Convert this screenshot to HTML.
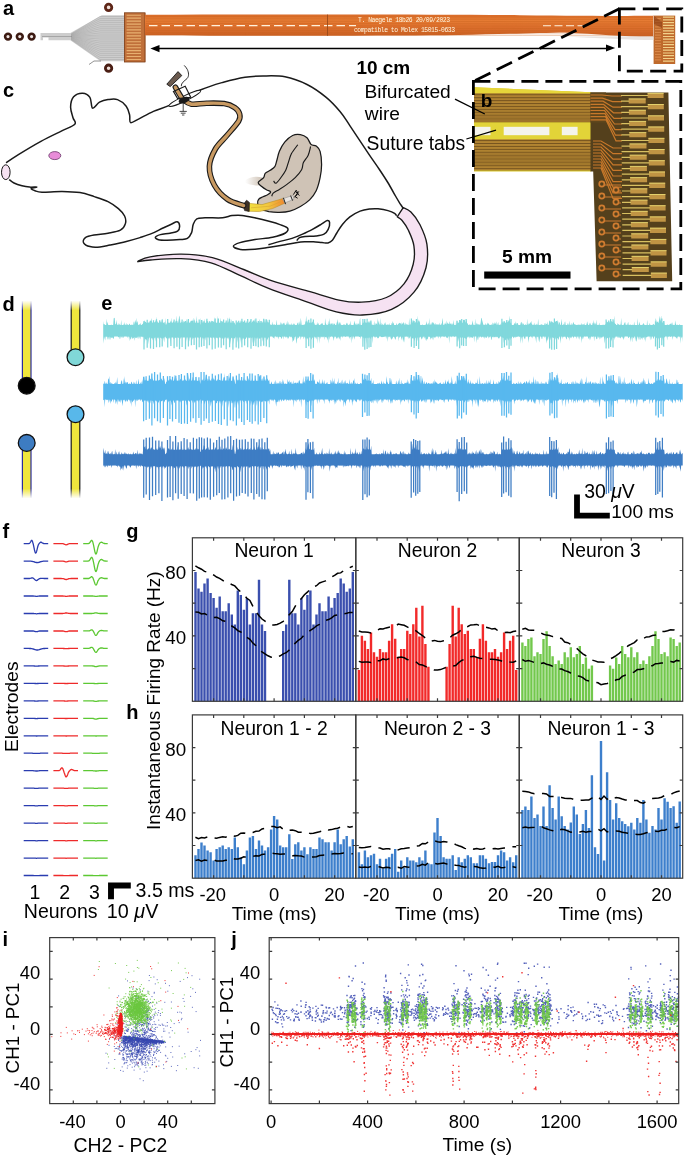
<!DOCTYPE html>
<html><head><meta charset="utf-8"><title>Figure</title>
<style>html,body{margin:0;padding:0;background:#fff;width:685px;height:1157px;overflow:hidden}svg{display:block}</style>
</head><body>
<svg width="685" height="1157" viewBox="0 0 685 1157" font-family='"Liberation Sans", Arial, Helvetica, sans-serif'>
<path d="M194.3 572h2.4V701.3h-2.4ZM197.3 588.5h2.4V701.3h-2.4ZM200.3 591.8h2.4V701.3h-2.4ZM203.3 583.4h2.4V701.3h-2.4ZM206.4 578.5h2.4V701.3h-2.4ZM209.4 592.9h2.4V701.3h-2.4ZM212.4 598h2.4V701.3h-2.4ZM215.4 607.8h2.4V701.3h-2.4ZM218.5 596.5h2.4V701.3h-2.4ZM221.5 611.2h2.4V701.3h-2.4ZM224.5 611.2h2.4V701.3h-2.4ZM227.5 603.2h2.4V701.3h-2.4ZM230.6 614.6h2.4V701.3h-2.4ZM233.6 624.6h2.4V701.3h-2.4ZM236.6 590.4h2.4V701.3h-2.4ZM239.6 594.9h2.4V701.3h-2.4ZM242.7 609.7h2.4V701.3h-2.4ZM245.7 598.3h2.4V701.3h-2.4ZM248.7 624.6h2.4V701.3h-2.4ZM251.7 613.2h2.4V701.3h-2.4ZM254.8 613.2h2.4V701.3h-2.4ZM257.8 579.8h2.4V701.3h-2.4ZM260.8 624.6h2.4V701.3h-2.4ZM263.8 631h2.4V701.3h-2.4ZM282 631h2.4V701.3h-2.4ZM285 624.6h2.4V701.3h-2.4ZM288.1 579.8h2.4V701.3h-2.4ZM291.1 613.2h2.4V701.3h-2.4ZM294.1 613.2h2.4V701.3h-2.4ZM297.1 624.6h2.4V701.3h-2.4ZM300.2 598.3h2.4V701.3h-2.4ZM303.2 609.7h2.4V701.3h-2.4ZM306.2 594.9h2.4V701.3h-2.4ZM309.2 590.4h2.4V701.3h-2.4ZM312.3 624.6h2.4V701.3h-2.4ZM315.3 614.6h2.4V701.3h-2.4ZM318.3 603.2h2.4V701.3h-2.4ZM321.3 611.2h2.4V701.3h-2.4ZM324.4 611.2h2.4V701.3h-2.4ZM327.4 596.5h2.4V701.3h-2.4ZM330.4 607.8h2.4V701.3h-2.4ZM333.4 598h2.4V701.3h-2.4ZM336.5 592.9h2.4V701.3h-2.4ZM339.5 578.5h2.4V701.3h-2.4ZM342.5 583.4h2.4V701.3h-2.4ZM345.5 591.8h2.4V701.3h-2.4ZM348.6 588.5h2.4V701.3h-2.4ZM351.6 572h2.4V701.3h-2.4Z" fill="#3a4fae"/>
<path d="M195.4 565.8 198.5 567.8 201.5 569.2 204.5 571.4 207.5 571.9 210.6 573.5 213.6 575 216.6 577 219.6 578.4 222.7 580.3 225.7 582.4 228.7 582.9 231.7 584.5 234.8 585.9 237.8 589.2 240.8 591.9 243.8 594.5 246.9 598.3 249.9 600.4 252.9 606.3 255.9 611.4 259 615.7 262 619 265 621.2 268 623.4 271.1 624.8 274.1 625 277.1 624.5 280.2 623.2 283.2 621.4 286.2 619.3 289.2 614.7 292.3 611.5 295.3 606.1 298.3 601.3 301.3 598.7 304.4 594.7 307.4 592.2 310.4 588.7 313.4 586.8 316.5 585.7 319.5 583 322.5 581.9 325.5 580.9 328.6 578.7 331.6 577 334.6 575.4 337.6 573.3 340.7 572.9 343.7 570.6 346.7 568.7 349.7 567.6 352.8 566.2" fill="none" stroke="#000" stroke-width="1.5" stroke-dasharray="12.5 7.5"/>
<path d="M195.4 612 198.5 612.3 201.5 614 204.5 613.5 207.5 615.2 210.6 615.7 213.6 617.5 216.6 617.2 219.6 618.6 222.7 620.8 225.7 621.3 228.7 624.4 231.7 626 234.8 627.9 237.8 630.6 240.8 632 243.8 633.3 246.9 637.4 249.9 639.4 252.9 643.1 255.9 645.7 259 649.8 262 651.9 265 653.8 268 655.8 271.1 657.3 274.1 656.5 277.1 657.3 280.2 655.8 283.2 653.9 286.2 652.7 289.2 650 292.3 646 295.3 643.1 298.3 640.3 301.3 638.3 304.4 634.7 307.4 632.5 310.4 630.3 313.4 628.5 316.5 625.9 319.5 624.4 322.5 622.2 325.5 620.4 328.6 619.6 331.6 617.9 334.6 615.5 337.6 615 340.7 615 343.7 613.9 346.7 613.2 349.7 612.4 352.8 612.5" fill="none" stroke="#000" stroke-width="1.5" stroke-dasharray="12.5 7.5"/>
<rect x="192.4" y="537.8" width="163.4" height="163.5" fill="none" stroke="#3a3a3a" stroke-width="1.2"/><path d="M192.4 668.6h3M355.8 668.6h-3M192.4 635.9h3M355.8 635.9h-3M192.4 603.2h3M355.8 603.2h-3M192.4 570.5h3M355.8 570.5h-3M213.6 537.8v3M213.6 701.3v-3M243.8 537.8v3M243.8 701.3v-3M274.1 537.8v3M274.1 701.3v-3M304.4 537.8v3M304.4 701.3v-3M334.6 537.8v3M334.6 701.3v-3" stroke="#3a3a3a" stroke-width="1.2" fill="none"/>
<text x="274.1" y="557.4" font-size="19.3" text-anchor="middle" fill="#000" >Neuron 1</text>
<path d="M357.7 669.9h2.4V701.3h-2.4ZM360.7 635.7h2.4V701.3h-2.4ZM363.7 640.8h2.4V701.3h-2.4ZM366.7 649.1h2.4V701.3h-2.4ZM369.8 632.6h2.4V701.3h-2.4ZM372.8 652.2h2.4V701.3h-2.4ZM375.8 656.8h2.4V701.3h-2.4ZM378.8 649.1h2.4V701.3h-2.4ZM381.9 652.2h2.4V701.3h-2.4ZM384.9 652.2h2.4V701.3h-2.4ZM387.9 640.8h2.4V701.3h-2.4ZM390.9 624.3h2.4V701.3h-2.4ZM394 638.8h2.4V701.3h-2.4ZM397 656.8h2.4V701.3h-2.4ZM400 649.1h2.4V701.3h-2.4ZM403 649.1h2.4V701.3h-2.4ZM406.1 630.8h2.4V701.3h-2.4ZM409.1 633.9h2.4V701.3h-2.4ZM412.1 624.3h2.4V701.3h-2.4ZM415.1 607.8h2.4V701.3h-2.4ZM418.2 636.4h2.4V701.3h-2.4ZM421.2 605.8h2.4V701.3h-2.4ZM424.2 643.9h2.4V701.3h-2.4ZM427.2 666.8h2.4V701.3h-2.4ZM445.4 666.8h2.4V701.3h-2.4ZM448.4 643.9h2.4V701.3h-2.4ZM451.5 605.8h2.4V701.3h-2.4ZM454.5 636.4h2.4V701.3h-2.4ZM457.5 607.8h2.4V701.3h-2.4ZM460.5 624.3h2.4V701.3h-2.4ZM463.6 633.9h2.4V701.3h-2.4ZM466.6 630.8h2.4V701.3h-2.4ZM469.6 649.1h2.4V701.3h-2.4ZM472.6 649.1h2.4V701.3h-2.4ZM475.7 656.8h2.4V701.3h-2.4ZM478.7 638.8h2.4V701.3h-2.4ZM481.7 624.3h2.4V701.3h-2.4ZM484.7 640.8h2.4V701.3h-2.4ZM487.8 652.2h2.4V701.3h-2.4ZM490.8 652.2h2.4V701.3h-2.4ZM493.8 649.1h2.4V701.3h-2.4ZM496.8 656.8h2.4V701.3h-2.4ZM499.9 652.2h2.4V701.3h-2.4ZM502.9 632.6h2.4V701.3h-2.4ZM505.9 649.1h2.4V701.3h-2.4ZM508.9 640.8h2.4V701.3h-2.4ZM512 635.7h2.4V701.3h-2.4ZM515 669.9h2.4V701.3h-2.4Z" fill="#f22a2a"/>
<path d="M358.8 631.1 361.9 631.9 364.9 632 367.9 632.3 370.9 632.9 374 631.6 377 630.4 380 628.8 383 629 386.1 627.9 389.1 627.2 392.1 626.9 395.1 626.4 398.2 624.1 401.2 624.7 404.2 625.3 407.2 626.9 410.3 628.5 413.3 628.9 416.3 631.1 419.3 633.5 422.4 635.5 425.4 638.1 428.4 640.3 431.4 641.1 434.5 640.4 437.5 641.2 440.5 641.6 443.6 640.7 446.6 640.2 449.6 638 452.6 635.2 455.7 633.8 458.7 632.1 461.7 629.5 464.7 627.6 467.8 626.5 470.8 624.9 473.8 624.7 476.8 624.4 479.9 625.7 482.9 627.2 485.9 627.2 488.9 627.9 492 629.1 495 628.6 498 630.8 501 631.5 504.1 632.6 507.1 632.2 510.1 632.7 513.1 631.5 516.2 630.9" fill="none" stroke="#000" stroke-width="1.5" stroke-dasharray="12.5 7.5"/>
<path d="M358.8 661.4 361.9 662.3 364.9 661.9 367.9 662 370.9 662.5 374 660 377 660.7 380 660.7 383 658.9 386.1 659.7 389.1 658.7 392.1 658.1 395.1 658.3 398.2 657.6 401.2 657.1 404.2 657.8 407.2 659.5 410.3 660.2 413.3 660.6 416.3 662.1 419.3 664.5 422.4 665 425.4 666.4 428.4 667.9 431.4 668.6 434.5 670.1 437.5 669.9 440.5 669.6 443.6 668.4 446.6 667.3 449.6 667 452.6 666.1 455.7 665.5 458.7 662.6 461.7 660.4 464.7 659.4 467.8 659 470.8 656.8 473.8 656.2 476.8 657.4 479.9 658.2 482.9 658.7 485.9 658.8 488.9 659.2 492 659.3 495 659.6 498 660 501 660.8 504.1 662 507.1 661.7 510.1 662.1 513.1 662.2 516.2 661" fill="none" stroke="#000" stroke-width="1.5" stroke-dasharray="12.5 7.5"/>
<rect x="355.8" y="537.8" width="163.4" height="163.5" fill="none" stroke="#3a3a3a" stroke-width="1.2"/><path d="M355.8 668.6h3M519.2 668.6h-3M355.8 635.9h3M519.2 635.9h-3M355.8 603.2h3M519.2 603.2h-3M355.8 570.5h3M519.2 570.5h-3M377 537.8v3M377 701.3v-3M407.2 537.8v3M407.2 701.3v-3M437.5 537.8v3M437.5 701.3v-3M467.8 537.8v3M467.8 701.3v-3M498 537.8v3M498 701.3v-3" stroke="#3a3a3a" stroke-width="1.2" fill="none"/>
<text x="437.5" y="557.4" font-size="19.3" text-anchor="middle" fill="#000" >Neuron 2</text>
<path d="M521.2 642.4h2.4V701.3h-2.4ZM524.2 645.9h2.4V701.3h-2.4ZM527.2 639h2.4V701.3h-2.4ZM530.2 637.4h2.4V701.3h-2.4ZM533.3 656.2h2.4V701.3h-2.4ZM536.3 652.2h2.4V701.3h-2.4ZM539.3 653.9h2.4V701.3h-2.4ZM542.3 639h2.4V701.3h-2.4ZM545.4 631.2h2.4V701.3h-2.4ZM548.4 645.9h2.4V701.3h-2.4ZM551.4 656.2h2.4V701.3h-2.4ZM554.4 663.9h2.4V701.3h-2.4ZM557.5 660.6h2.4V701.3h-2.4ZM560.5 663.9h2.4V701.3h-2.4ZM563.5 652.2h2.4V701.3h-2.4ZM566.5 657.2h2.4V701.3h-2.4ZM569.6 647.3h2.4V701.3h-2.4ZM572.6 657.2h2.4V701.3h-2.4ZM575.6 653.9h2.4V701.3h-2.4ZM578.6 645.9h2.4V701.3h-2.4ZM581.7 663.9h2.4V701.3h-2.4ZM584.7 657.6h2.4V701.3h-2.4ZM587.7 668.8h2.4V701.3h-2.4ZM590.7 665.5h2.4V701.3h-2.4ZM608.9 665.5h2.4V701.3h-2.4ZM611.9 668.8h2.4V701.3h-2.4ZM615 657.6h2.4V701.3h-2.4ZM618 663.9h2.4V701.3h-2.4ZM621 645.9h2.4V701.3h-2.4ZM624 653.9h2.4V701.3h-2.4ZM627.1 657.2h2.4V701.3h-2.4ZM630.1 647.3h2.4V701.3h-2.4ZM633.1 657.2h2.4V701.3h-2.4ZM636.1 652.2h2.4V701.3h-2.4ZM639.2 663.9h2.4V701.3h-2.4ZM642.2 660.6h2.4V701.3h-2.4ZM645.2 663.9h2.4V701.3h-2.4ZM648.2 656.2h2.4V701.3h-2.4ZM651.3 645.9h2.4V701.3h-2.4ZM654.3 631.2h2.4V701.3h-2.4ZM657.3 639h2.4V701.3h-2.4ZM660.3 653.9h2.4V701.3h-2.4ZM663.4 652.2h2.4V701.3h-2.4ZM666.4 656.2h2.4V701.3h-2.4ZM669.4 637.4h2.4V701.3h-2.4ZM672.4 639h2.4V701.3h-2.4ZM675.5 645.9h2.4V701.3h-2.4ZM678.5 642.4h2.4V701.3h-2.4Z" fill="#72c84c"/>
<path d="M522.3 629.3 525.4 628.4 528.4 630 531.4 630.2 534.4 630.3 537.5 631.7 540.5 632.7 543.5 634.2 546.5 635.1 549.6 635.6 552.6 636.6 555.6 636.2 558.6 638.2 561.7 638.5 564.7 642 567.7 642.7 570.7 644.4 573.8 646.8 576.8 648.4 579.8 651.2 582.8 653.9 585.9 655.7 588.9 656.7 591.9 660 594.9 660.9 598 661.9 601 662 604 662.3 607.1 661.2 610.1 659 613.1 657.5 616.1 655.6 619.2 653.3 622.2 650.6 625.2 648.6 628.2 645.7 631.3 644.2 634.3 642.6 637.3 639.9 640.3 640.5 643.4 638.4 646.4 636.9 649.4 636.7 652.4 635.6 655.5 635.1 658.5 634.4 661.5 631.6 664.5 631.4 667.6 630.8 670.6 629.7 673.6 630 676.6 628.9 679.7 628.9" fill="none" stroke="#000" stroke-width="1.5" stroke-dasharray="12.5 7.5"/>
<path d="M522.3 659.5 525.4 661.3 528.4 660.6 531.4 661.4 534.4 662.5 537.5 661.9 540.5 663.5 543.5 662.9 546.5 664.3 549.6 665 552.6 666.2 555.6 666.6 558.6 669 561.7 669.1 564.7 670.6 567.7 671.5 570.7 673 573.8 673.9 576.8 676 579.8 676.3 582.8 677.6 585.9 680.1 588.9 681 591.9 681.8 594.9 682.4 598 682.8 601 684.7 604 684.1 607.1 683.5 610.1 682.5 613.1 681.8 616.1 679.8 619.2 679.3 622.2 676.4 625.2 675.2 628.2 674.7 631.3 673.4 634.3 671.9 637.3 669.6 640.3 669.6 643.4 668.8 646.4 667.1 649.4 666 652.4 665.7 655.5 663.7 658.5 663.6 661.5 662.9 664.5 662.9 667.6 661.9 670.6 661.5 673.6 662.1 676.6 660.4 679.7 661.1" fill="none" stroke="#000" stroke-width="1.5" stroke-dasharray="12.5 7.5"/>
<rect x="519.3" y="537.8" width="163.4" height="163.5" fill="none" stroke="#3a3a3a" stroke-width="1.2"/><path d="M519.3 668.6h3M682.7 668.6h-3M519.3 635.9h3M682.7 635.9h-3M519.3 603.2h3M682.7 603.2h-3M519.3 570.5h3M682.7 570.5h-3M540.5 537.8v3M540.5 701.3v-3M570.7 537.8v3M570.7 701.3v-3M601 537.8v3M601 701.3v-3M631.3 537.8v3M631.3 701.3v-3M661.5 537.8v3M661.5 701.3v-3" stroke="#3a3a3a" stroke-width="1.2" fill="none"/>
<text x="601" y="557.4" font-size="19.3" text-anchor="middle" fill="#000" >Neuron 3</text>
<path d="M194.3 855.3h2.4V878.2h-2.4ZM197.3 849h2.4V878.2h-2.4ZM200.3 842.4h2.4V878.2h-2.4ZM203.3 845.5h2.4V878.2h-2.4ZM206.4 850.4h2.4V878.2h-2.4ZM209.4 852.2h2.4V878.2h-2.4ZM212.4 860.4h2.4V878.2h-2.4ZM215.4 849h2.4V878.2h-2.4ZM218.5 847.3h2.4V878.2h-2.4ZM221.5 845.5h2.4V878.2h-2.4ZM224.5 849h2.4V878.2h-2.4ZM227.5 847.3h2.4V878.2h-2.4ZM230.6 849h2.4V878.2h-2.4ZM233.6 837.4h2.4V878.2h-2.4ZM236.6 847.3h2.4V878.2h-2.4ZM239.6 857.3h2.4V878.2h-2.4ZM242.7 864.2h2.4V878.2h-2.4ZM245.7 850.4h2.4V878.2h-2.4ZM248.7 837.4h2.4V878.2h-2.4ZM251.7 836.1h2.4V878.2h-2.4ZM254.8 849h2.4V878.2h-2.4ZM257.8 840.5h2.4V878.2h-2.4ZM260.8 845.5h2.4V878.2h-2.4ZM263.8 850.4h2.4V878.2h-2.4ZM266.9 847.3h2.4V878.2h-2.4ZM269.9 829.4h2.4V878.2h-2.4ZM272.9 816h2.4V878.2h-2.4ZM276 819.4h2.4V878.2h-2.4ZM279 845.5h2.4V878.2h-2.4ZM282 847.3h2.4V878.2h-2.4ZM285 847.3h2.4V878.2h-2.4ZM288.1 834.3h2.4V878.2h-2.4ZM291.1 859.1h2.4V878.2h-2.4ZM294.1 844.2h2.4V878.2h-2.4ZM297.1 842.3h2.4V878.2h-2.4ZM300.2 850.4h2.4V878.2h-2.4ZM303.2 847.3h2.4V878.2h-2.4ZM306.2 854.2h2.4V878.2h-2.4ZM309.2 847.3h2.4V878.2h-2.4ZM312.3 849.1h2.4V878.2h-2.4ZM315.3 849.1h2.4V878.2h-2.4ZM318.3 837.4h2.4V878.2h-2.4ZM321.3 839.3h2.4V878.2h-2.4ZM324.4 842.3h2.4V878.2h-2.4ZM327.4 842.3h2.4V878.2h-2.4ZM330.4 850.4h2.4V878.2h-2.4ZM333.4 842.3h2.4V878.2h-2.4ZM336.5 829.4h2.4V878.2h-2.4ZM339.5 844.2h2.4V878.2h-2.4ZM342.5 839.3h2.4V878.2h-2.4ZM345.5 836.1h2.4V878.2h-2.4ZM348.6 846.4h2.4V878.2h-2.4ZM351.6 839.3h2.4V878.2h-2.4Z" fill="#3d7fcc"/>
<path d="M195.4 837.2 198.5 838.6 201.5 837.6 204.5 837.9 207.5 837 210.6 836.8 213.6 837.9 216.6 838.3 219.6 837.4 222.7 836.8 225.7 837.2 228.7 835.6 231.7 835.1 234.8 836.3 237.8 835.4 240.8 833.2 243.8 832.9 246.9 833.6 249.9 832.8 252.9 832.4 255.9 831.2 259 831.1 262 828.9 265 828.5 268 827 271.1 826.6 274.1 826.6 277.1 827.7 280.2 826.8 283.2 829.2 286.2 828.8 289.2 830.4 292.3 830 295.3 830.7 298.3 832.2 301.3 832.2 304.4 832.6 307.4 832.5 310.4 833.6 313.4 833.2 316.5 832.5 319.5 831.8 322.5 831 325.5 829.1 328.6 830.1 331.6 829.6 334.6 828.8 337.6 828.2 340.7 827.1 343.7 827.4 346.7 826.4 349.7 827.2 352.8 826.5" fill="none" stroke="#000" stroke-width="1.5" stroke-dasharray="12.5 7.5"/>
<path d="M195.4 860.4 198.5 859.7 201.5 861.1 204.5 860.1 207.5 860.6 210.6 860.3 213.6 859.8 216.6 861 219.6 861 222.7 860.9 225.7 860.3 228.7 860.1 231.7 858.2 234.8 859 237.8 859 240.8 858.2 243.8 856.8 246.9 857.3 249.9 857.2 252.9 856.4 255.9 855.7 259 856 262 854.4 265 854 268 853.5 271.1 852.9 274.1 853.5 277.1 853.8 280.2 854.2 283.2 853.9 286.2 854.2 289.2 854.7 292.3 855.8 295.3 855.4 298.3 855.8 301.3 856 304.4 857.1 307.4 857.3 310.4 857.2 313.4 856.9 316.5 856.7 319.5 855.6 322.5 855.2 325.5 855 328.6 853.9 331.6 853.9 334.6 853.5 337.6 853.8 340.7 853.6 343.7 853 346.7 853.4 349.7 853.5 352.8 853.8" fill="none" stroke="#000" stroke-width="1.5" stroke-dasharray="12.5 7.5"/>
<rect x="192.4" y="714.9" width="163.4" height="163.3" fill="none" stroke="#3a3a3a" stroke-width="1.2"/><path d="M192.4 845.5h3M355.8 845.5h-3M192.4 812.9h3M355.8 812.9h-3M192.4 780.2h3M355.8 780.2h-3M192.4 747.6h3M355.8 747.6h-3M213.6 714.9v3M213.6 878.2v-3M243.8 714.9v3M243.8 878.2v-3M274.1 714.9v3M274.1 878.2v-3M304.4 714.9v3M304.4 878.2v-3M334.6 714.9v3M334.6 878.2v-3" stroke="#3a3a3a" stroke-width="1.2" fill="none"/>
<text x="274.1" y="734.5" font-size="19.3" text-anchor="middle" fill="#000" >Neuron 1 - 2</text>
<path d="M357.7 852.2h2.4V878.2h-2.4ZM360.7 864.2h2.4V878.2h-2.4ZM363.7 850.4h2.4V878.2h-2.4ZM366.7 857.3h2.4V878.2h-2.4ZM369.8 855.3h2.4V878.2h-2.4ZM372.8 853.7h2.4V878.2h-2.4ZM375.8 864.2h2.4V878.2h-2.4ZM378.8 858.8h2.4V878.2h-2.4ZM381.9 868.4h2.4V878.2h-2.4ZM384.9 858.8h2.4V878.2h-2.4ZM387.9 857.3h2.4V878.2h-2.4ZM390.9 853.7h2.4V878.2h-2.4ZM394 849h2.4V878.2h-2.4ZM397 871.8h2.4V878.2h-2.4ZM400 860.4h2.4V878.2h-2.4ZM403 867.7h2.4V878.2h-2.4ZM406.1 857.3h2.4V878.2h-2.4ZM409.1 860.4h2.4V878.2h-2.4ZM412.1 860.4h2.4V878.2h-2.4ZM415.1 862.2h2.4V878.2h-2.4ZM418.2 857.3h2.4V878.2h-2.4ZM421.2 860.4h2.4V878.2h-2.4ZM424.2 850.4h2.4V878.2h-2.4ZM427.2 863.5h2.4V878.2h-2.4ZM430.3 864.2h2.4V878.2h-2.4ZM433.3 832.6h2.4V878.2h-2.4ZM436.3 818.1h2.4V878.2h-2.4ZM439.4 836.1h2.4V878.2h-2.4ZM442.4 857.3h2.4V878.2h-2.4ZM445.4 858.8h2.4V878.2h-2.4ZM448.4 858.8h2.4V878.2h-2.4ZM451.5 855.3h2.4V878.2h-2.4ZM454.5 870h2.4V878.2h-2.4ZM457.5 857.3h2.4V878.2h-2.4ZM460.5 862.2h2.4V878.2h-2.4ZM463.6 858.8h2.4V878.2h-2.4ZM466.6 855.3h2.4V878.2h-2.4ZM469.6 857.3h2.4V878.2h-2.4ZM472.6 863.3h2.4V878.2h-2.4ZM475.7 863.3h2.4V878.2h-2.4ZM478.7 855.3h2.4V878.2h-2.4ZM481.7 855.3h2.4V878.2h-2.4ZM484.7 858.8h2.4V878.2h-2.4ZM487.8 863.3h2.4V878.2h-2.4ZM490.8 861.9h2.4V878.2h-2.4ZM493.8 861.9h2.4V878.2h-2.4ZM496.8 855.3h2.4V878.2h-2.4ZM499.9 850.4h2.4V878.2h-2.4ZM502.9 852.2h2.4V878.2h-2.4ZM505.9 860.4h2.4V878.2h-2.4ZM508.9 857.3h2.4V878.2h-2.4ZM512 862.2h2.4V878.2h-2.4ZM515 855.3h2.4V878.2h-2.4Z" fill="#3d7fcc"/>
<path d="M358.8 847.4 361.9 847.8 364.9 847.6 367.9 846.9 370.9 846.6 374 848 377 847.7 380 848.1 383 849.3 386.1 848.8 389.1 848.8 392.1 849.7 395.1 851 398.2 849.9 401.2 848.8 404.2 848.4 407.2 847.9 410.3 847.6 413.3 846.1 416.3 846 419.3 845.7 422.4 843.5 425.4 843.8 428.4 841.9 431.4 840.5 434.5 840.9 437.5 841.7 440.5 842.2 443.6 841.6 446.6 842 449.6 842.3 452.6 842.6 455.7 844.6 458.7 845.8 461.7 846.8 464.7 848.4 467.8 848.9 470.8 847.7 473.8 849.1 476.8 848.6 479.9 849.2 482.9 848.9 485.9 847.9 488.9 848.2 492 848.9 495 848.6 498 848.9 501 848.4 504.1 848 507.1 847.7 510.1 847 513.1 846.8 516.2 846.8" fill="none" stroke="#000" stroke-width="1.5" stroke-dasharray="12.5 7.5"/>
<path d="M358.8 867 361.9 867.6 364.9 867 367.9 867.4 370.9 866.5 374 866.7 377 866.6 380 867.1 383 867.9 386.1 867.2 389.1 867.6 392.1 869.1 395.1 868.2 398.2 867.4 401.2 868.3 404.2 866.5 407.2 867.1 410.3 867.3 413.3 866 416.3 866.1 419.3 865.7 422.4 864.2 425.4 865.1 428.4 862.6 431.4 862.4 434.5 863.4 437.5 863.9 440.5 863.4 443.6 863.1 446.6 863.9 449.6 863.1 452.6 864.7 455.7 865.3 458.7 865.4 461.7 866.6 464.7 867.2 467.8 866.5 470.8 867 473.8 866.4 476.8 866.7 479.9 867.7 482.9 868.3 485.9 868 488.9 866.8 492 866.9 495 867.3 498 866.4 501 867.8 504.1 867.5 507.1 866.9 510.1 865.9 513.1 866.7 516.2 867.4" fill="none" stroke="#000" stroke-width="1.5" stroke-dasharray="12.5 7.5"/>
<rect x="355.8" y="714.9" width="163.4" height="163.3" fill="none" stroke="#3a3a3a" stroke-width="1.2"/><path d="M355.8 845.5h3M519.2 845.5h-3M355.8 812.9h3M519.2 812.9h-3M355.8 780.2h3M519.2 780.2h-3M355.8 747.6h3M519.2 747.6h-3M377 714.9v3M377 878.2v-3M407.2 714.9v3M407.2 878.2v-3M437.5 714.9v3M437.5 878.2v-3M467.8 714.9v3M467.8 878.2v-3M498 714.9v3M498 878.2v-3" stroke="#3a3a3a" stroke-width="1.2" fill="none"/>
<text x="437.5" y="734.5" font-size="19.3" text-anchor="middle" fill="#000" >Neuron 2 - 3</text>
<path d="M521.2 809.9h2.4V878.2h-2.4ZM524.2 806.5h2.4V878.2h-2.4ZM527.2 809.9h2.4V878.2h-2.4ZM530.2 796.5h2.4V878.2h-2.4ZM533.3 818.1h2.4V878.2h-2.4ZM536.3 814.5h2.4V878.2h-2.4ZM539.3 826.1h2.4V878.2h-2.4ZM542.3 806.5h2.4V878.2h-2.4ZM545.4 826.1h2.4V878.2h-2.4ZM548.4 785.3h2.4V878.2h-2.4ZM551.4 808h2.4V878.2h-2.4ZM554.4 819.4h2.4V878.2h-2.4ZM557.5 796.5h2.4V878.2h-2.4ZM560.5 816.3h2.4V878.2h-2.4ZM563.5 826.1h2.4V878.2h-2.4ZM566.5 829.4h2.4V878.2h-2.4ZM569.6 822.5h2.4V878.2h-2.4ZM572.6 806.5h2.4V878.2h-2.4ZM575.6 814.5h2.4V878.2h-2.4ZM578.6 834.1h2.4V878.2h-2.4ZM581.7 824.1h2.4V878.2h-2.4ZM584.7 809.9h2.4V878.2h-2.4ZM587.7 827.9h2.4V878.2h-2.4ZM590.7 775.3h2.4V878.2h-2.4ZM593.8 847.3h2.4V878.2h-2.4ZM596.8 853.9h2.4V878.2h-2.4ZM599.8 741h2.4V878.2h-2.4ZM602.9 860.4h2.4V878.2h-2.4ZM605.9 772.2h2.4V878.2h-2.4ZM608.9 800.1h2.4V878.2h-2.4ZM611.9 819.4h2.4V878.2h-2.4ZM615 803.2h2.4V878.2h-2.4ZM618 818.1h2.4V878.2h-2.4ZM621 821.2h2.4V878.2h-2.4ZM624 824.1h2.4V878.2h-2.4ZM627.1 826.3h2.4V878.2h-2.4ZM630.1 822.7h2.4V878.2h-2.4ZM633.1 829.4h2.4V878.2h-2.4ZM636.1 818.1h2.4V878.2h-2.4ZM639.2 822.7h2.4V878.2h-2.4ZM642.2 800.1h2.4V878.2h-2.4ZM645.2 819.4h2.4V878.2h-2.4ZM648.2 832.8h2.4V878.2h-2.4ZM651.3 825.9h2.4V878.2h-2.4ZM654.3 829.4h2.4V878.2h-2.4ZM657.3 808h2.4V878.2h-2.4ZM660.3 819.4h2.4V878.2h-2.4ZM663.4 798.3h2.4V878.2h-2.4ZM666.4 801.8h2.4V878.2h-2.4ZM669.4 808h2.4V878.2h-2.4ZM672.4 806.2h2.4V878.2h-2.4ZM675.5 822.7h2.4V878.2h-2.4ZM678.5 801.4h2.4V878.2h-2.4Z" fill="#3d7fcc"/>
<path d="M522.3 791.2 525.4 791.5 528.4 791.9 531.4 793 534.4 793.7 537.5 793.6 540.5 793.7 543.5 793.4 546.5 794 549.6 796.4 552.6 796.6 555.6 796.6 558.6 797.3 561.7 797.6 564.7 798.2 567.7 798.6 570.7 798.4 573.8 799.4 576.8 800.2 579.8 800.4 582.8 800.2 585.9 800 588.9 800 591.9 798.1 594.9 796.1 598 797.2 601 799.4 604 796.1 607.1 799.3 610.1 797.3 613.1 798.7 616.1 797.6 619.2 798 622.2 799 625.2 799.9 628.2 799.9 631.3 801.1 634.3 800.6 637.3 800.6 640.3 802.6 643.4 803.2 646.4 801.2 649.4 799.5 652.4 798.6 655.5 798.2 658.5 797.9 661.5 797.2 664.5 795.6 667.6 794.6 670.6 794.4 673.6 792.9 676.6 791.8 679.7 791" fill="none" stroke="#000" stroke-width="1.5" stroke-dasharray="12.5 7.5"/>
<path d="M522.3 827.7 525.4 827 528.4 827.8 531.4 827.5 534.4 827.3 537.5 826.6 540.5 826 543.5 827.7 546.5 828.7 549.6 829.9 552.6 830.8 555.6 829 558.6 830.3 561.7 829.3 564.7 829.8 567.7 830.9 570.7 832.3 573.8 831.5 576.8 832.1 579.8 831.9 582.8 831.3 585.9 832.3 588.9 831.6 591.9 831.4 594.9 829.5 598 829.1 601 830.8 604 828.7 607.1 831.9 610.1 831 613.1 831.3 616.1 831 619.2 831.2 622.2 832.3 625.2 832.7 628.2 833.2 631.3 833.5 634.3 834.2 637.3 834.4 640.3 834.5 643.4 833.8 646.4 832.8 649.4 831.9 652.4 831.8 655.5 831.2 658.5 831.5 661.5 830.2 664.5 830.3 667.6 829.1 670.6 828.7 673.6 827.6 676.6 827.7 679.7 826.6" fill="none" stroke="#000" stroke-width="1.5" stroke-dasharray="12.5 7.5"/>
<rect x="519.3" y="714.9" width="163.4" height="163.3" fill="none" stroke="#3a3a3a" stroke-width="1.2"/><path d="M519.3 845.5h3M682.7 845.5h-3M519.3 812.9h3M682.7 812.9h-3M519.3 780.2h3M682.7 780.2h-3M519.3 747.6h3M682.7 747.6h-3M540.5 714.9v3M540.5 878.2v-3M570.7 714.9v3M570.7 878.2v-3M601 714.9v3M601 878.2v-3M631.3 714.9v3M631.3 878.2v-3M661.5 714.9v3M661.5 878.2v-3" stroke="#3a3a3a" stroke-width="1.2" fill="none"/>
<text x="601" y="734.5" font-size="19.3" text-anchor="middle" fill="#000" >Neuron 1 - 3</text>
<text x="186.2" y="643.9" font-size="18.8" text-anchor="end" fill="#000" >40</text>
<text x="186.2" y="578.5" font-size="18.8" text-anchor="end" fill="#000" >80</text>
<text x="186.2" y="820.9" font-size="18.8" text-anchor="end" fill="#000" >40</text>
<text x="186.2" y="755.6" font-size="18.8" text-anchor="end" fill="#000" >80</text>
<text x="212.8" y="900.8" font-size="18.4" text-anchor="middle" fill="#000" >-20</text>
<text x="274.1" y="900.8" font-size="18.4" text-anchor="middle" fill="#000" >0</text>
<text x="334.6" y="900.8" font-size="18.4" text-anchor="middle" fill="#000" >20</text>
<text x="274.1" y="919.9" font-size="19.0" text-anchor="middle" fill="#000" >Time (ms)</text>
<text x="376.2" y="900.8" font-size="18.4" text-anchor="middle" fill="#000" >-20</text>
<text x="437.5" y="900.8" font-size="18.4" text-anchor="middle" fill="#000" >0</text>
<text x="498" y="900.8" font-size="18.4" text-anchor="middle" fill="#000" >20</text>
<text x="437.5" y="919.9" font-size="19.0" text-anchor="middle" fill="#000" >Time (ms)</text>
<text x="539.7" y="900.8" font-size="18.4" text-anchor="middle" fill="#000" >-20</text>
<text x="601" y="900.8" font-size="18.4" text-anchor="middle" fill="#000" >0</text>
<text x="661.5" y="900.8" font-size="18.4" text-anchor="middle" fill="#000" >20</text>
<text x="601" y="919.9" font-size="19.0" text-anchor="middle" fill="#000" >Time (ms)</text>
<text x="159.6" y="700.7" font-size="19" text-anchor="middle" transform="rotate(-90 159.6 700.7)" >Instantaneous Firing Rate (Hz)</text>
<path d="M156.2 1049.2h1M133.3 1041.4h1M138.5 1035h1M142.5 1064.5h1M129.8 1036.5h1M138.2 1041.1h1M138.2 1049.9h1M119.6 1032.3h1M149 1044.9h1M144.6 1033.5h1M131.6 1053h1M136.4 1055.9h1M143.6 1034.2h1M135.4 1024.4h1M135.6 1040.3h1M122.8 1037.6h1M144.1 1051.8h1M139.5 1060.6h1M141.1 1049.2h1M122 1031.3h1M155.7 1066.2h1M139.8 1052h1M134.1 1066.7h1M159.7 1045.8h1M137.7 1037.8h1M122.8 1059.8h1M133.9 1051.1h1M113.9 1033.1h1M149.3 1047.8h1M133.8 1059.7h1M130.3 1060.5h1M149.6 1067.8h1M120.7 1038.9h1M143.9 1054.6h1M116.3 1036h1M131.2 1037.9h1M125.4 1053.7h1M153.7 1052.4h1M157 1038.8h1M134.7 1045.3h1M147.1 1044.1h1M136.3 1064h1M144.2 1037.6h1M130.2 1056h1M120.1 1070.4h1M119.1 1053.3h1M142.3 1042.5h1M162.1 1025.1h1M141.1 1050.8h1M132.6 1060.7h1M158.5 1024.9h1M140.7 1045.2h1M139.3 1049.6h1M140.9 1058h1M136.8 1057.3h1M134.9 1031.5h1M123 1049.7h1M143.5 1052.5h1M137.2 1052.2h1M150.9 1030.6h1M134.3 1053h1M118 1040.4h1M137.1 1044.1h1M156.2 1044.4h1M134.1 1056h1M128.7 1040.1h1M125.5 1030.2h1M127 1047.4h1M135 1056.4h1M125.7 1060.3h1M154.1 1044.9h1M135.2 1049.7h1M139.4 1048h1M153.5 1046.8h1M154.2 1062.2h1M135.9 1038.8h1M141.7 1044.5h1M146 1047.7h1M136.2 1044.5h1M119.3 1037.3h1M145.2 1046.3h1M147.7 1055.7h1M142.6 1034.8h1M128.4 1051.4h1M136.1 1054.4h1M131.9 1063.1h1M135 1046.8h1M152 1057.8h1M154.4 1052.3h1M145.3 1042.2h1M144 1046.5h1M145.4 1036.3h1M138.1 1043.7h1M137.4 1051.1h1M131 1050.3h1M137.6 1052.1h1M162.2 1040.2h1M147.4 1046.7h1M134.6 1051.1h1M133.2 1038.1h1M129 1045.9h1M142.2 1051.7h1M142.4 1062.6h1M122.9 1042.3h1M143.4 1044.4h1M132.2 1046.4h1M153.4 1051.4h1M139.9 1055.5h1M156.4 1049.2h1M133.3 1044.5h1M135.1 1048.2h1M141.4 1048.4h1M149.4 1051.7h1M144.2 1043.4h1M125.1 1044.5h1M140.1 1054.7h1M138.4 1039h1M133.6 1038.7h1M131.3 1038.4h1M156.8 1048.2h1M134.1 1048.9h1M129.2 1058.9h1M145 1039.1h1M139.6 1069h1M137.4 1050.9h1M146.5 1050.4h1M143.4 1038h1M142 1046.9h1M148.4 1056.9h1M141.2 1061.7h1M131.6 1054.4h1M134.4 1045.8h1M132.7 1046.3h1M140.4 1048.9h1M126.8 1054h1M118.7 1049.1h1M139.1 1036.5h1M124 1058.3h1M117.5 1046.5h1M142.2 1030.1h1M130.6 1041.1h1M143.5 1051.6h1M132.6 1040h1M126.3 1054.7h1M125 1046.8h1M132.7 1030.8h1M135.3 1027.2h1M129.5 1064.6h1M135.2 1039.6h1M121.9 1026.7h1M138.4 1052.5h1M119.2 1044.2h1M136.1 1031.2h1M145.6 1052h1M149.8 1042.2h1M156.4 1047.5h1M121.7 1066.9h1M146.3 1043.3h1M151 1048.8h1M148.6 1037.3h1M128.3 1025.2h1M142.6 1039.8h1M158 1050.7h1M122.3 1042.2h1M143.3 1044.8h1M150 1036.3h1M130.8 1061.8h1M144.4 1059h1M126.8 1068.1h1M129.6 1040.6h1M129.5 1047.1h1M140.2 1053.5h1M137.2 1054.4h1M148.3 1052.8h1M128.2 1056.5h1M136.8 1050.2h1M148.4 1052h1M144.2 1032.5h1M124.1 1043.5h1M145.3 1055.4h1M133.1 1052.9h1M142.3 1034.4h1M141.4 1042.2h1M151.1 1043.8h1M139.4 1039.4h1M118.5 1030.4h1M123.7 1059.5h1M146 1054.6h1M135.5 1064.9h1M150.3 1041.7h1M141.1 1050.8h1M130.2 1053.9h1M149.7 1054.8h1M129.6 1039.7h1M116.4 1048.4h1M160.1 1052.4h1M117.9 1033.9h1M145 1057.7h1M148.2 1060h1M139.8 1020h1M120.3 1050.7h1M149 1052.5h1M122.9 1054.4h1M123.9 1048.3h1M134.4 1038.8h1M146.6 1039.1h1M141.4 1041.2h1M146.8 1049.8h1M133.5 1062.3h1M136.4 1043.9h1M126.1 1031.1h1M134.8 1035.8h1M144.5 1048.6h1M135 1038.6h1M143.2 1050.9h1M132.1 1047.5h1M131.9 1059.7h1M138.6 1050.2h1M136.1 1045.4h1M144.5 1048.6h1M140.1 1038.9h1M156.7 1027.3h1M135.9 1033.2h1M135.8 1050h1M127.2 1054.5h1M138.4 1053.7h1M145.5 1057h1M130.3 1046.5h1M137.7 1042.5h1M145.8 1045h1M136.9 1044.9h1M132.7 1045.2h1M148.5 1048.3h1M139.2 1054.6h1M142.4 1029h1M150.6 1036h1M150.4 1056.3h1M134.5 1056.3h1M132.6 1053h1M141.2 1046.5h1M136.8 1033.8h1M118 1036.4h1M151.7 1035.8h1M138.4 1035.6h1M146 1035.4h1M125.7 1039.2h1M151.9 1042.2h1M132 1048.1h1M137.1 1065h1M123.3 1048.2h1M136.4 1028.2h1M135.8 1052.5h1M136.2 1053.4h1M142.9 1036.3h1M138.8 1046h1M148.6 1051.9h1M133.2 1030.7h1M127.6 1040.4h1M138 1039h1M144.9 1052.7h1M151.4 1041.7h1M146.8 1043h1M119.5 1038.8h1M142.2 1035h1M153.7 1035.2h1M138.9 1045.1h1M132.7 1039.7h1M141.5 1058.8h1M132.9 1040.2h1M145 1039.8h1M138.1 1050.9h1M153 1054.9h1M143.5 1047.5h1M130.5 1059.5h1M144.6 1043.3h1M148.1 1043.8h1M132.2 1056.7h1M133.7 1046.4h1M113.7 1035.8h1M147.8 1035.9h1M132 1036.4h1M115.7 1048.4h1M119.4 1050.4h1M135.8 1050.9h1M146.3 1040.7h1M137.3 1022.5h1M143.2 1032.3h1M126.5 1030.4h1M124 1032.9h1M147.6 1063.6h1M143.4 1049h1M137.9 1051.4h1M151.8 1033.9h1M128.1 1029.4h1M133.7 1053.8h1M149.1 1046.5h1M157.7 1041.1h1M138.3 1052h1M156 1053.4h1M131.8 1053.9h1M141.7 1037.7h1M136.4 1056.3h1M121.3 1035.1h1M140.9 1046h1M148.1 1039.1h1M136.6 1030.9h1M137.5 1053.8h1M153 1055.4h1M124.9 1042.5h1M122.3 1057.6h1M131.3 1054.5h1M125.5 1048.1h1M152.5 1045.3h1M141.5 1059.8h1M129 1050.8h1M131.7 1040.8h1M168.6 1032.9h1M131.7 1067.2h1M130.1 1033.4h1M141.4 1037.8h1M145 1058.1h1M140.6 1062.1h1M128.6 1042.6h1M125.9 1051.2h1M144.5 1045.5h1M137.6 1038h1M120.8 1050.7h1M150.6 1045.2h1M146.4 1042h1M135.6 1037.7h1M135.4 1028.7h1M140.7 1029.3h1M130.9 1044.4h1M123.9 1049.3h1M141.6 1022.4h1M122.9 1040.3h1M142.3 1042.5h1M122.9 1058.3h1M137.1 1038.8h1M136.8 1054.9h1M157.1 1051.6h1M126.9 1060.7h1M123.2 1052.2h1M131.3 1046.2h1M126.3 1062.4h1M131.9 1056.1h1M142.7 1047.7h1M146.4 1059.9h1M155.8 1059.8h1M130.4 1055.5h1M166.2 1061.4h1M159.3 1040.5h1M136 1057.1h1M113.9 1038.9h1M137.3 1037.3h1M139 1059.3h1M113.8 1046.5h1M139 1051.8h1M136.1 1058.6h1M129.9 1050.3h1M144.9 1049.4h1M148.9 1039.5h1M133 1036.3h1M140.6 1058.3h1M131.2 1051.1h1M129.8 1041.4h1M139 1034.7h1M143.8 1072.1h1M132.2 1033.7h1M114.7 1048.6h1M144.4 1031h1M121.2 1051.3h1M139.5 1055.5h1M157.1 1046.4h1M138 1034.8h1M125.6 1046.6h1M122.7 1071.3h1M150.6 1039.8h1M138 1063.5h1M143.9 1057h1M148 1058.9h1M137.7 1065.9h1M134.9 1059.9h1M128.1 1057.1h1M105.5 1053.2h1M122.1 1047.4h1M137.5 1050.3h1M136.3 1062.2h1M142.5 1048.8h1M136.9 1036.8h1M139.9 1037h1M146.6 1045.5h1M128.8 1040.5h1M135.2 1037.6h1M121.1 1032.8h1M148.5 1029.3h1M138.6 1050.2h1M143.4 1049.7h1M154.6 1031.6h1M149.7 1030.7h1M137.6 1030.9h1M146.6 1071.2h1M123 1049.2h1M142.8 1080.7h1M139.7 1039.3h1M121 1046.3h1M152.4 1046.3h1M130.7 1048.3h1M145.5 1033.4h1M133.7 1049.9h1M148.8 1036.2h1M152.1 1041.1h1M129.4 1043.2h1M121.9 1042.1h1M136.8 1045.7h1M147.2 1058.2h1M134.3 1039.5h1M131.7 1039.5h1M143.4 1048.4h1M108.9 1039.3h1M131.1 1037.6h1M123.5 1060.2h1M141.3 1048.4h1M130.4 1051.5h1M126.4 1056.3h1M134.4 1043.5h1M122.6 1055.6h1M138.1 1051.4h1M131 1044.3h1M134.2 1043.3h1M130.6 1043.5h1M147.9 1023.7h1M137 1052.1h1M143.8 1044.3h1M143.3 1059.4h1M129.6 1041.9h1M144.3 1034.9h1M141.9 1034.3h1M141.5 1053.5h1M134 1049.8h1M133.7 1033.8h1M146.5 1047.9h1M161.4 1036.9h1M129.4 1057h1M143.9 1032.5h1M134.3 1036.2h1M146.5 1042.1h1M142.9 1055.2h1M149.5 1048.5h1M108.5 1045.3h1M131.8 1044.2h1M127.7 1048h1M137.1 1049.1h1M130.5 1044.9h1M131.4 1032.4h1M145.4 1067.7h1M158.4 1061.1h1M108.2 1062.9h1M134.9 1054h1M141.5 1064.9h1M138.3 1041.1h1M134.5 1045.9h1M123.8 1049.5h1M128.2 1054h1M145.9 1045.3h1M149.6 1045h1M139.2 1043.5h1M129.3 1054.4h1M139.2 1040.1h1M135.7 1062.1h1M144 1033.9h1M139.5 1078.8h1M131.6 1053h1M140.2 1059.4h1M125.7 1038.7h1M146.9 1062.3h1M150.8 1028h1M125.7 1062.9h1M142.7 1025.8h1M127.7 1042.2h1M149.6 1046.6h1M147.8 1042.4h1M135.8 1024.1h1M148.8 1037.6h1M133.6 1070.1h1M131.4 1034.5h1M132.2 1044.5h1M136.7 1063.7h1M134.8 1039h1M139.8 1059.4h1M131.7 1045h1M146.3 1044.5h1M149 1053.6h1M132.9 1040.2h1M123 1057.5h1M145.9 1044.9h1M150.3 1052.6h1M136.5 1048.8h1M124.5 1026.9h1M141 1045.7h1M154.4 1058.2h1M118.3 1048.1h1M143.3 1054.9h1M134.9 1046.6h1M129.1 1045.2h1M143.5 1046h1M124.4 1046h1M141.4 1052.5h1M152.1 1042.2h1M140.1 1035.9h1M128.9 1053.3h1M119.3 1047.5h1M124.6 1046.3h1M118.6 1033.9h1M155.2 1035.7h1M135.6 1054.5h1M127.1 1046.1h1M124.4 1062.4h1M126.9 1056.9h1M134.6 1046.7h1M124.6 1040.3h1M156 1037h1M130.3 1050.1h1M129.9 1060.9h1M141.5 1042.8h1M153.6 1048.7h1M152.3 1042.5h1M133 1045.2h1M140.9 1039.5h1M139.8 1040.1h1M143.8 1038.1h1M140.9 1051.6h1M128.2 1036.6h1M124.8 1052.1h1M140.1 1046h1M125.6 1027.6h1M152.7 1043.2h1M138.6 1059h1M127.3 1031.4h1M134.8 1036.5h1M132.8 1035.1h1M136.8 1044.8h1M148.2 1043.3h1M122.9 1049.3h1M118.4 1054.1h1M141.8 1031h1M136.3 1050.7h1M139.9 1051.9h1M142.9 1051.5h1M136.3 1027.6h1M146.7 1037.8h1M128.7 1050.7h1M138.9 1047.4h1M129.4 1041.6h1M126.2 1037.8h1M144.7 1063.6h1M144.2 1037.5h1M117.6 1049.1h1M126.3 1054h1M141.3 1050.9h1M149.6 1038.7h1M131.1 1028.6h1M136.2 1045.3h1M123.2 1041.1h1M164.9 1055.3h1M143.2 1041.8h1M147.7 1038.3h1M145.2 1062.3h1M148.1 1052.2h1M144.7 1038.7h1M134.6 1065.1h1M146.1 1050.8h1M139 1040.7h1M152 1064.4h1M130.4 1051h1M132.5 1046.3h1M145.2 1037.6h1M151.8 1060.2h1M139.7 1035.4h1M130.6 1043.7h1M136.9 1034.5h1M132.9 1034.8h1M158.3 1043.3h1M147.7 1041.8h1M151.6 1064.9h1M141.4 1060.9h1M132.3 1057.3h1M150.7 1050.5h1M155.8 1037.2h1M144.4 1065.4h1M137.9 1050.2h1M149.7 1060.6h1M134.3 1063h1M146.3 1031.6h1M130.6 1045.9h1M127.9 1029.9h1M144.2 1034.6h1M141.8 1056.4h1M158.4 1066.1h1M135.2 1025.4h1M138.4 1051.1h1M126.1 1058.8h1M118.3 1039.7h1M119.3 1045.5h1M143.1 1053.8h1M125.7 1050.5h1M150.2 1045.2h1M153.3 1046.1h1M135.2 1039h1M155.8 1050.6h1M140.6 1050.4h1M150.1 1040.7h1M135.8 1043.6h1M148.4 1035.5h1M128.2 1049.5h1M144.8 1047.9h1M133.3 1058.9h1M136.8 1031.3h1M144.9 1061.3h1M140 1044.8h1M137.4 1056.1h1M145.9 1043.4h1M146.7 1039.2h1M123.5 1063.9h1M144.1 1049.1h1M145.3 1065.1h1M130.2 1032.3h1M142.3 1051.5h1M124.1 1063.2h1M153.5 1054.2h1M135.7 1033.3h1M137.4 1031.4h1M150.9 1033.7h1M136.7 1055h1M144.6 1048.5h1M127.1 1029.9h1M132.1 1054.5h1M123.4 1050.4h1M136 1056.8h1M149.1 1059h1M140.6 1034.4h1M147.6 1040.3h1M127.3 1042.2h1M128.8 1040.9h1M133.3 1036.3h1M144.3 1031.2h1M142 1047h1M138 1050.4h1M144.8 1057.5h1M136.6 1035.7h1M138 1052.2h1M152.1 1062.4h1M132 1049.7h1M140.1 1046.6h1M155.3 1038.2h1M139.3 1036.5h1M145.7 1054.5h1M131.8 1055.2h1M159 1050.3h1M114.3 1059.5h1M126.2 1048h1M127 1042.1h1M155.4 1046.4h1M141.9 1063.6h1M135.4 1059.3h1M124.6 1033.5h1M142.1 1057.4h1M139.4 1039.2h1M130.8 1040.3h1M122.4 1050.2h1M126.5 1057.2h1M140.5 1044.7h1M141.5 1056.1h1M139 1048.7h1M136.6 1045.8h1M119.4 1054.3h1M138.7 1049.2h1M127.2 1050.1h1M138.6 1059.7h1M143.1 1048.9h1M131 1053.5h1M127.3 1065.8h1M148.8 1050.4h1M141.9 1049.8h1M131.4 1053.2h1M106.3 1068.3h1M137.7 1038.8h1M144.9 1039.8h1M150.1 1040.1h1M131 1043.5h1M131.4 1059.9h1M133.5 1045.6h1M147.1 1056.5h1M125.7 1024.2h1M137 1052.3h1M128.4 1040h1M141.1 1063h1M121.7 1059.1h1M142.2 1052.4h1M132.9 1039.6h1M181 1012.9h1M195.6 1011.6h1M170.9 1066.4h1M154.7 1057.9h1M178.7 1046.2h1M156.7 979.7h1M170.2 1027.5h1M177.1 1012.3h1M148.9 975.5h1M177.2 1065.5h1M165.4 1056h1M171.9 1046.7h1M148.6 980.6h1M183.6 1001.4h1M137.9 1062.4h1M163.3 1068.6h1M167.2 1058.3h1M127 980.9h1M187.6 1032.2h1M168.9 985.7h1M132.5 988.1h1M191.5 975.7h1M180.9 1019.7h1M196.6 1047.6h1M178.7 1022.6h1M165 983.3h1M187 977.6h1M153.9 1034.7h1M159.8 1025.4h1M153.7 993.2h1M151.4 1034.7h1M198.8 1051.1h1M165.2 1046.9h1M165.3 1026.1h1M155.4 1051.2h1M151.5 996.6h1M144.1 1006.7h1M199.2 979.2h1M182.6 998.5h1M163.3 1028.9h1M172.2 1057h1M190.7 1051.5h1M154.8 983.9h1M148 1010h1M163 1064.8h1M161.7 1024.1h1M190.1 996.4h1M195 992.4h1M192.3 988.8h1M179.7 981.4h1M166.9 1025.9h1M139.8 1006.7h1M197.8 1068.3h1M191.9 1007.3h1M166.8 1022.5h1M184.2 1053.8h1M195.4 1049.7h1M149.8 1002.5h1M170.4 1052.5h1M200 1040.4h1M143.5 1036.8h1M137.9 997h1M199.2 1055.9h1M193.6 1067.7h1M129.8 1056.9h1M170.9 1002h1M175.9 1070.7h1M181.4 1018.4h1M173.7 1023.6h1M169.5 1037.1h1M149.1 1030.3h1M124.4 1021.4h1M142.5 1044.3h1M140 1008.2h1M133.9 1017.2h1M141.7 1020.7h1M125.8 1030.1h1M146.5 1011h1M155.3 1024.6h1M132.2 997.6h1M143.5 1016.3h1M157.6 1039.8h1M145.3 1012.2h1M139.2 1027.8h1M135.5 1027.7h1M145.8 1024.2h1M142.8 1022.9h1M150.1 1018.1h1M129.7 1011.8h1M154.3 1015.6h1M140.3 1030.3h1M150.2 1038.1h1M137.3 1031.3h1M131.8 1016.8h1M138.7 1010.5h1M135.1 998.9h1M140.6 1038.1h1M150.2 1020.3h1M154.3 1024.2h1M146 1026.3h1M139 1019.6h1M139.8 1024.4h1M149.7 1024.6h1M154.8 1029.4h1M141.1 1016.4h1M142.9 1008.2h1M137 1001h1M146.1 1027.9h1M153.1 1034.5h1M116.7 1024.6h1M146.5 1031.7h1M138.9 1008.5h1M122.1 1031.5h1M147.1 1020.4h1M143.3 1038.1h1M147.6 1025.7h1M131.2 1019h1M164.3 1002.3h1M145.1 1030h1M140.9 1016.7h1M158.5 1047.2h1M150.3 1036.4h1M152 1031.5h1M155.1 1027.6h1M124.5 1016h1M159.9 1013.5h1M140.8 1041.4h1M146.8 1014.8h1M152.8 1035.3h1M137.4 998.5h1M147.1 1017.5h1M151.3 1019.5h1M143.7 1023.6h1M148.8 1021.8h1M128.9 1021.4h1M132.8 1030h1M133.2 1012.1h1M147.6 1018h1M179.4 1012.1h1M146.6 1022.2h1M142.7 1012.9h1M143.5 1030.8h1M153.4 977h1M150.8 1030.2h1M133.3 1026.9h1M153.7 1009.4h1M143.9 1006h1M151.8 1031.3h1M125.2 1042.1h1M129.4 1038.8h1M149.7 1033.8h1M127.1 1031.2h1M147.8 1023.5h1M147.3 1008.6h1M145.5 1008h1M147.5 1029h1M146.6 1014.7h1M148.3 1010.4h1M140.3 1003.9h1M143.9 1023.4h1M171.8 1030.7h1M154.8 1012.1h1M149.9 1002.6h1M147.8 1028h1M137.2 997.2h1M146.2 1000h1M141.8 1024.7h1M153 1041h1M135.5 1028.9h1M121.8 1025.8h1M138.8 1014.8h1M150.7 1042.2h1M167.3 991.2h1M153.8 992.3h1M134.9 1030.4h1M142 1044.6h1M135.1 1023.6h1M142.3 1016.2h1M135.6 1004.7h1M128.6 1012.6h1M148.3 1024h1M145.9 1046h1M142.5 1015.1h1M147.4 1011h1M163.3 1025.3h1M145.2 1018.1h1M140.5 1018.9h1M152.3 1024.5h1M128.6 1035.9h1M151.2 1017.2h1M136.8 1039.1h1M136.4 1004h1M145.1 1032.7h1M159.9 1015.4h1M137.1 1030.6h1M153.1 1016.8h1M147.7 1024.1h1M131 1014.9h1M152.7 1031.4h1M136.3 1041.8h1M130.2 1025h1M136.6 1025.9h1M137.2 1040.2h1M149.7 1030.1h1M137.2 1042.4h1M158.2 1020.1h1M146.2 1026.2h1M137.3 1021.3h1M136.2 989.1h1M146.3 1019.6h1M124.9 1016.9h1M123.6 1013.7h1M135.7 1023.3h1M150 1028.9h1M145.8 1010.6h1M144.3 1008.7h1M142.1 1057.8h1M123.5 1023.6h1M141 1025.8h1M127.3 1028.6h1M152 1006.1h1M144 1028.2h1M143.3 1010.8h1M147.9 1028.3h1M147.1 1026.6h1M146.3 1012.5h1M147.4 1030.8h1M138.5 1023.6h1M131.5 1035.3h1M147.3 1032.6h1M157.8 1012.6h1M153.6 1014.3h1M142.1 1035.8h1M149.9 1036.3h1M139.9 989.9h1M147.7 1029.6h1M138.4 1032.4h1M145.4 1015.2h1M163 1031.2h1M151.4 1026.1h1M158.2 1010.5h1M136.8 1009.2h1M137.6 1024h1M143.7 1004.9h1M149.4 1023.4h1M142.1 1024.6h1M153.7 1021.7h1M138.9 1025.4h1M156.9 1015h1M153.2 1018.1h1M133.6 1031.2h1M149.6 1019.4h1M142 1028.3h1M153.7 1028.8h1M139 1023.3h1M147 1008.9h1M149.3 1018.2h1M118.1 1005.8h1M126.4 1002.2h1M145.3 1022h1M142.9 1029.1h1M153.7 1031.4h1M146.2 1018.1h1M132.1 1010.8h1M147.2 1001.9h1M137 1037.9h1M141.9 1010.1h1M139.3 1008.3h1M147.4 991.2h1M130.7 1019.2h1M133.5 1022h1M123.1 1040.5h1M164.3 1031.2h1M134.7 1035.3h1M135.9 1034.1h1M133.2 1032.7h1M138 1040.6h1M140 1022.7h1M149.9 1016.7h1M145.8 1012h1M147.2 1022.7h1M138.5 1008.3h1M143.4 1008.2h1M155.6 1040.4h1M143.9 1024.9h1M147 1037h1M124.9 1033.6h1M149 1019.2h1M146.5 1023h1M156.3 1003.2h1M118.1 995.9h1M144.3 1016.2h1M142.9 1023.8h1M144.8 1023.2h1M138.1 1021.5h1M146 1014.3h1M150.6 1030.5h1M144.4 1014.1h1M141.2 1024.4h1M141.9 1008.2h1M140.3 1004.4h1M144.3 999.7h1M137.2 1023.3h1M125.1 1038.1h1M156.7 1042.3h1M127.3 1025h1M142.8 1039h1M131.6 1041.8h1M141.2 1025.7h1M134.7 1033.6h1M143.4 1012.7h1M135.9 997.1h1M131.6 1024.1h1M146.7 1017.4h1M156.4 1040.9h1M147.1 1019h1M144.8 1030h1M133.8 1034.9h1M143 1044.4h1M148 1001.3h1M137.6 1041.3h1M152.2 1036.3h1M143.4 1021.1h1M147.1 1017.6h1M139 1017.5h1M139.1 1019.8h1M145.8 1032.3h1M147.3 1011.6h1M147 1018.7h1M134.1 1039.2h1M137.9 1039.1h1M149.3 1042.8h1M132.7 1037.7h1M144.7 1039.1h1M133.9 1039.5h1M127.4 1037.3h1M148.4 1044.6h1M129 1037h1M141.2 1044.9h1M129 1038h1M147 1040.8h1M124.6 1039.2h1M125.1 1037.9h1M146.5 1038.9h1M135 1045.7h1M146.4 1040h1M127.7 1038.9h1M150.4 1042.2h1M125.4 1036.6h1M160.8 1041.4h1M161.3 1042.1h1M152.2 1040h1M130.3 1038.6h1M144.8 1041h1M161.9 1042.9h1M147.8 1039.7h1M144.7 1041.4h1M125.2 1043.5h1M122.3 1038h1M142.6 1040.6h1M136 1039.7h1M139.6 1041.4h1M123.6 1039.2h1M132.3 1039.2h1M158.6 1040.8h1M135.9 1039.2h1M160.7 1041.6h1M125.3 1039.4h1M140.8 1038.9h1M145.5 1042.5h1M149.7 1041.6h1M153.2 1041.1h1M150 1041.8h1M151.4 1040.2h1M123.5 1041.2h1M124.5 1037.7h1M127.8 1037.7h1M127.9 1047.3h1M151.3 1039.8h1M143 1039.9h1M147.1 1040.8h1M141.4 1043.5h1M140.6 1039.9h1M126.9 1037h1M154.4 1043.3h1M152.8 1041h1M151.9 1040h1M161.6 1041.3h1M135.4 1037.9h1M135.1 1044.5h1M138.7 1042.7h1M131.5 1039.8h1M139.9 1038.9h1M143.3 1039.8h1M145 1040.1h1M122.4 1038.1h1M150.8 1040.4h1M125.7 1036.8h1M128 1038.1h1M135.5 1039.1h1M154.6 1040.7h1M131.8 1038.6h1M157.2 1040.8h1M142.7 1042.5h1M150.9 1041.6h1M130 1038.5h1M162.2 1041.9h1M146.6 1039.1h1M122.1 1054h1M153.8 1042.8h1M136.6 1039.3h1M156 1043.1h1M146.5 1042.2h1M158.1 1041.3h1M156 1041.2h1M146.6 1040.2h1M151.8 1043.4h1M124.5 1037.2h1M151.3 1041.7h1M151.2 1041.7h1M159.1 1041.9h1M150.3 1044h1M146 1040.6h1M151.5 1041.9h1M140.3 1041.4h1M139.7 1042.3h1M161.9 1041.2h1M138.2 1041.1h1M127.2 1037.9h1M122.5 1041.2h1M135 1038h1M137.6 1040.2h1M146.2 1040h1M120.9 1040.8h1M141.7 1045.8h1M161.4 1041.3h1M152.5 1042.9h1M147.5 1040.1h1M138.7 1047.2h1M159.5 1041.5h1M123.9 1036.2h1M152.3 1044.8h1M148.6 1039.9h1M134.9 1038.9h1M136.4 1040.7h1M125.4 1037.4h1M122.8 1038.8h1M132.8 1042.9h1M134.6 1039.4h1M140.9 1043.4h1M134 1041.5h1M157.2 1041.9h1M128.3 1038.3h1M153 1040.8h1M140.9 1039.5h1M125.9 1038.8h1M154.8 1040.7h1M142.9 1040.8h1M124.7 1043.5h1M152.9 1042.6h1M130.2 1037.2h1M141.8 1041.6h1M145.1 1040.6h1M150.8 1041.2h1M148.4 1041.4h1M154.4 1041.8h1M153.1 1040.3h1M126.3 1038h1M143.5 1039.9h1M138.4 1041.1h1M125.3 1037.9h1M138.7 1045.2h1M152.4 1040.4h1M136.1 1039h1M134.5 1048.2h1M138.5 1039.2h1M139.4 1040.2h1M152.3 1041.7h1M155.5 1041.4h1M128.5 1038.3h1M128.3 1041.4h1M133.3 1039.4h1M153.8 1042.6h1M161.7 1041.7h1M130.9 1040.8h1M154.9 1042.5h1M136.5 1039.3h1M160.7 1042.2h1M141.2 1039.4h1M158.9 1041.9h1M141.8 1038.6h1M132.5 1039.6h1M159.1 1041.1h1M134 1038.2h1M151 1040.3h1M141 1046.8h1M127 1044.8h1M137.1 1038.2h1M160.3 1041.7h1M130.1 1039.5h1M124.7 1036.4h1M155.9 1042h1M126.7 1042.5h1M129 1037.7h1M138.2 1038h1M153.5 1040.7h1M164.6 1042.3h1M128.7 1037.1h1M125.7 1036.7h1M163.4 1041.5h1M142.3 1038.6h1M153.8 1040.8h1M130.8 1039.6h1M130.1 1038.9h1M156 1043.2h1M127.8 1043.2h1M128.6 1036.9h1M134 1042h1M133 1040h1M126.1 1038.9h1M131.5 1043.6h1M125.8 1043.1h1M137.7 1039.5h1M147.7 1043.1h1M141.3 1038.3h1M128.8 1039.8h1M139.2 1040.7h1M147.7 1040.4h1M125.4 1040.5h1M138.9 1040.8h1M159.8 1041.4h1M154.3 1043.9h1M139 1038.3h1M128.4 1038.6h1M126.3 1041.2h1M126.3 1042.8h1M130.4 1040.6h1M135.7 1040.4h1M142.7 1040h1M125.6 1040.6h1M137.7 1042.8h1M135.9 1038.7h1M152.4 1040.9h1M157.6 1040.9h1M161.8 1042h1M137.1 1041h1M153.1 1040.8h1M143.3 1038.8h1M124.8 1040.5h1M120.6 1036.1h1M145.1 1039.3h1M145.9 1041.9h1M147 1040.7h1M140.8 1039.7h1M143.7 1041.6h1M147.2 1040.7h1M147.4 1042.6h1M124.8 1037.2h1M134.7 1039.6h1M132 1038.8h1M137.4 1041.6h1M130.5 1044.3h1M124.6 1037.3h1M155 1042.8h1M140.7 1041.8h1M158.5 1041.2h1M123 1038.6h1M122.9 1038.4h1M125.6 1040.5h1M155.7 1042h1M137.4 1040h1M152.2 1041.6h1M124.5 1041.6h1M149 1042.3h1M124.6 1045.5h1M158 1041.4h1M140.7 1039.3h1M163.6 1041.9h1M143.9 1041.7h1M141.4 1040h1M129.1 1036.7h1M149.1 1042.2h1M149.5 1044h1M142.3 1041.4h1M145.4 1041.3h1M157 1041.8h1M148.1 1044.4h1M144.9 1043h1M141.7 1039.6h1M135.8 1039h1M147.6 1040.6h1M152 1040.6h1M151.8 1039.7h1M126.7 1036.5h1M131.9 1042h1M142.6 1041h1M144.4 1039.1h1M159.2 1042.4h1M163.3 1042.3h1M158.6 1041.6h1M143.2 1041.5h1M148.7 1039.7h1M152.5 1040.5h1M125.1 1042.4h1M131.3 1038.3h1M121.1 1042.7h1M144.7 1046.5h1M161 1043h1M122 1040h1M123.8 1038.5h1M126.3 1040.3h1M152.2 1040.1h1M136.9 1040.5h1M128 1037.4h1M134 1044.4h1M127.5 1036.9h1M130 1039.6h1M143.1 1040.4h1M146 1040.4h1M129.4 1038.5h1M140.1 1039.9h1M124.5 1044.3h1M163.9 1041.2h1M125.6 1042.4h1M142.6 1040.3h1M162.9 1042.5h1M130.9 1039.1h1M129.4 1037h1M149.2 1041.9h1M137.9 1039.1h1M130 1040.9h1M144.1 1039.9h1M155.5 1041.1h1M149.2 1041h1M130.5 1038.4h1M146.1 1040.5h1M159.5 1041.1h1M124.8 1045.1h1M148.8 1041.9h1M138.1 1041.5h1M145.6 1039.4h1M129.1 1039.3h1M127 1038.4h1M131.9 1038.4h1M154.7 1040.5h1M133.4 1037.4h1M132.8 1039.9h1M150.5 1040.6h1M127 1043.2h1M131.8 1039h1M142.5 1042.5h1M132.4 1040.8h1M144.5 1039.3h1M145.6 1044h1M122.9 1039.1h1M125.4 1039.4h1M152.4 1042.7h1M132.4 1041.2h1M120.8 1037.4h1M124.8 1038.6h1M134.6 1038.6h1M156.3 1043.1h1M127.9 1038.7h1M162.7 1041.7h1M122.5 1037.8h1M143.4 1043.3h1M146.4 1040.8h1M139.6 1039.7h1M131.2 1041.7h1M131.4 1039.4h1M142.3 1042.1h1M157.6 1041.2h1M135.2 1040h1M131.2 1040.1h1M136.5 1038h1M161.5 1041.5h1M130.7 1037.2h1M124.2 1039.1h1M157.9 1041.4h1M126.2 1039.5h1M153.7 1041h1M141.8 1039.4h1M160.5 1042.4h1M132.1 1038.5h1M154.7 1040.7h1M123.3 1043.3h1M153.6 1043.4h1M132 1042.2h1M136.8 1038.9h1M154.2 1040.2h1M145 1040.7h1M136.2 1043.4h1M132.5 1037.9h1M150.1 1043.5h1M139.3 1039.5h1M128.1 1041.1h1M135.3 1039.1h1M154.8 1040.2h1M124.6 1042.3h1M132.9 1039h1M150.2 1040.4h1M145.6 1042.8h1M136.8 1047.6h1M127.2 1038.9h1M123.2 1041.4h1M138.5 1038.9h1M146 1040.3h1M131.5 1042.3h1M156.2 1042h1M145.3 1042.8h1M139.6 1038.3h1M148.8 1040.8h1M134.3 1044.6h1M155.8 1042.3h1M132.3 1040.2h1M123.5 1040.9h1M159.9 1041.2h1M140.7 1043.1h1M158.9 1043.4h1M120.3 1043.9h1M125.3 1040.2h1M137.2 1041.4h1M158.3 1040.9h1M122.8 1038.4h1M139.5 1038.9h1M151.9 1039.9h1M132.9 1042.2h1M137.4 1051h1M157.1 1041.4h1M142.5 1042.5h1M150.1 1040.3h1M144.8 1043.3h1M153.5 1040.8h1M129.8 1038h1M142.8 1039.8h1M127.2 1040h1M134.3 1039.3h1M151.6 1041.8h1M159.4 1042.4h1M132 1044.9h1M152.8 1040.7h1M140.3 1041.5h1M145.9 1040.5h1M134.2 1043h1M133.3 1037.4h1M128.8 1040.6h1M138.9 1040.8h1M122.7 1036.5h1M155.8 1040.7h1M124.9 1037.2h1M145.5 1039.3h1M141.5 1039h1M133.9 1037.4h1M158.4 1042.4h1M152.6 1044h1M152 1042.1h1M124.4 1037.2h1M137.2 1039.3h1M146.2 1041.6h1M123.7 1041.2h1M147.9 1042.3h1M156.3 1042.4h1M159.4 1041.5h1M142.5 1039h1M123.9 1043.8h1M128.6 1041.6h1M154.7 1041.2h1M127.8 1040.4h1M146.3 1038.9h1M146.9 1040h1M135.8 1039.3h1M155 1043.4h1M125.2 1037.9h1M142.9 1045.8h1M135.8 1037.9h1M156.8 1041.5h1M134.8 1038h1M127.5 1047.9h1M133.9 1037.8h1M143.5 1039.9h1M124.2 1047.5h1M153.8 1041.3h1M144.8 1042.7h1M132.6 1037.5h1M143.5 1042.7h1M160.9 1041.5h1M144.9 1040.8h1M136.5 1038.4h1M146.8 1040h1M151.2 1040.3h1M146.3 1042h1M127.1 1037h1M122.5 1036h1M129.4 1041.1h1M137 1044h1M154.2 1040.4h1M123.6 1037h1M155.2 1040.7h1M124.1 1041.3h1M130.4 1040.5h1M134.1 1040.9h1M158 1041.2h1M162.6 1041.3h1M120.5 1037.2h1M127.5 1047.1h1M138.4 1040.7h1M128.3 1037.3h1M158.8 1041.8h1M142.2 1039.7h1M129 1043h1M145.4 1042.7h1M146.3 1039.3h1M153.6 1041.1h1M155.9 1041.3h1M136 1040.2h1M150.1 1039.9h1M159.8 1041.7h1M141.2 1040.2h1M147.8 1041.3h1M137.7 1038.6h1M134.4 1039.3h1M126.4 1045.6h1M124.5 1038.7h1M130.8 1038.8h1M137.7 1039.3h1M141.2 1044.6h1M147.6 1040.3h1M146.8 1043.1h1M149.1 1040.3h1M141.8 1040.2h1M138.8 1040.7h1M143.1 1042.8h1M147.9 1039.8h1M156.4 1041.6h1M132.6 1038.7h1M159 1041.8h1M127.5 1040.8h1M126 1038.9h1M155.4 1043.2h1M127.4 1039.4h1M153.6 1042.2h1M132.9 1042.3h1M136.3 1042.3h1M155.7 1040.5h1M150.1 1041.7h1M125.9 1038.3h1M159.4 1042.3h1M127.4 1041.5h1M147.2 1042.8h1M159.8 1041.3h1M150.4 1042.4h1M136.1 1040.7h1M161.1 1042.8h1M144.5 1039.7h1M131.2 1038.1h1M160.6 1041.4h1M142.1 1039.7h1M132.2 1037.6h1M132.9 1047.1h1M126 1037.4h1M140.1 1038.8h1M142 1039.2h1M128.8 1038.5h1M134.8 1040.4h1M129.8 1037.6h1M153.8 1042.7h1M126.6 1046.6h1M143.1 1039.4h1M144.6 1040h1M144.3 1042.7h1M136.1 1039.5h1M128.9 1045h1M123.2 1044.4h1M124.8 1040.9h1M154.2 1041.1h1M130.1 1039.7h1M137.2 1041.3h1M131.4 1041.9h1M122.5 1039.7h1M137.3 1041.7h1M163 1041.5h1M134.9 1038.2h1M135.1 1043.5h1M141.6 1039.3h1M132.5 1043.6h1M128.7 1040.4h1M134.2 1040.6h1M156 1042.3h1M126.7 1046.8h1M126.1 1036.3h1M149.4 1045.8h1M124.3 1040.6h1M127.5 1048.4h1M131.2 1039.8h1M158.2 1041.5h1M161.3 1042h1M162.4 1041.6h1M132.1 1039.2h1M160.7 1041h1M123.5 1043.8h1M136.6 1038.1h1M141.2 1038.9h1M136.3 1041.8h1M162.5 1042.2h1M153.7 1042.2h1M138.8 1040.3h1M151.3 1040.4h1M154.6 1041.6h1M128.2 1038.2h1M132.1 1042.9h1M130.9 1044.8h1M163.6 1041.6h1M153.5 1041.4h1M127.9 1042.7h1M158.7 1042.4h1M126.1 1037.5h1M129.8 1039.4h1M127.3 1044.3h1M139.7 1044.8h1M160.3 1043.2h1M149.7 1040.2h1M123.4 1041.5h1M129.8 1039.5h1M154.2 1039.8h1M130 1041h1M154.1 1040.3h1M143.9 1041.2h1M149.8 1042.7h1M150.3 1039.7h1M141.7 1039.4h1M128.2 1037.5h1M150.7 1041.5h1M141.9 1039.3h1M147.5 1043.2h1M122.4 1043.3h1M128.9 1037.5h1M145.7 1040.3h1M153.2 1041.3h1M133.2 1040.2h1M149.8 1042.8h1M124.1 1036.7h1M123.2 1045.7h1M149.2 1040.6h1M165 1042.2h1M132.9 1038h1M131.8 1039.7h1M134 1038.8h1M141.3 1039.2h1M131.7 1042.5h1M135.6 1043.2h1M154.6 1043.9h1M125.1 1036.9h1M155.7 1040.9h1M144 1044.1h1M159.4 1042h1M155.9 1041h1M151.8 1040.3h1M133.4 1045.7h1M150.4 1042.7h1M144.2 1039.9h1M133.4 1037.6h1M153.7 1041h1M136.1 1038.1h1M161.9 1041.8h1M149.5 1041.3h1M156 1041.3h1M155.5 1042.1h1M141.9 1042h1M155.7 1043.6h1M143.9 1040.2h1M141.3 1040.4h1M163.2 1043.1h1M148.5 1040.7h1M147.2 1041.7h1M162.6 1042.2h1M141.3 1040.8h1M122.9 1036.6h1M148.4 1042.3h1M143.8 1040.3h1M150.5 1041.3h1M158.9 1042.6h1M149.8 1043.2h1M162.2 1041.5h1M153 1044.5h1M162.1 1041.9h1M140.3 1039.5h1M123.6 1042.7h1M138.7 1039.8h1M155.9 1040.9h1M155.9 1041.4h1M145.4 1042.9h1M133.9 1037.7h1M127.4 1037.6h1M120.6 1035.9h1M134.1 1044.1h1M141.9 1039.4h1M160.5 1042.1h1M146.8 1039.2h1M144.3 1041.5h1M137.1 1044.5h1M124.3 1036.1h1M132.4 1045.8h1M143.9 1041h1M145.5 1040.3h1M162.9 1042.5h1M136.5 1039.7h1M149 1040.1h1M153.8 1042h1M147.8 1040.7h1M126.6 1040.1h1M158.2 1041.1h1M152.8 1041.6h1M146.5 1039.9h1M126.8 1042.1h1M160.6 1041.4h1M146.6 1040.7h1M130.3 1042.3h1M144.5 1039.8h1M128.8 1039.7h1M124.3 1037.1h1M150.6 1041.9h1M148 1041.4h1M138.6 1039.6h1M127.9 1040.5h1M131.7 1039h1M124.2 1039.5h1M128.8 1040.9h1M121.1 1042.3h1M146.6 1040.1h1M152.6 1040.6h1M139.2 1044.6h1M144.1 1043.5h1M129.3 1037h1M158.9 1042.4h1M141.3 1043.9h1M124.4 1039.8h1M137.6 1040.2h1M134.2 1039.3h1M152.7 1042.9h1M148.8 1040h1M125.4 1042.5h1M146.9 1039.2h1M123.4 1042.8h1M140.7 1045.3h1M155.5 1040.4h1M125.3 1037.9h1M144 1043.8h1M135.7 1040.5h1M126.4 1043.2h1M159 1042.1h1M146.4 1041.2h1M126.5 1038.4h1M131.3 1043.8h1M132.8 1038.7h1M150.4 1040.1h1M158.6 1044.3h1M137.2 1041.4h1M125.3 1037.7h1M123.7 1038.3h1M131.8 1043.1h1M153 1040.6h1M125 1038.5h1M142.3 1039.8h1M124.9 1039.6h1M130.8 1041.8h1M146.5 1043.3h1M149.2 1039.7h1M120.8 1038.2h1M126.3 1038.5h1M129.1 1038.7h1M131.3 1039.9h1M133.2 1038.1h1M150.8 1040.5h1M125.9 1040.7h1M127.7 1036.8h1M139.2 1044.7h1M152.5 1040.1h1M151 1039.9h1M126.6 1037.1h1M142.7 1039.7h1M143.4 1040h1M137.4 1041.5h1M155.1 1041h1M124.5 1042.7h1M141.9 1042.2h1M150.9 1045.3h1M161.7 1042.2h1M122.3 1050.3h1M146.9 1040.3h1M132.4 1038h1M150.2 1040h1M138.6 1039.9h1M151.3 1040.2h1M127.5 1036.5h1M161 1043.3h1M134 1041.9h1M156.6 1040.3h1M132.7 1039.6h1M127.4 1038.8h1M133.9 1042h1M147.1 1041.9h1M157.7 1041.7h1M138.9 1040.5h1M132.6 1037.4h1M159.8 1041.9h1M152.8 1042.6h1M140.7 1039.7h1M146.9 1040.5h1M131.5 1038.5h1M137.9 1039.8h1M131.6 1039.4h1M129.2 1038.8h1M125.1 1037h1M131.3 1038.6h1M157.2 1040.8h1M151.5 1040.8h1M139 1037.8h1M158.9 1041.7h1M127 1045.1h1M151.3 1041.2h1M151.8 1041.7h1M126.9 1038.9h1M154.3 1041.6h1M147.6 1040.3h1M138 1042.3h1M140.7 1041.9h1M144.8 1044.9h1M137.4 1038.4h1M124.8 1039.3h1M135.2 1042.1h1M157.4 1042.9h1M139.4 1040.4h1M127.5 1042.1h1M160 1041h1M134 1040h1M124.8 1036.9h1M144.8 1045.6h1M127.3 1038.1h1M140.6 1041.6h1M149.2 1040.9h1M125.5 1037.2h1M131.1 1038.3h1M142.9 1039.7h1M132.1 1041.1h1M154 1041.7h1M151.3 1040.7h1M126.9 1037.1h1M144 1040.7h1M139.9 1041.6h1M134.1 1037.5h1M145.1 1044.6h1M134.6 1040.3h1M137.5 1038.4h1M136.8 1043.1h1M143.3 1042.1h1M122.4 1040.7h1M145 1040.2h1M123.6 1041.6h1M129.4 1042h1M154.6 1041.3h1M128.7 1040.3h1M144.1 1039.7h1M129.9 1042.6h1M161.9 1042.6h1M161.8 1041.4h1M133.8 1041.6h1M155.1 1041.9h1M160.7 1040.8h1M128.9 1038h1M134.6 1040.8h1M125.8 1037.2h1M128.1 1041.7h1M139.3 1042.2h1M140.6 1039.3h1M138.4 1038.5h1M129.9 1044.1h1M140.8 1046.7h1M156.7 1041.5h1M131.9 1044.1h1M147 1045h1" stroke="#3848b0" stroke-width="1" stroke-opacity="0.8" fill="none"/>
<path d="M157.7 982.7h1M171 1021.1h1M121 1040.1h1M136.8 960.4h1M170.9 1008.2h1M129.6 1051.7h1M155.6 1066.9h1M138.3 968.2h1M117.3 1018.6h1M138.3 1066.9h1M170.2 1019.9h1M133.4 971.1h1M161.9 1012.4h1M107.9 1056.9h1M116.7 1001.7h1M171 970.6h1M177.9 963h1M107 1054.1h1M163.9 1041.4h1M158.5 1001.4h1M127.3 1036.4h1M150.4 977.5h1M97.9 969.5h1M128.2 972.4h1M184.1 1006.3h1M157.4 1049.6h1M161.5 1009.1h1M152.1 1045h1M136.6 1024.1h1M190.2 987.4h1M138.8 988.4h1M135 1036h1M125.1 979.1h1M160.2 988.2h1M123.1 1020.9h1M140.3 1029.7h1M115.3 1022.6h1M135.9 995.2h1M98.8 961.5h1M185.9 1068.9h1M126.2 965.5h1M185.6 972.8h1M120.2 1006.4h1M147.9 1065h1M181.5 1058h1M129.6 982.6h1M143.5 1012h1M141.1 1022.5h1M183.8 994.9h1M133.5 1038.8h1M174.2 1033.1h1M172.6 993.5h1M183.2 979.4h1M157.8 963h1M114.9 963.5h1M108.6 988h1M184.6 968.4h1M184.7 1056.8h1M136.9 967.5h1M113.8 1068.4h1M133.3 1004h1M140.1 991.6h1M137.8 1002.5h1M136.9 1000.8h1M136.4 1012.3h1M130.4 1009.5h1M143.6 1004.4h1M142.7 999h1M138.9 1016.9h1M121.9 1020.3h1M147.3 1009.3h1M136.2 1009.3h1M139.9 1004.5h1M148.8 994.3h1M144.9 1013.1h1M136 992.9h1M143.4 1003.7h1M140.4 1008.2h1M132.8 1022.4h1M137.4 996.1h1M125.3 993.7h1M126.5 1004.4h1M137.8 1004.2h1M145.6 1012h1M130.3 1024.4h1M144.2 1015.1h1M137.5 1020.5h1M148.1 1019.9h1M134.3 1015.5h1M155.5 1013.4h1M139.5 1004.4h1M135.1 997.8h1M138.2 1010.4h1M124.9 1002.1h1M138.8 1011.6h1M134.6 1011.2h1M139.8 1005.9h1M134.5 1013.9h1M119.2 1006.7h1M119.9 1012.8h1M132.4 1015.9h1M128.5 1014.3h1M142.2 996.2h1M129.6 1006.8h1M139.4 1012.6h1M135.5 1007.4h1M146.4 1015.1h1M137.1 1012.7h1M137.8 1011.8h1M130 1022.7h1M138.9 1010.3h1M140.8 1005.3h1M135.7 1006.7h1M141 1010.1h1M129.8 1000.2h1M135.1 1015.7h1M139.1 999.8h1M134.5 1000.9h1M144.3 1007.2h1M140.6 996.5h1M132.5 1015.4h1M130.5 1006.9h1M136.4 1010.1h1M131.8 1015.2h1M133.9 1011.5h1M129.3 1005.6h1M141.4 1005.6h1M137.6 1003.8h1M138.4 1014.3h1M141.7 1009.7h1M121.8 1009.8h1M136.7 1014.3h1M134.9 1009h1M140.8 1026.2h1M139.7 1018.4h1M139.8 1013h1M144.8 1012h1M124.5 1003.7h1M129.7 1013.5h1M144.2 995.3h1M145.7 1020.9h1M131.3 994.1h1M143.6 1016.7h1M142.1 1018.2h1M127.7 1015h1M132.6 1014h1M138.6 1011.4h1M136 1012.7h1M148 1005.3h1M140.3 1002.7h1M142.2 1017.6h1M132.3 999h1M128.6 1007h1M132.6 1009h1M145.5 1002.2h1M148.3 1009.8h1M131.3 997.4h1M135.6 1018.8h1M120.6 999.2h1M144.7 1012.8h1M128.4 1003.1h1M142.2 1012.6h1M144.7 995.6h1M128 1005.9h1M130.9 1002.9h1M141.1 1017.5h1M145.2 1020.9h1M133.1 1007h1M129.8 996.7h1M138.7 1007.6h1M144.5 1020.8h1M129.4 995.2h1M131.4 1013.1h1M143.9 1002.8h1M137.7 1015.5h1M131.2 1014.7h1M136.5 1006.6h1M139.5 1030.2h1M143 1017h1M138.3 1012.4h1M136.3 1012.3h1M125.7 1022.2h1M139.9 1000.2h1M139.7 1010.9h1M137.7 1010.5h1M136.5 1024.4h1M137.2 1010h1M142.5 1004.1h1M134 1002.5h1M128.7 1004.5h1M142.2 1010h1M134 1011.3h1M134.6 1008h1M139.2 1004.1h1M134.8 1011.3h1M136 1011.2h1M129.3 1006.4h1M144.7 1011.5h1M127.8 1007.4h1M144.8 1008.4h1M128.3 1016.9h1M131.8 997.5h1M133.7 1004.2h1M142 1016.8h1M137.7 1017.2h1M133.4 1013.4h1M128.4 1014.3h1M142.8 1017.4h1M136.6 1007.9h1M139.1 1012.2h1M135.2 1017.2h1M133.2 997.5h1M140.6 1012.4h1M138.3 1007.1h1M143.7 1020.3h1M137.6 1018.5h1M127.4 1017.8h1M141.3 1002.3h1M136.7 1004h1M134.9 1011.6h1M116.6 1012.1h1M130.9 1007.2h1M137.5 1016.6h1M132.4 1011.7h1M138 1002.3h1M140.2 1016.9h1M136.3 1004.7h1M130.4 1010.6h1M139.1 1008.3h1M138.7 1011h1M134.8 1003.1h1M124.3 1002.9h1M128.5 1005.5h1M141.5 1022.7h1M134.7 1008.8h1M124.9 1000.5h1M135.2 1017.8h1M136.6 1022h1M140.4 1011.6h1M139.1 1003.4h1M138.8 1019.9h1M131.4 1007.2h1M125.6 1012.1h1M132.4 1010.1h1M145.1 1006.6h1M126.7 1011.2h1M142 1014.3h1M126.7 1008.5h1M128 997.6h1M136.9 1005.1h1M131.1 1004.3h1M134.7 1017.1h1M128.9 1013.9h1M137.1 1020.3h1M141.7 1002.4h1M126.9 1001.8h1M139.7 1006.3h1M138.6 1003.6h1M141.2 1013h1M121.7 1012.6h1M141.9 1000.1h1M128.8 1012.8h1M134.6 1001.6h1M133.4 996.5h1M129.7 1018.8h1M130.7 1016.6h1M131.5 996.2h1M137.3 1001.8h1M140.8 997.3h1M134.3 996.2h1M141.2 1011.9h1M137.1 993.5h1M143.5 998.5h1M127.7 1001.3h1M137.1 1006.9h1M135.9 1012.2h1M137 1015.5h1M138.4 1020.8h1M141.3 1016.1h1M137.1 1015.5h1M139.4 1007.9h1M134.3 1015h1M135.2 1023.4h1M132.1 1008.1h1M143 1025.7h1M141.1 1012.2h1M144.3 1004h1M133.2 1021.6h1M135 1019.1h1M151.8 1009.9h1M143 998.9h1M126.9 1010.5h1M140.8 1013h1M138.3 1007.4h1M134 1023.4h1M134.4 1021.5h1M130.7 1004h1M132.8 1003.1h1M131.2 1004.8h1M128.7 1008.4h1M133.7 1005.9h1M130.5 1023.5h1M140.7 1018.2h1M142.7 1012.6h1M135.1 1001.8h1M134 1007.9h1M140.2 1009.2h1M135.4 1018.4h1M148.9 1008.5h1M119.3 1006.4h1M121.3 1004.8h1M129.1 1010.4h1M139.2 993.1h1M141.1 1018.6h1M133.1 1002.2h1M136.3 1019.5h1M134.3 1019.5h1M139.3 1003.6h1M149 1012.5h1M121.7 1015.3h1M150.3 1008.9h1M142.9 988.8h1M134.2 1014h1M139.3 1011.8h1M136 999.3h1M139.3 1013.6h1M139.2 989.9h1M141.2 1019.3h1M129.8 1010.8h1M140.1 1001.2h1M132 1010.9h1M134.3 1013h1M141.3 1020.4h1M133.4 1010.1h1M138.2 1002.2h1M138.3 1011.2h1M136.9 1017h1M128.5 998.4h1M139.4 1002.3h1M137.4 1004.5h1M150.5 1010.9h1M129.7 1016h1M143 1000h1M133.6 1008.6h1M134.4 1012.1h1M147.2 1010.6h1M135.5 1006h1M141.4 1002.4h1M137.2 1009.3h1M130.6 1012.2h1M135 1018.2h1M133.6 1011.4h1M134.9 1010.9h1M148.3 1006.6h1M139.3 1009.4h1M125.3 1013.5h1M148.4 1010.1h1M138.8 1004.2h1M142.1 1010h1M146.4 1010.6h1M131.1 1011.2h1M138.5 1011.9h1M135.5 1006.5h1M134.2 1004.3h1M134.5 1011.5h1M137.1 1010.7h1M143.9 1006.1h1M141.4 1003.2h1M138.3 998.3h1M144.1 1019.8h1M121.7 1002.4h1M136.7 1013h1M138.7 1004.2h1M138.5 1001.9h1M145.5 994.5h1M137.6 1013.2h1M145.2 1001.1h1M135.4 1028.4h1M140.9 1008.7h1M137.2 1026.6h1M134.9 1014.8h1M139.8 1018.1h1M140.2 1020.7h1M130.8 1009.4h1M142.5 1017.9h1M134.8 1018.4h1M137.1 1015.5h1M119.4 1013.4h1M136.3 1005.2h1M124.3 1012.8h1M142 1016.6h1M131.5 1022.8h1M133.7 1004.7h1M135.4 1007h1M128 1004.4h1M136.7 1014.6h1M128.7 999.7h1M135.2 1004.9h1M142 991.3h1M144.7 1012.2h1M145.6 1002.6h1M135.1 996.4h1M130.4 1011.1h1M139.6 1009.4h1M146.5 1013.2h1M130.9 1011.4h1M145.1 1002.8h1M135.6 1007.6h1M119.7 1017.5h1M136.9 989.6h1M148.5 1014.8h1M141.1 1000h1M143.3 1008.7h1M139.1 1003.7h1M125.8 1004.5h1M121.5 1002.7h1M129.7 1002.7h1M134 995.4h1M130.1 1014.4h1M131.3 1019.4h1M141.5 1022.2h1M145.8 1025.2h1M125.7 1005.1h1M129.7 1022.9h1M135.8 1021.9h1M135.2 1007.2h1M121.4 1011.4h1M155.2 1008.4h1M141 1030.5h1M138.8 1019.4h1M124.2 1021.4h1M138.4 1009.5h1M129 1009.6h1M139.7 1006.1h1M138.4 999.6h1M136.7 981.8h1M139.2 1013.5h1M132.7 1003.7h1M137.6 1002.1h1M121.1 1010.1h1M141.1 1017.2h1M135.3 1002.4h1M152.7 1002.1h1M137.1 1004.8h1M121.4 1015h1M146.3 1026.9h1M131.8 1017.5h1M129.2 999.6h1M136.2 999.7h1M144.7 1017.3h1M148.9 1007.2h1M134 998.8h1M137.8 998.6h1M137.9 1016.6h1M132.3 1010.6h1M133.2 1009.7h1M135.5 1018h1M136.1 995.3h1M143.3 1023.2h1M124.1 1005.9h1M139.5 1001h1M138.8 1005.5h1M145.2 1003.2h1M134 1027h1M134 1008.7h1M137.1 1006.7h1M132.8 1006.8h1M132.6 1019.6h1M132.1 1010.9h1M132.2 1015.6h1M129.8 997.9h1M132.5 1014.3h1M131.4 1010.1h1M131.7 1010.4h1M127.8 1010.7h1M142.4 995.5h1M138.3 997.4h1M136 1006h1M129.4 1011.6h1M140.4 1012.5h1M134.8 1023.8h1M135.7 1008.4h1M136.9 1006.4h1M135.6 1010.3h1M142.6 1016.4h1M131.3 999.5h1M132.1 1002.8h1M137.3 1007.6h1M135 996.3h1M139.9 1006.9h1M142.2 994.3h1M145.2 1010.3h1M142.5 1007.6h1M134.6 1013.6h1M135.3 1001.6h1M134 1012.7h1M143.7 1005.6h1M134.9 1007.8h1M130.9 1014.8h1M129.7 991.2h1M141.2 1000.1h1M130.8 1010.7h1M119.5 1002h1M140.9 1006h1M138.5 1012.2h1M141.3 994.1h1M142.7 1002.1h1M139.7 1003.9h1M138.9 1004.6h1M136.8 1003.3h1M131.4 1002.6h1M123 1006.7h1M123.9 1007.1h1M138.8 1007.6h1M141.6 1020.6h1M136.7 1010h1M131.6 998.8h1M140.5 996.3h1M136.3 1007h1M136.5 1014.9h1M134.2 1000.5h1M129 1015h1M130 1016.8h1M138.9 1019.8h1M146.8 1024.9h1M147.7 993.6h1M135.3 1008.3h1M139.4 1031.4h1M135.9 1015.2h1M137.5 1022.3h1M139.1 1001.9h1M142.3 1014h1M129.2 1014.8h1M147.8 1003.8h1M135.7 996h1M130.3 1015h1M151.3 1009.3h1M130.8 1016.7h1M136.3 1001.6h1M131.9 1007h1M144 1008h1M119.4 1015.5h1M138.7 997.2h1M126.4 1011.4h1M146.4 999.6h1M149.9 999.2h1M142 1018.1h1M131.6 1010.6h1M143.9 1007h1M150.5 1017.6h1M138.1 1009.8h1M134.1 1006.5h1M145.9 1022.1h1M128 1011.4h1M134.7 1006.5h1M136.2 1012.7h1M137.3 1013.7h1M143.6 1020.2h1M135.6 1008.9h1M129.5 1007.4h1M127.6 1009.9h1M135.6 998.2h1M139.5 1009h1M142.7 1012.4h1M140.5 995.1h1M127.7 1003.4h1M140.1 1000.2h1M132.3 998.7h1M144.8 1013.1h1M134.6 1016.6h1M134.7 995.7h1M133 1024.1h1M142.8 1013.1h1M135.8 996.2h1M154.1 1014.2h1M144 1002.9h1M129.1 1015.3h1M136.3 989.9h1M143.2 1009.5h1M141.6 1002.4h1M140.4 1019.5h1M138.1 1003h1M126.7 1003.3h1M127 1012.5h1M141.7 1003.4h1M132.5 1010.5h1M136.7 1005.6h1M140.6 1012.9h1M124.5 1012.4h1M124.5 1018.6h1M140 1005.3h1M132.8 1010.5h1M134.3 1014.4h1M143.8 995.7h1M134.8 1008.6h1M136.2 1009.9h1M138.4 1014.6h1M125.5 1001.3h1M147.6 1007.5h1M139.1 1015.4h1M133 1010.8h1M143.8 1004.1h1M130.6 1007.9h1M132.1 999.5h1M128.6 1000.6h1M135 991.2h1M131.7 1014h1M138.2 1009.1h1M132.2 1010.7h1M138.1 1010.7h1M139.3 1008.2h1M139 1011.5h1M138.9 1001.6h1M137 1018.6h1M131.2 1008.3h1M123.8 1003.7h1M138.7 1000.7h1M127.5 1008.8h1M138.6 1006.2h1M136.1 1008.2h1M136.1 1004.7h1M136.5 1010.1h1M140.1 1003h1M130.2 997.9h1M138.5 992.1h1M143.3 1011.3h1M141.5 1001.9h1M143.5 1006.5h1M134.7 1005.3h1M135.9 1012.2h1M148.4 1007.7h1M139.6 1004.1h1M138.1 1008.4h1M142.8 1011.8h1M130.9 998.8h1M135.6 1007.6h1M139.2 1010.4h1M136.1 1008.4h1M146.1 1010.3h1M139.2 1014.5h1M142.1 1004.5h1M131.2 1010.4h1M136.4 1018.5h1M136.3 1000.6h1M139.8 1011.4h1M139.5 1020.1h1M136.5 1009.3h1M140.1 1014.3h1M149.8 1007.3h1M136.7 1018.2h1M132.3 1012.1h1M144.1 1021.8h1M145.9 1019.8h1M137.7 1008.1h1M142.6 1013.4h1M123.5 996.9h1M139.5 1014.7h1M135.3 1007.6h1M150.5 1019h1M138 997.1h1M148.2 1008.6h1M135.3 1021.1h1M134.8 1007.1h1M133.1 1012.8h1M129.1 991.9h1M132.9 1000.3h1M143.5 1015.1h1M126.8 1003.2h1M137.1 1005.1h1M143.6 1011.7h1M138.2 1011.5h1M139.8 1010.9h1M138.7 1016.6h1M139.8 1006.6h1M124.4 1012.8h1M146.1 1009.6h1M138.8 1011.7h1M133.1 1014.6h1M134.7 993.5h1M135.7 1006.5h1M140.9 1003.5h1M129.1 987.5h1M128.6 1009.1h1M128.3 1014.4h1M142.3 1022.4h1M130.8 1020.1h1M137.4 1003.8h1M129.4 1019.8h1M136.2 1025.1h1M133.5 1008.5h1M132 1009.5h1M143.8 995.5h1M137.3 1020.3h1M130.6 1000.7h1M151.8 1027.3h1M130.7 998.7h1M129.2 1006.6h1M126 1016.3h1M146.9 999.1h1M138 1007.5h1M138.8 1004.1h1M143.6 1008.5h1M137.5 999.8h1M141.3 1003.6h1M147.3 1016.4h1M138.3 1015.8h1M141.8 1015.5h1M138 1002.6h1M137.6 1003.9h1M145.8 1006.5h1M140.4 1010.6h1M138.5 1013.4h1M124.8 1006h1M131.1 1002.2h1M132.4 1002.6h1M136.6 995.9h1M139.1 995.1h1M137.8 1011.7h1M135.7 988.7h1M138.9 996.8h1M139 1006.3h1M142.4 1005.8h1M125.5 1004.4h1M143.2 1012.8h1M149.1 1014h1M144 1008.3h1M134 1011.6h1M131.1 1031.3h1M136.4 1003.7h1M145.3 1023.8h1M138.5 1006h1M124 1011.5h1M115.8 1013.7h1M138 1002.7h1M151.8 1015.2h1M126.6 1016.4h1M132.6 1006.4h1M136.8 1007h1M138.6 1014.3h1M142.1 1014.8h1M126.5 1014.6h1M137.2 1006.1h1M132.4 1005.3h1M141.8 1002.3h1M138.9 1009.6h1M143.6 1015.9h1M128.7 1003.1h1M129.4 987.9h1M131.9 996h1M133.4 1016.9h1M131.9 1002.7h1M128.4 1009.7h1M132.7 1009.6h1M126 1010.9h1M142.7 1015.3h1M133.2 1020.8h1M128.3 1005.3h1M137.4 1016.8h1M126.1 1013.1h1M138.6 1011.8h1M134.1 1008h1M147.3 1012.2h1M139.7 1009.9h1M131.3 1012.1h1M142 1006.7h1M137.1 1005.9h1M140.5 997.1h1M116.7 1004.3h1M133.4 1013.3h1M133.4 1004.2h1M144.5 1001.4h1M129.4 1013.2h1M138.5 1013.1h1M135.2 1026.6h1M127.5 996.8h1M132.7 1007.5h1M139.7 998h1M135 1020.8h1M135.1 1027.3h1M135.8 1006.2h1M136.8 1015.3h1M138.2 1007.3h1M135.7 1014.8h1M126.9 1002.1h1M134.9 1011.2h1M136.8 1009.9h1M146.6 1004.8h1M129.8 1012.2h1M146.1 1011.7h1M132.7 998.7h1M146.3 1009.3h1M123.1 1006.8h1M134.4 1004.6h1M121.2 1007.7h1M126.9 1004.5h1M133.3 993.4h1M139.2 999.9h1M131.2 1019.7h1M137.6 1026h1M130.9 1015.5h1M146.3 1027.3h1M132.4 1030h1M148.6 1016.9h1M147.5 1016.2h1M130.3 1007.2h1M139.4 1005h1M133.1 991.4h1M145.4 1014.3h1M138.2 1013.4h1M147.7 1006.9h1M134.9 999.9h1M134.2 1010.7h1M131.1 1015.8h1M136.9 1029.9h1M138.7 1002h1M136.5 1010.5h1M138 996.3h1M140.9 994.2h1M135.6 993.6h1M132 1005h1M129.7 1001.7h1M132.5 1019.3h1M134 1005.3h1M142.6 1011.5h1M142 1000.4h1M131.5 1013h1M139.9 1010.5h1M130.4 1015.3h1M141.4 994.2h1M125.9 1007.8h1M142.4 1016.6h1M135 1011.8h1M137.7 1018.9h1M135.5 999.2h1M129.5 999h1M137 1007.5h1M136.3 1006.4h1M141 1020.2h1M140.2 996.3h1M144.1 1009.1h1M139.8 992.4h1M129 1013.3h1M141.2 1005h1M128.6 1001.8h1M131.7 1002.4h1M136.7 1009.6h1M131 1000.1h1M133.8 1005.6h1M142.7 1008.6h1M132.4 1017h1M130.6 998.6h1M128.1 1008.5h1M154.3 1004.9h1M133.4 1009.3h1M136.5 1006h1M136.6 1011.7h1M143.4 988.3h1M132.7 994.3h1M130.6 1003.4h1M133.9 1006.5h1M131.3 1003.4h1M127.2 1015.5h1M124.4 1004h1M136.6 1009.5h1M133.6 1012.1h1M145.2 1014.2h1M133 1014.1h1M134 1005h1M144 1008.6h1M125.6 1015h1M141.3 1005.5h1M131 1007.7h1M129.1 1009.5h1M138.7 997.2h1M137.1 1010.8h1M129.1 1019.3h1M137.9 1007.6h1M146.2 1016.6h1M141.5 1002.2h1M137.1 1004.3h1M132.8 1011.2h1M135.8 1004.8h1M139.3 1012h1M134.9 1012.4h1M139.2 1022.8h1M142.5 1025.3h1M126.9 1012.1h1M137.4 994.9h1M139.5 1018.2h1M134.6 1009.4h1M132.2 1014h1M145.9 1004.8h1M135.8 1015.3h1M135.8 1009.7h1M132.9 1005.7h1M134.4 1012.8h1M134.4 1010h1M135.7 1010.5h1M126.8 1004.7h1M126.1 1003.9h1M132.3 1003h1M134.1 1005.5h1M132.6 1016.6h1M140.8 1012.1h1M136.1 1004.8h1M140.8 1008.5h1M137.7 1002.1h1M122.1 1018.8h1M139.3 1015.8h1M145.5 1015.4h1M137.2 1006.6h1M135.9 1013.8h1M129 1015.9h1M137.8 1006.2h1M129.7 1012.1h1M125.2 1017.3h1M137.7 1005.7h1M141.6 1009.7h1M134.5 1005.1h1M135.2 1004.5h1M132 1013.6h1M146.4 1011.2h1M138.7 1009.9h1M134.1 1003.7h1M134.4 1009.2h1M137.1 1000.9h1M143.2 1013.2h1M132.8 1009h1M130.7 998.9h1M138.2 1019.8h1M135.5 1018.7h1M126.9 1003.6h1M135.4 1003.1h1M134.3 1001.4h1M133.7 1002.4h1M137.2 1001h1M137.7 1012.8h1M146.8 1008.8h1M140.2 1004.6h1M141.5 1018.2h1M133.4 1018.7h1M136.2 1013.5h1M132 1001.3h1M131.8 1003.1h1M141.5 1018.9h1M150 1013.3h1M140.6 1013.2h1M138.8 1008.4h1M139.6 1007.5h1M141.3 1009h1M135.7 1016.1h1M135.9 1000.6h1M140.2 1001h1M146.4 1017h1M136.7 1010.3h1M125.8 1000.8h1M141.2 1006.3h1M137.5 1005.4h1M131.2 1012.4h1M131 998.1h1M116.2 1017.3h1M131.3 1001.9h1M134.8 995.4h1M139.4 1014.7h1M135.9 998.7h1M130 1002.6h1M133.6 1013.8h1M136.5 1007.7h1M139.9 998.1h1M138.1 1012.3h1M141.6 1012.3h1M124.1 1030.8h1M137.5 1021.6h1M138.1 1011.8h1M130.3 1009.9h1M137.5 1004.4h1M133 1002.2h1M128.6 993.9h1M128.1 1003.5h1M139.7 986.5h1M139.9 1003h1M143.2 998.5h1M141 1015h1M139.4 1005.3h1M129.6 1001.4h1M135.1 1001.5h1M134.6 1012.2h1M149 1009.1h1M130.9 1018.4h1M128.2 1006.2h1M130 1016.8h1M142.7 1001.3h1M132.3 1006.8h1M141 1003.3h1M133.1 1004.2h1M142.9 1005.3h1M126.6 1002.5h1M133.5 1008.2h1M140.1 1021.2h1M134.9 999h1M130.7 1014.4h1M145.4 1001.7h1M127.5 1004.6h1M131 1005.8h1M143.5 1007.5h1M147.2 1006.6h1M136.3 1007.2h1M128.4 1008.6h1M128.3 1009.7h1M130.9 1006.5h1M135.8 1004.1h1M144.8 1012.1h1M142.1 1006.9h1M142.5 1019h1M133.2 1015h1M141.1 1022h1M141.4 1010.8h1M141.7 1005.9h1M136.3 1003.5h1M133.8 1019.1h1M143.4 1002.6h1M146.3 1016.7h1M135 1011.9h1M138.7 1012.7h1M143.3 996.8h1M146.1 1007.5h1M147.5 992.8h1M136.7 1001.3h1M144.5 1010.7h1M128.9 1005.7h1M122.6 998.4h1M133.8 1015.4h1M138.7 1012.5h1M127 1009h1M135.5 1011.2h1M137.6 1010.7h1M136.3 995.8h1M138.2 1007.6h1M143.5 1011.2h1M134.8 1011.7h1M133.5 1019h1M139.9 1002.6h1M143.2 1013.5h1M133.7 981.6h1M145 1005.3h1M141.1 1013.2h1M134.1 1018h1M136.2 1012.3h1M131.5 1005.7h1M140.8 1013.2h1M137.1 1004h1M148.9 1003.5h1M120.2 1004.5h1M128.8 1004.9h1M133.2 1008.7h1M139.7 1013.8h1M134.2 1018.2h1M131.9 1021.1h1M139.1 1012.2h1M133.8 1003.7h1M138 1008.9h1M142.1 1016.7h1M142.6 1001.9h1M126.7 1016.2h1M131.8 1017.7h1M139.2 1016.3h1M135.3 1013.9h1M131.6 1009.5h1M140.3 1018.3h1M137 1021.1h1M139.3 1005.6h1M142.1 1006.9h1M134.1 1005.3h1M142.9 1003.2h1M137.6 1008.5h1M138.2 995.4h1M142.9 1010.5h1M126.4 1009.3h1M126.1 999h1M129.3 1005.9h1M141.9 1010.1h1M137.2 1009h1M133 1017.8h1M130 1003.8h1M125.9 1010.5h1M138.3 1005.5h1M136.3 998.8h1M138.9 1003h1M142.2 1006.9h1M138.3 1005.9h1M144.9 1007.9h1M133.9 996.1h1M145.9 1023.2h1M139.1 1012.3h1M133.1 1015h1M137.6 1005.7h1M150 1010.3h1M128.6 1008.1h1M132.7 994.3h1M133.8 1006.7h1M137.5 1002.3h1M136.8 1011.9h1M148.1 1014h1M135.2 1016.5h1M140.6 998h1M133.3 1017.2h1M129.5 1012.4h1M135.5 991.4h1M134.9 1005.9h1M140.6 1008.5h1M144.6 1010.5h1M133.6 1017.5h1M143.2 1005.9h1M130.1 1001h1M147.3 1015.5h1M127.3 1012.4h1M133.2 996.2h1M137.9 1011.6h1M134.1 1003.1h1M129.4 991.5h1M140.7 1015.3h1M130.2 1009.4h1M142.3 1015.6h1M127.3 1025.7h1M142.8 998.8h1M141.5 1004.2h1M139.6 1010.9h1M142.8 1005.3h1M135.1 1013.2h1M136 1019.7h1M143.5 1013.6h1M129.9 1014.5h1M134.6 1016.4h1M135 1000.7h1M134.9 1015.3h1M134.6 1017.1h1M121.1 1007.5h1M136.2 1005.3h1M138 996.2h1M143.9 1006.8h1M141.1 1019.3h1M132.5 1015.7h1M134.5 1001.6h1M130.4 1013.9h1M134 1005.3h1M132.4 994.7h1M143 1020h1M138.6 1020.3h1M139.9 1010.4h1M133.9 1009.1h1M135.2 1002.1h1M139.4 1021.2h1M131.3 1004.3h1M139.4 1010.8h1M141.6 1021.8h1M132.6 1010.8h1M136.2 1005.2h1M130.9 995.2h1M146.5 1013.7h1M139 1003.5h1M143 1019h1M134.9 1000.8h1M130.9 1008.2h1M135.7 996.9h1M144.9 1019.2h1M146.4 1017.6h1M141.2 1021.9h1M136.3 995.3h1M138.9 1012.5h1M143.1 1022.9h1M130 1014.6h1M141.9 1002.5h1M131.4 1004h1M138.1 1005.6h1M141 1019.1h1M138.2 1010.3h1M137.1 1024.1h1M144.5 1020.5h1M134 1004.4h1M134.3 1002.1h1M130.8 1010.7h1M137.7 1022.9h1M141.2 1016.3h1M135.8 1011.9h1M124.7 996.7h1M139.2 1013.9h1M140.4 1020.2h1M131.2 1018.1h1M135.1 1015.6h1M136.7 1013.2h1M131.8 1011h1M138.2 993.6h1M137 1013.5h1M129.4 1025.5h1M119.5 1001.1h1M130.8 1015h1M145.2 1014.9h1M143.9 1013.4h1M134.5 1006.6h1M129.9 1008h1M145.4 1005.4h1M140.8 1011.6h1M144.2 1008.6h1M147.9 1017.4h1M139.2 1017.3h1M137 1013.8h1M131.8 1012.6h1M137.4 1022.3h1M130.3 1018.4h1M143.1 999.5h1M135.1 1000.1h1M146.2 996.5h1M134.3 1000.2h1M139.2 1002.2h1M131.6 995.7h1M141.9 1004.1h1M131.4 1011.6h1M144.5 1011.3h1M139.9 1006.5h1M125.1 1005.7h1M127.9 1010.1h1M137.9 1011.6h1M136.1 1009.3h1M148.8 1015.1h1M131 991.6h1M135.2 1004.9h1M136.4 1024.4h1M137.9 1002.1h1M147.2 1015.3h1M135.9 1010.6h1M126.6 1008.8h1M146.2 1002h1M139.1 1009.2h1M127.2 1006.6h1M132.3 1009.9h1M134.6 990.8h1M137.3 1009.2h1M141.5 1015.7h1M135 1019h1M133.2 1008.7h1M130.4 1012.3h1M135.4 1007.4h1M136.9 1005.4h1M139.4 1017.8h1M123 1008.3h1M131 1014.4h1M139.4 1014.2h1M147 1016.2h1M142.1 1010.7h1M122.3 1014.4h1M124.4 1014.3h1M140 1011.6h1M136.7 1018.9h1M136.9 998.6h1M148.8 1003.9h1M129.9 1011.8h1M144 1006.5h1M137.1 1016.1h1M132.8 1008.1h1M123.5 1020.7h1M129.1 1009.3h1M145.9 1007.9h1M137 1011.7h1M141.5 1003.2h1M140.1 1015.1h1M135.5 1007.9h1M141.7 1004.6h1M138.4 1004.8h1M135.3 1009h1M134.5 996h1M131.9 1002.7h1M138.2 1003.8h1M135.3 1014.5h1M143.4 1008.3h1M134.5 1013h1M130.8 993h1M124.8 1005.9h1M141.2 1014.7h1M152 1002.2h1M136.2 1000.3h1M122.6 1013.3h1M142.3 1007.5h1M132.3 989.5h1M140.8 1008.5h1M138.7 1006.1h1M140.9 984.6h1M137.2 1008.9h1M134.8 1018h1M143.1 1016.2h1M134.6 1007.8h1M143.8 1002.8h1M132.7 1015.6h1M137.4 1024.6h1M131.8 1004.4h1M142.3 1010.5h1M132.2 1012.7h1M131.3 1015.8h1M142.4 1000.2h1M138.6 1010.2h1M135.9 1019.1h1M130.3 1016.6h1M136.1 1012.4h1M138.9 1020.2h1M140.6 1012.9h1M132 1000h1M139.5 1002.3h1M124.6 1001.1h1M136.8 1001.3h1M130.7 1007.7h1M140.9 1006h1M133.7 1022.4h1M150.7 1003h1M137.4 1004h1M138.4 1007h1M122.3 1007.1h1M127.8 1017.3h1M142.7 1012.6h1M132.1 1021.1h1M143.3 1012.6h1M131.9 1010.9h1M140.1 1013.9h1M131.3 999.9h1M139 1015.4h1M140.5 1006.3h1M141.9 1007.3h1M131.7 1010.3h1M128.2 1004.5h1M139.8 1005.8h1M137.7 1011.8h1M140.5 998.7h1M128.8 1010h1M141 1004h1M135.3 1016.9h1M129.6 1016h1M133.5 1007.5h1M142.1 990.9h1M137.4 1018.7h1M137.3 1018.1h1M136.9 1014.8h1M133.9 1012.3h1M144 1008.3h1M136.5 1000.8h1M127.4 1010.1h1M127.4 1004.2h1M132.9 1008.6h1M134 1013.3h1M141 1012.6h1M120.1 1005h1M141.2 1007.4h1M143.7 998.5h1M133.4 1007.2h1M144.2 1009.7h1M132.1 1017.6h1M135.4 1014.7h1M133.3 1005.9h1M146.4 1006.3h1M143.6 995.9h1M143.3 1013.5h1M129.3 1003.7h1M137 1009.3h1M129.3 1024.7h1M137.4 1017.6h1M140 1006.7h1M145.1 1011.4h1M135.5 1013.8h1M137.9 1000.1h1M135.6 1010.4h1M129.7 1006.4h1M146.9 1002.7h1M138.9 1012.2h1M145.6 1003.6h1M141.8 1016.3h1M128.4 1018.6h1M132.5 1000h1M140.8 998.6h1M141.9 1003h1M140.8 1014.5h1M136.5 1011.3h1M141.9 1015.9h1M130.2 1015.9h1M134.9 1007.6h1M129.2 1012.3h1M142.7 999.7h1M138.8 1020.8h1M140.9 1012.7h1M134.8 1018.1h1M120.4 1018.8h1M131.4 994.2h1M137.4 996.6h1M136.8 1005.5h1M142.3 1004.6h1M143.5 1004.1h1M132.9 1008.4h1M141.4 1033h1M125.5 1026.3h1M140.7 1004.4h1M123 1028.8h1M139.6 997.9h1M121.9 1002.5h1M139.6 1006.5h1M146.6 1006h1M135.4 1003.4h1M140.9 1013.6h1M143.5 994.6h1M119.3 1011h1M124.1 1016.1h1M136.5 994.5h1M129.4 1007.8h1M133.8 1006.3h1M153.9 999.6h1M148.4 991.8h1M140.6 1009.2h1M132.2 1008.1h1M140 1019.8h1M138.8 1008.7h1M135.5 995.8h1M147.2 1014.9h1M124.3 1016h1M146.7 1022.2h1M133.9 1019h1M145 1019.3h1M135.7 1008.8h1M132.9 1006.7h1M132.3 1024.8h1M138.3 1005.6h1M138.9 998.8h1M156.1 1002.3h1M146.9 1014.9h1M136.3 1002.5h1M128.7 1012.9h1M137.2 1017.7h1M140.3 1020h1M125.6 1020.6h1M136.7 1011.6h1M145 1004.2h1M133.6 1023.1h1M126.3 1024.8h1M141.6 999.7h1M147.1 1016.4h1M135.3 991.5h1M137.7 1005.9h1M144.3 1020.2h1M140.2 1001.6h1M132.2 1000.9h1M134.5 1022.4h1M136.2 1011h1M136.7 998.1h1M144.3 1021h1M130.1 1005.6h1M139.3 1006.3h1M135.7 993.6h1M123.3 998.6h1M141.5 1012.1h1M137.7 1020.2h1M128.3 1011.7h1M125.2 1008.2h1M142.9 1009.1h1M147.7 1012.4h1M137.3 1016.5h1M135.3 999h1M141.5 1012h1M132.4 1014.8h1M133.3 1007.3h1M142.9 1007.9h1M129.3 1009.1h1M144.2 999.5h1M138.7 1017h1M145.2 1006.9h1M124.6 1000.9h1M145.2 1012.5h1M136.1 1007.8h1M140.9 1003.8h1M131.4 1004.8h1M130 1008.8h1M144.2 1018.6h1M139.9 1016h1M140.3 1008.8h1M141.2 1011.2h1M140.7 1011.3h1M126.4 1013.1h1M134.7 1022.6h1M134.5 1004h1M149.9 1017.2h1M145.5 996.4h1M131 986.9h1M127 1002.6h1M141.5 1005.2h1M140.5 1013.8h1M145.8 1016.6h1M129.2 1012h1M147.7 1000.9h1M138.1 1008.6h1M145.2 1021.7h1M138.7 1002.5h1M134.1 1012.8h1M131.6 1002.3h1M145.8 1008.8h1M115.8 1015h1M144 1012.4h1M141.3 1003h1M132.3 1013.3h1M141.9 998.3h1M136 1015h1M128.3 997.5h1M134.9 1019.3h1M140.6 1017.4h1M137.1 1004.1h1M131.8 997h1M141.2 1011.2h1M141.6 1002.6h1M144.7 1016.1h1M138.2 1016.8h1M146.5 1008.7h1M132 992h1M133.8 1011h1M127.3 1021.5h1M136.2 1028.3h1M137 1009.6h1M136.4 1004.1h1M128.2 1011.8h1M143.2 1007.7h1M125.4 1015.1h1M130.4 999.1h1M117.1 1005.1h1M143.3 1020h1M141.7 1013.9h1M135.2 999.5h1M138.6 1009.4h1M128.3 1027.8h1M129.3 1012.3h1M130 1013.2h1M138.5 1030.7h1M133.9 1005.6h1M137.6 998.3h1M129.4 1013.6h1M127.6 1016.4h1M139.2 1011.1h1M138.3 1013.1h1M139.3 1010h1M132.3 1005.3h1M138.2 1022h1M126.2 1012.1h1M129.2 994.5h1M138.6 1010.6h1M130.2 1008.7h1M128.4 1006.8h1M130.3 1016.1h1M147.4 1020.6h1M133.6 991.5h1M138.5 1009.4h1M135.4 1017.6h1M152.5 1002.6h1M135.8 1012.8h1M143.5 1017h1M142.8 1013.7h1M139.4 1020.4h1M136.7 1017.7h1M126.6 1002.5h1M140.4 1008.7h1M151 1011.8h1" stroke="#6cc840" stroke-width="1" stroke-opacity="0.9" fill="none"/>
<path d="M100.4 1031.5h1M109.9 1034.1h1M107.5 1033.5h1M104.6 1030.5h1M101.2 1030.7h1M117.5 1035h1M104 1029.4h1M113.3 1032.8h1M98.6 1035.3h1M108.3 1032.6h1M110.9 1032.1h1M112.4 1028.7h1M118.9 1030.2h1M71.2 1039.1h1M116 1036h1M117.2 1029.8h1M107.5 1031.4h1M116.4 1035.2h1M87.9 1033.8h1M91.8 1027.3h1M105.4 1039.5h1M112.2 1028.4h1M117.2 1029h1M116.1 1034.1h1M117.8 1033.1h1M117.4 1031.1h1M101.9 1032h1M116.8 1031h1M117.4 1028.6h1M107.1 1034.2h1M110.5 1032.3h1M111.5 1030.8h1M110.8 1033.6h1M118.1 1032.3h1M107.1 1027.8h1M117.7 1038.5h1M108.6 1031.4h1M117.1 1033.9h1M91.7 1035.7h1M113 1032.9h1M97.2 1031.1h1M119 1029.7h1M83.9 1034.6h1M113.4 1030.3h1M93.8 1031.7h1M116.1 1030h1M117.8 1030.8h1M115.5 1030.2h1M113.4 1035.1h1M114.4 1028.5h1M77 1030.8h1M108.3 1026.6h1M101 1029.7h1M108.6 1034.9h1M108.6 1028.6h1M117.5 1028h1M107.9 1029h1M92.6 1033.1h1M112.5 1033.5h1M92.6 1028.1h1M110.9 1034.5h1M107.1 1029.5h1M118.9 1031.8h1M103.2 1034.2h1M98.6 1033.3h1M99.2 1033.8h1M91.5 1030.6h1M111.9 1034.2h1M79 1032.4h1M114.3 1032.9h1M97.8 1031h1M107.1 1029.1h1M51.3 1036.7h1M110.2 1030.9h1M108.9 1034.3h1M114.6 1032.8h1M112.7 1032.6h1M65.8 1027.4h1M101.6 1027.6h1M105.8 1032.9h1M66.8 1032.9h1M105.4 1027.8h1M117.4 1030.6h1M118.4 1026.5h1M119 1034.3h1M86.8 1028.7h1M91.2 1033.7h1M87.9 1041.1h1M117.8 1029.9h1M97.7 1035.1h1M113.3 1030h1M117.2 1033.1h1M113 1028.4h1M117.8 1036.3h1M115.2 1037h1M117.2 1027.6h1M111.8 1028.9h1M114.7 1031.9h1M110.7 1037.1h1M117.6 1029.6h1M96.6 1024.7h1M95.7 1033.3h1M118.1 1033.4h1M89.8 1034.8h1M118.3 1030.8h1M118.1 1032.5h1M112.3 1036.9h1M74.9 1034.5h1M114 1029.4h1M107.8 1035.7h1M113.9 1031.5h1M81.8 1029.2h1M113.8 1030h1M113.1 1037.7h1M105.8 1030.5h1M114.9 1035.7h1M115.1 1038.5h1M117.8 1031.4h1M109.9 1037.3h1M104.8 1033.1h1M112.4 1028.6h1M89.1 1030.7h1M115.5 1032.8h1M104.3 1029.5h1M106.5 1032.2h1M108.2 1029.9h1M116.1 1028.9h1M100.9 1035.4h1M104.6 1027.3h1M60.5 1032.8h1M103.3 1032.2h1M115.2 1031.8h1M117.4 1033.2h1M106.1 1033.7h1M71.6 1030.8h1M117.9 1034.2h1M114.8 1030.9h1M118.8 1030.1h1M117.2 1034.1h1M118.7 1033.4h1M114.4 1030.8h1M116.5 1032.5h1M119.1 1030.5h1M118.1 1032.6h1M104.8 1033.4h1M113.7 1033.1h1M117 1031.5h1M93.4 1028.8h1M112 1037.5h1M73.3 1033.9h1M102 1033.6h1M113.9 1034.8h1M111.1 1033.9h1M109 1028.9h1M107.8 1029.3h1M97.8 1034.2h1M118.1 1036.8h1M85.5 1031.1h1M118.3 1031h1M100.1 1036h1M96.1 1031.8h1M117.5 1031.1h1M87.5 1030.4h1M102.5 1033.9h1M110.1 1030.9h1M105.3 1032.9h1M115.6 1029.8h1M107.6 1031.6h1M109.5 1030.5h1M100.2 1032.4h1M110.6 1033.2h1M117 1031.7h1M105.3 1029.8h1M104.1 1033.5h1M114.1 1031.3h1M112.2 1025h1M117.1 1034.3h1M60.3 1036.4h1M119 1035.3h1M112.5 1033.3h1M104.9 1032.4h1M105.2 1039.1h1M109 1038.4h1M107.3 1030h1M103.8 1036.6h1M104.8 1030.3h1M111.9 1028.7h1M108.1 1041.7h1M78.6 1030.7h1M89 1032.3h1M118 1033.4h1M112.8 1031.2h1M111.6 1032.6h1M116.8 1030.8h1M96.8 1026.8h1M117.7 1031.5h1M117.4 1036.1h1M107.6 1028.2h1M114.2 1029h1M110.4 1023.6h1M117.8 1039.3h1M114.3 1027.5h1M106.7 1027.7h1M120 1029h1M116.2 1011.7h1M110.4 1020.6h1M118.1 1019.9h1M112.4 1023.8h1M116.8 997.6h1M117.2 1013.4h1M118.4 1032.7h1M118.2 1020.7h1M115.2 1033.1h1M109 1027.7h1M117.6 1026.9h1M115.5 1039.4h1M114.2 1043.9h1M116.4 1037.7h1M116.6 1020.8h1M119.3 1052.8h1M119.3 1020.3h1M118.9 1046.5h1M120.3 1033.7h1M113.9 1031.3h1M114 1019h1M117.6 1026.1h1M119.4 1036.6h1M117.2 1031.8h1M115.3 1023.7h1M116.8 1015.7h1M118.3 1023.5h1M118.4 1027.2h1M119.8 1028.7h1M116.9 1011h1M113.3 1034h1M113.8 1030.5h1M117.9 1022.7h1M119.7 1013.8h1M116.1 1042.7h1M117.6 1016.8h1M115 1015h1M116.8 1023.7h1M106.8 1044.4h1M120.4 1033.1h1M116 1027.5h1M120.2 1023.4h1M119.1 1038.1h1M99.7 1028.6h1M112.6 1019.3h1M115.4 1031.5h1M109.4 1029.1h1M114.9 1030.7h1M114 1039.9h1M116.6 1029.7h1M109.3 1028.3h1M111.3 1019h1M119.9 1033.9h1M114.2 1038.8h1M114.3 1030.9h1M118.6 1034.7h1M109 1020.8h1M119.4 1031.6h1M119.4 1041.3h1M119.4 1020.4h1M115.4 1026.9h1M106.5 1024.5h1M120.4 1022.4h1M117.6 1016h1M117.5 1035.1h1M112.6 1020.2h1M119.7 1025.5h1M113.3 1025.7h1M118.5 1027.2h1M119 1030.7h1M118.4 1024.2h1M109.6 1025.9h1M118.1 1019.6h1M114.4 1011.9h1M119.7 1035.7h1M116.5 1007.5h1M116.1 1015.7h1M114.9 1037.2h1M117.6 1027.5h1M101.3 1026.2h1M111.8 1014.9h1M109.9 1035.5h1M117.5 1009.7h1M117.6 1036.6h1M113.7 1029.7h1M118.8 1032.1h1M120 1038.2h1M115.6 1037.1h1M117.1 1031.9h1M114.7 1028.8h1M112.2 1032.1h1M119.6 1035.1h1M113.8 1051.1h1M119.7 1028.9h1M116.3 1008.1h1M120.5 1010.2h1M103.4 1015h1M113.6 1030h1M116.5 1021.2h1M112.2 1031.3h1M119 1030.7h1M106.6 1024.7h1M111.9 1016.4h1M108.3 1030.9h1M108.2 1032.5h1M107.5 1024.3h1M137.4 1062.9h1M164.5 980.6h1M160.3 1000.7h1M156 1066.6h1M165.4 1062h1M120.3 1030h1M93.7 975.4h1M151.2 968.8h1M98.6 966.7h1M187.2 1028.8h1M178 1020.4h1M132.9 986.7h1M150 1029.3h1M165.2 992.1h1M151.1 1049h1M177.5 1006.4h1M188 973h1M150.1 966.5h1M132.4 981.4h1M120 1030.8h1M120.7 1029.5h1M121.2 1029.6h1M119.2 1024.1h1M120.4 1014.1h1M120.1 1032.9h1M120.9 1027.7h1M120.8 1022.1h1M120.4 1032.1h1M119.2 1029.1h1M120 1016.9h1M120.1 1031.4h1M119.9 1023.8h1M119.7 1018.7h1M120.3 1026h1M120.4 1020h1M120.4 1018.4h1M119.6 1018.4h1M120.1 1015.4h1M118.9 1022.7h1M119.5 1020.6h1M120.6 1026.7h1M119.8 1024h1M120.1 1017h1M120.8 1017.4h1M119.6 1028.8h1M120.1 1020.5h1M119.1 1030.6h1M120.9 1023.9h1M119.8 1023.7h1M120.6 1015h1M120.6 1032.7h1M120.1 1018.3h1M120.5 1025.5h1M119 1030.3h1M119.5 1022.5h1M119.1 1017.1h1M120.8 1017.3h1M120.6 1032.3h1M120.9 1015.9h1M121.2 1027.9h1M121.4 1029.4h1M119.9 1021.6h1M118.7 1021.6h1M120 1016.6h1M121.9 1028.2h1M120.5 1032.7h1M120.8 1033.5h1M120.8 1026.3h1M120.6 1024.6h1M119.8 1021.8h1M119 1021.9h1M120.7 1033.3h1M119.7 1032.9h1M121.6 1024.3h1M120.6 1026.2h1M120.6 1031.8h1M120.2 1031.5h1M118.7 1019.9h1M119.3 1020.8h1M120.8 1018h1M119.1 1029.8h1M119 1028.2h1M121.2 1031.3h1M119 1017h1M120 1020.8h1M120.4 1021.5h1M121.9 1023.9h1M120.7 1035.4h1M120.5 1014.9h1M118.4 1023.1h1M120.2 1014.1h1M118.6 1028.8h1M120.4 1018h1M118.8 1027.2h1M121 1022.8h1M120.6 1026.6h1M119.8 1031h1M120.4 1029.3h1M120.4 1014.5h1M120.3 1017.6h1M120.3 1015h1M120.7 1029.7h1M120.2 1031.7h1M119.9 1018.4h1M120.4 1030h1M119.4 1027.1h1M121 1017.5h1M120.8 1021.8h1M119.2 1016.3h1M119.8 1027.2h1M119.9 1027.7h1M120.2 1016h1M120.5 1023.4h1M121.3 1026.6h1M121.5 1025.5h1M118.4 1021.1h1M120.8 1021.3h1M118.7 1030.3h1M120.7 1013.8h1M120.5 1018.4h1M119.3 1026.8h1M120.1 1034.8h1M119.9 1017.7h1M121.2 1025.3h1M119.5 1022.3h1M119.9 1031h1M120.4 1030.4h1M121.4 1029.9h1M119.7 1019.4h1M120.4 1017.8h1M119.3 1025.7h1M120.9 1019.5h1M119.2 1019.6h1M120.4 1020.4h1M120.4 1032.5h1M120 1017h1M121.1 1026.7h1M121.5 1018.6h1M120.1 1019.7h1M120.4 1016.1h1M120.3 1031h1M121.1 1028.2h1M120.6 1015.2h1M120.2 1031.2h1M120 1021.9h1M119.6 1031.4h1M120.1 1032.8h1M120 1026.8h1M121.6 1027.1h1M120.7 1017.1h1M118 1025.7h1M119.6 1027.9h1M121.2 1023.9h1M120.8 1034.4h1M119.3 1033.1h1M120.2 1016.4h1M121.3 1018.9h1M120 1014.9h1M120.1 1034h1M120.3 1016.5h1M119.4 1018.4h1M121 1024.3h1M120.4 1015.8h1M120.4 1015.4h1M119.9 1016.6h1M120.7 1035.2h1M119.7 1023.6h1M119.9 1015.7h1M120 1030h1M119.1 1019.2h1M119.5 1022.1h1M122.2 1023.1h1M119.4 1020.5h1M119.9 1033.9h1M120.3 1036h1M120.4 1030.9h1M120.4 1018.5h1M120.4 1034.4h1M119.5 1034.1h1M119.6 1026.8h1M118.2 1020.7h1M120.7 1029.5h1M120.4 1018.8h1M120.8 1019.9h1M118.6 1027.3h1M118.7 1018.3h1M120.1 1028.1h1M119 1025.9h1M119.7 1015.7h1M119.4 1020.2h1M118.9 1019.5h1M119.5 1015.4h1M120.3 1027h1M120.4 1033.3h1M120.7 1021.2h1M120.3 1026.5h1M120.2 1018.7h1M120.5 1015.7h1M119.7 1025.7h1M120.3 1014.7h1M119.8 1026h1M118.5 1018.4h1M120.4 1016.8h1M121.4 1019h1M121.5 1023.8h1M120.2 1014.1h1M120.3 1021.4h1M120.3 1031.4h1M121.4 1030.8h1M121.6 1026h1M119.2 1024.9h1M119.5 1019.5h1M119.9 1017.7h1M119.5 1028h1M121.5 1023.6h1M118.7 1030.7h1M119.6 1033h1M118.6 1023.4h1M119.4 1023.1h1M120.6 1022.7h1M119.9 1035.6h1M120.6 1015.6h1M121.4 1019.6h1M120.4 1014.9h1M120.7 1013.6h1M119.9 1030.7h1M120.4 1022.2h1M120.1 1033.5h1M121 1021.2h1M120.4 1014.2h1M120.6 1023.3h1M120.8 1031.7h1M121 1020.8h1M119.8 1015.6h1M120.4 1017.4h1M119.9 1016h1M120 1033.5h1M120.2 1017.9h1M120.6 1027h1M120.1 1030.7h1M119.8 1026.3h1M120.9 1033.4h1M120.5 1028.7h1M118.1 1021.5h1M120.5 1034.1h1M119.9 1031.9h1M120.6 1031.4h1M120.7 1020.5h1M121.2 1017.2h1M119.7 1024.4h1M120.7 1015.7h1M120.1 1032.4h1M119.7 1018.4h1M119.1 1017.9h1M120.4 1032.6h1M121.3 1028.4h1M119.9 1028.4h1M121 1028.5h1M120.3 1015.5h1M120.7 1030.7h1M119.9 1029.1h1M120.5 1031.4h1M119.1 1021.9h1M120.7 1024.3h1M121.4 1017.8h1M121 1019.9h1M119.9 1017.1h1M118.2 1026.4h1M120.2 1028.6h1M119 1021.9h1M120.1 1032.1h1M120.9 1031.2h1M118.4 1018.9h1M119.9 1020.3h1M120.1 1033h1M120.7 1031h1M120.5 1016.1h1M120.9 1014.5h1M120.5 1016.2h1M120.6 1017.7h1M118.3 1028.3h1M120.1 1020.6h1M120.2 1034.9h1M120 1023h1M121 1028.1h1M118.9 1021.7h1M118.5 1031.7h1M121.5 1030.2h1M120 1031h1M120 1033.2h1M121.3 1021h1M120.6 1015.1h1M120.3 1018.2h1M120.3 1025.2h1M120.7 1018.7h1M119.1 1025.4h1M120.1 1023.9h1M121.4 1032.9h1M120.6 1025.3h1M120.4 1021.7h1M121.9 1028.2h1M120.4 1035.7h1M120.9 1035.5h1M120.4 1016.3h1M120 1029.7h1M120.5 1017.2h1M120.4 1026.3h1M119 1029.2h1M121.6 1017.7h1M120.5 1033.9h1M122.2 1023.2h1M119.4 1026.1h1M120.2 1015.2h1M118.9 1022.3h1M120 1019.8h1M120.6 1032.5h1M121.9 1028.7h1M119.7 1027.7h1M120.1 1032.8h1M120.9 1017.9h1M120.5 1015.1h1M119.7 1018.7h1M119.8 1019.7h1M119.5 1027.5h1M121.2 1028h1M120.1 1034.6h1M120 1032.2h1M121 1031.2h1M119.5 1023.1h1M121 1030.2h1M118.7 1025.3h1M120.1 1035.7h1M121.2 1018.8h1M120.6 1034.9h1M119.4 1020h1M119.4 1031.7h1M118.8 1029.6h1M120.4 1032.4h1M119.9 1030h1M120.4 1017.1h1M120 1021.3h1M122.3 1030.4h1M121 1017.2h1M119.3 1032.2h1M120.3 1027.9h1M118.9 1027.4h1M120.4 1034.3h1M120 1032.4h1M120.4 1031.9h1M120 1016.9h1M119.3 1033.7h1M120.6 1015.3h1M118.3 1023.1h1M119.2 1028h1M119.9 1033.6h1M120.4 1014.6h1M119.3 1018h1M119.9 1022.3h1M120.3 1016.2h1M121.7 1030.1h1M119.6 1029.8h1M120.3 1030.6h1M120.7 1021.7h1M120.1 1032.8h1M120.4 1016.4h1M120.9 1030.8h1M119.4 1022h1M117.3 1027.3h1M119.8 1021h1M120.4 1034.2h1M120.5 1032.4h1M120.5 1034h1M121.1 1030.3h1M120.1 1023.1h1M119.7 1019.4h1M119 1021.4h1M119 1020h1M120.9 1030.3h1M119.8 1017.4h1M119.2 1024.2h1M121.4 1021.5h1M119.3 1031.4h1M120.9 1022.8h1M119.9 1034.8h1M120 1033.2h1M120 1015.5h1M120.4 1025.1h1M119.9 1017.8h1M120.7 1033.6h1M119.4 1022.8h1M121.3 1032.6h1M119.9 1031.1h1M118.8 1031h1M119.5 1018.1h1M119.2 1020.9h1M120.4 1032h1M119.6 1015.9h1M121.1 1029.3h1M119.1 1026.3h1M119.7 1030.3h1M121.1 1022.5h1M118.6 1031.2h1M121.2 1015.1h1M119.6 1032.2h1M118.3 1028.7h1M120.9 1035.1h1M120.2 1034h1M118.3 1022.6h1M120.6 1023.5h1M121.6 1022.8h1M121.6 1023.6h1M120.6 1033.5h1M119.1 1022.5h1M119.5 1022.4h1M120.8 1023.3h1M120.5 1033.6h1M120 1031.7h1M121.5 1024.2h1M118.8 1021.9h1M121.7 1024.7h1M118.9 1026.1h1M120 1016.2h1M120.2 1015.4h1M120.7 1031.4h1M121 1031.4h1M119.8 1013.8h1M119.9 1034.5h1M120 1034.2h1M119.9 1022.6h1M119.3 1022h1M118.9 1025.7h1M121.6 1025.1h1M120.7 1028.9h1M120.1 1029.6h1M120.9 1022.6h1M120.1 1016.9h1M119.3 1032.9h1M118.5 1029.3h1M120.6 1029.7h1M120.1 1031.2h1M120 1021.9h1M119.3 1030.5h1M120.2 1021.4h1M120.3 1021.4h1M121.1 1032.3h1M121.2 1029.7h1M119.5 1020.9h1M121.8 1021.7h1M120.8 1032.7h1M121.4 1029.5h1M119.9 1028.8h1M121.1 1022.7h1M119 1031.4h1M121.3 1023.4h1M119.3 1025.9h1M120.5 1017.2h1M119.8 1017h1M120.1 1021.7h1M120.2 1020.3h1M119.4 1032.3h1M120.2 1027.4h1M120.9 1031.6h1M120.4 1034.7h1M121 1031.9h1M122.4 1022.6h1M120.3 1016.3h1M120.9 1015h1M120.2 1026.7h1M119 1022.2h1M120.8 1019.9h1M119.2 1018.9h1M120.1 1028.1h1M121.8 1031.7h1M119.3 1023.9h1M119.5 1032.4h1M120 1016.9h1M120.5 1031.5h1M120.9 1023.9h1M120.1 1014.7h1M119.4 1025.1h1M120.6 1032.4h1M120 1020.4h1M121 1020.8h1M119.6 1031.1h1M121.4 1021.9h1M120.4 1018.3h1M120.1 1031.4h1M119.2 1032.5h1M119.9 1029.8h1M119.9 1024.7h1M120.8 1015.6h1M120.4 1036h1M119 1024.7h1M119.6 1033.8h1M120.9 1022.5h1M119.9 1013.2h1M121.1 1033.9h1M120.4 1016.3h1M119.6 1021.5h1M119.5 1030.2h1M121.5 1024h1M120 1018.8h1M120.3 1031.6h1M119.1 1016.6h1M120.2 1023.5h1M119.1 1027.8h1M119 1033.2h1M120.2 1034.9h1M120.2 1034.2h1M118.7 1025.2h1M121.8 1016.1h1M119 1028.4h1M119.2 1022.1h1M120.3 1020.7h1M120.4 1029.4h1M120.4 1018.7h1M119.9 1018.6h1M121.4 1019.3h1M119.5 1018.8h1M118.5 1020.1h1M119.1 1028.2h1M120.1 1032.9h1M120.3 1015.5h1M121.4 1016.6h1M120.3 1034.5h1M120 1033.7h1M119.6 1019.8h1M119.3 1028.5h1M120.7 1021.8h1M118.8 1022.7h1M121.2 1030.5h1M119.3 1019.9h1M119.7 1032.1h1M120.3 1034h1M118.9 1031.2h1M120.2 1030.3h1M120 1025h1M121.3 1028.1h1M120.7 1031.5h1M119 1016h1M120.4 1026.5h1M119.2 1020.6h1M119.8 1033.7h1M119.3 1029.2h1M121.4 1033.2h1M119.6 1025.5h1M120 1027.4h1M120.9 1022.6h1M121.7 1029.3h1M120.2 1014.6h1M120.3 1015.5h1M120.3 1023h1M120.2 1017.3h1M119.8 1024.4h1M119 1021.3h1M119.5 1028h1M119.6 1018h1M119.6 1032.8h1M119.5 1022.1h1M120.2 1032.8h1M120 1015.1h1M119.9 1018h1M120.9 1028.8h1M120.6 1034.9h1M119.1 1028.4h1M119.4 1015.3h1M122.4 1028.9h1M120.1 1032.5h1M121.2 1033.6h1M120.1 1032.1h1M121.1 1034h1M120.5 1028.1h1M120 1021.5h1M120 1034.3h1M120 1030.7h1M119.2 1028.3h1M120.4 1034.4h1M120.2 1017.3h1M120.5 1022.3h1M120.6 1026.3h1M118.9 1027.1h1M120.4 1031.2h1M120 1025.6h1M120.8 1032.9h1M121.7 1023.2h1M119.9 1031.5h1M117.8 1025.5h1M120 1023.6h1M119.9 1025.8h1M119.3 1019.6h1M120.4 1026.2h1M120.2 1014.6h1M120.6 1029.2h1M119 1019.9h1M120.3 1031h1M119.8 1026.2h1M119.8 1025h1M121 1024.7h1M119.4 1026h1M119.9 1031.8h1M120.7 1020.3h1M119 1031.2h1M120.6 1014.2h1M119.3 1028.1h1M118.4 1030.9h1M121.4 1025.7h1M121.6 1023.4h1M120.2 1031.5h1M119.9 1014.5h1M118.8 1018.3h1M120.3 1021.7h1M121.5 1027.8h1M118.7 1029.1h1M120.3 1034.9h1M120.9 1013.4h1M120.7 1031.7h1M119.9 1029.9h1M122.1 1026.1h1M119.7 1015h1M120.5 1022.2h1M120.8 1033.3h1M118.8 1029.2h1M119.6 1019.8h1M119.7 1020h1M122.1 1031.5h1M119.9 1022.3h1M119.9 1021.6h1M119.5 1028.8h1M121.7 1016.7h1M121.8 1020.3h1M119.5 1018.1h1M119.8 1016h1M120.6 1020.1h1M120.2 1026.8h1M120.4 1015.2h1M119.4 1019.8h1M118.6 1019h1M120.2 1022h1M119.4 1030.8h1M122.7 1023.8h1M120.3 1032h1M120.4 1015.6h1M120.4 1028.9h1M119.8 1032.6h1M120.3 1033h1M119.1 1029.8h1M120.2 1032h1M120.5 1029.7h1M120.1 1029.8h1M117.2 1022.4h1M120.6 1030.6h1M119.4 1020.1h1M120.7 1033.9h1M120.3 1014.7h1M120 1026.4h1M120.5 1030.1h1M119.3 1023.7h1M120.2 1017.3h1M119.9 1031.4h1M120.6 1030.5h1M120.8 1030.9h1M119.5 1018.7h1M119.6 1023.1h1M119.7 1016.7h1M121.6 1019.9h1M120 1035.7h1M120.1 1019h1M120.2 1014.8h1M119.4 1030.9h1" stroke="#ee2020" stroke-width="1" stroke-opacity="0.9" fill="none"/>
<rect x="49.7" y="937.6" width="165.2" height="166" fill="none" stroke="#3a3a3a" stroke-width="1.2"/><path d="M49.7 1089.8h3M214.9 1089.8h-3M73.3 937.6v3M73.3 1103.6v-3M49.7 1062.1h3M214.9 1062.1h-3M96.9 937.6v3M96.9 1103.6v-3M49.7 1034.4h3M214.9 1034.4h-3M120.5 937.6v3M120.5 1103.6v-3M49.7 1006.8h3M214.9 1006.8h-3M144.1 937.6v3M144.1 1103.6v-3M49.7 979.1h3M214.9 979.1h-3M167.7 937.6v3M167.7 1103.6v-3M49.7 951.4h3M214.9 951.4h-3M191.3 937.6v3M191.3 1103.6v-3" stroke="#3a3a3a" stroke-width="1.2" fill="none"/>
<text x="40.2" y="1090" font-size="18.4" text-anchor="end" fill="#000" >-40</text>
<text x="72.5" y="1128.2" font-size="18.4" text-anchor="middle" fill="#000" >-40</text>
<text x="40.2" y="1034.6" font-size="18.4" text-anchor="end" fill="#000" >0</text>
<text x="120.5" y="1128.2" font-size="18.4" text-anchor="middle" fill="#000" >0</text>
<text x="40.2" y="979.3" font-size="18.4" text-anchor="end" fill="#000" >40</text>
<text x="167.7" y="1128.2" font-size="18.4" text-anchor="middle" fill="#000" >40</text>
<text x="120.4" y="1151.6" font-size="19.4" text-anchor="middle" fill="#000" >CH2 - PC2</text>
<text x="19" y="1028" font-size="18.8" text-anchor="middle" transform="rotate(-90 19 1028)" >CH1 - PC1</text>
<path d="M395.6 1018.1h1.4M641.1 1012.9h1.4M395.6 1015.4h1.4M567.5 1005.8h1.4M527.3 1011.1h1.4M483.3 1016.3h1.4M475.6 1013.4h1.4M638.9 1016.2h1.4M386.8 1007.6h1.4M543.7 1016.5h1.4M670.8 1016.5h1.4M535 1010.9h1.4M596 1015.1h1.4M375.4 1011.6h1.4M344.3 1012.2h1.4M410.2 1015.2h1.4M280.7 1019.9h1.4M631.4 1022.9h1.4M322.5 1012.3h1.4M395.5 1014.4h1.4M497.8 1010.3h1.4M305.4 1012h1.4M454.6 1013.2h1.4M403.1 1014.6h1.4M278.7 1008.8h1.4M529 1027.9h1.4M480 1021h1.4M414.7 1010.8h1.4M420 1013.6h1.4M543.8 1016.8h1.4M644.4 1015.4h1.4M370.4 1009.2h1.4M400.8 1011h1.4M330.5 1012.3h1.4M598.2 1021.2h1.4M317.5 1008.4h1.4M598 1016.3h1.4M418.8 1010.2h1.4M285.9 1010.6h1.4M314.7 1021h1.4M452.9 1019.5h1.4M661.1 1020.3h1.4M382.2 1017.8h1.4M491.9 1010h1.4M349.3 1007.5h1.4M653.9 1011.8h1.4M426.5 1014h1.4M420.8 1016.5h1.4M490.4 1005.9h1.4M348.1 1013.1h1.4M421.7 1017h1.4M604.1 1012.9h1.4M290.8 1010.4h1.4M509.7 1015.1h1.4M317.6 1015.2h1.4M413.7 1020.3h1.4M385.4 1010.6h1.4M609.1 1016.6h1.4M665.8 1010.1h1.4M534 1012.5h1.4M424.4 1012.1h1.4M671.8 1016.2h1.4M634.4 1010.9h1.4M385.1 1018.6h1.4M476.6 1012.3h1.4M451.8 1005.8h1.4M305.4 1002.4h1.4M615 1018.1h1.4M347.7 1010.7h1.4M351.1 1012.8h1.4M671.5 1014.7h1.4M622.8 1009.2h1.4M298.2 1019.2h1.4M612.2 1010.2h1.4M368.3 1017.3h1.4M667.3 1006.6h1.4M396.5 1011.6h1.4M548.7 1001.2h1.4M325.4 1007.1h1.4M379.2 1012h1.4M558.3 1019.2h1.4M530.5 1024.6h1.4M501.5 1012h1.4M331.8 1014.5h1.4M545.4 1008.3h1.4M539.4 1017.1h1.4M361.5 1012.6h1.4M316.9 1016.2h1.4M326.4 1011.1h1.4M279.2 1011.3h1.4M323.2 1019.9h1.4M651.8 1013h1.4M309.4 1007.8h1.4M383.2 1011.1h1.4M365.2 1007h1.4M399.4 1016.8h1.4M538.1 1021.2h1.4M295.1 1016.7h1.4M391.8 1018.6h1.4M550.2 1005.1h1.4M520.8 1012.3h1.4M560.3 1008.7h1.4M604.1 1005.6h1.4M291.7 1011.9h1.4M601.8 1023h1.4M536.2 1023.9h1.4M346.5 1009.6h1.4M415 1009h1.4M565.4 1018.3h1.4M471.5 1010.8h1.4M280.2 1010.3h1.4M524.4 1012.4h1.4M341.2 1019.2h1.4M435.6 1007.4h1.4M658.1 1017.8h1.4M666.7 1010.6h1.4M289.8 1019.9h1.4M434.3 1017.3h1.4M526.2 1009.1h1.4M412.9 1017.9h1.4M572.6 1020.6h1.4M450.9 1013.6h1.4M383.4 1013.9h1.4M454.4 1018.6h1.4M379.9 1011.4h1.4M383.6 1010.3h1.4M420.1 1012h1.4M304.9 1005.1h1.4M572.9 1015.9h1.4M453.4 1006.9h1.4M456.3 1013.7h1.4M433.7 1019.7h1.4M664.7 1019.4h1.4M612.9 1020.7h1.4M277.4 1022.6h1.4M616.2 1011.6h1.4M650 1021.4h1.4M500.4 1014.9h1.4M417.2 1012.8h1.4M669.8 1014.4h1.4M411.8 1009.1h1.4M652 1019h1.4M627.2 1017.7h1.4M356.3 1008.2h1.4M475.9 1008.4h1.4M354.2 1013.7h1.4M527.3 1018.2h1.4M311.5 1017h1.4M452.7 1009.9h1.4M296.3 1004.9h1.4M281.7 1016.5h1.4M278.6 1014.2h1.4M308.4 1018h1.4M627.1 1008.3h1.4M316.9 1013h1.4M638 1011.3h1.4M566.5 1016.6h1.4M341.5 1007.6h1.4M495.3 1010.9h1.4M425.2 1008.7h1.4M511.7 1014.7h1.4M640.6 1016.4h1.4M373.4 1011.6h1.4M523.2 1012h1.4M272.4 1007.5h1.4M570.2 1007.6h1.4M337.6 1019.4h1.4M398.7 1022.3h1.4M597.1 1007.5h1.4M597.6 1015.3h1.4M428 1015.4h1.4M545.7 1010h1.4M543.6 1012.7h1.4M329.8 1013.1h1.4M353.2 1011.1h1.4M362 1014.8h1.4M474.6 1013.9h1.4M660.7 1015.4h1.4M409.6 1011.8h1.4M350.8 1015.9h1.4M464.7 1006.2h1.4M466.7 1011.1h1.4M273.6 1013.6h1.4M395.8 1008.5h1.4M639.9 1011.6h1.4M541 1009.2h1.4M428.9 1010.4h1.4M634.3 1019.3h1.4M336.5 1007.5h1.4M277 1008.4h1.4M574.1 1014.8h1.4M300.2 1001h1.4M588.9 1019.2h1.4M447.4 1008.1h1.4M379.3 1014.4h1.4M413.4 1013.3h1.4M672.5 1008.8h1.4M312.2 1008.1h1.4M428.4 1009.1h1.4M655.2 1019.5h1.4M354.9 1007.8h1.4M655 1016.1h1.4M283.7 1013.8h1.4M529.7 1012.1h1.4M377.6 1019.6h1.4M370.9 1007.6h1.4M581 1013.9h1.4M375.5 1018.3h1.4M585 1016h1.4M632.4 1019.1h1.4M432.4 1018.6h1.4M510.6 1011.2h1.4M550.6 1010.6h1.4M539.3 1006.8h1.4M274.2 1001.9h1.4M340.6 1008.9h1.4M510.4 1024.5h1.4M658.5 1009.6h1.4M609.6 1011.6h1.4M533.1 1009.7h1.4M623.3 1008.6h1.4M485.7 1012h1.4M275.4 1008.3h1.4M535.1 1009.4h1.4M392.3 1002.6h1.4M333.6 1016h1.4M545.2 1017.6h1.4M344 1013.8h1.4M541.5 1000.7h1.4M495.1 1022.6h1.4M303.8 1013.9h1.4M539.1 1018.3h1.4M605.9 1013.4h1.4M334.3 1011h1.4M279.9 1017.4h1.4M633.1 1007h1.4M402.2 1003.1h1.4M510 1015.1h1.4M431.7 1008.7h1.4M541.6 1017.3h1.4M282.7 1018h1.4M536.7 1009.2h1.4M555.8 1009.2h1.4M435.4 1018.2h1.4M423.7 1009.9h1.4M418 1006h1.4M370.2 1015.6h1.4M664.4 1020.4h1.4M430.3 1011.4h1.4M325.7 1007.8h1.4M326.1 1013h1.4M395.2 1010h1.4M328.6 1015.5h1.4M645.5 1011.6h1.4M373.6 1014.2h1.4M403.3 1012h1.4M521.3 1009.5h1.4M370.5 1013.2h1.4M363.2 1013.5h1.4M298.5 1020.3h1.4M502.1 1022h1.4M334.4 1015.7h1.4M677.3 1013.1h1.4M626.7 1014.9h1.4M483.9 1012.9h1.4M616.6 1014.5h1.4M490.2 1015.2h1.4M381.9 1016h1.4M473.7 1013.6h1.4M672.4 1009.6h1.4M444.6 1014.4h1.4M433.5 1020.9h1.4M296.8 1017.2h1.4M546.5 1017.3h1.4M668.2 1012.5h1.4M520 1008.3h1.4M651.7 1026.3h1.4M333.8 1016.7h1.4M676.3 1016.4h1.4M587.4 1002.5h1.4M396 1016.5h1.4M407.5 1010.5h1.4M652.8 1005.7h1.4M640.5 1015.4h1.4M588.5 1013.9h1.4M297.8 1013.3h1.4M450.5 1012.1h1.4M334.4 1017h1.4M652.2 1012.5h1.4M338.2 1015.7h1.4M636.4 1016.6h1.4M486.4 1006h1.4M311.7 1020.3h1.4M629.7 1008.4h1.4M518.9 1014h1.4M490.2 1013.4h1.4M396.2 1016.2h1.4M445 1012.4h1.4M633.2 1010.2h1.4M459.3 1018.2h1.4M396.3 1010.4h1.4M391.6 1023.2h1.4M522.4 1019.6h1.4M500.3 1014.5h1.4M674.6 1010.2h1.4M675.6 1016.8h1.4M300.3 1011.9h1.4M430.2 1014h1.4M485.2 1007.1h1.4M505 1022h1.4M383.8 1021.7h1.4M538 1014.6h1.4M557.1 1022.7h1.4M496.4 1012.7h1.4M462.3 1012.5h1.4M540.5 1017.8h1.4M611.9 1017.3h1.4M533.7 1012.1h1.4M467.7 1011.4h1.4M378.5 1014.5h1.4M517.5 1010.5h1.4M286 1016.6h1.4M346.9 1012.2h1.4M432.2 1008h1.4M625.9 1008.5h1.4M639.2 1018.1h1.4M472.6 1017.3h1.4M416.9 1017.2h1.4M365.4 1012.3h1.4M570.7 1011.2h1.4M293.6 1019.2h1.4M676.9 1019.2h1.4M420.8 1012.5h1.4M635.3 1024.7h1.4M332.8 1008.9h1.4M517.8 1013.6h1.4M465 1017.4h1.4M447.2 1008.6h1.4M445.8 1013.5h1.4M343.2 1016.6h1.4M493.4 1002.7h1.4M655.5 1013.4h1.4M450.3 1012.9h1.4M454.8 1011.7h1.4M279.6 1013.8h1.4M403.2 1010.6h1.4M275.4 1015.6h1.4M472.5 1009.1h1.4M607.6 1012.3h1.4M496.5 1012.6h1.4M631.9 1008.4h1.4M551.5 1018.8h1.4M334 1013.2h1.4M434.7 1010h1.4M536.2 1008.5h1.4M429 1014.3h1.4M352.2 1016.1h1.4M482.3 1009h1.4M347.5 1021.8h1.4M436.9 1008h1.4M274.9 1021.7h1.4M429.5 1018.1h1.4M442.5 1008.7h1.4M334.2 1013.5h1.4M288.3 1017.5h1.4M304.7 1007.3h1.4M537.3 1011.7h1.4M496.8 1015.9h1.4M376.5 1010.4h1.4M543.4 1011.4h1.4M307.7 1014.2h1.4M644.4 1009.5h1.4M666.8 1010.8h1.4M628.8 1019.8h1.4M528.6 1012.1h1.4M636.5 1011.7h1.4M387.9 1010.8h1.4M657.5 1017.4h1.4M529.9 1008.4h1.4M465.9 1020.3h1.4M645 1015.5h1.4M548 1014.6h1.4M538.9 1012.8h1.4M447.2 1014h1.4M308.6 1012.2h1.4M393.1 1010.6h1.4M474.2 1003.7h1.4M309.4 1014.9h1.4M339.6 1009.9h1.4M566.2 1014.2h1.4M411.3 1013.3h1.4M500.5 1016.8h1.4M659.4 1015.3h1.4M630.1 1006.8h1.4M510.7 1013.4h1.4M541 1011.6h1.4M423.7 1018.9h1.4M374.2 1010.5h1.4M322.7 1010.6h1.4M520.9 1011.2h1.4M328.9 1007.8h1.4M458.6 1012.9h1.4M305.3 1015.8h1.4M570 1010.7h1.4M400.8 1010.9h1.4M416 1004.6h1.4M348.6 1014.9h1.4M300.3 1012.3h1.4M415.9 1006.4h1.4M413.3 1013.4h1.4M644.6 1002h1.4M350.6 1002.3h1.4M376.3 1012.4h1.4M532.1 1009.5h1.4M456 1008.3h1.4M309.9 1015.8h1.4M478.2 1016.8h1.4M638.6 1007h1.4M402.3 1008.2h1.4M435.2 1014.7h1.4M413.4 1015.8h1.4M581.8 1018.5h1.4M661.3 1019.8h1.4M599.6 1008.6h1.4M351.6 1011.1h1.4M322.3 1013.5h1.4M323.6 1019.7h1.4M295 1017h1.4M655 1012.1h1.4M327.2 1018.9h1.4M632.1 1012.6h1.4M438 1015.8h1.4M540 1025.1h1.4M469.2 1010.5h1.4M509.5 1016.6h1.4M377.2 1023.2h1.4M549.2 1014.4h1.4M325.4 1020.2h1.4M527.2 1009.1h1.4M483 1015.2h1.4M406.6 1013.9h1.4M454.4 1008.2h1.4M623.7 1021.6h1.4M308.6 1012.6h1.4M419.7 1008.6h1.4M573.8 1010.6h1.4M401.8 1018h1.4M654.1 1011.3h1.4M676.7 1004.9h1.4M314.6 1017.6h1.4M600.1 1015.8h1.4M413.1 1010.1h1.4M362.1 1013.2h1.4M533.2 1014.1h1.4M464.2 1004.8h1.4M621.8 1016.4h1.4M633.4 1008.8h1.4M612 1019.1h1.4M281.9 1026.9h1.4M308 1013.4h1.4M445.3 1009.5h1.4M404.6 1015.3h1.4M320.6 1005.1h1.4M547 1012.9h1.4M649.9 1010.1h1.4M671 1011.6h1.4M629.2 1018.1h1.4M572.4 1007.1h1.4M444.1 1006.2h1.4M315.2 1006.4h1.4M490.7 1007.1h1.4M654.9 1006.7h1.4M362 1008.6h1.4M525.7 1006.8h1.4M452.3 1011.4h1.4M505.4 1016.4h1.4M293.1 1010.6h1.4M474.4 1008.3h1.4M468.2 1016.5h1.4M455.3 1013.1h1.4M542.6 1007.5h1.4M403.9 1014.7h1.4M514.9 1000.5h1.4M425 1009.9h1.4M430.8 1006.6h1.4M432.2 1008.5h1.4M506 1007.4h1.4M315.5 1011.8h1.4M529.8 1016.2h1.4M356.9 1019.2h1.4M545.7 1020.2h1.4M558.2 1016.9h1.4M320.7 1022h1.4M634.7 1014.4h1.4M315.2 1017.7h1.4M449 1016.2h1.4M452.8 1016.9h1.4M291.9 1009.3h1.4M609.1 1016.1h1.4M277.3 1016.8h1.4M321.8 1005.2h1.4M477.9 1014.6h1.4M550.4 1006.1h1.4M476.1 1015h1.4M666.8 1013.9h1.4M479.6 1011.8h1.4M672.4 1019.7h1.4M348.2 1005.6h1.4M516.6 1004.6h1.4M466.6 1015.1h1.4M442.1 1007.6h1.4M436.1 1011.7h1.4M568 1015.2h1.4M277.1 1005.1h1.4M381.3 1017.9h1.4M506.7 1013.2h1.4M436.9 1008.2h1.4M405 1014.1h1.4M542 1010.8h1.4M406.6 1019.2h1.4M576 1014h1.4M616.3 1012.5h1.4M423.4 1019.1h1.4M505.2 1017h1.4M584.9 1016.1h1.4M468.1 1014.3h1.4M415.6 1012h1.4M527.9 1014.6h1.4M674.2 1020.9h1.4M359.4 1012.8h1.4M594 1006.7h1.4M324.6 1012.9h1.4M509 1014.9h1.4M497.2 1013.1h1.4M551.6 1010.1h1.4M391.5 1019.6h1.4M656.6 1005.3h1.4M274.9 1014.4h1.4M354.3 1003.8h1.4M520.5 1016.3h1.4M324.2 1017.8h1.4M577.3 1012h1.4M383.5 1008.2h1.4M491.8 1010.6h1.4M636.8 1012h1.4M347.8 1011.5h1.4M492.1 1011.9h1.4M350.8 1007.6h1.4M387.3 1013.2h1.4M280.3 1009.6h1.4M618 1015.6h1.4M443.2 1013.7h1.4M656.2 1016.5h1.4M646.4 1014.3h1.4M347.7 1015.4h1.4M293.4 1020.1h1.4M497.2 1008.2h1.4M366.4 1011.1h1.4M486.1 1010.2h1.4M480.6 1001.8h1.4M276.4 1022.7h1.4M281.9 1010.9h1.4M592.7 1012.2h1.4M604.8 1007.5h1.4M633.3 1015.7h1.4M349.3 1015.2h1.4M665 1018.1h1.4M567.4 1009.5h1.4M426.9 1003.8h1.4M431 1016.5h1.4M670.3 1012.1h1.4M400.6 1011.6h1.4M544.5 1016h1.4M503 1022.3h1.4M369.8 1008.6h1.4M511.8 1021h1.4M343.8 1007.7h1.4M368.6 1019.3h1.4M501.6 1008.3h1.4M308.5 1006.7h1.4M645.9 1015.4h1.4M326.6 1018.5h1.4M294.4 1013.7h1.4M359.3 1013.1h1.4M674.2 1018.7h1.4M499.1 1014.4h1.4M494.4 1008.7h1.4M499.3 1010.1h1.4M392.2 1007.3h1.4M388.4 1020.2h1.4M297.4 1017.2h1.4M530.1 1013.6h1.4M656.9 1013.8h1.4M663.8 1008.9h1.4M421.6 1019.1h1.4M615.3 1005.5h1.4M340.1 1007.8h1.4M271.4 1009.5h1.4M378.7 1014.6h1.4M601.9 1020.6h1.4M399.1 1019.8h1.4M478.8 1008.6h1.4M542.8 1013.9h1.4M593.7 1004.3h1.4M457.4 1011.7h1.4M470.8 1019.6h1.4M390.9 1007.4h1.4M415 1014.2h1.4M341.8 1012.6h1.4M441.9 1009.8h1.4M320.2 1020h1.4M415.3 1018.7h1.4M457.8 1006.2h1.4M283.2 1020h1.4M450.1 1018.8h1.4M352.4 1019.5h1.4M328.5 1019.2h1.4M442.8 1015.3h1.4M457.4 1015.7h1.4M287.2 1018.4h1.4M567.1 1016.1h1.4M309.7 1011.7h1.4M600.9 1023.6h1.4M416.8 1015.3h1.4M489.3 1014.2h1.4M635.3 1021.8h1.4M376.3 1007.6h1.4M406.4 1012.5h1.4M296.7 1014.1h1.4M379 1010.7h1.4M350.3 1011.7h1.4M380.7 1014.6h1.4M627.4 1014.6h1.4M488.1 1019.1h1.4M664.6 1011.4h1.4M663.1 1012.4h1.4M531.5 1018.3h1.4M464.2 1010.3h1.4M414.5 1006.1h1.4M586.7 1019.5h1.4M499.9 1004.6h1.4M509.9 1007.4h1.4M482.6 1008.3h1.4M493.3 1013.9h1.4M602.5 1004.9h1.4M282.9 1014.4h1.4M315.9 1010.2h1.4M388.9 1015.8h1.4M276.7 1019.3h1.4M447.9 1010.1h1.4M339.9 1006.5h1.4M318.8 1019.5h1.4M351.5 1013.3h1.4M516.7 1016.4h1.4M401.2 1017.8h1.4M646.2 1015h1.4M361.9 1008.3h1.4M418.6 1006.1h1.4M307.2 1010.8h1.4M563.5 1012.6h1.4M477.8 1009.6h1.4M414.6 1017.4h1.4M370.4 1012.1h1.4M464.4 1015.6h1.4M410.9 1011.9h1.4M643.3 1021.3h1.4M346.6 1010.7h1.4M518.8 1014.4h1.4M543.6 1012.1h1.4M677.5 1011.9h1.4M300.5 1006.3h1.4M357.3 1014.5h1.4M585.4 1020.6h1.4M328.1 1008h1.4M361.4 1008.9h1.4M478.2 1015.6h1.4M438.6 1007.9h1.4M597.7 1007.9h1.4M456.9 1018.7h1.4M539.3 1017.5h1.4M339.7 1019h1.4M498.9 1005.3h1.4M360.2 1021.8h1.4M311.5 1017.9h1.4M284.4 1011.3h1.4M407.4 1007.5h1.4M521.9 1007.6h1.4M537.4 1011.2h1.4M309.5 1009.9h1.4M477.8 1007.7h1.4M396.6 1010.8h1.4M296.1 1014.1h1.4M487.6 1011.8h1.4M344.5 1010.2h1.4M280.4 1009.9h1.4M577.9 1012h1.4M425.3 1017.1h1.4M308.6 1012.6h1.4M500.3 1009.9h1.4M502.1 1018.3h1.4M582 1016.5h1.4M417.2 1010.9h1.4M410.8 1009.8h1.4M315.6 1014.1h1.4M544.3 1014.1h1.4M557.9 1012.6h1.4M455.3 1015.1h1.4M656 1015.3h1.4M322.9 1021.7h1.4M498 1014.1h1.4M500 1005.1h1.4M321.2 1016.3h1.4M673.2 1015.8h1.4M570.1 1010.7h1.4M637.2 1009.3h1.4M397.6 1002.2h1.4M400.5 1015.2h1.4M272 1010.6h1.4M632 1018h1.4M334.5 1017h1.4M638.9 1016.3h1.4M610.6 1013.4h1.4M598.8 1010.6h1.4M501.8 1011.7h1.4M524 1017.1h1.4M449.3 1012.9h1.4M366.6 1018.5h1.4M527.7 1015.9h1.4M306.4 1018.6h1.4M650.4 1014.3h1.4M491.3 1011.4h1.4M353.1 1002.7h1.4M337.5 1016.5h1.4M654.6 1010.3h1.4M590.1 1011.8h1.4M472.9 1014.5h1.4M309 1016.2h1.4M659.6 1018.4h1.4M279 1012.3h1.4M598.5 1016.2h1.4M644.6 1013.3h1.4M665.5 1008.7h1.4M293 1020.6h1.4M529.8 1006.1h1.4M475.4 1016.4h1.4M347 1010.1h1.4M432.3 1011.2h1.4M392.9 1013.8h1.4M490.6 1010.8h1.4M405.6 1006.7h1.4M512.8 1012.8h1.4M424.6 1007.9h1.4M500.1 1003.7h1.4M571.1 1012.4h1.4M649.9 1017h1.4M354.2 1014.9h1.4M295.7 1011.2h1.4M511.9 1008.4h1.4M633.6 1022.1h1.4M411 1013.9h1.4M639.5 1015.9h1.4M461.4 1004.8h1.4M345.6 1017.5h1.4M349.2 1010.2h1.4M359.5 1012.6h1.4M483.7 1008.7h1.4M305.3 1004.7h1.4M641.5 1014.3h1.4M318.8 1019.3h1.4M444.2 1006.4h1.4M642.7 1016.3h1.4M305.5 1012.3h1.4M524.4 1009.7h1.4M532.4 1020.3h1.4M523.6 1015.8h1.4M491.2 1011.9h1.4M321.2 1016h1.4M595.7 1004.3h1.4M271.7 1019.3h1.4M660 1009h1.4M641.7 1015.8h1.4M378 1012.6h1.4M401.4 1016.5h1.4M383.4 1010.7h1.4M339.9 1007.6h1.4M511.8 1010.5h1.4M543.4 1013.5h1.4M281.1 1023.9h1.4M527.3 1012h1.4M659.7 1022.6h1.4M656.5 1008.3h1.4M416.1 1018.3h1.4M491.1 1022h1.4M293.5 1020.7h1.4M416 1013h1.4M593.8 1017.2h1.4M272.7 1012.8h1.4M353 1011.1h1.4M348.8 1007.8h1.4M351.5 1012.6h1.4M354.5 1012.7h1.4M349.4 997.5h1.4M349.9 1012h1.4M354.1 995.5h1.4M349.3 1002.4h1.4M354.7 1021.8h1.4M347 1015.5h1.4M349.2 1014.5h1.4M350.5 995.8h1.4M351.8 1010.5h1.4M352 1000.5h1.4M350.2 996.8h1.4M354 1005.5h1.4M348.6 1015h1.4M353.7 1006.9h1.4M354.7 1000.7h1.4M356 1008.8h1.4M355 1001.3h1.4M346.4 1014.2h1.4M354.8 1020.3h1.4M348.4 1012.6h1.4M351.3 1005.9h1.4M347.7 1022h1.4M352.9 1006.1h1.4M349.1 1013.6h1.4M352.5 1021.8h1.4M346.5 1005.7h1.4M346.3 995.5h1.4M354.8 1021.3h1.4M347.8 986.3h1.4M347.3 1007.5h1.4M347.2 1016h1.4M352.3 1005.6h1.4M348.3 1025.1h1.4M349.1 1006.8h1.4M351.5 1007.9h1.4M350.4 1030.6h1.4M354.1 1027.2h1.4M353.6 1019.5h1.4M356 1013h1.4M350.7 1006.5h1.4M350.2 1012.1h1.4M347.6 1017.7h1.4M350.9 1004.1h1.4M349.8 1005.4h1.4M348.8 1009.5h1.4M352.1 1013.7h1.4M353.8 1019.9h1.4M346.7 1011.1h1.4M352.9 995.6h1.4M351.4 1004.5h1.4M353.1 999.3h1.4M346.4 1022.4h1.4M351.8 1007h1.4M355.9 1020.4h1.4M353 1004.4h1.4M354.2 1005.9h1.4M352 1005.7h1.4M351.4 997.8h1.4M353.8 1012.5h1.4M353.8 998.2h1.4M346.3 1007.7h1.4M348 1014.7h1.4M349.4 1011.5h1.4M354.1 1002h1.4M355.9 1014h1.4M350.6 1002.4h1.4M348.3 976.4h1.4M346.8 1004.8h1.4M347 1002.1h1.4M352.5 978.5h1.4M351.4 980.8h1.4M350.5 1004.6h1.4M349.1 1004.6h1.4M354.8 966h1.4M348.5 976.7h1.4M362.1 1014h1.4M363.3 993.5h1.4M363.7 999.2h1.4M363.4 1012.2h1.4M362.1 1014.3h1.4M361.8 1001.7h1.4M364.3 997.5h1.4M362.8 1027.2h1.4M363.6 1007.8h1.4M360 1017h1.4M363.5 1024.6h1.4M362.1 1014h1.4M363.2 1007.6h1.4M363.3 1005.5h1.4M361.5 1006.6h1.4M362.8 1002.4h1.4M361.9 1011.5h1.4M364 1018h1.4M362.8 989.4h1.4M361.2 988.6h1.4M364.1 1018.8h1.4M360.1 1017.1h1.4M362.8 1019.5h1.4M363.1 1007.4h1.4M361.1 1008.3h1.4M363.9 1015.5h1.4M362.4 1006.7h1.4M363 1005.8h1.4M360.6 1003.8h1.4M361.6 1008.5h1.4M361.1 1012.2h1.4M362.2 1007.5h1.4M363.2 1026.1h1.4M363.2 1010.6h1.4M360.3 1024.5h1.4M364.3 1005.9h1.4M361 1004.1h1.4M362 1008.4h1.4M363.1 1010.5h1.4M361.9 990.8h1.4M362.6 995.4h1.4M363.2 997.2h1.4M361.9 1004.1h1.4M364 996.6h1.4M361.4 982.2h1.4M362.6 963h1.4M364 984h1.4M388.3 1016.7h1.4M387.1 1006.6h1.4M386 997.3h1.4M389.8 1014.9h1.4M388.5 1017h1.4M388 1018.1h1.4M384.1 1003.4h1.4M388.5 1017.8h1.4M387.4 997.2h1.4M386.8 1014.7h1.4M387.5 1015.3h1.4M388.2 999.6h1.4M390.1 1008.3h1.4M385.6 1024h1.4M386.8 1016.1h1.4M384.1 1000.7h1.4M384.1 1010.6h1.4M387.3 1001.7h1.4M387.9 1015.6h1.4M384.6 1019.5h1.4M384.1 1003.8h1.4M384.6 999h1.4M385.6 1012.5h1.4M389.4 998.8h1.4M390.5 1000h1.4M389 1015h1.4M388.2 1028.7h1.4M385.3 1002.1h1.4M386.5 1024.5h1.4M389.8 1005.2h1.4M386.8 993.4h1.4M384.1 1001.7h1.4M386.1 1014.5h1.4M387.7 1011.7h1.4M386.6 1019.3h1.4M389.7 1010.8h1.4M388.2 1018.5h1.4M387.8 999.7h1.4M383.5 1002.2h1.4M388.1 1013h1.4M384.2 996.8h1.4M386 997.6h1.4M385.9 1002h1.4M386.4 1008.8h1.4M388 1017.3h1.4M385.3 1025h1.4M389.2 1008h1.4M385 1004.9h1.4M388.2 1011.5h1.4M388.1 1012h1.4M385.4 1003.5h1.4M389.9 1022.7h1.4M389.1 1007.1h1.4M385.7 1018.5h1.4M387 997.8h1.4M387 1012h1.4M383.5 997.2h1.4M386.9 1017.9h1.4M388.6 1020.9h1.4M384.1 999.1h1.4M386.9 1020h1.4M387.8 1004.3h1.4M388.2 1014.7h1.4M387 1017.9h1.4M385.2 1014.7h1.4M386.7 1009h1.4M386.2 1013.4h1.4M387.6 998.1h1.4M383.7 992h1.4M389.3 999.5h1.4M389.7 1015.5h1.4M387.3 1002.8h1.4M384.8 1015.3h1.4M386.1 1021.8h1.4M384.3 1001.8h1.4M384.8 1000.5h1.4M385.1 1014.8h1.4M386.8 1013.5h1.4M389.4 1009.6h1.4M390.2 999.8h1.4M388.7 1013.2h1.4M386.4 1007h1.4M389.2 1013.4h1.4M388.9 1016.1h1.4M382.9 995.8h1.4M385.3 1009.3h1.4M385.5 980.2h1.4M385 975.3h1.4M389.9 1006.3h1.4M390.2 993h1.4M383.4 987.7h1.4M384.9 976.8h1.4M387.4 991.9h1.4M385.5 981.4h1.4M403 1012.3h1.4M402.7 1020h1.4M404.6 999.9h1.4M400.2 1022.5h1.4M405.5 990.7h1.4M401.4 1019.9h1.4M405.9 1015h1.4M403.6 1014.9h1.4M401.5 1024.9h1.4M404.1 1005.5h1.4M405.3 1020.7h1.4M401.6 1006.9h1.4M402.4 1000.9h1.4M403.3 1015h1.4M402.6 1004h1.4M407.5 1014.5h1.4M400.5 1007.9h1.4M401.3 1005.5h1.4M400.8 1003.1h1.4M402.1 1001h1.4M405.4 1006.5h1.4M400.7 995.9h1.4M408.1 1002.2h1.4M402.1 1001.6h1.4M401.2 1008h1.4M403.2 1009.5h1.4M408.4 1004.8h1.4M400.6 1014.5h1.4M401 1019.2h1.4M408.7 995.5h1.4M408.1 1011.4h1.4M406 1006.8h1.4M403.9 1004.3h1.4M405.1 1017h1.4M406.5 997h1.4M404.3 1010.9h1.4M400.6 1023.7h1.4M403.8 1004.9h1.4M403.8 1008.4h1.4M403.6 1001.9h1.4M400.7 1002.6h1.4M401.1 1015.4h1.4M407.1 985.4h1.4M401.2 985.4h1.4M400.4 1023.4h1.4M403.9 1013h1.4M401.8 1004.7h1.4M408.2 1015.3h1.4M402.6 1018.7h1.4M406.1 989h1.4M407.4 1006.6h1.4M405.3 1011.5h1.4M407 1005.4h1.4M407.9 1027.1h1.4M404.3 1014.6h1.4M402 1020.3h1.4M404.8 1007.6h1.4M406.6 1004.2h1.4M407.2 1010.5h1.4M406.2 1001.7h1.4M402.1 1030h1.4M405.3 1011.2h1.4M403.7 996.9h1.4M404.5 999.2h1.4M403.2 1015.5h1.4M402.4 1006.2h1.4M400.9 1003.6h1.4M407 1006.7h1.4M406.8 1019.5h1.4M406.4 1004.4h1.4M405.8 1023.4h1.4M403.7 1009.7h1.4M401 989.9h1.4M405 1010.2h1.4M399.9 1009.6h1.4M401.1 1005h1.4M407.9 1005.4h1.4M404.9 995.2h1.4M403.3 1011.7h1.4M407.4 1011.6h1.4M406.2 1013.2h1.4M401.1 1015.9h1.4M406.3 1013.4h1.4M402.4 1020.8h1.4M408.3 975h1.4M402.8 994.9h1.4M399.9 973.5h1.4M406.3 982.9h1.4M404.5 1004.9h1.4M404.5 977.8h1.4M407.6 964.9h1.4M408.6 989.9h1.4M406 980.6h1.4M408.5 1002.8h1.4M420.6 1009.9h1.4M424.8 1001.2h1.4M423.8 1012.6h1.4M417.7 1025.9h1.4M426.3 1004.4h1.4M421.5 1004.6h1.4M418 995.8h1.4M423.1 1005.5h1.4M416.9 1010.3h1.4M423.1 997.7h1.4M420.1 1012.1h1.4M420.9 1007.6h1.4M421.8 1002.8h1.4M418.8 1013.5h1.4M424.6 1003.4h1.4M420.4 1001.7h1.4M423.1 992.6h1.4M418.8 1020.6h1.4M421 1016.2h1.4M418.7 994.1h1.4M423.8 999.9h1.4M420.2 1017.2h1.4M419 1014.3h1.4M424.9 999.6h1.4M420.1 1025h1.4M418.5 1017h1.4M418.3 1004.4h1.4M426.4 1001.7h1.4M418 1016.5h1.4M426.5 1023.8h1.4M425 1011.8h1.4M416.8 1007.1h1.4M420.5 1010.9h1.4M417.3 1001.5h1.4M424.1 1014.2h1.4M418.2 1018.2h1.4M418.6 986.9h1.4M417.2 1012.5h1.4M424.5 1021.6h1.4M420.2 1007.6h1.4M424.1 1011.5h1.4M422.1 988h1.4M418.1 1010.7h1.4M426.2 1011.2h1.4M423 1003.8h1.4M424.9 1018.5h1.4M425.8 998.2h1.4M426.2 1004.8h1.4M417.8 1004.8h1.4M422.8 1006.5h1.4M423.5 1032.6h1.4M424.5 1007.2h1.4M418.2 1012.7h1.4M423.1 1004.8h1.4M417.5 999.4h1.4M418.6 1005.5h1.4M418.5 1005.6h1.4M422.4 1000.2h1.4M417.5 994.5h1.4M417.2 995.3h1.4M426.9 1025.3h1.4M425.9 1003.7h1.4M425.1 1017.3h1.4M420.7 1010.3h1.4M427.2 1018.5h1.4M425.7 1018.5h1.4M423.1 1004.7h1.4M419.6 1012.4h1.4M420.6 1011.1h1.4M417.4 1007.3h1.4M419.5 1006.4h1.4M424.3 1009.5h1.4M424.1 1002.1h1.4M420.5 983.5h1.4M423.7 1002.4h1.4M424.1 1001.1h1.4M423.3 1006.3h1.4M417.9 1005.3h1.4M416.9 1007.8h1.4M424.3 1024.3h1.4M423.2 994.6h1.4M426.2 999.4h1.4M417.3 997.9h1.4M422.3 1003.7h1.4M426.1 999.3h1.4M426.2 1009.4h1.4M425.6 1018.4h1.4M423.2 1016.1h1.4M425 1012.6h1.4M423.7 995.4h1.4M419.3 993.9h1.4M421.5 994.8h1.4M417.5 1010.7h1.4M425.6 998.7h1.4M417.6 1009.5h1.4M421.4 1009.8h1.4M419.9 999.1h1.4M420.9 997.3h1.4M419.1 975.5h1.4M422.1 965.5h1.4M425 980.1h1.4M420.4 1008.5h1.4M423.3 986h1.4M425 999.7h1.4M420.3 1000.8h1.4M422.1 974.5h1.4M426.9 992.2h1.4M420.1 998.6h1.4M420.9 964.3h1.4M424.6 980.6h1.4M453.5 1003.5h1.4M457.5 1006.1h1.4M452.8 995.6h1.4M456.1 1004.8h1.4M456 1004.5h1.4M454.3 1004.8h1.4M453 1006.1h1.4M454.3 998.6h1.4M458.9 1004h1.4M456.7 1006.4h1.4M454.2 1002.3h1.4M453.1 1014.4h1.4M454 1023.5h1.4M452.2 1019.3h1.4M453.5 1001.6h1.4M451.4 1004.3h1.4M453.3 1010.9h1.4M453.2 1010h1.4M454.1 1002.2h1.4M454.7 990.5h1.4M456.3 993.8h1.4M453.4 1018.8h1.4M452.5 1002.3h1.4M458.2 1008.7h1.4M451.5 1019.2h1.4M456.3 1007.7h1.4M452.3 1019.2h1.4M452.6 1010.1h1.4M453.5 1011.3h1.4M453.5 1002.7h1.4M458.5 1026.5h1.4M454.4 1006h1.4M455.4 1012.4h1.4M456.8 991.3h1.4M450.7 1016.3h1.4M458.4 1032.4h1.4M452.2 999.3h1.4M455 1008.1h1.4M453.9 1005.2h1.4M457.5 1002h1.4M453.7 996.8h1.4M457.9 1004.1h1.4M453.5 1009.5h1.4M456.4 1009.8h1.4M452.4 1014.4h1.4M454.3 998.3h1.4M454.6 1015.3h1.4M458 1002.4h1.4M458.2 1006.1h1.4M453.3 999.8h1.4M453 1007h1.4M454.2 1013.5h1.4M457.5 1009.6h1.4M451.2 1021.6h1.4M458.7 1013.3h1.4M457.5 1007.4h1.4M453.8 1005.5h1.4M453.3 983.6h1.4M453.1 1000.9h1.4M455.3 965.7h1.4M457.4 1008.2h1.4M451 995.9h1.4M457.5 989.5h1.4M465.5 990.2h1.4M469.8 1009.3h1.4M466.6 1014.7h1.4M468 998.2h1.4M471.2 1000h1.4M467.7 1028.7h1.4M463.3 1009.5h1.4M464.9 1006.5h1.4M467 1022.1h1.4M466.6 1011.2h1.4M465.1 1017.3h1.4M465.1 1009.3h1.4M466.8 999.5h1.4M465 995.2h1.4M465.9 1009.9h1.4M463.8 1008.9h1.4M468.4 1016h1.4M468.3 1011h1.4M467.7 993.6h1.4M470.4 1009.1h1.4M465.6 1020.5h1.4M470.8 1014.2h1.4M465.4 1010.1h1.4M470.9 1004h1.4M464.5 1017.6h1.4M462.9 999.3h1.4M468 1004.3h1.4M466 1012.2h1.4M464.5 1004.9h1.4M465.4 994.7h1.4M469.6 1017.3h1.4M466.6 1010.5h1.4M463.1 1003.2h1.4M467.4 1007.4h1.4M468.9 1018h1.4M466.5 1012.1h1.4M465.6 997.2h1.4M465.2 1006.7h1.4M467.2 1012.6h1.4M464.9 1013.1h1.4M469.5 1015h1.4M463.7 1017.1h1.4M464.4 995.9h1.4M470.1 1010.7h1.4M466.6 999.2h1.4M470.7 1009.5h1.4M470.6 1003.3h1.4M466.4 1006.3h1.4M465.1 1000.4h1.4M467.3 993.1h1.4M467.2 1007h1.4M466.4 1020.7h1.4M464.2 1002.8h1.4M464.5 991.7h1.4M469.7 1002.6h1.4M467.9 1009.4h1.4M470.4 1006.6h1.4M465.5 1023.8h1.4M465.8 1015.8h1.4M466 1003.3h1.4M467.1 994.7h1.4M465.8 992.2h1.4M466.2 1009.6h1.4M462.8 1013.1h1.4M465.5 1016.2h1.4M467.9 1016.6h1.4M466.9 1013.9h1.4M467.9 1019.9h1.4M467.4 997.6h1.4M466 1025.1h1.4M468.1 974.1h1.4M468.6 975.8h1.4M468.7 996.5h1.4M463.3 970.8h1.4M469.3 996.1h1.4M466.3 988h1.4M470.8 974.3h1.4M469.7 979.8h1.4M469.1 1009.2h1.4M481.7 1015.9h1.4M480.5 1011.8h1.4M484.2 1008.5h1.4M484.9 999.7h1.4M484.2 996.3h1.4M481.6 1017h1.4M487.3 1008.8h1.4M485.7 1015.2h1.4M482.7 1016.3h1.4M486.8 1000.9h1.4M482 1008.6h1.4M488.1 1004.2h1.4M483.7 998.2h1.4M481.7 1001.4h1.4M484.3 990.1h1.4M489.5 998.5h1.4M487.5 1006.8h1.4M480.5 1012.7h1.4M484.6 1006.3h1.4M490 1000.6h1.4M485.7 1005.7h1.4M480.4 1017.1h1.4M485.3 1011.2h1.4M487.9 1016.2h1.4M487.3 990.2h1.4M486.9 999.5h1.4M489 1018.7h1.4M481.3 1009.4h1.4M485.9 1001.4h1.4M488.4 1004.7h1.4M486.9 1010.4h1.4M489.2 1031.1h1.4M484 996h1.4M482.4 1015.9h1.4M487.5 998h1.4M484.9 999.1h1.4M483.2 1011.8h1.4M483.1 1010h1.4M488.5 1006.8h1.4M488.6 1010.7h1.4M481.5 1009h1.4M485.3 1010.3h1.4M485.5 992.3h1.4M485.1 999.8h1.4M488.6 1018.3h1.4M481.6 1018.5h1.4M480.7 1004.6h1.4M481.3 1001.5h1.4M490.3 1009.6h1.4M490.6 1028.6h1.4M482.2 994.3h1.4M483.5 1020.5h1.4M488.4 1007.8h1.4M484 1013.5h1.4M486.4 1014.2h1.4M485.7 1018.6h1.4M487.7 975.3h1.4M482.6 995.5h1.4M485.5 970h1.4M487.5 990.1h1.4M482.4 967.5h1.4M480.6 988.3h1.4M489.4 986.3h1.4M498.3 1016.2h1.4M497.3 1014.9h1.4M495 1007.8h1.4M495.8 1004.8h1.4M494.3 998.6h1.4M500.3 1002.9h1.4M496 1010.6h1.4M499.5 1000.3h1.4M496.2 1014.8h1.4M495.4 1004.4h1.4M496.3 1009.4h1.4M497.1 1008.3h1.4M495.3 1012.1h1.4M497.6 1006.1h1.4M499.1 1017.7h1.4M496.1 1012.3h1.4M496.3 1005.6h1.4M495.4 1001.3h1.4M497.3 1016.8h1.4M497.5 998.6h1.4M498.1 999.5h1.4M498.9 1001.8h1.4M495 1001.5h1.4M496.2 999.3h1.4M495.7 1009.6h1.4M495.6 1022.5h1.4M495.5 1016.3h1.4M494.7 999.3h1.4M500.6 1010.8h1.4M494.1 995.5h1.4M497.9 999.5h1.4M500.7 1011.6h1.4M495.8 996.4h1.4M499.7 1029.4h1.4M496.8 999.4h1.4M495.4 1003.2h1.4M500.8 1009.8h1.4M497.8 1014.3h1.4M496.8 1015.6h1.4M498.8 1016.2h1.4M496.2 1006.2h1.4M495.7 1010.2h1.4M497.8 1015.4h1.4M497 1014.4h1.4M495.3 1001.3h1.4M496.7 1007.7h1.4M495.9 1012.4h1.4M496.9 997.3h1.4M499.3 1003.3h1.4M494.8 1012.9h1.4M499.4 1000.4h1.4M500.8 1013.6h1.4M498.8 1008.9h1.4M498.7 1001.3h1.4M498.3 1001.4h1.4M496.6 1013h1.4M497.9 995h1.4M499.1 1001.3h1.4M496.7 1001.7h1.4M499.5 1006.1h1.4M500 1010.4h1.4M496 1009.7h1.4M499.7 993.4h1.4M494.8 980.1h1.4M494.7 988.3h1.4M496.8 964.4h1.4M494.3 990.7h1.4M496.8 978.2h1.4M495.2 987.9h1.4M497.2 1002.6h1.4M497.1 963.1h1.4M523 1004.8h1.4M514.8 999.9h1.4M525.4 994.5h1.4M518.9 1003.8h1.4M525.1 1005.2h1.4M524.8 998.2h1.4M511.7 1007.1h1.4M528.1 1002.6h1.4M523.6 1031.8h1.4M518.8 1007.9h1.4M512.5 1015.7h1.4M526.1 1016.9h1.4M518.6 1007.3h1.4M515.9 1010h1.4M514.3 992.7h1.4M517 993.1h1.4M513.6 1000h1.4M517.2 990.2h1.4M527.6 1007.1h1.4M513.6 1024.5h1.4M516.6 1019.1h1.4M527.4 1003.5h1.4M517.9 1007h1.4M526.4 1007.5h1.4M518.1 1008.9h1.4M520.2 1025.6h1.4M522.9 1004.3h1.4M518.4 1004.2h1.4M522.4 1002.1h1.4M527 1011.1h1.4M517.2 1012.2h1.4M514.4 1002.9h1.4M523.8 1026.2h1.4M521.5 1010.9h1.4M520.7 1011.2h1.4M514 995.9h1.4M514.2 995.2h1.4M518.3 993.4h1.4M528.8 1008.9h1.4M511.7 1013.1h1.4M519 1006.1h1.4M512.3 1001.2h1.4M516.9 1010.1h1.4M515.8 1033h1.4M523.5 1004.8h1.4M516 1011.6h1.4M515.4 1023.2h1.4M512.7 1015.7h1.4M526.6 1010.2h1.4M524.6 1012.8h1.4M521 1010.5h1.4M522.4 1007.7h1.4M521.2 1017.4h1.4M527.3 1002.9h1.4M512.1 1011.8h1.4M512.4 1021.5h1.4M525.2 1017.6h1.4M527.3 1016.2h1.4M524.1 1000.8h1.4M520.7 1007h1.4M524.6 1011.8h1.4M522.2 1008h1.4M522.6 1012.6h1.4M518.4 1011.6h1.4M513.6 1003.2h1.4M513 1006.5h1.4M516 1008.4h1.4M513.3 1009h1.4M523.3 1011.7h1.4M515.2 1002.2h1.4M513.3 1009.6h1.4M522.3 1003.4h1.4M524.5 1023.6h1.4M524.6 996.6h1.4M524.4 1012h1.4M524.5 1018h1.4M512.5 1001.3h1.4M523.7 996.6h1.4M516.2 998.2h1.4M515.3 1002.1h1.4M528 1008.5h1.4M529 1008.8h1.4M523.7 995.2h1.4M523.5 1011.1h1.4M519.2 1002.2h1.4M527.9 998.6h1.4M526.1 1000.2h1.4M522.6 1025.8h1.4M517.6 1007.9h1.4M528.4 1028.4h1.4M514.6 999.9h1.4M520.8 1001.9h1.4M513.1 1011.7h1.4M515.2 1019.8h1.4M512.4 1014h1.4M515.9 1017.4h1.4M523.6 1004.4h1.4M526.4 1008.6h1.4M516.1 993h1.4M518.7 1015.9h1.4M519.3 1020.9h1.4M524.6 990.2h1.4M512.2 1015.1h1.4M513.9 1021.6h1.4M526.4 1003h1.4M528.5 995.3h1.4M521.6 1000.6h1.4M515.8 1007h1.4M525.3 963.3h1.4M527.5 974.6h1.4M521 1002.8h1.4M516.2 996.2h1.4M528 968.3h1.4M527.5 996.2h1.4M525.6 1008.1h1.4M523.6 963.2h1.4M519.6 989.7h1.4M517.8 981.6h1.4M545.5 1006.3h1.4M536.7 1022.1h1.4M537.2 1009.4h1.4M544.6 1004.2h1.4M543.9 1012h1.4M546.9 995.9h1.4M545.5 1006.3h1.4M541.8 1014.1h1.4M538.4 1000.3h1.4M537.9 1001.4h1.4M549.4 1009h1.4M548.9 1004.1h1.4M534.8 1015.6h1.4M545.6 997.8h1.4M545 1021.7h1.4M532.8 1010.5h1.4M541.8 1018.4h1.4M540.1 1008.4h1.4M546 1023.4h1.4M547 1005.9h1.4M538 1008h1.4M545.6 1019.4h1.4M541.2 1004.8h1.4M547.4 1023.2h1.4M549.3 1012.8h1.4M543.2 1007.7h1.4M544.4 1011.3h1.4M546.1 1002.6h1.4M548.7 1020.1h1.4M544 1022.7h1.4M541 995.5h1.4M548.3 1020.5h1.4M545.8 993.2h1.4M543.1 1002.9h1.4M549.9 1000.3h1.4M543.6 1009.3h1.4M536.3 1016.3h1.4M535.9 1008.7h1.4M549.4 1007.7h1.4M537.9 1013h1.4M545 1018.4h1.4M535.1 1003h1.4M547.7 1014.1h1.4M540.7 1001.4h1.4M538.4 1004.7h1.4M549.3 994.8h1.4M539.7 999.8h1.4M545.4 1028.4h1.4M535 1004.6h1.4M549.3 1007.1h1.4M535.3 986.2h1.4M538.7 1009.9h1.4M540.2 1010.5h1.4M541.4 1010.6h1.4M547.9 1009.2h1.4M535.6 1013.9h1.4M537.3 992.1h1.4M536.8 1004.6h1.4M543.6 1003.1h1.4M547.4 996.5h1.4M542.5 1019.9h1.4M547.9 993.7h1.4M537.9 1010.7h1.4M542.6 1004.6h1.4M542.2 1012.8h1.4M537.9 1013.7h1.4M545.6 1012.1h1.4M548.9 1004h1.4M548.5 1003.7h1.4M540.7 1006h1.4M536 998h1.4M541.2 1011.4h1.4M544.8 1020h1.4M544.8 1016.4h1.4M546.9 1011.2h1.4M535.6 998.5h1.4M533.8 1001h1.4M541.5 1000.2h1.4M544.1 1002.6h1.4M533.6 1014.3h1.4M539.8 1012.6h1.4M549.9 1025.9h1.4M545 1006.9h1.4M533.8 1014.7h1.4M548.5 1006h1.4M549.6 1005.5h1.4M534.7 1013.7h1.4M547.9 990h1.4M546.1 1010.9h1.4M548.7 1016.5h1.4M543.7 996.8h1.4M550 1014.3h1.4M547 992h1.4M535.3 1000.9h1.4M547 1019.6h1.4M532.8 1009.9h1.4M542 998.8h1.4M544.8 1002.5h1.4M549.2 999.9h1.4M542 1001.8h1.4M544.9 1003.1h1.4M540 1010.9h1.4M534.3 1010.5h1.4M549.9 1005h1.4M545.1 1001.3h1.4M536.9 964.1h1.4M546.2 983.7h1.4M545.4 1002.4h1.4M532.8 997.4h1.4M543.5 967.3h1.4M541 977.7h1.4M538.8 992.2h1.4M548.6 967.1h1.4M549.2 997.8h1.4M537 994.3h1.4M548.5 1009.3h1.4M533.6 966.3h1.4M549.7 1009.1h1.4M638 998.8h1.4M629.1 994.9h1.4M631.3 1012.5h1.4M637.9 1011.3h1.4M638.1 1020.9h1.4M638.5 1011.4h1.4M636.1 1020.1h1.4M639.5 1001.1h1.4M638.9 1016.2h1.4M640.6 1013.2h1.4M641.2 1007.3h1.4M639 1010.1h1.4M629.9 1016.9h1.4M637.3 1006.1h1.4M634.9 1010.7h1.4M632.8 991.8h1.4M638.9 1003.2h1.4M631.8 1007.2h1.4M631.7 995.6h1.4M628.7 997.6h1.4M629.7 1000.4h1.4M628.6 1014.9h1.4M634.1 1007.9h1.4M638.5 994h1.4M640.3 1027.8h1.4M639.6 1009.1h1.4M628.8 1009.1h1.4M631.2 1013.2h1.4M630.4 1004h1.4M629.7 1011.8h1.4M634.1 992.4h1.4M636.3 1023.2h1.4M630.5 1011h1.4M636.1 1013.5h1.4M627.8 1027.5h1.4M632.9 1023.8h1.4M637.3 1001.5h1.4M628.8 1020.6h1.4M639.3 1008.9h1.4M636.9 1014.6h1.4M634.4 1016.8h1.4M635.8 989.4h1.4M636.3 1006.9h1.4M633.1 1007.7h1.4M631.2 988.7h1.4M629.4 994.3h1.4M635 999h1.4M637.1 1010h1.4M632.6 1009.2h1.4M633.4 996h1.4M632.3 1012.7h1.4M627.7 1006.1h1.4M628.6 1011h1.4M635.6 1011.9h1.4M634.1 1023.9h1.4M628.9 992.9h1.4M629.8 1009.1h1.4M628.3 1006.5h1.4M633.5 1011.6h1.4M631.8 1015.2h1.4M630.2 1004h1.4M633.7 998.6h1.4M638.8 1007.4h1.4M629.8 999.5h1.4M637.5 1015.4h1.4M635.9 1011.3h1.4M635.4 1002h1.4M639 1004.6h1.4M628.6 1009.3h1.4M629.7 1017.8h1.4M628.2 1004h1.4M628 978.9h1.4M637.5 991.6h1.4M638.6 986.8h1.4M639.2 992.5h1.4M634.4 987.3h1.4M630.4 969.1h1.4M634.9 1001.5h1.4M630.3 967.4h1.4M649 1007.8h1.4M647.4 1008.1h1.4M650.1 1004.7h1.4M650.8 998.1h1.4M645.7 1015.1h1.4M645.7 1022.2h1.4M648.3 1008.9h1.4M649.9 1015h1.4M646 1009.6h1.4M647.5 1014h1.4M648.8 1028.5h1.4M648 1017.6h1.4M647.3 1015.7h1.4M645 1005.9h1.4M650.7 1002.1h1.4M646.9 996h1.4M650 1006.2h1.4M647.7 991h1.4M650.9 993.4h1.4M650.3 1011.6h1.4M646.2 1011.5h1.4M651.7 1018.1h1.4M648.7 1008.5h1.4M648.4 1011.2h1.4M647.2 1003.7h1.4M648.6 991.6h1.4M648.3 987.6h1.4M650.4 1002h1.4M645.6 1016h1.4M651 1004.9h1.4M644.9 1003.6h1.4M650.9 1015.1h1.4M651.1 1009.7h1.4M649.6 1000.5h1.4M649.7 1013h1.4M650.4 1017.6h1.4M649.3 1010.1h1.4M648.2 1005.8h1.4M647.1 996.5h1.4M648.6 1015.1h1.4M645.2 1001.2h1.4M651.1 1007.1h1.4M646.1 1003.9h1.4M648.9 1005.4h1.4M647 1015.4h1.4M645.7 1030.8h1.4M651.1 1016.9h1.4M650.9 1005.1h1.4M646.5 1007.2h1.4M646.5 999h1.4M651.2 996h1.4M645 965.9h1.4M648.9 991.2h1.4M647.3 981.9h1.4M649.2 978.9h1.4M659.7 1007.8h1.4M675.1 1011.1h1.4M660.6 1012.3h1.4M673.6 1023.5h1.4M665.7 1002.3h1.4M673.1 1004.6h1.4M660.3 1001.9h1.4M663.6 1002.4h1.4M665.6 1007.5h1.4M677.5 1001.3h1.4M669 1012.9h1.4M668.4 995.9h1.4M666 1001.9h1.4M673.2 999.8h1.4M661.8 1010h1.4M663.7 995.7h1.4M667.7 1006.1h1.4M676 1000.8h1.4M676.6 1026.2h1.4M672.6 1014.5h1.4M675.9 1004.9h1.4M663.7 1004.4h1.4M674.5 1013.6h1.4M667.9 1010.8h1.4M677.5 1018.9h1.4M671.4 1013.4h1.4M665.7 1004.7h1.4M674.9 1011.9h1.4M663.6 1014.1h1.4M674.1 992.4h1.4M672.9 1007.2h1.4M668.3 1014.3h1.4M676.7 987h1.4M669.7 1007.3h1.4M664.5 1013.7h1.4M668.5 997.6h1.4M670.5 1015h1.4M669.7 1008.7h1.4M677.1 1004.7h1.4M675.1 1011.8h1.4M671.3 1009.4h1.4M659.8 1010.6h1.4M661.9 1009h1.4M661.1 1005.5h1.4M671.1 1006.7h1.4M672.7 1003.2h1.4M670.7 1005.9h1.4M667.9 997h1.4M667.6 1019h1.4M668.5 999.5h1.4M666.4 1029h1.4M671.6 996.6h1.4M672.1 1014.9h1.4M673.8 997.8h1.4M662.2 990.1h1.4M674.1 1004.2h1.4M669.8 1020.1h1.4M661.3 1034.5h1.4M666.7 1017.7h1.4M666.5 1011.6h1.4M660 1004.4h1.4M669.1 992.3h1.4M667.8 994.6h1.4M663.8 1009h1.4M669.1 1010.5h1.4M672.3 1017.8h1.4M672 1008.7h1.4M659.6 1005.6h1.4M673.4 1020.9h1.4M664.5 1016.7h1.4M676.2 1009.1h1.4M660.5 1009h1.4M677.5 1006.5h1.4M677 1007h1.4M668.5 999.9h1.4M662.2 1015.7h1.4M675.7 1010.4h1.4M662.8 1014.6h1.4M677.7 997.2h1.4M669.2 1029.5h1.4M669.3 989.2h1.4M660.4 1007h1.4M664 1006h1.4M672.6 1003.2h1.4M662.6 1011.3h1.4M676.5 998.7h1.4M670.5 1024.2h1.4M675.8 1013.2h1.4M671 1019.3h1.4M664.2 993.7h1.4M661.7 1016.8h1.4M670 998.6h1.4M675.5 1001.2h1.4M663.2 984.4h1.4M659.9 964h1.4M670.3 970.3h1.4M668 992.2h1.4M669.5 975.6h1.4M673.4 979.1h1.4M659.8 1003.2h1.4M676.7 993.7h1.4M672.6 1003.3h1.4M671.8 1000.8h1.4M669.7 980.8h1.4M664.1 998.7h1.4" stroke="#3848b0" stroke-width="1.4" stroke-opacity="0.85" fill="none"/>
<path d="M348.1 1014.1h1.4M346.8 1016.3h1.4M347.6 1024.5h1.4M348.5 1013.3h1.4M347.5 1031.8h1.4M347.4 1019.3h1.4M347.5 1029.7h1.4M346.9 1011.4h1.4M346.9 1010.1h1.4M348 1008h1.4M346.8 1023.6h1.4M347.1 1006.8h1.4M346.4 1000.3h1.4M347.4 1017.7h1.4M346.7 1020.3h1.4M347.1 1018.3h1.4M347.1 1018.2h1.4M347.2 1008h1.4M346.8 1018.2h1.4M347.1 1011.3h1.4M347.9 1014.3h1.4M347.8 1020.7h1.4M347.6 1013.8h1.4M347.6 1013.9h1.4M346.3 1013.1h1.4M347.1 1012.1h1.4M347.4 1016.3h1.4M347.4 1011.2h1.4M347.6 1026.1h1.4M346.5 1017.7h1.4M347.5 1005.3h1.4M346.9 1011.9h1.4M347.4 1016.2h1.4M348.2 1019.5h1.4M347.6 1018.5h1.4M347.2 1015.2h1.4M346.7 1026.9h1.4M347.8 1016.7h1.4M346.1 1015.7h1.4M346.8 1029h1.4M345.8 1026.3h1.4M347.1 1015.1h1.4M346.8 1016.6h1.4M346.9 1001.6h1.4M346.6 1000.2h1.4M348.4 1034.9h1.4M347.7 1019h1.4M347.7 1006h1.4M346.8 1011.9h1.4M347.7 1004.3h1.4M351.9 1008.8h1.4M352.7 1006.7h1.4M352 1003.6h1.4M351.3 1003.5h1.4M352.1 1005.6h1.4M352.8 1014h1.4M352.5 1014.2h1.4M351.8 1012.6h1.4M352.9 1002.8h1.4M352.8 1016.5h1.4M352.8 1013.9h1.4M350.9 1008h1.4M351.5 1022.3h1.4M351.6 1016.6h1.4M351.6 1013.7h1.4M350.8 1016.7h1.4M351.7 1017.7h1.4M352.7 1011.2h1.4M351.4 1020.5h1.4M353.3 1010.2h1.4M351.4 1016.1h1.4M352.2 1025h1.4M351.9 1033.2h1.4M351.3 1021.2h1.4M352.1 1011h1.4M352.1 1015.4h1.4M351.9 1018.1h1.4M352.7 1014.6h1.4M352.5 1011.5h1.4M351.1 1016h1.4M352.8 1021.1h1.4M351.5 1005h1.4M350.9 1014.5h1.4M352.5 1011h1.4M352.7 1018.4h1.4M351.5 1013h1.4M352 1007h1.4M351.6 1020.4h1.4M352.4 1015.5h1.4M351.7 1016.5h1.4M352.2 1022h1.4M351.3 1002.4h1.4M352.3 1022.3h1.4M352 1010.7h1.4M353.5 1019.1h1.4M352.8 1015.3h1.4M351.7 1017.6h1.4M351.3 1018.8h1.4M352.4 1014.7h1.4M351.5 1030.2h1.4M354.6 1025.9h1.4M355.4 1009.9h1.4M354.5 1018.5h1.4M353.9 1011.1h1.4M355 1019.4h1.4M354.7 1010.3h1.4M353.8 1016.9h1.4M354 1017.2h1.4M353.7 1012.7h1.4M355.1 1023.9h1.4M353.8 1006.2h1.4M353.7 1014.3h1.4M354.5 1015.1h1.4M355 1020.5h1.4M354.1 1009.5h1.4M354.9 1021.5h1.4M353.6 1006.7h1.4M354.9 1020h1.4M354.5 1013.7h1.4M354.5 1019.3h1.4M353.2 1013.9h1.4M355 1008.7h1.4M354.4 1018.4h1.4M354.5 1022.3h1.4M353.8 1015.8h1.4M355.3 1019.8h1.4M354.2 1012.8h1.4M354.7 1022.7h1.4M354.3 1018h1.4M354.3 1009.2h1.4M354.8 1013.2h1.4M354.7 1021.4h1.4M355.2 1016.5h1.4M354.1 1013h1.4M354.9 1009.1h1.4M353.9 1020.9h1.4M354.5 1013.3h1.4M353.5 1020.7h1.4M354.5 1025.2h1.4M354.3 1007.3h1.4M354 1010.1h1.4M354.1 1009.6h1.4M354.3 1008.1h1.4M355.1 1015.9h1.4M354.4 1005.2h1.4M354.5 1008.3h1.4M354.7 1019.1h1.4M355.3 1017.1h1.4M355.1 1025.3h1.4M354.8 1027.9h1.4M361.7 1025.2h1.4M361.1 1012h1.4M360.9 1009.2h1.4M361.3 1008.7h1.4M361.4 1015.4h1.4M361.3 1017.9h1.4M361 1005.7h1.4M361.3 1018.4h1.4M360.7 1002.1h1.4M361.1 1008.2h1.4M360.9 1016.3h1.4M361.4 1003.9h1.4M360.8 1005h1.4M361.6 1027h1.4M361.7 1012.9h1.4M361.1 1015.7h1.4M360.6 1015h1.4M361.3 1001.1h1.4M361 1004.7h1.4M361.2 998h1.4M361.3 1006.2h1.4M361.3 1013.3h1.4M361.2 1018.6h1.4M360.5 1009.6h1.4M361.1 1008.5h1.4M360.8 1014.5h1.4M361.3 1016.2h1.4M360.1 1007.6h1.4M360.7 1012.4h1.4M360.9 999.5h1.4M363.4 1021.6h1.4M363.3 1009.6h1.4M364.1 999.3h1.4M363.1 1009.5h1.4M363 1018.5h1.4M363.3 1016.5h1.4M363.1 1009.2h1.4M363.7 1015.6h1.4M363.5 1017.1h1.4M363.3 1018.6h1.4M363.2 1012.9h1.4M362.3 1012.1h1.4M362.7 1015.2h1.4M363 1009.4h1.4M362.8 1007.8h1.4M363.5 1003.4h1.4M363.8 1011.2h1.4M362.9 1010.6h1.4M362.8 1010.1h1.4M363.2 1015.9h1.4M363.8 1007.5h1.4M363.1 1026h1.4M362.8 1009.3h1.4M363.3 1017.1h1.4M362.6 1011.8h1.4M362.7 1003.9h1.4M363.3 1005.1h1.4M362.7 1000.3h1.4M363.1 1032.6h1.4M363.1 1007.1h1.4M384.4 1006.5h1.4M384.7 1020h1.4M384.5 1006.9h1.4M384.1 1013.3h1.4M385 1018.1h1.4M383.9 1007.1h1.4M384.5 1013.5h1.4M386.5 1006.4h1.4M385 1007.3h1.4M384.6 1007.5h1.4M383.7 1009h1.4M384.7 1018.7h1.4M385 1006.3h1.4M384.9 1010.8h1.4M385 1013.8h1.4M384.7 1013.1h1.4M385.3 1004.6h1.4M385 1017.5h1.4M385.3 1018.7h1.4M385 1002.7h1.4M385.1 1023.4h1.4M384.5 1020.1h1.4M384.6 1010.4h1.4M385 1008.1h1.4M384.7 1012.9h1.4M384.6 1008.6h1.4M384.7 1018.8h1.4M384.7 1024.8h1.4M384.9 1018.1h1.4M384.2 1021.3h1.4M384.9 1007.6h1.4M385.9 1005.6h1.4M386.4 1012.3h1.4M384.7 1017h1.4M384.5 1011.7h1.4M385.3 1014.5h1.4M385.6 1019.2h1.4M384.7 1029.6h1.4M384.5 1009h1.4M384.9 1016.8h1.4M385 1009.8h1.4M384.5 1008.4h1.4M384 1012.9h1.4M384.4 1019.8h1.4M385.3 1016.7h1.4M383.8 1020h1.4M385 1020.5h1.4M385.2 1021.3h1.4M386.2 1016.2h1.4M384.6 1032.4h1.4M384.2 1015.1h1.4M386 1016.1h1.4M383.7 1002.7h1.4M385.2 1002.5h1.4M384.5 1012.6h1.4M384.9 1011.6h1.4M385.7 1007.9h1.4M384.7 1002.8h1.4M385.7 1009.6h1.4M385.2 1020.6h1.4M389.1 1010.5h1.4M387.8 1014.1h1.4M388.4 1029.6h1.4M389.2 1013.1h1.4M389.2 1015.6h1.4M389 1031h1.4M386.4 1020.1h1.4M387.1 1024.1h1.4M387.7 1010.6h1.4M390.1 1019.7h1.4M388.4 1015.1h1.4M389.5 1010.6h1.4M387.7 1009.4h1.4M387.8 1014.1h1.4M389.2 1008.4h1.4M388.6 1018.9h1.4M388.1 1018.6h1.4M388.5 1024.3h1.4M388.7 1022.7h1.4M389.3 1026.9h1.4M389.5 1000.5h1.4M388.3 1003.3h1.4M388.8 1011.5h1.4M388.9 1000.2h1.4M389.3 1016.7h1.4M387.5 1009.5h1.4M389.7 1016h1.4M389 1018.2h1.4M390 1003.8h1.4M388.6 1008.6h1.4M388.7 1015.7h1.4M389.3 1016.2h1.4M388.2 1016.4h1.4M389 1014.8h1.4M388.7 1022.5h1.4M389.7 1027.1h1.4M389.1 1021.9h1.4M388.4 1002.2h1.4M388.1 1006.5h1.4M388.4 1014.8h1.4M388.3 1012h1.4M388.6 1007.3h1.4M386.5 1008.2h1.4M388.1 1020.5h1.4M388.6 1028.2h1.4M388.3 1004.3h1.4M388.7 1011.9h1.4M388 1011h1.4M389.3 1022.1h1.4M389.5 1000.4h1.4M388.8 1007.1h1.4M388.5 1014.7h1.4M388.4 1015.8h1.4M388.3 1002.3h1.4M389.1 1008.8h1.4M389.1 1026h1.4M388.9 1010.4h1.4M388 1021.3h1.4M387.7 1019h1.4M387.9 1003.4h1.4M402.6 1016.8h1.4M401.8 1010.3h1.4M402.5 1017.8h1.4M401.9 1016.4h1.4M403 1012.2h1.4M402.1 1017.6h1.4M402.1 991.5h1.4M401.1 1018.2h1.4M402 1006.3h1.4M402.5 1010.1h1.4M403.5 1015.6h1.4M402.5 1017.8h1.4M401.9 1023h1.4M401.9 1006.8h1.4M402.4 1012.3h1.4M401.1 1013.6h1.4M402.1 1014.7h1.4M401.5 1014.8h1.4M401.4 1017.5h1.4M402.5 1015.9h1.4M402 1024.2h1.4M402.9 1007.1h1.4M401.7 1020.6h1.4M402.7 1024.5h1.4M401.7 1003.1h1.4M401.5 1012.2h1.4M402.2 1017.4h1.4M403 1008.9h1.4M403.1 1009.6h1.4M402.1 1015.3h1.4M402.4 1012.4h1.4M401.6 1006.9h1.4M401.8 1015.5h1.4M401.4 1012.1h1.4M402.8 1014.4h1.4M401.8 1009.9h1.4M402.2 1013.9h1.4M400.8 1019.6h1.4M402.8 1017.4h1.4M402.6 1014.3h1.4M401.4 1012.8h1.4M402.8 1003.6h1.4M402 1010.3h1.4M401.5 1015.6h1.4M401.4 1015.8h1.4M402.1 1020.4h1.4M403 1016.2h1.4M402.4 999.5h1.4M402.3 1016.4h1.4M401.2 1014.2h1.4M401.7 1013.9h1.4M401.9 1003.9h1.4M402.7 1017.9h1.4M402 1026.5h1.4M401.9 1017.4h1.4M401.3 1016.2h1.4M401.7 1004.5h1.4M402 1026.8h1.4M402.5 1016.1h1.4M402.7 1016.8h1.4M406.7 1004.5h1.4M405.9 1014.3h1.4M405.4 1010.4h1.4M406.7 1002.7h1.4M405.4 1010.1h1.4M405.7 1006.2h1.4M406.6 1006.7h1.4M407.3 1022.7h1.4M405.9 1008.6h1.4M406.1 1008.6h1.4M405.2 1008.8h1.4M406.7 1011.7h1.4M405.9 1009.8h1.4M406.4 1018.4h1.4M405.6 1017.7h1.4M406.1 1016.4h1.4M406.5 1018.1h1.4M406.7 1021.4h1.4M405.2 1010.9h1.4M407.6 1016.8h1.4M406 1005.1h1.4M404.8 1002.7h1.4M406.8 1006.3h1.4M405.9 1022.3h1.4M406.9 1018.2h1.4M407.6 1007.1h1.4M406 1014h1.4M405.9 1011.4h1.4M407.3 1013.6h1.4M405.1 1001.4h1.4M405.7 1013.4h1.4M406.7 1017.9h1.4M405.2 1003.2h1.4M406.7 1002.6h1.4M406.3 1012.6h1.4M407.2 1010.6h1.4M406 1009.7h1.4M406 1005.7h1.4M405.1 1018.2h1.4M406.4 1011h1.4M406.2 1015.5h1.4M407 1020.4h1.4M405.1 1005.3h1.4M406 1011h1.4M406.6 1015.6h1.4M406.3 1020.3h1.4M405.4 1009.8h1.4M406.8 1020.8h1.4M406.8 1010.5h1.4M406.2 1011.2h1.4M406.7 1015.7h1.4M405.4 1008h1.4M405.5 1008.9h1.4M406.3 1010.3h1.4M404.9 1014.1h1.4M407.6 1016.1h1.4M406.8 1017.3h1.4M406.3 1004.8h1.4M404.9 1011.8h1.4M406.1 1007.4h1.4M420 1003.4h1.4M419.3 1005.7h1.4M419.2 1015.5h1.4M418.7 1016.4h1.4M419.4 1007.1h1.4M419 1005.6h1.4M419.1 1021.1h1.4M418.6 1018.5h1.4M420.5 1018.6h1.4M419.5 1009.9h1.4M418.7 1016.5h1.4M418.8 1018.5h1.4M418.7 1009.1h1.4M419.6 1014.6h1.4M419.1 1005.5h1.4M419.6 1017.6h1.4M420.2 1013.9h1.4M417.9 1007.7h1.4M420 1007.8h1.4M419 1002.7h1.4M418.9 1013.8h1.4M419.3 1010h1.4M420.2 1006.8h1.4M419 1004.8h1.4M419.9 1016.8h1.4M419.3 1007.6h1.4M418.7 996.7h1.4M419.7 1006.3h1.4M419.6 998.6h1.4M419 1014h1.4M418.8 1023.4h1.4M419.2 1013h1.4M418.7 1015.7h1.4M419.5 1016.3h1.4M420.1 995.7h1.4M419.4 1015.2h1.4M419.2 1011.9h1.4M419.7 1018.5h1.4M418.7 1006.2h1.4M419.3 1011.8h1.4M418.5 1017.2h1.4M418.7 1007.6h1.4M419.8 1004.5h1.4M418.1 1002.4h1.4M418.4 1015.9h1.4M419.3 1009h1.4M419.1 1011.3h1.4M418.1 1009.3h1.4M419.1 1015.8h1.4M418.8 1006.8h1.4M419.1 996.5h1.4M417.9 1025h1.4M418.9 1009.1h1.4M418.7 1024.3h1.4M419.2 1010.1h1.4M419.4 1010.8h1.4M419.2 1014.1h1.4M419.5 1009.9h1.4M418.3 1010.2h1.4M419.4 1014h1.4M419.4 1028.8h1.4M419.5 1009.9h1.4M418.8 1002.6h1.4M419.9 1020.1h1.4M418.9 1015.5h1.4M418.7 1014.3h1.4M419.2 1017.6h1.4M419.5 1012.4h1.4M418.6 1006.5h1.4M419.3 1011h1.4M422.4 1012.3h1.4M421.8 1017.3h1.4M421.9 1004.5h1.4M422.6 996.5h1.4M421.3 1020.7h1.4M421.1 1009h1.4M421.6 1018.4h1.4M423 1009.3h1.4M423 1018.2h1.4M423 1026h1.4M421.7 1017.1h1.4M422.1 1001.2h1.4M421.2 1010.8h1.4M422.1 1006.2h1.4M422.2 1011.7h1.4M422.5 1011.6h1.4M421.1 1020.9h1.4M421 1014.9h1.4M421.8 1014.3h1.4M422.2 1013.3h1.4M422.3 1019.3h1.4M422.1 1020.5h1.4M421.5 1017h1.4M421.7 1011.1h1.4M422.6 1028h1.4M421.1 1005.6h1.4M421.6 1020.7h1.4M421.9 1013.3h1.4M421.8 1015.4h1.4M422.3 1007.8h1.4M422.8 1016.2h1.4M421.8 1016.2h1.4M423 1008.9h1.4M421 1011.2h1.4M423 1014.1h1.4M420.9 1017h1.4M422.1 1017.1h1.4M422.1 1008.6h1.4M420.8 1028h1.4M422.7 1016.9h1.4M422.1 1013.5h1.4M421.8 1024.7h1.4M421.6 1013.3h1.4M421.6 1006h1.4M422.2 1012h1.4M421.8 1023.7h1.4M421.7 1017.5h1.4M421.6 1012.5h1.4M422.2 1019.1h1.4M422.9 1024.1h1.4M421.2 1012.1h1.4M422.2 1011.4h1.4M421.8 1010.3h1.4M420.9 1006.3h1.4M422 1007.1h1.4M421.8 1023.6h1.4M422.1 1019.7h1.4M422.5 1020.7h1.4M422 1004.6h1.4M421.8 1009.9h1.4M422.4 1014.9h1.4M422.9 1004.6h1.4M422 1017.3h1.4M423.3 1012.1h1.4M421.7 1020.8h1.4M421.7 1014.9h1.4M421.7 1005.6h1.4M421.7 1019.7h1.4M422.4 1014.1h1.4M422 1009.6h1.4M425.2 1005.8h1.4M423.7 1009.7h1.4M423.2 1013.4h1.4M424.2 1010.9h1.4M425.8 1011.9h1.4M425.8 1002.4h1.4M425.2 1007.6h1.4M425.3 1009.6h1.4M424.6 1024.6h1.4M424.7 1012.1h1.4M425.1 1028.3h1.4M425.4 1016.5h1.4M425.7 997.8h1.4M424.3 1015.5h1.4M425.1 1016h1.4M425.3 1012.9h1.4M424.7 1027h1.4M425.4 1024.8h1.4M425.6 1016h1.4M424.3 1016.8h1.4M425.4 1018.1h1.4M425.6 1013.8h1.4M424.8 1003.9h1.4M424.6 1017.3h1.4M425.8 1008.4h1.4M425.5 1009.2h1.4M425.3 1016.2h1.4M425.3 1005.6h1.4M424.2 1013.6h1.4M425.2 1011h1.4M425.1 1004.4h1.4M426.4 1017.4h1.4M425.8 1016.4h1.4M425.8 1024.1h1.4M424.8 1015.9h1.4M425 999.9h1.4M425.5 1011.8h1.4M425 1026.1h1.4M425 1007.4h1.4M424.8 1002h1.4M426.2 1003.4h1.4M424.4 1015.6h1.4M424.9 1018h1.4M425.3 1007.3h1.4M425.1 1012.3h1.4M424.5 1019.8h1.4M424.3 1008.2h1.4M425.4 1006.2h1.4M424.9 1002.3h1.4M424.9 1015.7h1.4M424.9 1013.3h1.4M424.6 1022.9h1.4M424.3 1020.5h1.4M425.4 1019.9h1.4M423.9 1018.6h1.4M425.6 1019.2h1.4M425.5 1001.1h1.4M423.2 1003.9h1.4M425.9 1021.2h1.4M424.8 999.2h1.4M425.1 1007.7h1.4M424.9 1011.9h1.4M425.7 1002.8h1.4M425.4 1008.4h1.4M425.1 1013.8h1.4M424.8 1018.2h1.4M425.8 1025.4h1.4M425.8 1010.6h1.4M424.4 1017.6h1.4M425.1 1018.8h1.4M452.9 1019h1.4M451.5 1009.8h1.4M451.8 1019.1h1.4M452.7 1028.9h1.4M454.1 1016.7h1.4M453 1010.6h1.4M453.3 1007.2h1.4M452.3 1014.8h1.4M453.7 1020h1.4M451.6 1024.2h1.4M452.8 1009.6h1.4M453 1006.1h1.4M452.3 1010.9h1.4M453.2 1007.4h1.4M452.8 1025.1h1.4M454.3 1011.1h1.4M453.9 1022.1h1.4M453.8 1022.5h1.4M453.2 1018.7h1.4M454 997.5h1.4M453.2 1013.2h1.4M453.6 1019.2h1.4M453.3 1017.9h1.4M452.9 1019.5h1.4M452.7 1016.1h1.4M451.9 1017.2h1.4M451.9 1025.2h1.4M452.8 998.3h1.4M454.7 1009.8h1.4M453 1013.7h1.4M452.3 1023.6h1.4M451.8 1021.4h1.4M451.7 1011.8h1.4M453.2 1016.7h1.4M452.6 1007.5h1.4M453.2 999.4h1.4M452.7 1009.7h1.4M451.9 1012.8h1.4M452.7 1001.2h1.4M452.9 1009.9h1.4M458.2 1011.7h1.4M458.7 1002.8h1.4M458.1 1009.1h1.4M457.4 1001.2h1.4M456.8 1017.7h1.4M457.1 1008.3h1.4M457.4 1009.2h1.4M457.8 1014.8h1.4M456.2 1012.6h1.4M457 1019.7h1.4M456.3 1017.5h1.4M456.2 1006.1h1.4M457.3 1003.8h1.4M457.6 1014.3h1.4M457.7 1018.6h1.4M456.6 1020.2h1.4M457.7 1012.2h1.4M456.8 1004.9h1.4M456.1 1009.1h1.4M456.6 1008.5h1.4M456.9 1005.5h1.4M456.5 1025.9h1.4M457.4 1019.7h1.4M456.6 1006.7h1.4M457.7 1017.4h1.4M458.5 1008.3h1.4M457.5 1015.5h1.4M456.9 1025.9h1.4M456.2 1011h1.4M458.7 1005.5h1.4M457.3 1003h1.4M458 1003.9h1.4M457.8 1018.9h1.4M457.3 1008.7h1.4M455.8 1005.4h1.4M458 1011.6h1.4M456.9 1009.7h1.4M457 1021.5h1.4M457.8 1013.8h1.4M456.9 1012.6h1.4M464 1018.1h1.4M465.5 1015.7h1.4M463.3 1018.2h1.4M464.2 1017h1.4M464 1024.5h1.4M465.2 1013.9h1.4M463.5 1016h1.4M463.8 1018.1h1.4M463.7 1019.2h1.4M464.3 1019.9h1.4M463.5 1009.8h1.4M463.7 1015.9h1.4M463.3 1021.6h1.4M464.5 1012.2h1.4M464.1 1014.2h1.4M464.4 1016.3h1.4M462.9 1005.8h1.4M464.9 1006.5h1.4M464.2 1010.6h1.4M465.3 1006.3h1.4M465.4 1001.4h1.4M463.7 1015.6h1.4M464.3 1012.5h1.4M463.8 1020.3h1.4M464.2 1015.1h1.4M464.5 1020.9h1.4M464.1 1012.1h1.4M463.9 1020.2h1.4M465.3 1013.2h1.4M463 1017.8h1.4M464.2 1021.1h1.4M463.6 1011.1h1.4M463.7 1026.9h1.4M464 1003.5h1.4M464.3 1012.8h1.4M463.3 1021.1h1.4M465 1016.8h1.4M463.9 1018.3h1.4M463.9 1016.1h1.4M463.4 1007.1h1.4M464.3 1011.5h1.4M463.2 1020.6h1.4M463.7 1023.8h1.4M464.7 1013.6h1.4M464.9 1008.7h1.4M463.3 1025.3h1.4M462.9 1010.3h1.4M465.9 1012.3h1.4M464.4 1011.4h1.4M464.1 999.8h1.4M470.2 1005.8h1.4M469.4 1021.8h1.4M470.4 1004.6h1.4M469 1018.8h1.4M469.3 1007.5h1.4M469.4 1009.4h1.4M469.6 1017.2h1.4M469.3 1007.1h1.4M468.1 1033.5h1.4M469.7 1012.4h1.4M469.7 1014.9h1.4M470.5 1008.7h1.4M468.9 1017.2h1.4M469.8 1011.4h1.4M470.5 1015.6h1.4M469.5 1009.3h1.4M468.6 1008.1h1.4M468.4 1023h1.4M468.8 1000.9h1.4M469.5 1014.2h1.4M468.4 998.8h1.4M469.8 1017.6h1.4M468.4 1013.3h1.4M469.7 1003.8h1.4M469.9 1015.8h1.4M468.7 1006.6h1.4M470.4 1015.4h1.4M469 1012.8h1.4M467.5 1014.4h1.4M469.2 1012.1h1.4M469.6 999.9h1.4M468.9 1018.2h1.4M469.8 1011.6h1.4M470.4 1015.9h1.4M469.5 1013.2h1.4M469.7 1013.5h1.4M470.1 1012.8h1.4M469.3 1009.9h1.4M469.9 998.3h1.4M469.2 1023.6h1.4M468.5 1014.9h1.4M469.5 1010.2h1.4M468.8 1004.6h1.4M469.2 1022.6h1.4M469.3 998.4h1.4M469.5 1008.8h1.4M467.7 999h1.4M469.3 1007.4h1.4M468.5 1012.9h1.4M468.6 1017.7h1.4M480.9 1011.6h1.4M482 1022h1.4M482 1018.3h1.4M481.1 1006.8h1.4M481.8 1018.4h1.4M481.6 1010.9h1.4M481.5 1007h1.4M482.1 1009.4h1.4M482 1007.6h1.4M481.4 1012h1.4M480.8 1006.9h1.4M482.2 1014h1.4M481 1022.3h1.4M481.4 1014.8h1.4M481.7 1015.9h1.4M482.2 1024.9h1.4M482 1011.1h1.4M481.5 1008.4h1.4M482.1 1023.3h1.4M481.9 1021h1.4M482.8 1016.5h1.4M481.9 1017.8h1.4M481.7 1005.5h1.4M481 1017.5h1.4M481.6 1011.8h1.4M481.1 1022h1.4M480.7 1016.4h1.4M481.3 1010.5h1.4M482.3 1019.5h1.4M482.4 1031.2h1.4M481.7 1011.1h1.4M481.2 1010.9h1.4M481.5 1008.6h1.4M480.9 1006h1.4M482.1 1020.1h1.4M482.2 1021.4h1.4M481.5 1028.1h1.4M481.6 1010.8h1.4M481.6 1014.8h1.4M481.3 1016.6h1.4M486.1 1002.9h1.4M486.1 1024.2h1.4M485.8 1011.4h1.4M486.4 1015.2h1.4M485.8 1012.6h1.4M486.6 1009.3h1.4M487 1010.2h1.4M485.8 1025.9h1.4M486.8 1006.9h1.4M485 1012.5h1.4M486.1 1019h1.4M486.1 1008.9h1.4M486.1 1013.6h1.4M486.6 1029.5h1.4M487.6 1011.7h1.4M487.1 1003.1h1.4M486.6 1013.7h1.4M486.1 1019.8h1.4M485.7 1007.2h1.4M486.2 1018h1.4M485.9 1007.4h1.4M485.7 1005.3h1.4M486.3 1013.3h1.4M486.9 1023.5h1.4M485.5 1007.6h1.4M487 1010.8h1.4M486.4 1017h1.4M487.6 1007.2h1.4M485.8 1013.1h1.4M486.8 1028.5h1.4M485.4 1010.3h1.4M485.7 1017.7h1.4M486.2 1018.5h1.4M486.2 1003.3h1.4M486.6 1017.2h1.4M485.4 1014.7h1.4M486 1019.8h1.4M485.9 1018h1.4M486.1 1013h1.4M486.6 1012.3h1.4M490.1 1003.4h1.4M488.9 1018.3h1.4M489.3 1016.7h1.4M489.4 1009.6h1.4M489.3 1014.8h1.4M489.2 1012.1h1.4M490.2 1007.2h1.4M489.7 1015.6h1.4M489.8 1023h1.4M489.7 1008.9h1.4M489.3 1029.9h1.4M488.7 1007.8h1.4M489.2 1017h1.4M489.3 1017.8h1.4M489.7 1014.2h1.4M489.1 1022.7h1.4M489.2 1024.8h1.4M489.2 1027.8h1.4M489.1 1016.3h1.4M490.3 1018.8h1.4M490.2 1029.5h1.4M490.3 1010.4h1.4M490.3 1018h1.4M488.8 1007.5h1.4M490.3 1011.9h1.4M489.3 1011.7h1.4M489.8 1009.1h1.4M489.2 1017h1.4M489.3 1010h1.4M488.6 1010.8h1.4M488 1015.5h1.4M489.1 1002h1.4M489.3 1004.1h1.4M489.6 1008.1h1.4M489.4 1013.4h1.4M489.8 1015.3h1.4M489.7 1011.5h1.4M489.5 1012.5h1.4M489.2 1005.6h1.4M489.3 1011.4h1.4M496.4 1023.6h1.4M495.7 1014.6h1.4M495.8 1013.7h1.4M496.1 1021.4h1.4M495.5 1009.2h1.4M495.9 1021.6h1.4M496.3 1011.9h1.4M495.2 1001.2h1.4M496.8 1024.1h1.4M496.8 1014.8h1.4M496.1 1005.1h1.4M496.4 1013.8h1.4M496.2 1020h1.4M495.7 1015.1h1.4M496.6 1024.1h1.4M496.2 1016.4h1.4M495.9 1013.1h1.4M495.3 1018.2h1.4M495.8 1015.5h1.4M496.7 1026.7h1.4M496.5 1005.3h1.4M495.8 1017.6h1.4M496.8 1013.1h1.4M495.9 1015.2h1.4M496 1015.2h1.4M496 1011.6h1.4M495.2 1010.9h1.4M496.3 1015.9h1.4M496.6 1019.7h1.4M496 1005.7h1.4M497.5 1025.2h1.4M495.3 1008.7h1.4M496.2 1021.6h1.4M495.9 1016.9h1.4M496.4 1010.6h1.4M496.1 1013.3h1.4M496.3 1016.1h1.4M495.6 1009.6h1.4M496.3 1012.5h1.4M496.5 1017.8h1.4M496 1016.6h1.4M495.1 1022h1.4M495.1 1013.9h1.4M495.4 999.8h1.4M496 1011.1h1.4M499.3 1017.6h1.4M498.6 1012h1.4M499.3 1018.6h1.4M499.7 1013.5h1.4M499.1 1013.5h1.4M498.9 1001.7h1.4M499.5 1000.6h1.4M499.9 1022.9h1.4M499.1 1019.5h1.4M500.6 1007.7h1.4M499.2 1011.2h1.4M499.4 1000.9h1.4M498.8 1006.7h1.4M500.1 1014.3h1.4M498.5 994.5h1.4M499.4 1023.5h1.4M499.7 1009.8h1.4M499.9 1004.7h1.4M499.9 1008.3h1.4M498.9 1018.2h1.4M499.9 1021.7h1.4M499.3 1007.4h1.4M498.3 1015.1h1.4M500.7 1014.1h1.4M499.8 1010.7h1.4M499.9 1014.2h1.4M500.1 1002.6h1.4M499.5 1003.8h1.4M499.2 1023.7h1.4M499.8 1009.5h1.4M500.1 1014.1h1.4M500.3 1023.4h1.4M498.9 1011.9h1.4M500.1 1012.7h1.4M498.6 1019h1.4M499.9 1011h1.4M499.2 1003.7h1.4M500 1018.8h1.4M500.1 1021.3h1.4M499.9 1018.1h1.4M500.1 1010.6h1.4M500 1002.7h1.4M499.7 1018.3h1.4M500.4 1019.7h1.4M499.6 1019.4h1.4M514.5 1017.3h1.4M513.9 1019.4h1.4M515.4 1019.2h1.4M514.7 1007.9h1.4M514.5 1006.6h1.4M514.8 1015.9h1.4M515.6 1015.1h1.4M514.5 1028.7h1.4M515.3 1013.9h1.4M514 1002.2h1.4M516.9 1010.1h1.4M515.2 1006h1.4M516.6 1012.7h1.4M517.1 1018.3h1.4M515.4 1013.8h1.4M513.8 1005.1h1.4M515.7 1007.9h1.4M514.3 1019.6h1.4M516 1019h1.4M514.6 1008.8h1.4M515.8 1010.9h1.4M515.7 1002.2h1.4M513.9 1019.6h1.4M516.7 1026.7h1.4M518.1 1013.3h1.4M514.4 1023.7h1.4M515.2 1016.7h1.4M514.4 1016h1.4M515.4 1013.1h1.4M515.3 998.2h1.4M515.7 1008.3h1.4M516.1 1015.5h1.4M515.9 1018.3h1.4M514.4 1004.8h1.4M513.4 1014.1h1.4M515.2 1021.9h1.4M515.2 1010.6h1.4M516 1020.3h1.4M516.8 1009.4h1.4M515.6 1001.1h1.4M514.9 1020.6h1.4M515.4 1011.2h1.4M514.9 1016h1.4M515.4 1015.7h1.4M514.7 1005.8h1.4M515.7 1028.1h1.4M514.5 1018.5h1.4M514.1 1004.1h1.4M515.5 1017.6h1.4M515.7 1021.5h1.4M515.7 1016.2h1.4M514.1 1012.2h1.4M513.7 1010.7h1.4M513.9 1007.5h1.4M516.5 1003.6h1.4M516.1 1008h1.4M515.8 1009.7h1.4M516.6 1009.3h1.4M516.3 1020.5h1.4M516.5 1008.9h1.4M515.3 1003.8h1.4M517.1 1016.6h1.4M516.8 1009.1h1.4M514.4 1007h1.4M516.1 1012.6h1.4M516.8 1012h1.4M517.6 1020.2h1.4M514.9 1017.5h1.4M515.7 1009.7h1.4M515.7 1001.5h1.4M514.5 1020.1h1.4M515.2 1003.6h1.4M515.5 1014.6h1.4M514 1019.3h1.4M515.6 1028.5h1.4M520.7 1012.9h1.4M519 1015.8h1.4M520.2 1011.6h1.4M520.3 1008.9h1.4M520.8 1012.9h1.4M520.6 1005.7h1.4M520.3 1020.8h1.4M521.1 1014.1h1.4M520.7 1011.5h1.4M520.1 1011.6h1.4M519.9 1002h1.4M520.1 1015.7h1.4M518.1 1008.6h1.4M520.3 1014.5h1.4M519.4 1013.3h1.4M521 1022.5h1.4M520.4 1013.6h1.4M520.6 1017.9h1.4M519.5 998h1.4M520.7 1017.8h1.4M520.2 1009.3h1.4M518.6 1003.2h1.4M518.5 1007.7h1.4M518.6 1019h1.4M520.5 1017.5h1.4M520.6 1003.6h1.4M520.3 1022.2h1.4M521 1013.3h1.4M521 1005.2h1.4M518.9 1025.4h1.4M519.4 1019.4h1.4M520 1020.5h1.4M520.8 1017.7h1.4M520.8 1009.7h1.4M519.5 1020.8h1.4M521.6 1018.4h1.4M520.7 1006.2h1.4M520.5 1006.9h1.4M520.2 1016.5h1.4M520.6 1020.5h1.4M518.4 1022.6h1.4M519.5 1011.7h1.4M519.5 1013.7h1.4M520.8 1009.1h1.4M520.8 1012.3h1.4M519.9 1011.5h1.4M523.9 1024.3h1.4M517.6 1009.2h1.4M519.5 1026.7h1.4M522.1 1003.4h1.4M521 1023.6h1.4M518.6 1016.5h1.4M521 1021.6h1.4M520.7 1005h1.4M521.5 1014.7h1.4M521.4 1009.3h1.4M520.2 1009.8h1.4M519.6 1021.1h1.4M519.8 1019.4h1.4M519.9 1022.2h1.4M519.1 1019.7h1.4M520.3 1009.2h1.4M520.1 1010.8h1.4M519.6 1009.5h1.4M517.7 1020.1h1.4M520.7 1020.8h1.4M519.3 1006.3h1.4M519.5 1011.7h1.4M521.1 1012.4h1.4M519.3 1014.9h1.4M521.2 1010.2h1.4M520.1 1005.9h1.4M518.4 1016.2h1.4M520 1017.8h1.4M519.6 1023.9h1.4M524.9 1013.1h1.4M524.4 1005.8h1.4M526.1 1018.6h1.4M526.1 1016.5h1.4M526 1017.6h1.4M524.4 1014.3h1.4M525.1 1010.1h1.4M525.4 1021.1h1.4M527.8 1028.9h1.4M526.4 1015.8h1.4M526.9 1004.4h1.4M525.9 1020.1h1.4M524.9 1009.1h1.4M527.9 1013h1.4M526.2 1021.6h1.4M526.3 1012.4h1.4M526.8 1018.9h1.4M525.8 1017.1h1.4M526.3 1016.3h1.4M524.7 1022.1h1.4M526.1 1015.3h1.4M524.7 1003.6h1.4M524.5 1011.4h1.4M526.3 1004.6h1.4M524.9 1021.2h1.4M525.4 995.9h1.4M525.9 1010.1h1.4M525.8 1011.8h1.4M527.2 1018.3h1.4M525.8 1020.9h1.4M526.5 1013.6h1.4M526.7 1004.3h1.4M524.4 1012h1.4M524.5 997.1h1.4M526.3 1016.4h1.4M525.4 1024.3h1.4M524.9 1017.3h1.4M526.7 1004.9h1.4M526.3 1005.6h1.4M525.5 1021.8h1.4M526.5 1019.6h1.4M523.3 1005.7h1.4M525.8 1026.5h1.4M526.9 1009.7h1.4M526.6 1020.6h1.4M525.9 1016.4h1.4M527.1 1017.6h1.4M526.5 1008.4h1.4M525.6 1004.9h1.4M526.1 1017.9h1.4M526.6 1005.9h1.4M526.4 1010.1h1.4M525.4 1020.7h1.4M523 1019.4h1.4M527.9 1011.8h1.4M525.6 1016.5h1.4M523.8 1016.9h1.4M524.9 1007.9h1.4M526.2 1011.4h1.4M524.1 1022.7h1.4M526.4 1005.9h1.4M525.8 1009.3h1.4M527.2 1010.7h1.4M525.1 1009.8h1.4M526 1023.7h1.4M527.3 1013.2h1.4M526.6 1019.7h1.4M525.5 1016.7h1.4M525.8 1002.2h1.4M526 1017.3h1.4M524.2 1003.5h1.4M526.4 1015.7h1.4M526.4 1014.2h1.4M525.2 1008.2h1.4M525.3 1010.1h1.4M535.3 1010.6h1.4M536.5 1008.1h1.4M535.2 1014.7h1.4M535.2 1018.3h1.4M537.6 1021.4h1.4M535.9 1017.1h1.4M536.1 1024.3h1.4M535 1012.4h1.4M536.5 1017.4h1.4M536.2 1010.3h1.4M535.9 1015.2h1.4M536.5 1018.1h1.4M536.2 1018.8h1.4M534.7 1010.4h1.4M535.7 1019.9h1.4M535.2 1014.1h1.4M534.8 1003.5h1.4M536.3 1005h1.4M533.6 1013.2h1.4M536.1 1011.9h1.4M535.5 1010h1.4M537.1 1010.1h1.4M536.6 1016h1.4M536.5 1019.1h1.4M536.2 1024.6h1.4M534.1 1005h1.4M535.3 1005.6h1.4M534.8 1002.9h1.4M535.9 1014.1h1.4M536.1 1007.7h1.4M535.4 1006.5h1.4M535.1 1009.1h1.4M535.9 1003.6h1.4M535.4 1012h1.4M535.3 1018.3h1.4M537.9 1001.1h1.4M535.3 1021.8h1.4M535.1 1008.7h1.4M535.8 1016h1.4M535.8 1006.7h1.4M536.6 1019h1.4M537.7 1014.9h1.4M534.6 1018.7h1.4M537.5 1006.4h1.4M536.2 1017.9h1.4M535.3 1022.8h1.4M535 1020.4h1.4M537.1 1014.6h1.4M534.4 1014.2h1.4M535.1 1021.3h1.4M537.1 1002.3h1.4M533.6 1026.6h1.4M535 1015.8h1.4M537 1018.5h1.4M535.9 1017.5h1.4M535.4 1014.9h1.4M536.5 1023.3h1.4M534 1020.2h1.4M534.7 1017.3h1.4M536.3 1021.1h1.4M535.2 1010.6h1.4M533.9 1020.6h1.4M538 1004.8h1.4M535.7 1022.7h1.4M536.5 1002.4h1.4M536.2 1016h1.4M535.8 999.2h1.4M535.2 1012.3h1.4M535.7 1013h1.4M533.8 1009.5h1.4M534.9 1037.1h1.4M536.7 1021.8h1.4M535.5 1018.9h1.4M535.3 1023.5h1.4M535.8 1009h1.4M540.2 1019.9h1.4M541.9 1023.2h1.4M542.9 1021.8h1.4M542.1 1008.2h1.4M543.5 1009.3h1.4M542.5 1014.6h1.4M543.4 1024.2h1.4M544.3 1018.8h1.4M542.9 1009.1h1.4M543.4 1011.1h1.4M542.5 1019.9h1.4M541.8 1012.9h1.4M543.2 997.4h1.4M542.8 1015.1h1.4M542.4 1023.5h1.4M542.2 1014.3h1.4M542 1010.5h1.4M543.1 1003.1h1.4M542.7 1012.4h1.4M541.4 1021.7h1.4M542.5 1015.1h1.4M544 1005.8h1.4M543.7 1018h1.4M542.6 1005.8h1.4M543.1 1022.4h1.4M542.4 1013.5h1.4M544.8 1013.9h1.4M543.4 1020.6h1.4M542.5 1012.5h1.4M543.8 1007.6h1.4M542.4 1015.8h1.4M542.4 1017h1.4M541.4 1010.5h1.4M541.9 1006.7h1.4M542.1 1006h1.4M542.1 1015.2h1.4M541.9 1016.7h1.4M542.8 1006.9h1.4M542 1007.4h1.4M544.4 1000.5h1.4M542.4 1012.9h1.4M541.6 1010.8h1.4M543.4 1014.4h1.4M542.8 1017.2h1.4M542.8 993.2h1.4M542.4 1010.8h1.4M544.2 1016.4h1.4M542.1 1013.1h1.4M543.8 1012.8h1.4M542.8 1019h1.4M543.6 1024.2h1.4M542.9 1019.3h1.4M544.8 1018.1h1.4M542.3 1011.5h1.4M543.1 1011h1.4M542.6 1029.7h1.4M542.9 1022.6h1.4M541.9 1020.9h1.4M542.3 1002.8h1.4M541.8 1010.4h1.4M542 1017.1h1.4M543.2 1016.1h1.4M543.2 1015.1h1.4M543.1 1024.9h1.4M542.7 1006.5h1.4M542 1009.1h1.4M543 1012.4h1.4M541.9 1013.5h1.4M541.5 1015.7h1.4M543.8 1016.9h1.4M543 1023.5h1.4M542.8 1009.5h1.4M544.5 1021h1.4M542.7 1013.9h1.4M544.2 1016.5h1.4M547.5 1007h1.4M546.9 1016.6h1.4M546.1 1006.4h1.4M547.7 1020.1h1.4M548.4 1019.6h1.4M547.3 1019.4h1.4M547.4 1002.6h1.4M546.9 1025.9h1.4M548.7 1013h1.4M547.5 1001.4h1.4M546.3 1018.2h1.4M548.2 1006.2h1.4M549 1009h1.4M547.4 1009.5h1.4M546.1 1013h1.4M545.4 1016h1.4M546.1 1019.2h1.4M549.3 1012.7h1.4M546.3 1009.2h1.4M545.9 1015.6h1.4M547 1006.8h1.4M547.8 1008.6h1.4M546.9 1011.5h1.4M546.8 1015.9h1.4M547.4 1009.7h1.4M548.4 1012.4h1.4M547.6 999.6h1.4M546.6 1011.9h1.4M546.7 1009.2h1.4M547.3 1022.5h1.4M546.1 1012.9h1.4M547.3 1002.6h1.4M548.5 1010.7h1.4M546.9 1007.3h1.4M546.7 1015.7h1.4M547.5 1017h1.4M546.3 1012h1.4M548.5 1021.4h1.4M548.2 1015.9h1.4M548 998.4h1.4M547.3 1014.3h1.4M547.3 1017.6h1.4M547.6 1004.2h1.4M546 1010.8h1.4M546.6 1017h1.4M546.8 1013.4h1.4M548.2 1014.6h1.4M549.1 1017.8h1.4M547.1 1012.5h1.4M547.4 1012.9h1.4M547.3 1017h1.4M546.6 1015.9h1.4M546.6 1004.1h1.4M547.2 1002.5h1.4M548.3 1012.4h1.4M545.9 1029.7h1.4M548 1013.6h1.4M546 1023.4h1.4M547.9 1017.2h1.4M546.9 1024.4h1.4M546 1001.4h1.4M545.7 1014h1.4M546.8 1004h1.4M548 1028.6h1.4M546.4 1002h1.4M547.2 1012.3h1.4M546.2 1007.2h1.4M546.2 1015.2h1.4M546.6 1016.4h1.4M546 1028.4h1.4M547.2 1015.9h1.4M545.5 1028.3h1.4M548.6 1016.8h1.4M546.5 1023.9h1.4M546.4 1016.4h1.4M630.4 1018.3h1.4M631.4 1015.4h1.4M629.6 1025.6h1.4M630.9 1000.2h1.4M630.2 1017.4h1.4M630.9 1016.1h1.4M630.1 1010.1h1.4M631.7 1014.2h1.4M630.1 998.8h1.4M630.6 993h1.4M629.7 1017.9h1.4M629 1020.9h1.4M629.4 1014.1h1.4M630.2 1014.6h1.4M629.9 1022.4h1.4M629.7 1008.4h1.4M629.4 1017.2h1.4M629.2 1001.8h1.4M629.7 1026h1.4M631.1 1009.3h1.4M630.7 1009.6h1.4M630.4 1016.9h1.4M630.7 1005.7h1.4M630.3 1019.2h1.4M629.5 1020.9h1.4M629.9 1020.8h1.4M633.1 1015.1h1.4M630.2 1003.4h1.4M630.8 1017.6h1.4M629.4 1014.9h1.4M631.4 1014.5h1.4M628.7 1016.2h1.4M628.8 1008.2h1.4M630.6 1001.4h1.4M630.1 1026.8h1.4M630 1011.9h1.4M631.7 1025.3h1.4M630.6 1027.6h1.4M629.9 1007h1.4M629.6 997.9h1.4M630.5 1015.2h1.4M630.2 1017h1.4M631.9 1013.5h1.4M629.5 1018.6h1.4M629.5 1005.3h1.4M630.1 1016.1h1.4M630.7 1016h1.4M630.9 1017.9h1.4M630.7 1012.1h1.4M630.5 998.1h1.4M635.7 1009.3h1.4M633.2 1015.3h1.4M635.7 1012.5h1.4M634.5 1000.4h1.4M635.5 1006.2h1.4M635.5 1028.9h1.4M633.7 1020.2h1.4M635 1007.5h1.4M634.8 1011h1.4M635.4 1012.1h1.4M633.7 1017.2h1.4M636.3 1001.6h1.4M635.3 1007.7h1.4M635.1 1007.4h1.4M637.2 998.7h1.4M634.3 1016.5h1.4M634.9 1027.9h1.4M634.6 1014.7h1.4M634.8 1008.6h1.4M634.2 1034.6h1.4M634.6 1009.5h1.4M635.4 1014.7h1.4M634.6 1017.1h1.4M634.9 1015.5h1.4M634.3 1025.2h1.4M634.9 1012.7h1.4M635.1 1016.8h1.4M634.7 1006.8h1.4M634.5 1017.7h1.4M635.1 1017h1.4M635.7 1020.8h1.4M636.3 1009.1h1.4M634.7 1024.5h1.4M635.5 1031.9h1.4M635.3 1017.2h1.4M633.6 1008.6h1.4M634.5 1005.3h1.4M635.1 1022h1.4M634.2 1013.2h1.4M633.5 1018.9h1.4M634.8 1015.6h1.4M635.2 1010.5h1.4M635.1 1015.7h1.4M637.3 1015.7h1.4M634.4 1017.3h1.4M634.6 1012.5h1.4M635.5 1004.6h1.4M633.9 1022h1.4M634.5 1013.4h1.4M635.3 1016.1h1.4M640 1008.5h1.4M641.5 1011.6h1.4M639.5 1021.7h1.4M639.6 1012.3h1.4M640.5 1015.5h1.4M641.3 1013.9h1.4M641.1 1005.1h1.4M641.9 1006.8h1.4M640.5 1019.8h1.4M639.8 1014.3h1.4M640.7 1014.7h1.4M640.5 1021.3h1.4M640.7 1016.1h1.4M640.1 1020.7h1.4M639.5 1004.9h1.4M641.4 1014h1.4M640.3 990.7h1.4M640.9 1008.5h1.4M641.2 1015.6h1.4M640.6 1017.2h1.4M640.6 1003.9h1.4M640.5 1010.3h1.4M640.1 999.9h1.4M640.2 1016.7h1.4M640.9 1012.2h1.4M642.1 1011.3h1.4M641 1018.6h1.4M640.5 1010.2h1.4M640.8 1014.2h1.4M640.9 1008.7h1.4M640.9 1010.9h1.4M640.9 1001.9h1.4M639.5 1019.1h1.4M641.3 1009.9h1.4M639.6 1015.5h1.4M640.9 1014.8h1.4M641 1018.1h1.4M640.8 1015.7h1.4M639.1 1007.6h1.4M641.3 1018.7h1.4M640.9 999.3h1.4M641.9 1008.2h1.4M640.7 1012.7h1.4M641.1 1013.3h1.4M639.4 1008.1h1.4M640.5 1013.7h1.4M640.4 1011.4h1.4M640.2 1022.2h1.4M640.5 1014.7h1.4M638.7 1023.8h1.4M647.9 1007.9h1.4M647.7 1015.3h1.4M647.6 1009.7h1.4M646.5 1014.3h1.4M646.7 1018.7h1.4M647.4 1020h1.4M647.1 1010h1.4M646.9 1006.6h1.4M647.7 1023.7h1.4M646.8 1001.9h1.4M647.3 1008.6h1.4M647 1007h1.4M646.5 1015.6h1.4M648.1 1009h1.4M646.1 1008.6h1.4M646.3 1022.7h1.4M646.8 1006.7h1.4M647.8 998.1h1.4M647.8 1018.7h1.4M646.6 1026h1.4M647.4 1018.8h1.4M646.9 1007.6h1.4M646.5 1010.5h1.4M647.2 1020h1.4M647.1 1017.7h1.4M646.7 1025.7h1.4M647.5 1012.6h1.4M647.6 1028.3h1.4M646.5 1015h1.4M648 1023h1.4M647.4 1014.7h1.4M647 1009h1.4M648 1014.7h1.4M647.5 1012.1h1.4M647.6 1011.7h1.4M649.5 1010.2h1.4M648.9 1002.2h1.4M650.1 1015.2h1.4M650.8 1015.8h1.4M651.2 1010.9h1.4M648.9 1022.9h1.4M649.4 1013h1.4M650.3 1025.8h1.4M651 1019.2h1.4M649.3 1012.7h1.4M650 1013.7h1.4M650.1 1021.4h1.4M649.6 1010.8h1.4M649.8 1013.8h1.4M649.7 1009.3h1.4M649.1 1018.6h1.4M651 1016h1.4M650.1 1010.6h1.4M649.7 1021.7h1.4M650.6 1011.3h1.4M649.8 1019.7h1.4M650.6 1002.1h1.4M649.5 1019.6h1.4M650.6 1009.8h1.4M650.3 1027.9h1.4M649.6 1015.8h1.4M650.4 1012.2h1.4M650.6 1015.6h1.4M650 1017.6h1.4M649.3 1021.4h1.4M649.2 1014h1.4M649.9 1015.9h1.4M650.1 1014.5h1.4M648.5 1018.7h1.4M650.4 1022.8h1.4M660.4 1017.2h1.4M663 1002.9h1.4M663.4 1023.4h1.4M661.6 1013.5h1.4M662.9 1026.4h1.4M663.8 1006.5h1.4M662.3 1008.8h1.4M661.2 1010.7h1.4M660.4 1014.7h1.4M661.5 1013.1h1.4M662.6 1022.3h1.4M662.3 1033.6h1.4M662.4 1023.5h1.4M663.3 1012.5h1.4M661.7 1005.4h1.4M662 1022.5h1.4M661.5 1016.3h1.4M661.8 1012h1.4M660.7 1007.8h1.4M661.9 1015.8h1.4M660.9 1008.2h1.4M664.3 1016h1.4M663.9 1013.7h1.4M661.7 1013.3h1.4M664.8 1008.8h1.4M663.5 1004.6h1.4M663.1 992.4h1.4M663.6 1015.5h1.4M662.7 1010.4h1.4M661.8 1011.8h1.4M660.6 1008h1.4M662 1018.2h1.4M662.8 1012.1h1.4M661.6 1015.4h1.4M660.9 1009.6h1.4M661.9 1010.6h1.4M665.1 1010.9h1.4M663 996.2h1.4M661.4 1015.4h1.4M662.3 1009.4h1.4M663 1012.6h1.4M659.3 1020.6h1.4M660.7 1019.9h1.4M662 1002.6h1.4M660.2 1010h1.4M661.3 1001.5h1.4M661.5 1019.1h1.4M662.8 1013.3h1.4M661.4 1008.2h1.4M661.9 1006.8h1.4M662 1005.1h1.4M661.6 1026.6h1.4M662 1014.3h1.4M662.9 1016.3h1.4M662.2 1026.8h1.4M662.9 1011.3h1.4M661.6 1015.6h1.4M662.3 1010.6h1.4M660.4 1023.8h1.4M659.5 1015.5h1.4M661.6 1003.5h1.4M660.6 1001.8h1.4M663.8 1016.3h1.4M662.6 1027.3h1.4M659.9 1012.4h1.4M663.2 1023.8h1.4M664.6 1006.7h1.4M662.9 1016.7h1.4M662.5 1018.7h1.4M663.8 1013.3h1.4M669.4 1019.2h1.4M671.8 1005.6h1.4M669.7 1002.3h1.4M668.1 1021h1.4M668.7 1012.9h1.4M670.3 1008.8h1.4M670.4 1018.2h1.4M670.6 1018.5h1.4M668.9 1014.4h1.4M668.8 1011h1.4M670.7 999.6h1.4M668.8 1007.2h1.4M669.7 1009.7h1.4M669.1 1018.2h1.4M671 999.7h1.4M669.6 1019.2h1.4M669.3 1021.1h1.4M669.8 1012.7h1.4M670.8 1001.5h1.4M668.9 1020.2h1.4M668.5 1013.6h1.4M668.9 1011.8h1.4M669.8 1015.9h1.4M670.7 1020.6h1.4M668.8 1012.5h1.4M669.7 1007.6h1.4M669.1 1028.8h1.4M670.5 1007.2h1.4M669.7 1013h1.4M671.3 1017.6h1.4M671.1 1014.3h1.4M669.8 1013.4h1.4M671.7 1005.8h1.4M670.1 1013.8h1.4M670.5 1017.7h1.4M670.2 1012.6h1.4M669.7 1021.8h1.4M670.7 1019.4h1.4M669.7 1006.6h1.4M669.7 1011.3h1.4M669.9 997.5h1.4M670.3 1015.6h1.4M667.4 1017.1h1.4M668.6 1009.2h1.4M669.4 1010.5h1.4M670.9 1015.3h1.4M668.4 1010.7h1.4M669 1002.7h1.4M671.5 1012.8h1.4M671.7 1020h1.4M669.5 1015.8h1.4M669.6 1000.8h1.4M670.9 1006.4h1.4M670.8 1008.2h1.4M670.8 1014.7h1.4M670.9 1020.5h1.4M669 1027.9h1.4M669.5 1027.9h1.4M668.9 1004.7h1.4M671.2 1019.3h1.4M669.8 1013.5h1.4M668.5 999.4h1.4M670.6 1013.2h1.4M671 1012.3h1.4M670.6 1007.9h1.4M669.3 1016.4h1.4M670.9 1007.9h1.4M671.2 1022.4h1.4M669.7 1002.3h1.4M670.2 1021.8h1.4M675.9 1018.8h1.4M673.5 1024.3h1.4M676.1 999.5h1.4M676.8 1003.8h1.4M675.1 1001.4h1.4M675.3 1012.9h1.4M674.5 1017h1.4M675.7 1007.6h1.4M676.1 1004.5h1.4M675.9 1015.6h1.4M675.1 1010h1.4M676.4 1014.3h1.4M675.7 1014h1.4M675.5 1003.2h1.4M676.6 1026.4h1.4M675.5 1015h1.4M674.4 1012.1h1.4M677.1 1019.2h1.4M674.3 1007.9h1.4M675.7 1017.2h1.4M675.5 1016.2h1.4M675.8 1009.5h1.4M675.5 1013.4h1.4M673.8 1017.7h1.4M673.9 1013.2h1.4M675.9 1018.8h1.4M674.8 1019.1h1.4M674.4 1021.2h1.4M675.4 1021.6h1.4M675.8 1014.8h1.4M674.7 1004.7h1.4M676 1020.7h1.4M677.3 1011.6h1.4M674.6 1017.5h1.4M675.3 1006.9h1.4M677.1 1006.8h1.4M676.1 1011.9h1.4M673.8 1014.3h1.4M675.1 1012.4h1.4M673.8 1013.4h1.4M676.6 1020h1.4M675.1 1005.7h1.4M675.8 1010.4h1.4M675.5 1012.9h1.4M676.1 1018.1h1.4M674.2 1019.2h1.4M674.9 1023.4h1.4M675.1 1004.6h1.4M676.9 1015.3h1.4M674.7 1011h1.4M674.2 1010.7h1.4M672.8 1009.9h1.4M675.4 1009h1.4M675 1019.1h1.4M673.6 1002.6h1.4M672.9 1015.7h1.4M674.4 998.9h1.4M674.4 1017.6h1.4M675.6 1009.9h1.4M674 1015.7h1.4M673.9 1016h1.4M675.8 1014.2h1.4M675.1 1012.7h1.4M675.4 1015.8h1.4M673.7 1018.6h1.4M674.4 1010.8h1.4M675.9 1009.6h1.4M676.7 1006.6h1.4M676.3 1019.8h1.4M677.1 1019.5h1.4" stroke="#6cc840" stroke-width="1.4" stroke-opacity="0.9" fill="none"/>
<path d="M347.9 1039.3h1.4M353.4 1061.7h1.4M352.1 1051.7h1.4M346.2 1038.6h1.4M349.6 1041.9h1.4M346.5 1038.8h1.4M347.9 1042.8h1.4M356.6 1045.5h1.4M350.6 1045h1.4M356.3 1039.7h1.4M347.7 1052h1.4M346.2 1039.2h1.4M352.3 1048.1h1.4M348.8 1035.1h1.4M355 1037h1.4M354.7 1046.5h1.4M348.4 1037.1h1.4M346.6 1045.3h1.4M349.2 1036.6h1.4M350.2 1037.7h1.4M355.2 1047h1.4M352.6 1038.8h1.4M364.5 1035.8h1.4M361.5 1042.3h1.4M361.7 1038.4h1.4M363.4 1035.5h1.4M360.8 1047.9h1.4M363.5 1048.8h1.4M360.8 1038.8h1.4M361.9 1035.9h1.4M360.1 1038.3h1.4M362.8 1040.8h1.4M363.1 1043.5h1.4M362 1052.2h1.4M361.1 1042h1.4M389.1 1038.4h1.4M388.9 1037.6h1.4M385.2 1038.6h1.4M387.1 1051.1h1.4M383.2 1037h1.4M384.4 1038.4h1.4M387.9 1038.4h1.4M385.4 1036.3h1.4M390.5 1037.5h1.4M387.1 1037.9h1.4M386 1036.3h1.4M389.9 1043.1h1.4M386.1 1038h1.4M384.9 1035.8h1.4M387.2 1037.6h1.4M383.5 1036.9h1.4M387.9 1041.3h1.4M383.6 1044.5h1.4M385.2 1042.9h1.4M390.4 1037.2h1.4M386.1 1048.1h1.4M388.5 1046h1.4M384.4 1042.8h1.4M386.6 1042.2h1.4M388.2 1044h1.4M386.5 1040.9h1.4M407.2 1043.1h1.4M401.8 1038.8h1.4M400.5 1044.2h1.4M401.7 1046.5h1.4M400.4 1034.6h1.4M408.3 1039.4h1.4M408.4 1037.6h1.4M406 1037h1.4M404.7 1034.7h1.4M407 1043.4h1.4M402.9 1045.1h1.4M407.3 1036.9h1.4M406.8 1044.7h1.4M406.5 1037.1h1.4M406.1 1046.2h1.4M399.8 1036h1.4M405.3 1036.9h1.4M407.4 1035.4h1.4M402.9 1034.9h1.4M405.6 1041.8h1.4M405.7 1047.3h1.4M406 1039.5h1.4M408 1037.1h1.4M402.6 1041.6h1.4M408.8 1037.8h1.4M407.6 1043.6h1.4M421.3 1052.1h1.4M417.8 1044.6h1.4M426.7 1042.2h1.4M417.4 1040.8h1.4M424 1055.6h1.4M422.5 1039.3h1.4M424.4 1048.3h1.4M417.4 1036.5h1.4M421.7 1034.6h1.4M426.5 1039.3h1.4M423.7 1048.9h1.4M421.2 1034.6h1.4M416.8 1040.8h1.4M421.3 1036.1h1.4M422.1 1036.5h1.4M422.4 1040.5h1.4M420.7 1037.2h1.4M423.7 1036.3h1.4M426.5 1048.3h1.4M427.1 1039h1.4M423.1 1038.3h1.4M419.2 1035.4h1.4M418.7 1042.3h1.4M418.6 1035.8h1.4M423.5 1038.6h1.4M427.2 1043.4h1.4M422.2 1044.9h1.4M424.5 1034.8h1.4M420.5 1035.6h1.4M423 1037.5h1.4M456.2 1035.9h1.4M455.4 1041.6h1.4M456.7 1037.3h1.4M452.2 1046.9h1.4M457.6 1054.1h1.4M454.6 1043.8h1.4M452.3 1049.7h1.4M450.7 1038.2h1.4M450.7 1041.1h1.4M457.2 1046.6h1.4M458.6 1041.4h1.4M451.8 1035h1.4M455.4 1035.6h1.4M456.1 1036.9h1.4M456.8 1036.4h1.4M457.4 1036.8h1.4M458.8 1034.8h1.4M469.8 1038.2h1.4M470 1037.4h1.4M467.1 1044.1h1.4M464.2 1035h1.4M470.3 1043.1h1.4M464.6 1036.4h1.4M465.3 1039.5h1.4M464.8 1042.4h1.4M471 1039h1.4M469.6 1037.7h1.4M469.2 1039.7h1.4M463.5 1041.5h1.4M465.4 1039.3h1.4M466.4 1047.8h1.4M469.9 1035.5h1.4M462.6 1037.1h1.4M468.2 1035.8h1.4M465 1036h1.4M465.7 1037.3h1.4M470.6 1041.9h1.4M464 1041.5h1.4M468.8 1035.5h1.4M483.6 1035.7h1.4M490.3 1034.5h1.4M485.5 1035.3h1.4M488.6 1034.6h1.4M488.9 1037.1h1.4M485.1 1036.7h1.4M482.5 1037.5h1.4M484.2 1049.8h1.4M487.8 1049.2h1.4M487.4 1044.1h1.4M483.1 1037h1.4M488.5 1043.7h1.4M482.5 1037h1.4M485.2 1036.4h1.4M490.4 1037h1.4M483.9 1042.2h1.4M489.2 1035.5h1.4M500.5 1039.5h1.4M494.7 1051.5h1.4M498.1 1049.6h1.4M498.7 1048.8h1.4M497.4 1039.3h1.4M496.8 1042.7h1.4M495.2 1040.7h1.4M494.1 1043.7h1.4M494.6 1037.6h1.4M497.7 1043.8h1.4M494.6 1047.9h1.4M499.5 1044.7h1.4M500.8 1035.8h1.4M500.4 1047.4h1.4M495.3 1044.3h1.4M495.3 1038.1h1.4M499.4 1046.2h1.4M497.9 1037.1h1.4M497.6 1038.5h1.4M525.5 1040.4h1.4M512.6 1046h1.4M521.4 1035.7h1.4M516 1035.4h1.4M517.1 1035.9h1.4M513.8 1044.3h1.4M513.2 1038.4h1.4M523.6 1037.1h1.4M520.2 1042.5h1.4M517.2 1038.3h1.4M513.1 1044.4h1.4M518.1 1036.5h1.4M519.4 1042.2h1.4M514.4 1040.3h1.4M512 1061.9h1.4M519.9 1057.6h1.4M518.8 1044.1h1.4M527 1035.4h1.4M515.3 1045.9h1.4M520.6 1038.7h1.4M522.8 1045.1h1.4M520 1043.3h1.4M521.4 1040.2h1.4M517.7 1054.2h1.4M514.6 1043.4h1.4M526.7 1038.2h1.4M523.2 1041.8h1.4M512.2 1044.3h1.4M522.2 1035.5h1.4M518.4 1047.7h1.4M525.8 1053h1.4M521.8 1038.8h1.4M526.4 1044.8h1.4M545.8 1051.7h1.4M548 1037.1h1.4M536.7 1036.3h1.4M548.3 1048.1h1.4M545.6 1036h1.4M536.8 1046h1.4M535.6 1040.8h1.4M542.4 1042.2h1.4M543.9 1040h1.4M543.4 1048.9h1.4M548.5 1054.6h1.4M539.7 1038h1.4M548.8 1046h1.4M539.4 1034.9h1.4M536.3 1038h1.4M537.3 1035.9h1.4M545.1 1042.7h1.4M544 1041.3h1.4M547.8 1043.5h1.4M545 1035.4h1.4M544.3 1054.1h1.4M547.1 1044.5h1.4M541.6 1043.2h1.4M541.8 1041.8h1.4M536.3 1042.7h1.4M534.4 1044.7h1.4M549.7 1038h1.4M543.3 1037.6h1.4M543.4 1048.7h1.4M534.3 1036.9h1.4M537.7 1036.6h1.4M535 1045h1.4M543.1 1039.8h1.4M633.2 1041.7h1.4M631.4 1036.1h1.4M637.1 1036.2h1.4M629 1042.3h1.4M629.3 1039.3h1.4M638.6 1037.8h1.4M633.2 1042h1.4M633.3 1045.3h1.4M635.8 1043.7h1.4M638.7 1035.6h1.4M635.5 1034.7h1.4M631.7 1047h1.4M636.7 1041.6h1.4M637.1 1049.5h1.4M628.5 1043.2h1.4M637.6 1054.8h1.4M638.2 1035.4h1.4M636.2 1042.5h1.4M631 1034.8h1.4M636.8 1043h1.4M636.2 1047.7h1.4M629 1035.7h1.4M645.7 1042.5h1.4M645.3 1038.3h1.4M649.8 1047.4h1.4M649.3 1050.5h1.4M649 1038.2h1.4M650.8 1046.2h1.4M646.2 1041.1h1.4M651 1034.8h1.4M645.1 1036.1h1.4M649.8 1035.7h1.4M650.7 1038.6h1.4M645.6 1039.5h1.4M650 1038.2h1.4M651.4 1035.3h1.4M646.8 1043.4h1.4M668.1 1038.8h1.4M664.3 1038.7h1.4M676.4 1039.8h1.4M676.9 1035.9h1.4M673.8 1045h1.4M661.8 1046h1.4M672.4 1043.7h1.4M674.1 1035.7h1.4M665.1 1040.8h1.4M665.9 1034.9h1.4M660.4 1036.2h1.4M669.6 1037.6h1.4M665.3 1035.2h1.4M659.1 1040.1h1.4M659.4 1042.4h1.4M669.2 1045.9h1.4M671.2 1044.2h1.4M674.1 1050.5h1.4M673.5 1036.6h1.4M669.6 1042h1.4M672.6 1048h1.4M673.8 1049.6h1.4M676.1 1035.4h1.4M674.3 1034.9h1.4M665.8 1034.7h1.4M673.1 1035.5h1.4M664.6 1037.8h1.4M662 1039.6h1.4M664.9 1037.4h1.4M363.6 1062.6h1.4M363.6 1091.2h1.4M364 1067.5h1.4M363.7 1074.5h1.4M363.4 1063.2h1.4M364.2 1080.7h1.4M363.9 1052.1h1.4M365.4 1073.3h1.4M363.3 1056.8h1.4M364.8 1056.2h1.4M385.1 1089.9h1.4M385.3 1081.1h1.4M385.6 1048h1.4M385.7 1086.4h1.4M385.8 1084.5h1.4M386 1069.8h1.4M385.7 1046.3h1.4M385.4 1050.4h1.4M384.4 1074.6h1.4M386 1068.7h1.4M385.7 1053.5h1.4M385.6 1065.9h1.4M385 1080.9h1.4M386 1073.5h1.4M388.5 1073h1.4M389.6 1060.4h1.4M389.2 1095.1h1.4M388.7 1082.6h1.4M388.3 1064.9h1.4M390.5 1069.9h1.4M388.9 1073.8h1.4M388.4 1054.9h1.4M389.8 1073.3h1.4M390.2 1055.1h1.4M403.4 1092.4h1.4M402.6 1090h1.4M402.3 1079.3h1.4M402.7 1074.8h1.4M402.5 1047.8h1.4M401.9 1052.2h1.4M403.6 1049.8h1.4M403.4 1057.5h1.4M402.2 1089.7h1.4M403.2 1065.4h1.4M402.5 1072h1.4M403.7 1079h1.4M402.9 1062.4h1.4M401.2 1069.6h1.4M407.1 1081.8h1.4M407.2 1086.4h1.4M406.8 1073h1.4M406.8 1050.1h1.4M407.7 1082.2h1.4M406.3 1078.5h1.4M407 1074.9h1.4M407.6 1076.9h1.4M406.4 1058.8h1.4M407.6 1054.5h1.4M410.5 1065.6h1.4M412 1091.1h1.4M413 1046.2h1.4M412.1 1054.1h1.4M411.9 1062.5h1.4M411.7 1081.9h1.4M412.8 1084.1h1.4M412.7 1063.5h1.4M451.9 1054h1.4M452.1 1078.5h1.4M451.8 1071.6h1.4M452.1 1073.3h1.4M451.7 1049h1.4M452.5 1081.3h1.4M452.6 1065.4h1.4M452.8 1045.9h1.4M453.2 1051.4h1.4M452.1 1085h1.4M456.9 1051.4h1.4M457.5 1050.9h1.4M458.1 1066.4h1.4M459 1089.1h1.4M458.2 1071.5h1.4M458 1046h1.4M458.4 1080.4h1.4M458.1 1077.4h1.4M521.9 1046.8h1.4M524 1064.6h1.4M522.5 1047.3h1.4M523.5 1054.8h1.4M522.1 1093.1h1.4M523.4 1073.9h1.4M533.7 1088.9h1.4M535.5 1073.7h1.4M535 1088.4h1.4M535.2 1089.6h1.4M534.8 1056.2h1.4M535.1 1077.1h1.4M534.9 1087.9h1.4M535 1087.3h1.4M534.9 1047.9h1.4M535.1 1070.6h1.4M647.8 1063.3h1.4M648.4 1095h1.4M647.3 1057.4h1.4M647.1 1091.6h1.4M647.9 1076.5h1.4M646.8 1069.1h1.4M658.9 1049.9h1.4M658.9 1073.4h1.4M658.8 1094.5h1.4M659.9 1049.8h1.4M659.4 1083.3h1.4M658.5 1061.6h1.4M658.3 1075.4h1.4M659.4 1092.4h1.4M495.3 1035.1h1.4M496.2 1044.7h1.4M351.2 1036.3h1.4M395.8 1037.2h1.4M588.4 1045h1.4M345.1 1036.5h1.4M447.8 1037.7h1.4M501.5 1034.5h1.4M457.6 1034.8h1.4M513.8 1035.9h1.4M280.9 1037.3h1.4M496.2 1034.6h1.4M587.6 1046.3h1.4M418.4 1035.7h1.4M511.2 1046.8h1.4M482 1042.2h1.4M576.1 1037.7h1.4M610.6 1039.3h1.4M306.9 1038.2h1.4M447 1044.7h1.4M590.5 1036.5h1.4M654.3 1039.9h1.4M443.3 1043.9h1.4M557.8 1038.4h1.4M656.2 1041.7h1.4M508.1 1038.1h1.4M623.6 1034.6h1.4M651.9 1051.1h1.4M545.5 1038.6h1.4M412.7 1037.7h1.4M289.9 1038.4h1.4M443.5 1039.5h1.4M587.2 1049.4h1.4M294.6 1040.2h1.4M430 1041h1.4M376.7 1042.6h1.4M381.6 1034.9h1.4M543.9 1039.5h1.4M537.8 1035.6h1.4M289.9 1036.5h1.4M671.4 1038.6h1.4M538.2 1036.5h1.4M363.3 1036.6h1.4M586.1 1035.3h1.4M549.9 1039.9h1.4M614.3 1039.6h1.4M499.1 1054.2h1.4M434.4 1045h1.4M501.4 1036.3h1.4M652.7 1034.8h1.4M659.4 1036h1.4M487.1 1035.8h1.4M519.6 1041.2h1.4M540.3 1035.1h1.4M511.7 1041.7h1.4M372 1035.7h1.4M580.4 1035.8h1.4M554.9 1036.4h1.4M541.5 1047.7h1.4M626.3 1040.2h1.4M643.5 1039.8h1.4M462.9 1039.9h1.4M271.6 1043.2h1.4M477.2 1047.3h1.4M454.2 1044.6h1.4M336.2 1041.9h1.4M527.4 1036.5h1.4M459.8 1039.7h1.4M296.1 1038h1.4M551 1035.4h1.4M362.7 1048.8h1.4M285.7 1038.3h1.4M383.2 1039.6h1.4M517.2 1049.8h1.4M348.8 1038.6h1.4M543.6 1040.9h1.4M344.6 1039.3h1.4M658.6 1045.9h1.4M620.9 1035.3h1.4M384.5 1038.7h1.4M666.8 1037.1h1.4M673.9 1050.1h1.4M657.1 1039h1.4M525.1 1036.4h1.4M318.7 1048.5h1.4M661.9 1040.1h1.4M329.2 1037.8h1.4M363.3 1036.5h1.4M490 1041.5h1.4M584 1045.1h1.4M639.9 1036.1h1.4M298.9 1036.6h1.4M286.3 1045.4h1.4M286.7 1038.6h1.4M440.3 1040.3h1.4M638.1 1045.7h1.4M281 1042.3h1.4M593.5 1040.8h1.4M277.2 1045.7h1.4M292.6 1037.9h1.4M433.2 1042.5h1.4M633 1038.7h1.4M362 1035.4h1.4M632.9 1038.3h1.4M340.2 1039.8h1.4M382.9 1046.9h1.4M306.6 1044.8h1.4M571.2 1039.9h1.4M488.6 1055.4h1.4M273.7 1041.6h1.4M402.6 1037.7h1.4M496.2 1037.8h1.4M296.3 1040.8h1.4M628.1 1038.5h1.4M637 1047.3h1.4M657.2 1036.1h1.4M416.9 1040.7h1.4M319.2 1035.9h1.4M343 1045.7h1.4M390.2 991.7h1.4M502 976.8h1.4M622.4 1028.5h1.4M425.2 1052h1.4M675.3 1061.4h1.4M363.9 1051.2h1.4M486.8 992.9h1.4M521.3 972.7h1.4M353.9 1032.6h1.4M508.8 1055.7h1.4M476 1047.2h1.4M556.5 1011h1.4M604.9 1040.2h1.4M618.8 1019.6h1.4M578.3 1012.3h1.4M285.3 983.3h1.4M552.7 1052.7h1.4M614.7 997.3h1.4M632.8 985.6h1.4M338.7 977.9h1.4M503.4 1032h1.4M670.1 1015.3h1.4M605.5 1042.6h1.4M605.3 1052.6h1.4M585.9 1061.2h1.4" stroke="#ee2020" stroke-width="1.4" stroke-opacity="0.9" fill="none"/>
<line x1="271.1" y1="1034" x2="678.8" y2="1034" stroke="#ee2020" stroke-width="1.8"/>
<path d="M524 1034.6h1M350.4 1036.2h1M418.8 1034.8h1M504 1033.7h1M581.4 1035.9h1M294.3 1035.3h1M538.9 1033h1M479.9 1034.6h1M534.9 1033.5h1M628.5 1032.7h1M657.8 1033.5h1M549.1 1035.2h1M397.3 1035h1M603 1037.1h1M293.5 1034h1M412.3 1033.1h1M527.9 1035.2h1M479.6 1034.8h1M591.6 1035.3h1M424.7 1033.6h1M574.1 1035.3h1M407.6 1035.1h1M541.6 1034.9h1M428.3 1033.1h1M342 1032.5h1M371.7 1034.1h1M421.8 1036.5h1M363.4 1034.6h1M393.3 1036h1M392.5 1033.8h1M340.3 1035.5h1M602.6 1033.4h1M408.1 1035.1h1M309.4 1034.9h1M599 1034.7h1M561 1033.1h1M360.1 1034.7h1M590.9 1034.6h1M569.2 1034.4h1M294.9 1031.8h1M467.1 1034.7h1M542 1035.5h1M392.5 1034.1h1M286 1034.8h1M494.4 1033.5h1M513.2 1036.6h1M374.3 1032.9h1M529.7 1034.4h1M649.7 1035.8h1M526.6 1034.5h1M367.4 1034.1h1M378.4 1036.4h1M516.8 1036h1M595 1036.4h1M561.3 1033.9h1M318.4 1030.1h1M472.7 1035.2h1M430.6 1034.8h1M535.1 1037.1h1M611 1034.1h1M545.2 1032.8h1M439.1 1033.6h1M481 1035.4h1M387.3 1035.2h1M312.6 1033.4h1M577.7 1034.6h1M406.8 1034.2h1M588.1 1033.1h1M459.1 1037.2h1M444.9 1034.1h1M478.2 1033.4h1M526.3 1033.9h1M427.8 1035.1h1M504.4 1034.7h1M418 1032.8h1M576.1 1035.7h1M514.1 1034.9h1M430.9 1034.1h1M633.6 1035.2h1M550.1 1034.5h1M650.4 1036.9h1M360.3 1034h1M525.3 1034.1h1M322.1 1033h1M656.2 1033.7h1M537.4 1030.4h1M485 1035.5h1M354.5 1033.9h1M638.3 1036.2h1M599.5 1036.5h1M523.8 1034.5h1M661.3 1035.4h1M279.9 1036.6h1M388.2 1035.6h1M398.1 1033h1M512.9 1036.2h1M651.9 1031.2h1M273.6 1035.4h1M511.1 1036.4h1M654.2 1034.6h1M377.9 1034.4h1M648.2 1033.2h1M438.8 1033.4h1M391.8 1034.2h1M617.5 1033.1h1M516.5 1034.1h1M654.6 1036h1M500.7 1031.5h1M661.5 1034.4h1M375.3 1035.7h1M343 1034.6h1M675.9 1033.8h1M332.5 1033.9h1M569.2 1034.7h1M673.1 1035.1h1M287.7 1033.9h1M541.4 1034.8h1M384.7 1034h1M374.6 1034.6h1M402.5 1034.6h1M407.9 1035.3h1M460.9 1032.4h1M394.3 1034.3h1M403.4 1032.9h1M439.4 1036.2h1M610.7 1032.1h1M650.2 1032.9h1M544.5 1034.2h1M286.2 1034.3h1M632.8 1035.5h1M577 1035.7h1M511 1034.3h1M595.1 1035h1M309.3 1035.1h1M614 1033.8h1M652.3 1035.6h1M307.4 1036.6h1M649.3 1034h1M493.7 1034.1h1M381.3 1033.8h1M356.2 1036.8h1M297.5 1033.9h1M529.5 1032.5h1M288.1 1034.9h1M505.4 1034.3h1M308.2 1034.7h1M601.4 1033.6h1M454.9 1034.7h1M664.8 1033.6h1M452.8 1035.3h1M289.5 1035.7h1M651.8 1037.2h1M418.5 1035.2h1M369 1034.6h1M544.4 1033.9h1M455 1033.5h1M615 1034.7h1M594.5 1035.4h1M329.6 1033.5h1M386.7 1034.2h1M610 1031.7h1M337.6 1037.6h1M454.8 1033.7h1M544.2 1033.6h1M638.6 1033.3h1M342.8 1033.7h1M622.5 1031h1M657.8 1035.3h1M328.2 1032.4h1M384.4 1034.4h1M483 1034.1h1M554.9 1034.3h1M475.8 1032.9h1M542.4 1035h1M336.7 1035.4h1M475.3 1035.5h1M452.1 1033.6h1M547 1036.7h1M328.2 1035.3h1M435.7 1032.3h1M404.8 1033.8h1M470.2 1035.3h1M306.2 1035.3h1M341 1035.2h1M594.1 1035.6h1M354.6 1034.9h1M322.5 1034.7h1M437.3 1035.1h1M611.2 1036.7h1M331.1 1034.7h1M271.4 1032.1h1M583.9 1035h1M272.5 1034.1h1M425.5 1034.7h1M638.7 1033.9h1M296.8 1035.8h1M410.6 1035.3h1M322.3 1032.4h1M481.9 1032.1h1M415.8 1034.1h1M301.2 1036.4h1M636.6 1036.1h1M454.8 1034.1h1M652.1 1033.9h1M423.4 1035.5h1M668.6 1036.1h1M651.4 1035h1M420.3 1033h1M482.9 1034.7h1M573.3 1036.7h1M338.7 1034h1M373.6 1035.5h1M304.6 1033.5h1M346.8 1034.6h1M564.6 1031.7h1M278.5 1035.7h1M632.1 1034.6h1M303.7 1035.1h1M457.1 1033.5h1M499.9 1031.8h1M347.2 1032.4h1M623.7 1036.8h1M504.5 1033.9h1M591.8 1033.7h1M307.4 1034.9h1M463.8 1035.4h1M431.4 1034.3h1M325.7 1033h1M556.1 1033.5h1M413.5 1032.2h1M548.2 1034.9h1M421.9 1033.9h1M598.6 1034h1M442.5 1032.1h1M309.7 1033.5h1M550.6 1035.9h1M609.2 1033.2h1M610.6 1034.7h1M417.1 1034.8h1M521.9 1032.5h1M595.9 1034.1h1M487.9 1032.9h1M274.4 1035.6h1M374.6 1031.8h1M425.8 1032.3h1M538.4 1034.1h1M570 1033.3h1M550 1031.9h1M326.6 1035.7h1M639.6 1033.3h1M531.7 1034h1M551.8 1035.6h1M305.3 1032.2h1M471.7 1035.1h1M374.6 1032.9h1M455.6 1033.1h1M500.8 1034.3h1M618.3 1033.7h1M553 1033.3h1M498.5 1034h1M347.9 1034.1h1M575.3 1033.2h1M398.9 1030h1M384.7 1032.6h1M339.4 1034.2h1M617.7 1035.2h1M312.9 1034.2h1M543 1033.5h1M670.9 1034.1h1M361.4 1034.8h1M426.2 1032.5h1M497.9 1033.2h1M516.8 1033h1M458.5 1033.6h1M574.2 1033.4h1M562 1034.6h1M626.4 1037.7h1M567 1033.3h1M327.4 1032.2h1M387.7 1032.6h1M428.3 1033.2h1M543.3 1034.3h1M439 1035.9h1M495.6 1032.5h1M350.3 1034.2h1M321.6 1031.7h1M377.6 1035.7h1M405 1034.1h1M640 1035.2h1M515.6 1035.6h1M628.9 1037.9h1M658.8 1033.6h1M659.1 1036.7h1M351.6 1032.1h1M560.2 1033.3h1M334.3 1033.7h1M289.5 1032.2h1M314 1032.8h1M422.2 1034.5h1M330.7 1036.3h1M557.7 1034.1h1M474.2 1031.5h1M362.8 1035.2h1M577.7 1034.3h1M364.6 1032.3h1M513.4 1034h1M582.4 1034.6h1M430.1 1036.1h1M628.5 1034.5h1M535.5 1034.1h1M606.2 1034.1h1M314.1 1034.9h1M397.2 1033h1M481 1035.7h1M612.2 1035.2h1M463.8 1032.4h1M644.4 1036.2h1M424.9 1034.4h1M346.5 1035.7h1M615.9 1034.3h1M519.3 1034.8h1M442.2 1035.1h1M642.5 1032.9h1M341.8 1036.7h1M607.1 1033.3h1M406.9 1034.1h1M548.1 1034.9h1M360.2 1035.2h1M508.3 1035h1M377.5 1036h1M655.2 1033.8h1M344.1 1034.9h1M357.1 1031.4h1M394 1033.7h1M670.6 1034.1h1M472.9 1035.3h1M484.7 1034.4h1M567.2 1034.6h1M370.3 1034.1h1M553 1032.6h1M646.9 1035.2h1M433.2 1036.5h1M640.7 1035h1M288.4 1033h1M548.8 1033.5h1M553.8 1035.9h1M291.1 1037.1h1M294.7 1035.1h1M370.5 1031.4h1M577.5 1034.4h1M556.3 1034.6h1M592.9 1034.1h1M397.8 1034.6h1M414 1033.9h1M276.2 1035.8h1M321.3 1034.6h1M668.3 1033.1h1M668.9 1034.6h1M470.3 1034.6h1M286.5 1035h1M330.9 1033.7h1M468.1 1034.1h1M271.2 1035.1h1M398.5 1036.3h1M401.6 1033.1h1M415.6 1034.4h1M676.8 1033.7h1M351.1 1033.7h1M590.9 1033.5h1M510.1 1033.8h1M646.6 1033h1M669.9 1034.7h1M282.9 1035.1h1M284.1 1035.1h1M298.4 1035.7h1M581.3 1034.9h1M478.4 1032.8h1M491.5 1036.9h1M620 1035.2h1M347.3 1034.9h1M274.5 1034.8h1M556.1 1035.6h1M280.5 1034.5h1M669.3 1034.1h1M325.4 1038.2h1M577.3 1033.4h1M658.2 1035.4h1M343.3 1034.3h1M658.7 1034.7h1M583.7 1035.2h1M314.1 1035.2h1M466.8 1036h1M399.1 1035.3h1M592.1 1036.1h1M617 1031.7h1M552.5 1033.5h1M642.8 1033.3h1M629.2 1031.8h1M417.5 1034.7h1M382.9 1035.9h1M642.6 1035.4h1M287.1 1033.4h1M601.7 1032.7h1M623.1 1033.3h1M585.7 1034.1h1M354.6 1033.9h1M509.2 1035.1h1M614.6 1034.5h1M316.6 1034.3h1M341.6 1031.9h1M306.3 1035.4h1M635 1035h1M583.5 1034.7h1M434.8 1033.2h1M364.2 1034.4h1M660.9 1035.5h1M358.6 1035.1h1M335.9 1033.5h1M532.4 1035.4h1M608.9 1033.8h1M489.6 1034.2h1M360.5 1034.6h1M455.6 1033.6h1M517.1 1033.8h1M440 1035.5h1M479.4 1035.5h1M506 1034.2h1M305.4 1034.1h1M505.4 1035h1M482.1 1033.8h1M464.7 1034.7h1M651.2 1034.4h1M470.2 1036.4h1M558.5 1035.6h1M631.4 1032.8h1M297.9 1032.4h1M653 1035.5h1M367.4 1037h1M617.2 1033.2h1M516 1036.1h1M321.7 1033.3h1M554.9 1037.1h1M449.6 1033.1h1M622.3 1034.9h1M669.3 1035.2h1M489 1032.2h1M500.2 1036h1M299.5 1034h1M550.3 1032.5h1M494.5 1032.5h1M389.7 1038.3h1M298.6 1033.5h1M478.2 1033.8h1M623.9 1036.4h1M592.2 1034.3h1M329.1 1034.6h1M404.7 1035.3h1M323.6 1033.8h1M292 1032.9h1M445.2 1033.8h1M615.6 1033.5h1M675.3 1033.7h1M590.6 1037.5h1M435.7 1038.2h1M470.6 1036.6h1M391.7 1033.4h1M613.8 1034.6h1M442.5 1035.6h1M633.3 1031.9h1M568.5 1032.5h1M283 1032.3h1M373.8 1032.5h1M553.1 1035h1M583.7 1033.4h1M395.7 1033.4h1M366.6 1034.9h1M631.7 1036.5h1M509.2 1034.4h1M308.7 1033.6h1M368.1 1034.5h1M584.9 1031.9h1M515.6 1035.8h1M633.6 1035.1h1M499.9 1033.9h1M527.8 1035.1h1M561.4 1036.6h1M623.8 1035.2h1M273.9 1034.8h1M380.1 1034.7h1M279 1036h1M621.7 1034.8h1M569.1 1032.8h1M508.1 1034.9h1M475.6 1033.4h1M303 1034.8h1M401.4 1032.6h1M279.5 1033h1M422.4 1035.7h1M558.9 1034.9h1M461.3 1035.1h1M418 1035.6h1M560.8 1035.2h1M537.8 1032.9h1M668.9 1034.1h1M276.7 1035.8h1M358.9 1033.1h1M467.5 1031.3h1M422.5 1034.6h1M616.6 1034.5h1M616.1 1035.8h1M601.6 1032.2h1M353.9 1035.5h1M462.3 1032.7h1M428.4 1035.9h1M435.8 1032.8h1M539.6 1035.4h1M543.1 1034.5h1M464.2 1033.8h1M331.5 1036h1M403.8 1034.1h1M530.2 1032.9h1M554.6 1036.4h1M485.8 1035.9h1M588.4 1035.7h1M394.6 1033.9h1M479.6 1033.5h1M582.7 1035.1h1M450.5 1032.5h1M405.9 1034.4h1M626.5 1032.8h1M676.2 1035.6h1M377.4 1035.9h1M548 1032h1M463.9 1035.6h1M464.4 1033.2h1M672.5 1037.3h1M566.6 1033.7h1M600.8 1036.2h1M367.3 1033.3h1M459.3 1036.9h1M488.8 1033.6h1M623.1 1033h1M524.4 1034.3h1M675.3 1033.3h1M501.9 1033.3h1M457 1033.9h1M389.3 1034.6h1M550.5 1032.7h1M371.9 1033.1h1M607.1 1032.5h1M310.5 1036.4h1M379.3 1036.1h1M601 1035.2h1M309.8 1032.2h1M295.9 1032.4h1M391.1 1033.5h1M486.8 1033h1M494.2 1035h1M321.4 1035.5h1M630.7 1035.9h1M516.8 1035.7h1M412.8 1033.3h1M378.3 1035.7h1M294.1 1034.2h1M306.1 1036.2h1M342.3 1033h1M282 1034.7h1M666.7 1033.5h1M302.4 1033.1h1M399.6 1033.7h1M623.3 1035.3h1M401.8 1036.1h1M348.1 1034.9h1M673.1 1033.2h1M555.5 1032.6h1M392.5 1032.6h1M324.1 1033.2h1M325.8 1034.3h1M659.3 1036.8h1M563.7 1033.7h1M580.1 1032.8h1M480.3 1032.8h1M621.5 1033.8h1M500.6 1034.7h1M674.6 1034.4h1M675.1 1034.7h1M475.8 1032h1M454.5 1033.7h1M308 1033.1h1M510.6 1035.1h1M540.5 1034.5h1M501.3 1033.5h1M653.6 1034.7h1M319.3 1035.2h1M403.9 1034.6h1M404.1 1032.6h1M403.7 1033.9h1M635.7 1033.5h1M486.7 1033.4h1M556.4 1033.8h1M403.6 1035.3h1M529.2 1034.9h1M347.3 1035.2h1M627.3 1033.6h1M588.9 1035h1M551.3 1033.9h1M336.8 1034.3h1M411.4 1032.7h1M301.9 1035.6h1M283.4 1034.3h1M537.5 1033.4h1M412.4 1035.5h1M295.1 1033.4h1M617.5 1033.2h1M579.5 1034.7h1M389.2 1034.1h1M614.8 1033.3h1M342 1032.8h1M570.5 1034.9h1M303.6 1036h1M381.2 1033.5h1M398.2 1035.2h1M520.1 1032.9h1M588.3 1034.5h1M432.9 1035.4h1M370.3 1036.2h1M334.2 1034.8h1M671.6 1033.2h1M288 1035h1M445.6 1035.2h1M606.1 1035.1h1M547.1 1034.2h1M377.7 1033.2h1M522.5 1034.8h1M277.1 1034.3h1M675.4 1035.3h1M645.4 1035.5h1M302.7 1033.9h1M475.6 1034.7h1M409.4 1035.3h1M623.1 1035.6h1M600.5 1034.2h1M318.6 1033.9h1M428.5 1034.6h1M634.2 1034.9h1M345.8 1036.7h1M337 1034h1M363.9 1037.3h1M475.1 1034h1M641.5 1033.8h1M655.9 1033.7h1M614.4 1034.4h1M315.3 1036.5h1M585.8 1034.6h1M573.5 1034.1h1M545.6 1033.2h1M343.3 1033.8h1M371.7 1034h1M587.9 1034.1h1M307.6 1032.3h1M431.6 1035.7h1M643.3 1035.9h1M544 1034.1h1M471.9 1032.6h1M332.9 1035.4h1M317.3 1033.8h1M648.4 1035.4h1M364 1034.7h1M487 1036.2h1M480.8 1033.9h1M639.4 1035.5h1M663 1033.3h1M537.5 1032.9h1M305.4 1034h1M443 1035.9h1M278.6 1035.2h1M417.3 1035.6h1M422.9 1033.6h1M278.3 1035.5h1M441.1 1034.1h1M477.3 1034.6h1M282.3 1032.4h1M411.4 1035.8h1M376.2 1035.9h1M565.8 1035.1h1M650.9 1036.5h1M485.2 1035h1M473.3 1034.9h1M489.9 1032.9h1M559.8 1034.1h1M408.7 1032.9h1M442.6 1034.8h1M573.2 1034.3h1M347.5 1033.8h1M570.7 1033.9h1M385.8 1031.1h1M672.1 1035.8h1M562.4 1034.9h1M328 1036.5h1M613.1 1034.7h1M327.3 1033.1h1M626.1 1034.6h1M468.1 1035.5h1M277.4 1034.6h1M438.4 1034.8h1M407.9 1032.8h1M356.3 1034.4h1M600.8 1036.1h1M366.8 1033h1M385.2 1035.2h1M280.9 1036.8h1M666.4 1037.5h1M554.5 1034.4h1M604.8 1031.6h1M560.3 1032.4h1M439 1036.2h1M403.2 1036.7h1M646.8 1033.7h1M493 1032.4h1M337 1034.8h1M667.9 1033.3h1M653.9 1033.9h1M567.2 1037.9h1M591 1035.2h1M296.2 1033.2h1M318.7 1036.8h1M396.9 1033.6h1M376 1034.1h1M324.7 1036.1h1M562.8 1035.5h1M323.3 1035.1h1M574.4 1034.6h1M295.7 1035.6h1M472.7 1036.3h1M336 1032.9h1M502.4 1033.8h1M460 1036.2h1M394 1033.8h1M292.7 1033.7h1M442.4 1035.3h1M616.6 1035.3h1M536 1034.1h1M306.5 1032.6h1M566.5 1036.8h1M583.4 1032.4h1M461.2 1033.8h1M635.6 1032.9h1M392.8 1030.5h1M596.4 1035.1h1M584.4 1034.6h1M587.6 1033h1M455.7 1033.8h1M529.7 1034.1h1M507.7 1032h1M549.2 1035h1M545 1035.1h1M284.4 1034.7h1M431.9 1035.5h1M565.1 1033.5h1M540.7 1032.7h1M489.4 1033.4h1M408.9 1033.3h1M376.6 1032.5h1M527.7 1033.4h1M341.3 1035.5h1M396 1034.4h1M283.8 1034.2h1M499.7 1035.4h1M452 1033.9h1M581.1 1034.9h1M513.4 1033.7h1M593.9 1033.5h1M653.3 1033.8h1M302.6 1035.4h1M367.4 1035h1M512.8 1034.8h1M339.4 1037.1h1M672.3 1031.3h1M464.6 1033.3h1M594.8 1035.9h1M303.8 1037.2h1M444.7 1034.3h1M400.5 1032.3h1M408.7 1032.8h1M665.8 1034.1h1M559.5 1032.4h1M293.6 1036.8h1M506.3 1032.3h1M363.2 1033.5h1M576.6 1033h1M427 1035.1h1M629.5 1031.7h1M486.5 1032.9h1M346.8 1036.4h1M282.9 1033.4h1M657.1 1033.6h1M397.1 1036h1M334.1 1032.8h1M354.4 1033.5h1M668.1 1034.4h1M407.3 1032.9h1M463.8 1033.6h1M321.8 1036.6h1M527.4 1035.4h1M618.7 1033.2h1M411.1 1037.3h1M307.7 1037.5h1M348.6 1034.1h1M461.5 1035.5h1M666.4 1035.1h1M640.6 1034.6h1M312.2 1032.5h1M405.2 1034.9h1M639.3 1033.8h1M642.8 1033.3h1M468 1032.7h1M513.3 1034.7h1M375.9 1035.2h1M606.4 1031.6h1M443.1 1035.3h1M286.7 1036.7h1M668.5 1033.7h1M358.9 1034.3h1M359.5 1037.9h1M461.3 1033.5h1M531.5 1037.3h1M374.5 1034.9h1M607.9 1033.1h1M670 1034.9h1M561.9 1032.2h1M388.5 1032.6h1M643.1 1033.4h1M648.5 1033.2h1M656.4 1032.7h1M304.2 1035.7h1M330.8 1034h1M284.7 1035.3h1M464 1036h1M299.3 1036.8h1M446.5 1033.9h1M353.2 1032.8h1M497.8 1033.2h1M434.4 1033.2h1M496.8 1033.9h1M564.5 1032.7h1M300.9 1034.9h1M311.6 1036.2h1M528.4 1032.9h1M340 1037h1M377.6 1033.3h1M408.3 1034.8h1M589 1034.9h1M627.4 1033.2h1M528.3 1034.7h1M386.3 1034.3h1M335.4 1035.2h1M548.1 1036.7h1M317.3 1034h1M470.6 1034.3h1M622.3 1036.8h1M520.3 1033.2h1M636.5 1034.5h1M665.9 1035.2h1M496.4 1035.8h1M601 1033.5h1M406.1 1034.2h1M323 1037.2h1M446.7 1032h1M582.5 1033.2h1M300.7 1033.5h1M635.9 1034.5h1M598.9 1034.6h1M618.3 1034.5h1M326.4 1034.5h1M567.2 1033.6h1M359.6 1033.6h1M366.3 1035.8h1M283.1 1034h1M432.8 1035h1M398 1033.2h1M645.6 1035.2h1M441.7 1034.2h1M394 1034.8h1M665.7 1033.5h1M440.8 1037.1h1M337.7 1033.9h1M648 1037.2h1M363 1034.4h1M390.5 1033.9h1M355 1034.2h1M634 1034.6h1M435.6 1035.2h1M454.2 1032.3h1M575.5 1030.5h1M362.6 1033.9h1M607.2 1037.3h1M272.3 1036.1h1M272.9 1032.8h1M504.2 1034.3h1M332.5 1032.8h1M645.4 1033.5h1M436.6 1034.4h1M405 1031.3h1M491.7 1031.9h1M287.8 1034.1h1M515.2 1033.9h1M316.2 1034h1M358.2 1036.2h1M543.1 1035h1M394.9 1032.5h1M473 1035.4h1M439.3 1032.1h1M598 1033.2h1M647.1 1034.6h1M667 1034.7h1M560.2 1034.8h1M398.5 1032.5h1M423.1 1032.9h1M433.2 1034.5h1M390.7 1034.6h1M442.5 1034.5h1M362.6 1033.5h1M312.6 1036.9h1M385.3 1036.4h1M475.7 1034.2h1M421.9 1033.8h1M293.1 1033.2h1M507.4 1034.2h1M562 1031.7h1M654.8 1032.4h1M553.9 1036.1h1M387.4 1032.8h1M590.2 1034.6h1M663.3 1035.5h1M658.9 1031.8h1M505.4 1034.5h1M522.1 1035.2h1M276.2 1033.9h1M600.2 1037.1h1M276.3 1035.5h1M631.2 1034h1M438.7 1034.6h1M404.9 1034.7h1M677.5 1033.2h1M534.5 1036.4h1M293.3 1033.3h1M538.4 1035.3h1M360.2 1035.4h1M644.5 1033.9h1M443.5 1035h1M383.8 1036.1h1M340 1035.9h1M638.1 1035.4h1M397.8 1033.2h1M400.3 1035h1M598.1 1033.6h1M532.2 1033.5h1M308.1 1035.6h1M303.5 1032.3h1M603.4 1037.9h1M558.1 1035.9h1M310.9 1035.8h1M296.8 1032.8h1M567.4 1033.8h1M374.5 1032.9h1M398.5 1035.2h1M409.3 1034.8h1M346.2 1035.3h1M365 1033.4h1M644.3 1036.2h1M575.7 1031h1M286.1 1035.8h1M676.9 1036.3h1M663.4 1035.4h1M459.1 1033.9h1M369.5 1035.4h1M396.5 1034.8h1M609 1033.7h1M506.4 1032.7h1M347.1 1035.3h1M597.4 1033.4h1M422.9 1034.8h1M648.1 1033.4h1M339.3 1039.2h1M328.2 1037.1h1M320.5 1034.8h1M285 1034.8h1M369.6 1032.8h1M674.7 1033.5h1M604.7 1038.7h1M444.8 1034.9h1M577.2 1035h1M581.7 1037.3h1M533.2 1032.5h1M434.6 1035h1M560.8 1034.9h1M364.6 1031.5h1M324.3 1035.2h1M318.3 1032.7h1M475.4 1034.4h1M463.8 1035.2h1M463.8 1034.6h1M651 1032.9h1M385.6 1034.2h1M421.5 1033.8h1M287.2 1034h1M370 1034.2h1M634.1 1033.9h1M522.4 1035.1h1M416.5 1034.2h1M628.7 1035.2h1M531.9 1032.4h1M567.1 1033.6h1M284.5 1033.6h1M592.5 1033.5h1M524.5 1036.8h1M603.9 1032.9h1M657.4 1035.8h1M641.1 1034.7h1M483.4 1033.1h1M623.2 1033.3h1M315.3 1037.1h1M524.6 1036.3h1M471.1 1036.1h1M398.5 1034.3h1M320.7 1034.5h1M436.2 1035.8h1M346.5 1033.8h1M352.2 1034.7h1M338 1035.1h1M594.5 1032.3h1M521.7 1035.2h1M474.1 1036.3h1M592.7 1033.9h1M656.6 1035.7h1M447.3 1035h1M356.6 1034.2h1M441.4 1033.4h1M541.3 1037.2h1M333.2 1033.5h1M553.5 1036.7h1M363.8 1035.4h1M291.1 1035.3h1M508 1036h1M281.2 1034.3h1M665.3 1034h1M336.9 1034h1M618.9 1033h1M585.2 1034.1h1M395.5 1036.6h1M324.5 1033.8h1M661.9 1035h1M425.9 1034.2h1M426.6 1033.1h1M329.9 1034h1M561.8 1036h1M343.7 1034.8h1M324.4 1035.3h1M312.9 1034.3h1M452.7 1032.4h1M484.9 1032h1M541.1 1034.9h1M306.9 1034.5h1M410.2 1035.3h1M460.4 1035.8h1M665.5 1034.2h1M638.5 1032.2h1M581.3 1034.3h1M570.3 1032.1h1M322.2 1033.8h1M647.9 1035.8h1M307.7 1036.2h1M484.6 1033.7h1M303.1 1033.2h1M406.4 1033.7h1M562.1 1035.4h1M675.5 1035.2h1M611.5 1032.9h1M347.9 1034.6h1M609.7 1034.5h1M675 1032.5h1M547.8 1034h1M612.4 1034.3h1M284.5 1033.4h1M290.9 1035h1M330.7 1036.6h1M382.3 1033.3h1M368.6 1033.5h1M515.9 1034.1h1M509.8 1036.9h1M325.9 1034.7h1M466.6 1033.8h1M304.7 1034.7h1M591.5 1034.3h1M321.7 1033h1M435.1 1037.4h1M646.5 1034.5h1M642.6 1033.9h1M412.6 1033h1M547.2 1033.2h1M667.9 1033.6h1M538 1033.3h1M612.3 1031.9h1M599.9 1032.3h1M425.2 1035.7h1M286.8 1035.3h1M306.3 1036.1h1M396.4 1034.3h1M337 1032.7h1M635 1036.1h1M419.6 1035.5h1M390.2 1033.9h1M362.8 1034.3h1M524.9 1034.4h1M491.6 1036.5h1M321.9 1035.4h1M409.2 1034.5h1M547.5 1034h1M388.7 1034.9h1M590.1 1037h1M447.7 1035.6h1M319 1036.1h1M660.9 1032h1M389.8 1034h1M337.6 1032.5h1M280.9 1037.1h1M569.5 1036.9h1M664.2 1034.9h1M662.5 1031.8h1M641.6 1035.6h1M623.1 1033.3h1M288.3 1033.9h1M480.8 1033.5h1M670.7 1035.2h1M319.1 1033.4h1M633 1032.1h1M397.6 1035.5h1M361.4 1033.9h1M424.2 1036h1M591.1 1033.3h1M362.1 1035.5h1M650 1031.6h1M485 1036.2h1M580.3 1035.9h1M301.5 1035.5h1M659.1 1033.9h1M387.7 1033.7h1M410.9 1036.8h1M466.5 1036.1h1M316.6 1035.5h1M640.3 1032h1M337.8 1034.3h1M290.2 1036.4h1M543.2 1033.5h1M523 1034h1M650 1034.9h1M521.5 1031.9h1M591.7 1034.2h1M675.5 1034.3h1M463.3 1036.4h1M285.3 1037.4h1M416.5 1035.1h1M556 1034.2h1M536.3 1035.4h1M553.5 1034.3h1M484.3 1036.2h1M380.2 1036.5h1M604.4 1031.9h1M662.1 1034.6h1M448.1 1034.7h1M621.1 1033.1h1M366.8 1034.7h1M515.2 1034.9h1M562.4 1035.1h1M621.5 1034.5h1M403.5 1033.7h1M558.7 1036.9h1M660.5 1034.2h1M520.6 1033h1M548.9 1035.5h1M290.7 1035h1M279.3 1037.1h1M535 1034.5h1M477 1034h1M608.5 1032.7h1M483.4 1036.6h1M326 1035.5h1M653.9 1034.5h1M597.8 1034.3h1M311.5 1033.6h1M637.6 1032.2h1M331.9 1034.4h1M368.2 1033.3h1M289.3 1035.7h1" stroke="#ee2020" stroke-width="1" stroke-opacity="0.9" fill="none"/>
<rect x="269.2" y="937.6" width="409.5" height="166" fill="none" stroke="#3a3a3a" stroke-width="1.2"/><path d="M269.2 1089.8h3M678.7 1089.8h-3M269.2 1062.1h3M678.7 1062.1h-3M269.2 1034.4h3M678.7 1034.4h-3M269.2 1006.8h3M678.7 1006.8h-3M269.2 979.1h3M678.7 979.1h-3M269.2 951.4h3M678.7 951.4h-3M271.1 937.6v3M271.1 1103.6v-3M319.4 937.6v3M319.4 1103.6v-3M367.6 937.6v3M367.6 1103.6v-3M415.9 937.6v3M415.9 1103.6v-3M464.1 937.6v3M464.1 1103.6v-3M512.4 937.6v3M512.4 1103.6v-3M560.6 937.6v3M560.6 1103.6v-3M608.9 937.6v3M608.9 1103.6v-3M657.1 937.6v3M657.1 1103.6v-3" stroke="#3a3a3a" stroke-width="1.2" fill="none"/>
<text x="260.2" y="1090" font-size="18.4" text-anchor="end" fill="#000" >-40</text>
<text x="260.2" y="1034.6" font-size="18.4" text-anchor="end" fill="#000" >0</text>
<text x="260.2" y="979.3" font-size="18.4" text-anchor="end" fill="#000" >40</text>
<text x="271.1" y="1128.2" font-size="18.4" text-anchor="middle" fill="#000" >0</text>
<text x="367.6" y="1128.2" font-size="18.4" text-anchor="middle" fill="#000" >400</text>
<text x="464.1" y="1128.2" font-size="18.4" text-anchor="middle" fill="#000" >800</text>
<text x="560.6" y="1128.2" font-size="18.4" text-anchor="middle" fill="#000" >1200</text>
<text x="657.1" y="1128.2" font-size="18.4" text-anchor="middle" fill="#000" >1600</text>
<text x="477.4" y="1150.9" font-size="19.2" text-anchor="middle" fill="#000" >Time (s)</text>
<text x="233.4" y="1022.2" font-size="18.8" text-anchor="middle" transform="rotate(-90 233.4 1022.2)" >CH1 - PC1</text>
<circle cx="8" cy="36.6" r="2.9" fill="#efe6e4" stroke="#3c1a12" stroke-width="2.6"/>
<circle cx="19.8" cy="36.6" r="2.9" fill="#efe6e4" stroke="#3c1a12" stroke-width="2.6"/>
<circle cx="31.6" cy="36.6" r="2.9" fill="#efe6e4" stroke="#3c1a12" stroke-width="2.6"/>
<circle cx="108.6" cy="7.4" r="3.2" fill="#efe0da" stroke="#5e2618" stroke-width="2.8"/>
<circle cx="108.6" cy="68.2" r="3.2" fill="#efe0da" stroke="#4a1e14" stroke-width="2.8"/>
<path d="M40.5 33H70.3L101.8 15.2H125V61.2H100.5L70.3 40.3H48.5V37.6H43V40.3H40.5Z" fill="#cdcdcd"/>
<path d="M71 34L100 16.5H124M71 34.3L100 18.6H124M71 34.5L100 20.6H124M71 34.8L100 22.6H124M71 35.1L100 24.7H124M71 35.4L100 26.8H124M71 35.6L100 28.8H124M71 35.9L100 30.8H124M71 36.2L100 32.9H124M71 36.4L100 35H124M71 36.7L100 37H124M71 37L100 39H124M71 37.2L100 41.1H124M71 37.5L100 43.1H124M71 37.8L100 45.2H124M71 38L100 47.2H124M71 38.3L100 49.3H124M71 38.6L100 51.3H124M71 38.9L100 53.4H124M71 39.1L100 55.4H124M71 39.4L100 57.5H124M71 39.7L100 59.5H124" stroke="#a4a4a4" stroke-width="0.45" fill="none"/>
<path d="M42 36.5H72" stroke="#8a8a8a" stroke-width="0.6"/>
<path d="M89 64.5L94 61H101" stroke="#777" stroke-width="0.8" fill="none"/>
<rect x="124.4" y="12.8" width="21" height="49.2" fill="#c0703a"/>
<path d="M126.6 15.2H141M126.6 18.1H141M126.6 21.1H141M126.6 24.1H141M126.6 27H141M126.6 29.9H141M126.6 32.9H141M126.6 35.9H141M126.6 38.8H141M126.6 41.8H141M126.6 44.7H141M126.6 47.7H141M126.6 50.6H141M126.6 53.5H141M126.6 56.5H141M126.6 59.5H141" stroke="#e8b070" stroke-width="1.1"/>
<rect x="124.4" y="12.8" width="20.6" height="49.2" fill="none" stroke="#7a3a14" stroke-width="0.8"/>
<defs><linearGradient id="rib" x1="0" y1="0" x2="0" y2="1"><stop offset="0" stop-color="#d86a28"/><stop offset="0.25" stop-color="#e67c34"/><stop offset="0.55" stop-color="#de702e"/><stop offset="1" stop-color="#c85e22"/></linearGradient></defs>
<path d="M145 14.8C300 14.4 420 14.2 520 15.2C580 15.8 620 16 654 15.8V36.4C625 36.6 598 34.2 565 32.4C530 33 470 35.2 400 35.6C300 36.2 200 35.6 145 35.2Z" fill="url(#rib)"/>
<path d="M146 16.6C330 16.4 470 17 653 17.2M146 18.9C330 18.7 470 19.3 653 19.5M146 21.2C330 21 470 21.6 653 21.7M146 23.5C330 23.3 470 23.9 653 24M146 25.8C330 25.6 470 26.2 653 26.2M146 28.1C330 27.9 470 28.5 653 28.5M146 30.4C330 30.2 470 30.8 653 30.7M146 32.7C330 32.5 470 33.1 653 33M146 35C330 34.8 470 35.4 653 35.2" stroke="#c8621e" stroke-width="0.6" fill="none" opacity="0.7"/>
<path d="M149 25.6H356" stroke="#fff2dc" stroke-width="1.3" stroke-dasharray="8.5 4"/>
<path d="M543 25.8H584" stroke="#fff4e0" stroke-width="1.1" stroke-dasharray="8 3.5"/>
<path d="M327.5 14.6V35.8" stroke="#9a4a18" stroke-width="0.9"/>
<path d="M653.6 15.8V36.2" stroke="#fff" stroke-width="0.9"/>
<text x="358" y="22.4" font-family="'Liberation Mono', monospace" font-size="6.4" fill="#fff6e0" textLength="92">T. Naegele 18b26 20/09/2023</text>
<text x="354" y="32.4" font-family="'Liberation Mono', monospace" font-size="6.4" fill="#fff6e0" textLength="101">compatible to Molex 15015-0633</text>
<rect x="653.6" y="15.6" width="21.6" height="48.4" fill="#bf6a2c"/>
<path d="M663 17.2H674M663 19.9H674M663 22.7H674M663 25.4H674M663 28.2H674M663 30.9H674M663 33.7H674M663 36.5H674M663 39.2H674M663 42H674M663 44.7H674M663 47.5H674M663 50.2H674M663 53H674M663 55.7H674M663 58.5H674M663 61.2H674" stroke="#f2d28a" stroke-width="1.2"/>
<path d="M655 18.6H661M655 21.4H661M655 24.1H661M655 26.9H661M655 29.6H661M655 32.4H661M655 35.1H661M655 37.9H661M655 40.6H661M655 43.4H661M655 46.1H661M655 48.9H661M655 51.6H661M655 54.4H661M655 57.1H661M655 59.9H661" stroke="#e09050" stroke-width="0.9"/>
<path d="M654 16L662 22L662 28L654 24Z" fill="#8a3c14" opacity="0.6"/>
<path d="M560 36.5C600 38 630 40 654 40V36.2Z" fill="#d8d0cc" opacity="0.6"/>
<path d="M157 48.6H608" stroke="#000" stroke-width="1.5"/>
<path d="M150.4 48.6L159.5 45V52.2Z" fill="#000"/>
<path d="M615.2 48L606 44.4V51.6Z" fill="#000"/>
<text x="356.4" y="73.6" font-size="19.0" text-anchor="start" font-weight="bold" fill="#000" >10 cm</text>
<defs><clipPath id="bclip"><path d="M474 87.3L591 92.2V171.5H474Z"/></clipPath></defs>
<path d="M474 87.3L591 92.2V171.5H474Z" fill="#d8c52c"/>
<g clip-path="url(#bclip)">
<rect x="474" y="93" width="118" height="29.5" fill="#8e6a26"/>
<rect x="474" y="139.2" width="118" height="31.2" fill="#8e6a26"/>
<path d="M474 93.4H592M474 95H592M474 96.5H592M474 98H592M474 99.6H592M474 101.1H592M474 102.7H592M474 104.2H592M474 105.8H592M474 107.3H592M474 108.9H592M474 110.4H592M474 112H592M474 113.5H592M474 115.1H592M474 116.6H592M474 118.2H592M474 119.7H592M474 121.3H592M474 139.6H592M474 141.2H592M474 142.7H592M474 144.3H592M474 145.8H592M474 147.4H592M474 148.9H592M474 150.5H592M474 152H592M474 153.6H592M474 155.1H592M474 156.7H592M474 158.2H592M474 159.8H592M474 161.3H592M474 162.9H592M474 164.4H592M474 166H592M474 167.5H592M474 169.1H592" stroke="#cf9a3c" stroke-width="0.7" fill="none"/>
<path d="M474 94.2H592M474 97.3H592M474 100.4H592M474 103.5H592M474 106.6H592M474 109.7H592M474 112.8H592M474 115.9H592M474 119H592M474 122.1H592M474 140.4H592M474 143.5H592M474 146.6H592M474 149.7H592M474 152.8H592M474 155.9H592M474 159H592M474 162.1H592M474 165.2H592M474 168.3H592" stroke="#5e4018" stroke-width="0.6" fill="none"/>
<rect x="474" y="122.4" width="118" height="16.8" fill="#e2d438"/>
</g>
<path d="M474 87.3L591 92.2V93.4L474 93.2Z" fill="#e6d63a"/>
<rect x="474" y="126.8" width="16.5" height="8.4" fill="#f4f4ec"/>
<rect x="503.7" y="126.8" width="45.7" height="8.4" fill="#f4f4ec"/>
<rect x="561.8" y="126.8" width="15.8" height="8.4" fill="#f4f4ec"/>
<path d="M590.5 92.4H668.4L672.2 281.2H596.6L593.2 171.6H590.5Z" fill="#54401c"/>
<path d="M590.5 92.4H606V122.5H590.5Z" fill="#5e461c"/>
<path d="M590.5 95H602L612 96H622M590.5 98.1H602.5L612.5 101.6H622M590.5 101.2H603L613 107.2H622M590.5 104.3H603.5L613.5 112.8H622M590.5 107.4H604L614 118.4H622M590.5 110.5H604.5L614.5 124H622M590.5 113.6H605L615 129.6H622M590.5 116.7H605.5L615.5 135.2H622M590.5 119.8H606L616 140.8H622M593 141H601L613 148H622M593 144H601L613 153.6H622M593 147H601L613 159.2H622M593 150H601L613 164.8H622M593 153H601L613 170.4H622M593 156H601L613 176H622M593 159H601L613 181.6H622M593 162H601L613 187.2H622M593 165H601L613 192.8H622M593 168H601L613 198.4H622" stroke="#c8782a" stroke-width="1.2" fill="none"/>
<path d="M647.6 92.9H663.6V98.1H647.6ZM628.7 98.7H645.7V103.5H628.7ZM647.8 104.1H663.8V109.3H647.8ZM628.9 110H645.9V114.8H628.9ZM648 115.4H664V120.6H648ZM629.1 121.2H646.1V126H629.1ZM648.2 126.6H664.2V131.8H648.2ZM629.3 132.4H646.3V137.2H629.3ZM648.4 137.9H664.4V143.1H648.4ZM629.5 143.7H646.5V148.5H629.5ZM648.6 149.1H664.6V154.3H648.6ZM629.7 154.9H646.7V159.7H629.7ZM648.8 160.3H664.8V165.5H648.8ZM629.9 166.2H646.9V171H629.9ZM649 171.6H665V176.8H649ZM630.1 177.4H647.1V182.2H630.1ZM649.2 182.8H665.2V188H649.2ZM630.3 188.6H647.3V193.4H630.3ZM649.4 194.1H665.4V199.3H649.4ZM630.5 199.9H647.5V204.7H630.5ZM649.6 205.3H665.6V210.5H649.6ZM630.7 211.1H647.7V215.9H630.7ZM649.8 216.5H665.8V221.7H649.8ZM630.9 222.4H647.9V227.2H630.9ZM650 227.8H666V233H650ZM631.2 233.6H648.2V238.4H631.2ZM650.3 239H666.3V244.2H650.3ZM631.4 244.8H648.4V249.6H631.4ZM650.5 250.3H666.5V255.5H650.5ZM631.6 256.1H648.6V260.9H631.6ZM650.7 261.5H666.7V266.7H650.7ZM631.8 267.3H648.8V272.1H631.8ZM650.9 272.7H666.9V277.9H650.9Z" fill="#c09444"/>
<path d="M621 95.5H648.1M621.1 101.1H629.2M621.1 106.7H648.3M621.2 112.4H629.4M621.2 118H648.5M621.3 123.6H629.6M621.3 129.2H648.7M621.4 134.8H629.8M621.4 140.5H648.9M621.5 146.1H630M621.5 151.7H649.1M621.6 157.3H630.2M621.7 162.9H649.3M621.7 168.6H630.4M621.8 174.2H649.5M621.8 179.8H630.6M621.9 185.4H649.7M621.9 191H630.8M622 196.7H649.9M622 202.3H631M622.1 207.9H650.1M622.1 213.5H631.2M622.2 219.1H650.3M622.2 224.8H631.4M622.3 230.4H650.5M622.3 236H631.7M622.4 241.6H650.8M622.4 247.2H631.9M622.5 252.9H651M622.5 258.5H632.1M622.6 264.1H651.2M622.6 269.7H632.3M622.7 275.3H651.4" stroke="#d8c060" stroke-width="1.2" fill="none"/>
<path d="M647.6 93.3H663.6M628.7 98.9H645.7M647.8 104.5H663.8M628.9 110.2H645.9M648 115.8H664M629.1 121.4H646.1M648.2 127H664.2M629.3 132.6H646.3M648.4 138.3H664.4M629.5 143.9H646.5M648.6 149.5H664.6M629.7 155.1H646.7M648.8 160.7H664.8M629.9 166.4H646.9M649 172H665M630.1 177.6H647.1M649.2 183.2H665.2M630.3 188.8H647.3M649.4 194.5H665.4M630.5 200.1H647.5M649.6 205.7H665.6M630.7 211.3H647.7M649.8 216.9H665.8M630.9 222.6H647.9M650 228.2H666M631.2 233.8H648.2M650.3 239.4H666.3M631.4 245H648.4M650.5 250.7H666.5M631.6 256.3H648.6M650.7 261.9H666.7M631.8 267.5H648.8M650.9 273.1H666.9" stroke="#e8d870" stroke-width="0.9" fill="none"/>
<circle cx="601.8" cy="184" r="2.6" fill="none" stroke="#d07c30" stroke-width="1.7"/>
<circle cx="616" cy="190" r="2.6" fill="none" stroke="#d07c30" stroke-width="1.7"/>
<circle cx="601.8" cy="196" r="2.6" fill="none" stroke="#d07c30" stroke-width="1.7"/>
<circle cx="616" cy="202" r="2.6" fill="none" stroke="#d07c30" stroke-width="1.7"/>
<circle cx="601.8" cy="208" r="2.6" fill="none" stroke="#d07c30" stroke-width="1.7"/>
<circle cx="616" cy="214" r="2.6" fill="none" stroke="#d07c30" stroke-width="1.7"/>
<circle cx="601.8" cy="220" r="2.6" fill="none" stroke="#d07c30" stroke-width="1.7"/>
<circle cx="616" cy="226" r="2.6" fill="none" stroke="#d07c30" stroke-width="1.7"/>
<circle cx="601.8" cy="232" r="2.6" fill="none" stroke="#d07c30" stroke-width="1.7"/>
<circle cx="616" cy="238" r="2.6" fill="none" stroke="#d07c30" stroke-width="1.7"/>
<circle cx="601.8" cy="244" r="2.6" fill="none" stroke="#d07c30" stroke-width="1.7"/>
<circle cx="616" cy="250" r="2.6" fill="none" stroke="#d07c30" stroke-width="1.7"/>
<circle cx="601.8" cy="256" r="2.6" fill="none" stroke="#d07c30" stroke-width="1.7"/>
<circle cx="616" cy="262" r="2.6" fill="none" stroke="#d07c30" stroke-width="1.7"/>
<circle cx="601.8" cy="268" r="2.6" fill="none" stroke="#d07c30" stroke-width="1.7"/>
<circle cx="616" cy="274" r="2.6" fill="none" stroke="#d07c30" stroke-width="1.7"/>
<path d="M603.8 185H621M618 191H621M603.8 197H621M618 203H621M603.8 209H621M618 215H621M603.8 221H621M618 227H621M603.8 233H621M618 239H621M603.8 245H621M618 251H621M603.8 257H621M618 263H621M603.8 269H621M618 275H621" stroke="#cc7a30" stroke-width="1.2" fill="none"/>
<rect x="473.4" y="81.4" width="207.4" height="207.4" fill="none" stroke="#000" stroke-width="2.8" stroke-dasharray="17 7"/>
<path d="M619.4 8.8L473.4 81.4" fill="none" stroke="#000" stroke-width="2.8" stroke-dasharray="17 7"/>
<rect x="619.4" y="8.8" width="62.4" height="62.4" fill="none" stroke="#000" stroke-width="2.8" stroke-dasharray="16 7.4"/>
<rect x="484.2" y="271.5" width="86.3" height="7.1" fill="#000"/>
<text x="527" y="263" font-size="19.2" text-anchor="middle" font-weight="bold" fill="#000" >5 mm</text>
<text x="364.4" y="98.3" font-size="19.2" text-anchor="start" fill="#000" >Bifurcated</text>
<text x="364.8" y="120.2" font-size="19.2" text-anchor="start" fill="#000" >wire</text>
<text x="366.6" y="149.8" font-size="19.3" text-anchor="start" fill="#000" >Suture tabs</text>
<path d="M455 99.2L484.8 114" stroke="#000" stroke-width="1.3"/>
<path d="M466.4 139L496 130.2" stroke="#000" stroke-width="1.3"/>
<path d="M137.8 261.7C140 261.4 143.4 260.5 150.6 260C157.8 259.5 171 258.2 181 258.7C191.1 259.2 201 259.9 211 262.8C221 265.7 231.5 271.7 241.1 275.9C250.6 280.2 257.6 284.1 268.6 288.4C279.5 292.8 295.5 297.9 306.8 301.9C318.1 305.8 327.1 309.7 336.3 311.9C345.6 314 353.1 315.4 362.3 315C371.5 314.6 383 313.1 391.6 309.3C400.2 305.4 408.3 299 414 292.1C419.8 285.2 423.8 275.7 426 267.7C428.1 259.7 427.9 251.2 426.9 244.1C425.9 236.9 422.6 230 420 224.7C417.3 219.4 413.7 214.9 410.9 212.1C408.1 209.2 404.5 208.3 403.2 207.6L397.2 216.8C398 217.4 400 218.1 401.9 220.3C403.8 222.6 406.4 226 408.4 230.3C410.4 234.6 413.1 240.2 413.9 245.9C414.7 251.6 414.9 258 413.2 264.3C411.6 270.6 408.4 278.3 404 283.9C399.5 289.4 393.5 294.5 386.4 297.5C379.4 300.6 369.6 301.8 361.7 302.2C353.8 302.6 347.5 301.9 338.9 300.1C330.3 298.4 321.2 295 310 291.7C298.8 288.5 282.5 284.3 271.4 280.6C260.4 276.8 253.6 273.3 243.7 269.5C233.9 265.6 222.8 260.2 212.4 257.6C202 255 191.5 254.2 181.2 254.1C170.8 254 157.4 255.6 150.2 256.8C143 258 139.8 260.6 137.8 261.3Z" fill="#f6e2f2" stroke="#1a1a1a" stroke-width="1.35" stroke-linejoin="round"/>
<path d="M6.1 162.8C8.1 161.4 12.6 158.2 18.4 154.6C24.2 151 33.8 145.2 40.9 141.3C48 137.4 55.6 133.9 61.3 131.1C67 128.2 72.8 126.4 74.8 124.2C76.8 122 73.7 120.7 73 117.8C72.3 114.9 70.5 110.5 70.6 107C70.7 103.5 71.6 99.1 73.6 96.8C75.6 94.5 79.9 93.1 82.6 93.2C85.3 93.3 88.2 94.9 89.9 97.4C91.6 99.9 91 107.4 92.6 108.2C94.2 109 96.9 103.6 99.5 102.2C102.1 100.8 105 100 108 99.6C111 99.2 114.5 98.5 117.5 99.6C120.5 100.7 124.2 103.6 126.2 106.2C128.2 108.8 128.9 112.3 129.6 115C130.3 117.7 129 122 130.6 122.6C132.2 123.2 135.2 120.7 139 118.8C142.8 116.9 148 113.8 153.4 111.4C158.8 109 163.8 108 171.7 104.4C179.6 100.8 192.3 93.5 200.9 89.8C209.5 86.1 216.1 84.3 223.4 82.2C230.8 80.1 238.4 78.2 245 77.2C251.6 76.2 256.3 76.1 263 76C269.7 75.9 277.7 75.4 285 76.8C292.3 78.2 300.1 81.1 307 84.5C313.9 87.9 320.7 92.9 326.2 97.4C331.7 101.9 336 106.8 340 111.5C344 116.2 345.3 118.8 350 125.8C354.7 132.8 363.4 146.1 368.3 153.4C373.2 160.7 376.2 164.7 379.4 169.5C382.6 174.3 384.8 177.6 387.5 182C390.2 186.4 393.4 192.3 395.5 196C397.6 199.7 399.1 202.1 400.4 204.2C401.7 206.3 402.9 207.7 403.4 208.4" fill="none" stroke="#1a1a1a" stroke-width="1.5" stroke-linejoin="round"/>
<path d="M9.2 179.6C10 180.2 11.9 182 14 183C16.1 184 19.4 185.1 22 185.8C24.6 186.5 27.1 186.9 29.6 187.1C32.1 187.3 36.5 186.8 36.8 187C37.1 187.2 31.5 188 31.2 188.6C30.9 189.2 33.2 190.2 35 190.8C36.8 191.4 37.5 192.1 42 192.2C46.5 192.3 55.8 191.4 62.1 191.5C68.4 191.6 74.7 191.8 80 192.6C85.3 193.4 89.5 195.1 94.2 196.6C98.9 198.1 104 199.6 108 201.6C112 203.6 115.6 206.2 118.4 208.6C121.2 211 123.4 213.5 124.6 216C125.8 218.5 126.1 221.2 125.4 223.6C124.7 226 123.3 228.6 120.4 230.2C117.5 231.8 112.4 232.4 108 233.2C103.6 234 97.8 234.3 94 235C90.2 235.7 87.1 236.3 85.4 237.6C83.7 238.9 82.8 241.3 83.6 242.8C84.4 244.3 87.3 245.9 90 246.6C92.7 247.3 96.7 247.2 100 246.9C103.3 246.7 105.6 246 110 245.1C114.4 244.2 121.3 242.8 126.3 241.5C131.3 240.2 135.7 238.9 140 237.6C144.3 236.2 148.2 235 152 233.4C155.8 231.8 159.8 229.5 163 228C166.2 226.5 168.9 225.2 171.3 224.2C173.7 223.2 175.8 221.5 177.2 221.8C178.6 222.1 179.5 224.2 179.6 225.8C179.7 227.4 179.2 230 177.6 231.2C176 232.4 172.9 232.6 170 233.2C167.1 233.8 162.8 233.9 160.4 234.6C158 235.3 155.7 236.3 155.4 237.2C155.1 238.1 156.7 239.3 158.6 239.8C160.5 240.3 163.4 240.3 167 240.3C170.6 240.3 176.6 239.9 180 239.6C183.4 239.3 185.5 239.6 187.4 238.4C189.3 237.2 190.6 234.9 191.6 232.6C192.6 230.3 192.3 226.8 193.2 224.5C194.1 222.2 194.8 219.9 196.8 218.8C198.8 217.7 200.7 218 205 217.8C209.3 217.6 218.2 218.2 222.7 217.8C227.2 217.4 228.8 216 232 215.6C235.2 215.2 238.1 215 242 215.4C245.9 215.8 251 217 255.7 218C260.4 219 265.9 220.4 270 221.5C274.1 222.6 277.1 223.5 280 224.6C282.9 225.7 286.7 226.8 287.6 228.2C288.5 229.6 287.9 231.5 285.4 233C282.9 234.5 277.7 236.1 272.6 237.2C267.5 238.3 260.4 238.7 255 239.6C249.6 240.5 243.6 241.5 240 242.6C236.4 243.7 233.3 245.1 233.4 246.2C233.5 247.3 236.8 248.9 240.4 249.4C244 249.9 250.1 249.6 255 249.2C259.9 248.8 264.6 247.9 269.6 247.2C274.6 246.5 280.4 245.6 285 244.8C289.6 244 294.1 243.1 297.4 242.6C300.7 242.1 302.3 242 305 241.8C307.7 241.7 310.6 241.6 313.4 241.7C316.2 241.8 319.6 242.4 322 242.6C324.4 242.8 326.3 243.4 328 243C329.7 242.6 330.9 242 332.4 240.3C333.9 238.6 335.1 235.7 336.8 233C338.5 230.3 340.4 226.9 342.6 224.2C344.8 221.5 347 219.1 349.9 216.9C352.8 214.7 356.8 212.4 360.1 211.1C363.5 209.8 367 209.4 370 209C373 208.6 375 208.5 378 208.8C381 209.1 385.2 209.8 388 210.6C390.8 211.4 393.2 212.5 394.6 213.4C396 214.3 396.3 215.4 396.6 215.8" fill="none" stroke="#1a1a1a" stroke-width="1.5" stroke-linejoin="round"/>
<path d="M268.4 244.8C270.3 244.2 276.1 242.5 280 241.4C283.9 240.3 288.3 239.6 292 238.4C295.7 237.2 298.7 235.9 302 234.4C305.3 232.9 308.8 231.3 312 229.6C315.2 227.9 318.5 225.9 321 224.4C323.5 222.9 325.8 220.9 327.2 220.6C328.6 220.3 329.4 221.1 329.6 222.6C329.8 224.1 329.1 227.5 328.2 229.4C327.3 231.3 326 233.1 324 234.2C322 235.3 319.2 235.6 316 236C312.8 236.4 307.8 236.1 305 236.4C302.2 236.7 300.9 236.9 299.5 237.6C298.1 238.3 297.2 240.1 296.8 240.6" fill="none" stroke="#1a1a1a" stroke-width="1.5" stroke-linejoin="round"/>
<ellipse cx="5.8" cy="172.2" rx="4.3" ry="7.4" fill="#f6e2f2" stroke="#1a1a1a" stroke-width="1"/>
<ellipse cx="54.8" cy="155.6" rx="6.0" ry="4.0" fill="#e88cd8" stroke="#6a3a6a" stroke-width="0.8"/>
<defs><linearGradient id="olf" x1="245" y1="0" x2="262" y2="0" gradientUnits="userSpaceOnUse"><stop offset="0" stop-color="#cfc3b6" stop-opacity="0"/><stop offset="1" stop-color="#cfc3b6"/></linearGradient></defs>
<path d="M244.5 180.5C250 177 256 176 262 177.4L264 184.6C258 186.6 250 185 244.5 182.5Z" fill="url(#olf)"/>
<path d="M263.6 177.6C264.8 176.1 264.1 174.6 265.2 173.4C266.3 172.2 268.6 171.4 270.2 170.3C271.8 169.2 273.7 168.2 274.8 166.6C275.9 165 276 163.1 276.8 160.5C277.6 157.9 278.1 154.4 279.4 151.3C280.7 148.2 282.5 144.7 284.7 142.1C286.9 139.5 290 136.7 292.6 135.5C295.2 134.3 298 134.3 300.4 134.7C302.8 135.1 305.2 136.2 307 137.8C308.8 139.4 309.5 143 311 144.4C312.5 145.8 314.7 144.8 316.2 146C317.7 147.2 319.2 148.2 320.1 151.3C321 154.4 321.6 160 321.6 164.4C321.6 168.8 321 173.2 320.1 177.6C319.2 182 317.9 187 316.2 190.7C314.4 194.4 312.2 197.3 309.6 199.9C307 202.5 303.7 204.6 300.4 206.5C297.1 208.4 293.4 210.1 289.9 211.1C286.4 212.1 282.9 212.3 279.4 212.4C275.9 212.5 272 212.2 268.9 211.7C265.8 211.1 262.9 210.4 261 209.1C259.1 207.8 258.1 205.4 257.7 203.8C257.3 202.2 257.7 200.6 258.6 199.4C259.5 198.2 261.5 197.6 263 196.8C264.5 196 266.3 195.6 267.6 194.8C268.9 194 270.8 192.6 270.6 191.8C270.4 191 267.9 190.7 266.4 189.8C264.9 188.9 262.8 187.4 261.4 186.2C260 185 257.8 183.8 258.2 182.4C258.6 181 262.4 179.1 263.6 177.6Z" fill="#cfc3b6" stroke="#1a1a1a" stroke-width="1.25"/>
<path d="M297.8 144.7C296.8 146.2 293.1 150.6 291.5 153.5C289.9 156.4 289.4 159.6 288.4 162.4C287.4 165.2 286.9 167.9 285.6 170.5C284.3 173.1 282.2 175.9 280.6 178C279 180.1 277.2 182.7 276 183.2C274.8 183.7 274 181.4 273.6 181" fill="none" stroke="#1a1a1a" stroke-width="1.15"/>
<path d="M310.6 146.5C310.2 147.9 309.4 152.5 308.2 155.2C307 157.9 304.5 160.2 303.4 162.6C302.3 165 303 167.2 301.6 169.7C300.2 172.2 297.6 175.2 295.2 177.6C292.8 180 289.9 182.1 287.3 184.1C284.7 186.1 281.8 187.9 279.4 189.4C277 190.9 274.5 192 273.2 193.1C271.9 194.2 272 195.7 271.8 196.2" fill="none" stroke="#1a1a1a" stroke-width="1.15"/>
<defs><linearGradient id="elg" x1="248" y1="0" x2="284" y2="0" gradientUnits="userSpaceOnUse"><stop offset="0" stop-color="#f2e040"/><stop offset="0.55" stop-color="#f2c840"/><stop offset="1" stop-color="#f08a30"/></linearGradient></defs>
<path d="M247.6 203.2L262 204.6L278.6 199.8L283.6 198.2L284.8 203.2L272.6 208.6L259.4 211.6L247.6 211.2Z" fill="url(#elg)" stroke="#b08a20" stroke-width="0.5"/>
<path d="M251 207.8L270 206.2L281 201.6" stroke="#d0a030" stroke-width="0.5" fill="none"/>
<path d="M282.6 198.8L292.8 195.4L294 199.2L284.6 203Z" fill="#e8e4e0" stroke="#888" stroke-width="0.5"/>
<path d="M283.4 197.8L285.6 204.2M290.6 195.6L292.6 200.6" stroke="#111" stroke-width="0.9"/>
<path d="M293.4 194.6L296.2 190.2L298 193.4L295.2 196.8L297.6 198.2M295 191L299.4 195.6M294.4 197.4L298.8 191.4" stroke="#111" stroke-width="1.0" fill="none"/>
<path d="M243 204.8L246.6 200.2L249.4 202.4L249.2 211.4L244.6 210.6Z" fill="#3e3026" stroke="#111" stroke-width="0.6"/>
<ellipse cx="184.8" cy="98.4" rx="17.6" ry="2.6" transform="rotate(-26 184.8 98.4)" fill="#fff" stroke="#1a1a1a" stroke-width="0.9"/>
<path d="M181.4 86.2C181 83 184.4 81 187 78.6C189.4 76 188.6 72.4 187.4 69.6C186.6 67.8 185.2 66.6 184.2 65.4" fill="none" stroke="#1a1a1a" stroke-width="0.9"/>
<path d="M175.4 87.2C176 88.3 177.9 91.7 179.2 93.8C180.5 95.9 181.3 98.1 183.4 99.8C185.5 101.5 187.6 103.6 191.5 104.2C195.4 104.8 201.2 103.3 206.7 103.2C212.1 103.1 219.5 102.9 224.2 103.6C228.9 104.3 232.2 105.9 234.8 107.6C237.4 109.3 239 111.7 239.6 114C240.2 116.3 240.8 117.6 238.6 121.2C236.4 124.8 230.5 131.2 226.6 135.8C222.7 140.4 218.3 143.9 215.4 149C212.5 154.1 209.6 160.4 209.4 166.4C209.2 172.4 211.3 179.5 214.3 185C217.3 190.5 222.7 196 227.6 199.4C232.5 202.8 240.9 204.6 243.6 205.6" fill="none" stroke="#1a1a1a" stroke-width="5.6" stroke-linecap="round"/>
<path d="M175.4 87.2C176 88.3 177.9 91.7 179.2 93.8C180.5 95.9 181.3 98.1 183.4 99.8C185.5 101.5 187.6 103.6 191.5 104.2C195.4 104.8 201.2 103.3 206.7 103.2C212.1 103.1 219.5 102.9 224.2 103.6C228.9 104.3 232.2 105.9 234.8 107.6C237.4 109.3 239 111.7 239.6 114C240.2 116.3 240.8 117.6 238.6 121.2C236.4 124.8 230.5 131.2 226.6 135.8C222.7 140.4 218.3 143.9 215.4 149C212.5 154.1 209.6 160.4 209.4 166.4C209.2 172.4 211.3 179.5 214.3 185C217.3 190.5 222.7 196 227.6 199.4C232.5 202.8 240.9 204.6 243.6 205.6" fill="none" stroke="#c99a62" stroke-width="3.4" stroke-linecap="round"/>
<path d="M166.8 84.2L178 71.6L181.8 75.6L170.2 86.6Z" fill="#6b5a4f" stroke="#1a1a1a" stroke-width="0.9"/>
<path d="M173.4 91.4L185.2 86.2L190.8 97.4L177.6 98.6Z" fill="none" stroke="#1a1a1a" stroke-width="1.1"/>
<ellipse cx="184" cy="100.2" rx="5.6" ry="3" transform="rotate(-20 184 100.2)" fill="#1a1a1a"/>
<path d="M183.2 101V111.4M179.6 111.4H186.8M180.8 113.2H185.6M182 115H184.4" stroke="#1a1a1a" stroke-width="0.8"/>
<linearGradient id="g26385" x1="0" y1="300.5" x2="0" y2="310.5" gradientUnits="userSpaceOnUse"><stop offset="0" stop-color="#fff" stop-opacity="1"/><stop offset="1" stop-color="#fff" stop-opacity="0"/></linearGradient><rect x="22.4" y="301" width="8.6" height="84" fill="#f0e63c"/><path d="M22.4 301V385M31 301V385" stroke="#2a2c9c" stroke-width="1.2"/><rect x="20.9" y="300.5" width="11.6" height="10" fill="url(#g26385)"/><circle cx="26.7" cy="385.7" r="8.4" fill="#000" stroke="#111" stroke-width="1.3"/>
<linearGradient id="g75357" x1="0" y1="300.5" x2="0" y2="310.5" gradientUnits="userSpaceOnUse"><stop offset="0" stop-color="#fff" stop-opacity="1"/><stop offset="1" stop-color="#fff" stop-opacity="0"/></linearGradient><rect x="71.2" y="301" width="8.6" height="56" fill="#f0e63c"/><path d="M71.2 301V357M79.8 301V357" stroke="#1a1a1a" stroke-width="1.2"/><rect x="69.7" y="300.5" width="11.6" height="10" fill="url(#g75357)"/><circle cx="75.5" cy="357.2" r="8.4" fill="#80d8d8" stroke="#111" stroke-width="1.3"/>
<linearGradient id="g26442" x1="0" y1="498.5" x2="0" y2="488.5" gradientUnits="userSpaceOnUse"><stop offset="0" stop-color="#fff" stop-opacity="1"/><stop offset="1" stop-color="#fff" stop-opacity="0"/></linearGradient><rect x="22.4" y="443" width="8.6" height="55" fill="#f0e63c"/><path d="M22.4 443V498M31 443V498" stroke="#2a2c9c" stroke-width="1.2"/><rect x="20.9" y="488.5" width="11.6" height="10" fill="url(#g26442)"/><circle cx="26.7" cy="442.9" r="8.4" fill="#3d7cc2" stroke="#111" stroke-width="1.3"/>
<linearGradient id="g75414" x1="0" y1="498.5" x2="0" y2="488.5" gradientUnits="userSpaceOnUse"><stop offset="0" stop-color="#fff" stop-opacity="1"/><stop offset="1" stop-color="#fff" stop-opacity="0"/></linearGradient><rect x="71.2" y="414" width="8.6" height="84" fill="#f0e63c"/><path d="M71.2 414V498M79.8 414V498" stroke="#1a1a1a" stroke-width="1.2"/><rect x="69.7" y="488.5" width="11.6" height="10" fill="url(#g75414)"/><circle cx="75.5" cy="414.2" r="8.4" fill="#58b8ea" stroke="#111" stroke-width="1.3"/>
<path d="M103.2 320.9 103.7 324.3 104.2 324 104.7 324.6 105.2 325 105.7 325 106.2 325 106.7 318.4 107.2 324.2 107.7 321.4 108.2 325 108.7 325 109.2 325 109.7 325 110.2 325 110.7 325 111.2 324.6 111.7 325 112.2 325 112.7 325 113.2 324.8 113.7 318.3 114.2 318.1 114.7 317.8 115.2 324.1 115.7 324.5 116.2 323.3 116.7 319.8 117.2 325 117.7 325 118.2 323.1 118.7 325 119.2 325 119.7 323.6 120.2 325 120.7 325 121.2 319.7 121.7 325 122.2 325 122.7 325 123.2 324.8 123.7 324.8 124.2 322.1 124.7 324.5 125.2 324.7 125.7 325 126.2 322.8 126.7 325 127.2 325 127.7 323.8 128.2 325 128.7 325 129.2 324.1 129.7 323.5 130.2 325 130.7 325 131.2 324.5 131.7 325 132.2 324.5 132.7 325 133.2 325 133.7 321.8 134.2 321.6 134.7 324.8 135.2 319.7 135.7 322.7 136.2 317.8 136.7 323.3 137.2 320.9 137.7 322.2 138.2 325 138.7 325 139.2 323.9 139.7 325 140.2 322.7 140.7 324.5 141.2 325 141.7 325 142.2 324.1 142.7 324.3 143.2 322.5 143.7 322.8 144.2 320 144.7 322.3 145.2 322.1 145.7 321.5 146.2 322.8 146.7 322.8 147.2 322.8 147.7 322.8 148.2 322.3 148.7 322.8 149.2 322.8 149.7 321.1 150.2 322.5 150.7 321.8 151.2 318 151.7 320.8 152.2 322.4 152.7 322.8 153.2 322.4 153.7 321.1 154.2 322.8 154.7 322.1 155.2 322.1 155.7 319.7 156.2 322.8 156.7 316.4 157.2 322.8 157.7 321.1 158.2 322.8 158.7 322.8 159.2 322.8 159.7 320.8 160.2 322.8 160.7 321 161.2 322.8 161.7 321.3 162.2 318.5 162.7 322.5 163.2 322.8 163.7 322.8 164.2 321.8 164.7 322.8 165.2 325 165.7 317.8 166.2 325 166.7 323.4 167.2 321.9 167.7 321.5 168.2 322.8 168.7 322.8 169.2 322.8 169.7 322.8 170.2 322.8 170.7 322.2 171.2 317.7 171.7 322.8 172.2 322.8 172.7 322.4 173.2 322 173.7 320.5 174.2 322.7 174.7 322.7 175.2 322.6 175.7 320.5 176.2 321.3 176.7 315.6 177.2 322.8 177.7 322.8 178.2 322.8 178.7 319.7 179.2 315.6 179.7 317.1 180.2 322.8 180.7 322.8 181.2 322.4 181.7 321.3 182.2 322.8 182.7 322 183.2 322.8 183.7 320.5 184.2 322.1 184.7 321.3 185.2 322.8 185.7 322.5 186.2 322.8 186.7 319.3 187.2 319.6 187.7 322.8 188.2 322 188.7 322.8 189.2 322.4 189.7 322.8 190.2 322.6 190.7 320.7 191.2 322.8 191.7 322.8 192.2 320.5 192.7 320.7 193.2 317.6 193.7 322.8 194.2 322.8 194.7 318.3 195.2 322.8 195.7 322.8 196.2 322.4 196.7 315.8 197.2 322.8 197.7 322.8 198.2 322.8 198.7 322.8 199.2 322.4 199.7 322.3 200.2 317.8 200.7 325 201.2 322.5 201.7 322.8 202.2 319.6 202.7 322.7 203.2 322.8 203.7 321.9 204.2 318.8 204.7 322.8 205.2 322.8 205.7 322.8 206.2 322.8 206.7 319.8 207.2 321.2 207.7 320.8 208.2 322.7 208.7 322.8 209.2 322.8 209.7 322.1 210.2 322.8 210.7 321.4 211.2 320.4 211.7 321.6 212.2 322.8 212.7 321.3 213.2 321.2 213.7 321.7 214.2 322.8 214.7 316.7 215.2 322.7 215.7 321.5 216.2 322.8 216.7 322.8 217.2 322.8 217.7 315.6 218.2 322.8 218.7 322.8 219.2 322.8 219.7 322.8 220.2 322.8 220.7 317.6 221.2 322.8 221.7 321.9 222.2 322.3 222.7 320.8 223.2 322.5 223.7 321.6 224.2 322.8 224.7 322.8 225.2 322.8 225.7 322.3 226.2 322 226.7 322.7 227.2 322.8 227.7 317.6 228.2 318.8 228.7 322.8 229.2 319.4 229.7 316.9 230.2 322.8 230.7 322.8 231.2 319 231.7 322.8 232.2 322.8 232.7 322.8 233.2 320.8 233.7 322.8 234.2 322.8 234.7 322.5 235.2 325 235.7 324.3 236.2 322.5 236.7 322.8 237.2 322.8 237.7 321.4 238.2 322.8 238.7 322.8 239.2 322.8 239.7 322.5 240.2 322.8 240.7 320.4 241.2 321.1 241.7 321.5 242.2 322.8 242.7 320.4 243.2 321.4 243.7 322 244.2 322.1 244.7 322.8 245.2 322.8 245.7 322.8 246.2 320.8 246.7 322.8 247.2 322.8 247.7 322.8 248.2 322.8 248.7 322.8 249.2 322.1 249.7 321.4 250.2 320.4 250.7 320.2 251.2 322.7 251.7 322.8 252.2 321.9 252.7 320.9 253.2 322.8 253.7 322.8 254.2 318.5 254.7 322 255.2 319.8 255.7 322.8 256.2 322.7 256.7 321.1 257.2 322.8 257.7 322.8 258.2 322.8 258.7 322.4 259.2 322.8 259.7 318.8 260.2 322.8 260.7 322.8 261.2 322.8 261.7 320.8 262.2 321.4 262.7 322.8 263.2 322.2 263.7 321.9 264.2 322.8 264.7 319.5 265.2 319.2 265.7 322.5 266.2 322.8 266.7 322.5 267.2 319.4 267.7 321.9 268.2 322.8 268.7 321.9 269.2 322.8 269.7 321.8 270.2 325 270.7 324.2 271.2 325 271.7 325 272.2 321.6 272.7 324.3 273.2 325 273.7 324.2 274.2 325 274.7 324 275.2 325 275.7 325 276.2 324 276.7 319.6 277.2 325 277.7 325 278.2 324.4 278.7 325 279.2 325 279.7 324.5 280.2 325 280.7 321.6 281.2 325 281.7 322.2 282.2 325 282.7 323.5 283.2 323.5 283.7 322.4 284.2 325 284.7 322.3 285.2 325 285.7 325 286.2 324.6 286.7 323.3 287.2 320.5 287.7 325 288.2 321.8 288.7 325 289.2 323.7 289.7 325 290.2 325 290.7 324.4 291.2 322.9 291.7 324.7 292.2 325 292.7 324.6 293.2 324.8 293.7 323.1 294.2 325 294.7 323.3 295.2 325 295.7 325 296.2 325 296.7 325 297.2 323.6 297.7 322.8 298.2 322.3 298.7 325 299.2 324.3 299.7 321.1 300.2 325 300.7 317.8 301.2 320.7 301.7 325 302.2 325 302.7 324.8 303.2 325 303.7 324.8 304.2 323.9 304.7 325 305.2 323.6 305.7 321.6 306.2 315.6 306.7 322 307.2 320.2 307.7 322.8 308.2 322.1 308.7 322.8 309.2 322.6 309.7 322.8 310.2 322.8 310.7 322.5 311.2 322.8 311.7 322.8 312.2 321.2 312.7 322.2 313.2 322.8 313.7 322.8 314.2 322.8 314.7 324.4 315.2 325 315.7 324.7 316.2 325 316.7 324.7 317.2 321.8 317.7 324.7 318.2 322.7 318.7 324.6 319.2 325 319.7 325 320.2 325 320.7 324.1 321.2 323.7 321.7 323.4 322.2 322.7 322.7 323.9 323.2 325 323.7 325 324.2 324.9 324.7 325 325.2 318.1 325.7 322.9 326.2 324.3 326.7 325 327.2 325 327.7 325 328.2 320.5 328.7 324.4 329.2 323.8 329.7 317.8 330.2 325 330.7 323.8 331.2 322.9 331.7 324.2 332.2 322.8 332.7 324.4 333.2 325 333.7 323.2 334.2 324.1 334.7 323.3 335.2 325 335.7 325 336.2 325 336.7 322.4 337.2 322.3 337.7 318.9 338.2 322.6 338.7 325 339.2 321.8 339.7 322.9 340.2 324.8 340.7 322.1 341.2 325 341.7 325 342.2 325 342.7 325 343.2 325 343.7 324.3 344.2 323.9 344.7 325 345.2 325 345.7 325 346.2 323.8 346.7 322.6 347.2 325 347.7 322.5 348.2 325 348.7 325 349.2 325 349.7 323.5 350.2 325 350.7 320.5 351.2 325 351.7 325 352.2 325 352.7 325 353.2 324.7 353.7 325 354.2 320.5 354.7 322.4 355.2 323.6 355.7 325 356.2 323.1 356.7 325 357.2 325 357.7 323.2 358.2 324.6 358.7 322.9 359.2 325 359.7 319.5 360.2 317.8 360.7 325 361.2 325 361.7 325 362.2 324.3 362.7 322.8 363.2 322.8 363.7 322.8 364.2 320.1 364.7 320.9 365.2 322.3 365.7 322.8 366.2 322.8 366.7 322.8 367.2 322.1 367.7 322.8 368.2 322.2 368.7 322.8 369.2 322.8 369.7 322.8 370.2 322.8 370.7 320.9 371.2 321.8 371.7 325 372.2 324.2 372.7 325 373.2 325 373.7 325 374.2 320.7 374.7 325 375.2 325 375.7 323.1 376.2 324.3 376.7 323 377.2 325 377.7 317.8 378.2 323.5 378.7 319.9 379.2 324.7 379.7 324.3 380.2 317.8 380.7 325 381.2 322.4 381.7 325 382.2 325 382.7 323.6 383.2 324.7 383.7 325 384.2 324.6 384.7 322.5 385.2 325 385.7 321.8 386.2 325 386.7 325 387.2 323.9 387.7 325 388.2 324.5 388.7 325 389.2 323.1 389.7 325 390.2 325 390.7 325 391.2 325 391.7 322.7 392.2 324 392.7 321 393.2 322.8 393.7 323.3 394.2 325 394.7 325 395.2 324.9 395.7 325 396.2 324.8 396.7 322.8 397.2 325 397.7 325 398.2 323.6 398.7 323.9 399.2 322.8 399.7 322.9 400.2 323.7 400.7 323.3 401.2 322.3 401.7 325 402.2 323.2 402.7 323.9 403.2 321.8 403.7 323.2 404.2 323.3 404.7 325 405.2 324.7 405.7 322.2 406.2 325 406.7 323.7 407.2 323.9 407.7 325 408.2 325 408.7 324.8 409.2 317.8 409.7 325 410.2 324.1 410.7 325 411.2 318.5 411.7 322.8 412.2 322.8 412.7 319.8 413.2 321.7 413.7 319.4 414.2 322.8 414.7 322.8 415.2 322.7 415.7 321.9 416.2 322.2 416.7 322.8 417.2 322.8 417.7 315.6 418.2 322.8 418.7 319 419.2 322.8 419.7 319.9 420.2 325 420.7 325 421.2 325 421.7 325 422.2 324.4 422.7 324.7 423.2 325 423.7 325 424.2 325 424.7 325 425.2 324.5 425.7 325 426.2 323.6 426.7 321.1 427.2 325 427.7 324.3 428.2 322.7 428.7 325 429.2 317.8 429.7 324.7 430.2 325 430.7 324 431.2 322.3 431.7 325 432.2 323 432.7 321.9 433.2 322.6 433.7 323 434.2 324.8 434.7 323.9 435.2 322.7 435.7 325 436.2 323.8 436.7 325 437.2 323.9 437.7 325 438.2 323.8 438.7 325 439.2 325 439.7 322.4 440.2 325 440.7 325 441.2 322.9 441.7 325 442.2 320.8 442.7 317.8 443.2 325 443.7 325 444.2 323 444.7 325 445.2 323.7 445.7 323.5 446.2 320.2 446.7 324.7 447.2 323.6 447.7 322.3 448.2 323.4 448.7 323.9 449.2 324.3 449.7 321 450.2 323.7 450.7 323.4 451.2 325 451.7 323 452.2 325 452.7 323.2 453.2 324.1 453.7 319.8 454.2 325 454.7 325 455.2 325 455.7 325 456.2 319.9 456.7 325 457.2 322.8 457.7 322.5 458.2 322.8 458.7 322.6 459.2 322.8 459.7 321.7 460.2 320.8 460.7 319.4 461.2 322.8 461.7 320.8 462.2 322.8 462.7 322.8 463.2 322.8 463.7 319.6 464.2 320.1 464.7 319.5 465.2 321.9 465.7 322.8 466.2 318.9 466.7 320.7 467.2 323.4 467.7 323.3 468.2 325 468.7 325 469.2 324.1 469.7 325 470.2 324.5 470.7 325 471.2 325 471.7 324.4 472.2 323 472.7 320.2 473.2 324.3 473.7 325 474.2 325 474.7 325 475.2 318.6 475.7 325 476.2 324.6 476.7 322.5 477.2 325 477.7 323.3 478.2 325 478.7 323.8 479.2 325 479.7 324.2 480.2 324.7 480.7 322.2 481.2 317.8 481.7 318.3 482.2 320.5 482.7 322.3 483.2 324.2 483.7 325 484.2 324.4 484.7 325 485.2 325 485.7 323.1 486.2 324.5 486.7 324.9 487.2 324.3 487.7 322.6 488.2 323.3 488.7 323.8 489.2 324.6 489.7 325 490.2 325 490.7 325 491.2 324 491.7 325 492.2 325 492.7 322.6 493.2 323 493.7 325 494.2 322 494.7 324.1 495.2 323.8 495.7 323.3 496.2 321.3 496.7 324.7 497.2 325 497.7 323.4 498.2 322.1 498.7 325 499.2 325 499.7 325 500.2 323.6 500.7 325 501.2 325 501.7 322.8 502.2 322.8 502.7 321.6 503.2 320.9 503.7 322.8 504.2 322.6 504.7 322.8 505.2 322.8 505.7 322.8 506.2 321.7 506.7 320.7 507.2 322.1 507.7 322.5 508.2 320.6 508.7 322 509.2 320.7 509.7 315.6 510.2 322.8 510.7 322.8 511.2 322.8 511.7 325 512.2 325 512.7 325 513.2 325 513.7 325 514.2 322.8 514.7 323.7 515.2 324.3 515.7 321.1 516.2 325 516.7 322.7 517.2 322.9 517.7 323 518.2 325 518.7 324.8 519.2 325 519.7 325 520.2 325 520.7 323.1 521.2 321.8 521.7 322.6 522.2 325 522.7 322.5 523.2 324.8 523.7 323 524.2 325 524.7 324.9 525.2 325 525.7 324.1 526.2 325 526.7 325 527.2 318.5 527.7 324.9 528.2 322.9 528.7 325 529.2 323.3 529.7 324.1 530.2 322.4 530.7 322.7 531.2 320.8 531.7 323.5 532.2 325 532.7 324.5 533.2 325 533.7 324.7 534.2 322.4 534.7 325 535.2 324.6 535.7 325 536.2 325 536.7 323.4 537.2 325 537.7 324.2 538.2 318.4 538.7 325 539.2 325 539.7 325 540.2 324.5 540.7 325 541.2 324.6 541.7 324.3 542.2 324.5 542.7 325 543.2 325 543.7 325 544.2 325 544.7 323.2 545.2 322.7 545.7 325 546.2 324.1 546.7 323.6 547.2 325 547.7 321.2 548.2 325 548.7 325 549.2 321.9 549.7 320.3 550.2 321.3 550.7 322.8 551.2 322.8 551.7 320.6 552.2 322.8 552.7 321.8 553.2 322.8 553.7 322.8 554.2 322.4 554.7 322.8 555.2 321.3 555.7 321.4 556.2 322.8 556.7 321.4 557.2 322.5 557.7 319.9 558.2 321.8 558.7 325 559.2 322.6 559.7 322.1 560.2 325 560.7 324.9 561.2 322.4 561.7 318.6 562.2 325 562.7 325 563.2 325 563.7 323.6 564.2 325 564.7 322.1 565.2 321.6 565.7 324.9 566.2 325 566.7 325 567.2 325 567.7 323.2 568.2 323.5 568.7 325 569.2 325 569.7 320.6 570.2 325 570.7 325 571.2 322.7 571.7 325 572.2 325 572.7 323.8 573.2 323.1 573.7 321.8 574.2 324.6 574.7 324.1 575.2 325 575.7 324.2 576.2 325 576.7 325 577.2 324.8 577.7 325 578.2 324.6 578.7 324.8 579.2 325 579.7 324.5 580.2 325 580.7 324.6 581.2 325 581.7 322.8 582.2 325 582.7 324.3 583.2 324 583.7 325 584.2 323 584.7 325 585.2 325 585.7 325 586.2 325 586.7 323.6 587.2 321.3 587.7 323.5 588.2 325 588.7 325 589.2 324.7 589.7 322.4 590.2 325 590.7 322.4 591.2 325 591.7 325 592.2 325 592.7 322.6 593.2 323.8 593.7 319.7 594.2 325 594.7 322.1 595.2 325 595.7 322.6 596.2 325 596.7 319.5 597.2 325 597.7 325 598.2 325 598.7 325 599.2 322.5 599.7 324.9 600.2 325 600.7 325 601.2 325 601.7 325 602.2 324.8 602.7 325 603.2 324.6 603.7 325 604.2 325 604.7 325 605.2 323.6 605.7 325 606.2 321.7 606.7 320.4 607.2 322 607.7 322.2 608.2 322 608.7 322.8 609.2 322.8 609.7 321.6 610.2 321.3 610.7 320.1 611.2 321.1 611.7 321.4 612.2 322 612.7 322.3 613.2 320 613.7 322.8 614.2 315.6 614.7 322.8 615.2 323.9 615.7 323.7 616.2 325 616.7 325 617.2 325 617.7 322.7 618.2 324.8 618.7 323.7 619.2 325 619.7 324.8 620.2 325 620.7 323.9 621.2 317.8 621.7 324.8 622.2 325 622.7 325 623.2 325 623.7 324.8 624.2 323.4 624.7 322.5 625.2 322.1 625.7 325 626.2 324.6 626.7 325 627.2 325 627.7 323.3 628.2 321.7 628.7 325 629.2 325 629.7 324.7 630.2 324.6 630.7 324.8 631.2 325 631.7 325 632.2 324.5 632.7 325 633.2 325 633.7 325 634.2 321.6 634.7 325 635.2 325 635.7 325 636.2 325 636.7 325 637.2 325 637.7 318.1 638.2 325 638.7 325 639.2 323.7 639.7 321.5 640.2 325 640.7 325 641.2 324.9 641.7 325 642.2 324.5 642.7 325 643.2 322.9 643.7 323.5 644.2 325 644.7 324.6 645.2 325 645.7 325 646.2 324.9 646.7 325 647.2 319.7 647.7 325 648.2 325 648.7 325 649.2 325 649.7 322.7 650.2 325 650.7 324.7 651.2 325 651.7 325 652.2 325 652.7 324.7 653.2 323.7 653.7 324.3 654.2 325 654.7 325 655.2 322.6 655.7 318 656.2 319.9 656.7 322.8 657.2 322.8 657.7 322.4 658.2 322.8 658.7 322.8 659.2 319.2 659.7 315.6 660.2 321.5 660.7 318.5 661.2 315.6 661.7 322 662.2 322.8 662.7 322.2 663.2 322.8 663.7 322.8 664.2 320.6 664.7 325 665.2 325 665.7 325 666.2 325 666.7 325 667.2 324.1 667.7 325 668.2 325 668.7 325 669.2 324.1 669.7 325 670.2 323.9 670.7 323.8 671.2 322.6 671.7 325 672.2 322.1 672.7 324.9 673.2 324.7 673.7 325 674.2 325 674.7 325 675.2 320.2 675.7 323.4 676.2 324.8 676.7 325 677.2 325 677.7 324.5 678.2 325 678.7 325 679.2 325 679.7 324 680.2 325 680.7 325 681.2 325 681.7 325 682.2 325 682.7 325 682.7 342.2 682.2 336.6 681.7 338.2 681.2 336.6 680.7 343.8 680.2 336.6 679.7 336.6 679.2 337.5 678.7 336.6 678.2 336.6 677.7 336.8 677.2 338.7 676.7 338.5 676.2 337.7 675.7 336.7 675.2 337.5 674.7 336.6 674.2 336.6 673.7 336.6 673.2 336.6 672.7 340.1 672.2 336.6 671.7 336.6 671.2 336.6 670.7 337.1 670.2 336.8 669.7 336.6 669.2 336.6 668.7 336.6 668.2 336.9 667.7 336.6 667.2 340.4 666.7 336.6 666.2 336.6 665.7 336.6 665.2 336.6 664.7 337.2 664.2 337.4 663.7 338.1 663.2 342.2 662.7 339.2 662.2 337.4 661.7 337.4 661.2 337.4 660.7 337.9 660.2 337.4 659.7 337.4 659.2 339.4 658.7 337.4 658.2 339.5 657.7 339.4 657.2 338.6 656.7 337.4 656.2 338.2 655.7 338.9 655.2 336.6 654.7 336.6 654.2 336.6 653.7 339.2 653.2 337.9 652.7 336.6 652.2 336.6 651.7 340 651.2 336.6 650.7 336.6 650.2 340.4 649.7 336.6 649.2 336.6 648.7 336.6 648.2 336.6 647.7 336.6 647.2 336.9 646.7 337.3 646.2 337.2 645.7 342.2 645.2 336.6 644.7 340.4 644.2 336.6 643.7 338.3 643.2 337.3 642.7 337.5 642.2 340 641.7 337.4 641.2 338.5 640.7 340.2 640.2 336.8 639.7 336.7 639.2 340.2 638.7 336.6 638.2 340.3 637.7 336.7 637.2 336.6 636.7 341.8 636.2 340.9 635.7 336.6 635.2 341.5 634.7 336.6 634.2 336.6 633.7 337.7 633.2 338.6 632.7 336.6 632.2 342.5 631.7 338.7 631.2 336.6 630.7 342.2 630.2 338.6 629.7 336.6 629.2 337.1 628.7 338.3 628.2 337.8 627.7 336.6 627.2 336.6 626.7 336.6 626.2 336.6 625.7 336.6 625.2 336.6 624.7 336.6 624.2 337.9 623.7 339.9 623.2 338.3 622.7 336.6 622.2 338.5 621.7 336.6 621.2 337.1 620.7 338.8 620.2 337.4 619.7 338.3 619.2 336.6 618.7 338.2 618.2 336.6 617.7 336.6 617.2 338.1 616.7 336.6 616.2 336.6 615.7 336.6 615.2 337.8 614.7 337.4 614.2 340 613.7 337.4 613.2 338.1 612.7 337.4 612.2 337.4 611.7 341.5 611.2 339.4 610.7 337.4 610.2 337.4 609.7 337.4 609.2 337.4 608.7 339.2 608.2 338.9 607.7 337.9 607.2 337.7 606.7 338.7 606.2 338.9 605.7 336.6 605.2 339.8 604.7 343.8 604.2 338.7 603.7 336.6 603.2 336.6 602.7 337.7 602.2 336.6 601.7 337.2 601.2 338.3 600.7 338.7 600.2 336.6 599.7 340.1 599.2 336.6 598.7 338.3 598.2 336.6 597.7 336.6 597.2 338.9 596.7 339.2 596.2 338.7 595.7 336.6 595.2 336.8 594.7 336.6 594.2 341.6 593.7 336.6 593.2 336.6 592.7 336.6 592.2 337.3 591.7 336.6 591.2 336.6 590.7 340.3 590.2 336.6 589.7 340.6 589.2 336.7 588.7 339.3 588.2 338.1 587.7 336.6 587.2 336.6 586.7 336.6 586.2 336.6 585.7 336.6 585.2 336.7 584.7 336.6 584.2 336.6 583.7 336.8 583.2 338.6 582.7 339.4 582.2 336.6 581.7 343.2 581.2 337.8 580.7 336.6 580.2 336.6 579.7 340 579.2 336.6 578.7 336.6 578.2 339 577.7 336.6 577.2 336.6 576.7 339.3 576.2 336.6 575.7 336.6 575.2 337.3 574.7 336.6 574.2 336.6 573.7 338.6 573.2 336.9 572.7 336.6 572.2 336.6 571.7 338.4 571.2 336.6 570.7 338.5 570.2 336.6 569.7 341.2 569.2 336.6 568.7 338.5 568.2 337.3 567.7 337.1 567.2 336.6 566.7 339.5 566.2 338.9 565.7 337.5 565.2 336.6 564.7 336.6 564.2 337 563.7 336.6 563.2 337.6 562.7 336.6 562.2 339.1 561.7 336.6 561.2 336.6 560.7 343.8 560.2 339 559.7 336.6 559.2 336.7 558.7 339.6 558.2 339.8 557.7 337.8 557.2 338.6 556.7 338.4 556.2 337.4 555.7 340.1 555.2 337.5 554.7 337.4 554.2 338.7 553.7 337.4 553.2 338.2 552.7 337.4 552.2 337.4 551.7 337.4 551.2 337.4 550.7 340.5 550.2 337.4 549.7 337.4 549.2 336.9 548.7 336.6 548.2 338.9 547.7 341 547.2 338 546.7 343.8 546.2 340.4 545.7 337.1 545.2 336.6 544.7 336.6 544.2 338 543.7 336.6 543.2 336.6 542.7 336.6 542.2 339.1 541.7 339.1 541.2 337 540.7 336.6 540.2 336.6 539.7 339.9 539.2 342.5 538.7 339.9 538.2 336.6 537.7 337.4 537.2 336.6 536.7 336.8 536.2 343.3 535.7 339.1 535.2 337.3 534.7 336.6 534.2 336.6 533.7 336.6 533.2 336.6 532.7 336.6 532.2 338.4 531.7 337.2 531.2 336.6 530.7 336.6 530.2 336.6 529.7 337 529.2 337.1 528.7 342.9 528.2 339 527.7 336.6 527.2 336.6 526.7 336.7 526.2 336.6 525.7 336.6 525.2 338.9 524.7 337.9 524.2 339.6 523.7 336.6 523.2 336.6 522.7 337 522.2 343.8 521.7 336.6 521.2 338.7 520.7 343.8 520.2 336.6 519.7 337.2 519.2 336.6 518.7 336.6 518.2 336.6 517.7 336.6 517.2 337 516.7 337.2 516.2 336.6 515.7 338.1 515.2 336.6 514.7 337.8 514.2 336.6 513.7 338.4 513.2 337.5 512.7 336.8 512.2 336.6 511.7 338.8 511.2 338 510.7 338.3 510.2 340.2 509.7 339.1 509.2 337.4 508.7 340.4 508.2 340.5 507.7 338 507.2 339.9 506.7 338.5 506.2 338 505.7 340.4 505.2 339.9 504.7 339.8 504.2 338.7 503.7 337.4 503.2 343.5 502.7 337.5 502.2 337.4 501.7 337.6 501.2 336.6 500.7 336.6 500.2 336.6 499.7 337.4 499.2 338.4 498.7 338.2 498.2 338.4 497.7 336.6 497.2 337.6 496.7 336.6 496.2 337.6 495.7 336.6 495.2 337.5 494.7 336.7 494.2 337.6 493.7 337.5 493.2 336.6 492.7 337.5 492.2 336.6 491.7 339.6 491.2 339.9 490.7 336.6 490.2 336.6 489.7 337.8 489.2 336.6 488.7 338.8 488.2 336.6 487.7 336.6 487.2 336.6 486.7 337.8 486.2 338 485.7 336.6 485.2 337.9 484.7 338.8 484.2 336.6 483.7 338 483.2 336.6 482.7 337.2 482.2 336.6 481.7 337 481.2 337.9 480.7 336.6 480.2 336.6 479.7 337.9 479.2 336.6 478.7 336.6 478.2 339.8 477.7 340 477.2 336.8 476.7 343.4 476.2 336.6 475.7 336.6 475.2 336.6 474.7 336.6 474.2 342.4 473.7 336.6 473.2 336.6 472.7 338.2 472.2 337.5 471.7 337.7 471.2 337.1 470.7 337.9 470.2 336.6 469.7 338.7 469.2 336.6 468.7 336.6 468.2 337.5 467.7 337.8 467.2 336.6 466.7 339.1 466.2 338.9 465.7 338.6 465.2 338.6 464.7 338.3 464.2 337.4 463.7 338.9 463.2 337.4 462.7 337.6 462.2 337.6 461.7 338.3 461.2 338 460.7 337.4 460.2 337.4 459.7 337.4 459.2 337.4 458.7 342 458.2 337.4 457.7 342.8 457.2 337.4 456.7 336.6 456.2 336.6 455.7 336.6 455.2 336.6 454.7 337.2 454.2 336.6 453.7 336.6 453.2 336.6 452.7 336.6 452.2 336.6 451.7 336.6 451.2 337.5 450.7 336.6 450.2 336.6 449.7 336.6 449.2 343.8 448.7 336.6 448.2 336.6 447.7 337.8 447.2 338.3 446.7 338 446.2 337 445.7 336.6 445.2 336.6 444.7 336.6 444.2 337.2 443.7 336.7 443.2 336.6 442.7 336.6 442.2 336.6 441.7 336.6 441.2 336.7 440.7 338.8 440.2 336.6 439.7 336.7 439.2 336.6 438.7 336.6 438.2 338.8 437.7 336.6 437.2 336.6 436.7 336.6 436.2 336.6 435.7 338.1 435.2 336.6 434.7 337.8 434.2 337.6 433.7 336.6 433.2 340.6 432.7 336.6 432.2 340.1 431.7 337.9 431.2 337.6 430.7 340.1 430.2 337.7 429.7 336.6 429.2 337.1 428.7 336.6 428.2 336.9 427.7 339.8 427.2 338.8 426.7 339.2 426.2 341 425.7 339.8 425.2 337.1 424.7 338.8 424.2 336.6 423.7 336.6 423.2 337.3 422.7 338.9 422.2 336.6 421.7 339.8 421.2 338.7 420.7 336.6 420.2 337.2 419.7 337.4 419.2 337.4 418.7 337.4 418.2 337.4 417.7 337.4 417.2 341.3 416.7 338 416.2 338.1 415.7 337.4 415.2 338.2 414.7 341.6 414.2 339.7 413.7 339 413.2 337.4 412.7 338.8 412.2 338.1 411.7 339.9 411.2 341.1 410.7 336.6 410.2 336.6 409.7 337.7 409.2 338.4 408.7 338.7 408.2 336.6 407.7 336.6 407.2 337.4 406.7 336.6 406.2 336.6 405.7 336.6 405.2 337.1 404.7 336.6 404.2 342.7 403.7 339 403.2 342.6 402.7 338.7 402.2 336.6 401.7 340.4 401.2 338.1 400.7 336.6 400.2 336.6 399.7 338.1 399.2 336.6 398.7 341.4 398.2 336.6 397.7 336.6 397.2 336.6 396.7 337.1 396.2 336.6 395.7 339.4 395.2 339.6 394.7 338.3 394.2 337.1 393.7 336.9 393.2 336.6 392.7 338.1 392.2 338.8 391.7 340.1 391.2 338.8 390.7 338.4 390.2 336.6 389.7 336.6 389.2 337.3 388.7 336.6 388.2 337.4 387.7 341.9 387.2 336.6 386.7 336.6 386.2 338.9 385.7 336.6 385.2 336.6 384.7 336.6 384.2 337.1 383.7 337 383.2 336.7 382.7 337.2 382.2 337 381.7 337.1 381.2 337.3 380.7 336.6 380.2 336.6 379.7 336.6 379.2 336.6 378.7 338.5 378.2 337.8 377.7 338.5 377.2 337.6 376.7 337.1 376.2 336.6 375.7 337.9 375.2 336.6 374.7 337.8 374.2 336.6 373.7 336.6 373.2 336.6 372.7 337.7 372.2 343.8 371.7 336.6 371.2 337.4 370.7 338.5 370.2 338.9 369.7 337.4 369.2 337.4 368.7 337.4 368.2 338.7 367.7 337.6 367.2 338.1 366.7 337.4 366.2 344.6 365.7 337.4 365.2 338.4 364.7 337.4 364.2 344.6 363.7 338.7 363.2 337.4 362.7 337.4 362.2 336.6 361.7 336.6 361.2 336.6 360.7 339.2 360.2 336.6 359.7 337 359.2 337.1 358.7 336.6 358.2 336.6 357.7 336.6 357.2 336.6 356.7 336.6 356.2 336.6 355.7 336.6 355.2 336.6 354.7 337.5 354.2 339.8 353.7 336.6 353.2 336.6 352.7 339.9 352.2 336.6 351.7 336.6 351.2 343.5 350.7 337 350.2 337.3 349.7 337.3 349.2 339.1 348.7 336.6 348.2 336.6 347.7 336.6 347.2 336.6 346.7 336.6 346.2 336.6 345.7 337 345.2 336.7 344.7 336.6 344.2 336.6 343.7 336.6 343.2 336.6 342.7 336.6 342.2 337.9 341.7 336.6 341.2 336.6 340.7 336.8 340.2 341 339.7 337.3 339.2 339.4 338.7 337.7 338.2 336.6 337.7 339.1 337.2 337.1 336.7 339.2 336.2 337.8 335.7 337.1 335.2 336.6 334.7 336.6 334.2 337.7 333.7 340.9 333.2 338.1 332.7 337 332.2 336.6 331.7 336.6 331.2 336.6 330.7 337 330.2 336.6 329.7 340 329.2 336.6 328.7 336.7 328.2 343.8 327.7 337.4 327.2 340.2 326.7 336.6 326.2 337.8 325.7 337.3 325.2 337.1 324.7 336.6 324.2 340.1 323.7 336.6 323.2 337.1 322.7 337.6 322.2 336.6 321.7 337.6 321.2 336.6 320.7 336.7 320.2 339 319.7 336.6 319.2 343.8 318.7 336.6 318.2 337.2 317.7 336.6 317.2 343.8 316.7 336.6 316.2 339.3 315.7 337.9 315.2 337 314.7 336.6 314.2 337.7 313.7 342.4 313.2 337.4 312.7 337.8 312.2 337.4 311.7 339.6 311.2 339.6 310.7 337.4 310.2 337.4 309.7 337.4 309.2 337.4 308.7 337.4 308.2 340.5 307.7 338.9 307.2 338.1 306.7 338.9 306.2 337.4 305.7 337.4 305.2 339.7 304.7 336.6 304.2 336.9 303.7 339.4 303.2 336.6 302.7 337 302.2 336.6 301.7 336.6 301.2 337.4 300.7 339.9 300.2 336.6 299.7 336.6 299.2 336.6 298.7 338.5 298.2 337.3 297.7 339.5 297.2 336.6 296.7 342.2 296.2 343.8 295.7 336.6 295.2 336.8 294.7 337.3 294.2 339.6 293.7 340.8 293.2 340.4 292.7 342.4 292.2 337.9 291.7 337.3 291.2 336.6 290.7 337.4 290.2 336.6 289.7 336.6 289.2 336.6 288.7 339.1 288.2 337.4 287.7 337.1 287.2 339.1 286.7 337 286.2 336.6 285.7 337.9 285.2 336.6 284.7 336.8 284.2 336.6 283.7 336.6 283.2 339.4 282.7 336.6 282.2 336.6 281.7 339.1 281.2 338.6 280.7 336.9 280.2 337 279.7 336.6 279.2 337.3 278.7 337.2 278.2 339.4 277.7 336.9 277.2 336.6 276.7 337.5 276.2 336.6 275.7 336.6 275.2 336.6 274.7 336.6 274.2 339.1 273.7 337.7 273.2 337.7 272.7 337.3 272.2 336.6 271.7 336.6 271.2 336.6 270.7 336.6 270.2 336.6 269.7 338.5 269.2 337.4 268.7 337.4 268.2 337.4 267.7 340.4 267.2 338.7 266.7 337.4 266.2 344.6 265.7 338 265.2 337.4 264.7 337.4 264.2 337.9 263.7 343.4 263.2 338.8 262.7 341.7 262.2 337.4 261.7 337.4 261.2 337.8 260.7 339 260.2 337.4 259.7 338.5 259.2 339 258.7 337.4 258.2 337.4 257.7 337.4 257.2 339.3 256.7 337.4 256.2 339.6 255.7 338.1 255.2 337.4 254.7 343.4 254.2 337.4 253.7 337.4 253.2 337.4 252.7 337.4 252.2 343.8 251.7 337.4 251.2 338.3 250.7 337.4 250.2 337.4 249.7 338.6 249.2 337.4 248.7 337.4 248.2 338.2 247.7 339.7 247.2 337.4 246.7 337.4 246.2 337.4 245.7 339.1 245.2 339.1 244.7 339.7 244.2 337.4 243.7 339.5 243.2 337.4 242.7 340.4 242.2 337.4 241.7 339.5 241.2 344.6 240.7 340.7 240.2 337.6 239.7 337.4 239.2 337.4 238.7 337.8 238.2 337.4 237.7 343 237.2 337.4 236.7 337.4 236.2 337.7 235.7 336.6 235.2 338.3 234.7 338.5 234.2 337.9 233.7 344.6 233.2 337.7 232.7 339.1 232.2 337.4 231.7 338.2 231.2 337.4 230.7 344.6 230.2 339.6 229.7 337.9 229.2 337.4 228.7 337.4 228.2 339.4 227.7 338.4 227.2 337.4 226.7 338.1 226.2 338.1 225.7 337.4 225.2 337.4 224.7 337.4 224.2 339.1 223.7 338.2 223.2 340 222.7 337.4 222.2 339 221.7 339.7 221.2 337.4 220.7 337.9 220.2 337.4 219.7 337.4 219.2 337.4 218.7 338.3 218.2 339.2 217.7 337.4 217.2 338.5 216.7 338 216.2 337.4 215.7 337.4 215.2 337.4 214.7 339.8 214.2 337.4 213.7 337.4 213.2 337.8 212.7 337.4 212.2 337.4 211.7 338.3 211.2 337.4 210.7 337.4 210.2 337.4 209.7 340.3 209.2 341.7 208.7 337.4 208.2 337.6 207.7 337.4 207.2 337.5 206.7 337.4 206.2 337.4 205.7 337.4 205.2 340.5 204.7 339.1 204.2 337.5 203.7 339.3 203.2 337.7 202.7 337.4 202.2 339.5 201.7 343.5 201.2 337.4 200.7 336.8 200.2 337.8 199.7 339.3 199.2 338 198.7 337.8 198.2 337.4 197.7 337.4 197.2 337.4 196.7 337.4 196.2 339.2 195.7 337.4 195.2 337.4 194.7 337.4 194.2 337.9 193.7 338.6 193.2 337.4 192.7 340 192.2 337.4 191.7 337.5 191.2 338.1 190.7 337.4 190.2 337.4 189.7 337.4 189.2 341.8 188.7 337.4 188.2 342.6 187.7 337.4 187.2 337.4 186.7 337.4 186.2 340.5 185.7 344.5 185.2 337.4 184.7 337.4 184.2 337.4 183.7 337.4 183.2 337.4 182.7 337.4 182.2 337.4 181.7 337.4 181.2 337.4 180.7 337.4 180.2 338.9 179.7 338.5 179.2 338 178.7 337.9 178.2 337.4 177.7 337.4 177.2 337.4 176.7 337.4 176.2 338.3 175.7 337.9 175.2 337.4 174.7 337.4 174.2 339 173.7 339.3 173.2 337.4 172.7 337.4 172.2 337.4 171.7 337.6 171.2 337.4 170.7 344.4 170.2 338 169.7 337.6 169.2 339 168.7 337.4 168.2 339.8 167.7 337.4 167.2 339.4 166.7 338.1 166.2 338.4 165.7 337.5 165.2 336.6 164.7 337.4 164.2 342.4 163.7 339.4 163.2 337.4 162.7 339.1 162.2 337.7 161.7 338.7 161.2 338.3 160.7 338 160.2 337.4 159.7 337.4 159.2 337.4 158.7 337.4 158.2 338.9 157.7 338 157.2 337.4 156.7 338 156.2 337.4 155.7 337.4 155.2 341.5 154.7 337.4 154.2 337.9 153.7 339.5 153.2 339.3 152.7 338.1 152.2 340.4 151.7 337.4 151.2 338.7 150.7 337.4 150.2 337.4 149.7 337.4 149.2 337.8 148.7 344.6 148.2 338.7 147.7 337.4 147.2 338 146.7 339.7 146.2 340.5 145.7 338.7 145.2 339.8 144.7 344.6 144.2 337.4 143.7 337.4 143.2 336.6 142.7 337.6 142.2 336.6 141.7 336.7 141.2 336.7 140.7 336.6 140.2 339.6 139.7 338 139.2 336.6 138.7 336.6 138.2 338.9 137.7 338.2 137.2 336.6 136.7 338.1 136.2 337.8 135.7 337.7 135.2 337.7 134.7 340.9 134.2 336.7 133.7 338.1 133.2 338.2 132.7 339.1 132.2 338 131.7 336.6 131.2 338.2 130.7 339.7 130.2 338.7 129.7 336.6 129.2 341.4 128.7 336.6 128.2 336.7 127.7 336.6 127.2 338 126.7 336.6 126.2 336.6 125.7 336.6 125.2 336.6 124.7 336.6 124.2 336.6 123.7 338.3 123.2 336.6 122.7 336.6 122.2 338.1 121.7 337.4 121.2 336.6 120.7 336.6 120.2 338.8 119.7 338.9 119.2 336.6 118.7 337.4 118.2 337.1 117.7 336.6 117.2 336.6 116.7 336.6 116.2 336.6 115.7 336.6 115.2 336.6 114.7 336.6 114.2 336.6 113.7 339 113.2 338.5 112.7 338.1 112.2 337.2 111.7 338 111.2 337.6 110.7 337.3 110.2 339.8 109.7 339.6 109.2 336.6 108.7 337.3 108.2 339.6 107.7 339.6 107.2 336.8 106.7 336.6 106.2 337.1 105.7 336.6 105.2 340.4 104.7 338.8 104.2 336.6 103.7 343.8 103.2 336.6Z" fill="#80d8dc"/><path d="M144 321.1V349.6M147.2 319.8V347.7M150.5 320.8V348.6M153.5 320.2V348.9M156.5 319.3V347.3M159.7 320.3V347.3M162.2 319.4V346.4M167.7 319.1V347.5M170.9 321.6V346M174.1 319.4V348.3M176.9 321.2V346.8M179.5 319.6V349.3M182.1 319.4V347M185.5 321.1V349.2M188.4 318.9V346.5M191.4 320.7V345.3M194.1 320.6V345.1M196.5 321.3V349.5M199.2 319.4V347.2M201.5 320V346.8M204 321.3V345.9M206.9 318.7V348.5M209.4 321.3V345.2M212.2 320.9V349.4M215.2 318.5V348.8M218.4 318.5V347.6M221.2 320.9V347.7M223.6 319.4V345.3M226.2 320.4V349.3M229.6 319.2V347.3M232.9 321V349.8M236.2 320.4V347.6M238.7 320.7V348.5M241.9 318.8V347.3M244.6 320.6V345.4M247.7 318.9V347.3M251 319V348.8M253.5 320.4V346.1M255.9 318.6V346.3M258.3 321.1V347.3M260.9 321.1V346.2M263.7 318.7V345.8M266.3 319.3V346.4M269.3 319.8V347.3M306.1 321.5V348.1M308.7 319.8V346.3M310.9 318.6V348.7M313.4 319.6V347.7M362.9 319V346.8M364.8 319.1V349.8M367.1 318.8V349M369 321.5V347.6M370.9 320.4V347M411.4 318.5V346.8M414.1 321.1V348M416.4 318.9V345.9M418.7 321.6V349M457.1 320.7V346.5M459.7 320V348.2M461.7 319.1V345.4M463.6 320.1V345.9M466.1 318.9V346M501.9 318.7V348.1M504.4 321.3V347.2M506.8 319.9V345.6M509.1 320.6V349M511 318.9V345.7M549.6 321.5V348.5M551.7 321.8V349.7M554.4 318.4V349.8M556.6 321V348.9M606.1 319.4V348.5M608.7 320.6V348.5M610.6 319.1V347.1M613 319.2V347.4M655.5 321.4V346.4M657.4 321.7V349.4M659.4 321.4V348M661.8 318.4V345.2M663.7 320.9V346.8" fill="none" stroke="#80d8dc" stroke-width="1.25"/>
<path d="M103.2 384.1 103.7 383.4 104.2 384.1 104.7 380.7 105.2 382.8 105.7 384.1 106.2 383.9 106.7 382.2 107.2 384.1 107.7 384.1 108.2 378.6 108.7 379.5 109.2 376.1 109.7 383.1 110.2 384.1 110.7 381.7 111.2 382.9 111.7 383.7 112.2 383.6 112.7 384.1 113.2 384.1 113.7 384.1 114.2 384.1 114.7 382.7 115.2 384.1 115.7 381.5 116.2 384.1 116.7 381.7 117.2 376.9 117.7 384.1 118.2 384.1 118.7 384.1 119.2 384.1 119.7 384.1 120.2 384.1 120.7 384.1 121.2 380.3 121.7 380.7 122.2 384.1 122.7 384.1 123.2 377.9 123.7 384.1 124.2 382.8 124.7 376.1 125.2 384.1 125.7 381.3 126.2 383.7 126.7 381.9 127.2 382.1 127.7 382.3 128.2 384.1 128.7 384.1 129.2 383.1 129.7 384.1 130.2 384.1 130.7 384.1 131.2 382.3 131.7 381.6 132.2 384.1 132.7 384.1 133.2 381.5 133.7 384.1 134.2 384.1 134.7 381.9 135.2 384.1 135.7 384.1 136.2 380 136.7 384.1 137.2 384.1 137.7 384.1 138.2 382 138.7 378.4 139.2 384.1 139.7 384.1 140.2 383.8 140.7 382.7 141.2 381.2 141.7 384.1 142.2 383.8 142.7 379 143.2 383.9 143.7 379.8 144.2 375.9 144.7 380.8 145.2 379.4 145.7 380.8 146.2 379.3 146.7 380.6 147.2 380.8 147.7 380.8 148.2 380.8 148.7 380.8 149.2 375.7 149.7 380.8 150.2 378.4 150.7 379.1 151.2 380.2 151.7 372.8 152.2 378.6 152.7 379.1 153.2 380.8 153.7 380.3 154.2 380.8 154.7 380.8 155.2 380.5 155.7 380.8 156.2 380.5 156.7 380.8 157.2 380.8 157.7 378.8 158.2 380.6 158.7 380.6 159.2 379.9 159.7 379.8 160.2 380.8 160.7 380 161.2 378.6 161.7 378.7 162.2 380.8 162.7 380 163.2 380.8 163.7 378.2 164.2 378.5 164.7 380.8 165.2 384.1 165.7 384.1 166.2 382 166.7 381.8 167.2 378.9 167.7 376.1 168.2 380.8 168.7 380.2 169.2 380.8 169.7 379.1 170.2 379.1 170.7 379.3 171.2 380.8 171.7 378.9 172.2 380.8 172.7 380.8 173.2 380.8 173.7 380.8 174.2 379.6 174.7 375 175.2 375.2 175.7 380.8 176.2 377.5 176.7 380.8 177.2 380.6 177.7 380.8 178.2 380.3 178.7 380.8 179.2 380.8 179.7 380 180.2 379.4 180.7 378.5 181.2 380.8 181.7 374.6 182.2 380.8 182.7 380.8 183.2 379.7 183.7 380.8 184.2 380.8 184.7 380.8 185.2 380.6 185.7 379.1 186.2 380.8 186.7 380.7 187.2 380.8 187.7 380.8 188.2 380.8 188.7 372.8 189.2 380.8 189.7 378.3 190.2 380.5 190.7 380.8 191.2 380.8 191.7 380.4 192.2 380.1 192.7 376.7 193.2 377.9 193.7 380.8 194.2 380.8 194.7 380 195.2 380.8 195.7 379.8 196.2 376.2 196.7 380.8 197.2 380.8 197.7 380.8 198.2 380.8 198.7 380.8 199.2 380.1 199.7 380.7 200.2 384.1 200.7 382.4 201.2 380.8 201.7 379.8 202.2 379.6 202.7 380.8 203.2 378.1 203.7 380.8 204.2 380.8 204.7 380.8 205.2 374.6 205.7 379.6 206.2 380.8 206.7 380.8 207.2 380.8 207.7 378.6 208.2 379.1 208.7 380.8 209.2 380.4 209.7 379 210.2 379.9 210.7 380.8 211.2 380.8 211.7 377.9 212.2 379.9 212.7 376.7 213.2 380.1 213.7 377.2 214.2 380.8 214.7 379.1 215.2 380.1 215.7 380.8 216.2 380.8 216.7 380.4 217.2 380.5 217.7 379.2 218.2 378.4 218.7 380 219.2 380.1 219.7 379.8 220.2 380.8 220.7 380.1 221.2 380.8 221.7 380.8 222.2 380.8 222.7 380.8 223.2 377.4 223.7 380.8 224.2 372.9 224.7 380.8 225.2 380.8 225.7 380.5 226.2 379.5 226.7 380.8 227.2 380.7 227.7 379.9 228.2 380.8 228.7 373.6 229.2 379.3 229.7 375.7 230.2 380.8 230.7 380.5 231.2 380.8 231.7 380.8 232.2 380.8 232.7 376 233.2 378.7 233.7 378.6 234.2 379.6 234.7 381.1 235.2 384.1 235.7 383.8 236.2 380.7 236.7 380.1 237.2 380.8 237.7 379.3 238.2 380.8 238.7 379.5 239.2 380.8 239.7 379 240.2 380.8 240.7 380.3 241.2 378.8 241.7 380.8 242.2 380.1 242.7 380.8 243.2 380.8 243.7 376.8 244.2 380.8 244.7 379.6 245.2 379.4 245.7 380.8 246.2 380.8 246.7 380.8 247.2 380.8 247.7 376.4 248.2 380.8 248.7 378 249.2 380.1 249.7 379.9 250.2 380.8 250.7 380.8 251.2 380.4 251.7 380.8 252.2 377.5 252.7 380.3 253.2 380.8 253.7 380.8 254.2 380.8 254.7 380.8 255.2 378.2 255.7 379.3 256.2 380.8 256.7 380.8 257.2 380.8 257.7 380.8 258.2 380.8 258.7 380.8 259.2 375.1 259.7 376.3 260.2 377.1 260.7 380.8 261.2 378.8 261.7 380.8 262.2 380.8 262.7 377.7 263.2 380.8 263.7 380.8 264.2 376.1 264.7 380.4 265.2 378.9 265.7 380.8 266.2 380.8 266.7 380.8 267.2 379.3 267.7 378.3 268.2 380.8 268.7 380.8 269.2 379.5 269.7 384.1 270.2 383.7 270.7 384.1 271.2 382.7 271.7 381.2 272.2 384.1 272.7 384.1 273.2 384.1 273.7 384.1 274.2 381.3 274.7 384.1 275.2 384.1 275.7 379.7 276.2 382.6 276.7 384.1 277.2 384.1 277.7 382.6 278.2 384.1 278.7 382.6 279.2 384.1 279.7 381.3 280.2 380.9 280.7 384.1 281.2 381.5 281.7 384.1 282.2 384.1 282.7 378.5 283.2 384.1 283.7 379.7 284.2 384.1 284.7 383.9 285.2 383.1 285.7 384.1 286.2 384.1 286.7 383.8 287.2 384.1 287.7 378.7 288.2 382.2 288.7 381.3 289.2 384.1 289.7 379.8 290.2 382.9 290.7 382 291.2 381.6 291.7 384.1 292.2 383.5 292.7 384.1 293.2 380.2 293.7 384.1 294.2 383.5 294.7 382.7 295.2 383 295.7 382.6 296.2 382.4 296.7 383.8 297.2 382.9 297.7 382.8 298.2 380.6 298.7 384.1 299.2 380.5 299.7 380 300.2 384.1 300.7 383 301.2 384.1 301.7 383 302.2 384.1 302.7 382 303.2 376.1 303.7 382.9 304.2 380.7 304.7 382.5 305.2 384.1 305.7 378.5 306.2 380.4 306.7 380.8 307.2 378.4 307.7 380.8 308.2 377.6 308.7 380.8 309.2 380.8 309.7 380.8 310.2 380.8 310.7 380.8 311.2 380.5 311.7 380.8 312.2 380.8 312.7 372.8 313.2 380.8 313.7 380.5 314.2 380.8 314.7 379 315.2 384.1 315.7 383.7 316.2 384.1 316.7 384.1 317.2 380.9 317.7 382 318.2 382.5 318.7 382.3 319.2 384.1 319.7 378.8 320.2 382.9 320.7 384.1 321.2 383.2 321.7 384.1 322.2 379 322.7 382.3 323.2 384.1 323.7 382.6 324.2 379.9 324.7 383.5 325.2 384.1 325.7 384.1 326.2 382.2 326.7 384.1 327.2 381.8 327.7 384.1 328.2 384.1 328.7 384.1 329.2 384.1 329.7 384.1 330.2 384.1 330.7 379.4 331.2 381 331.7 383.8 332.2 377.3 332.7 384.1 333.2 380.2 333.7 383.4 334.2 377.7 334.7 384.1 335.2 383 335.7 384.1 336.2 384.1 336.7 384.1 337.2 381.6 337.7 384.1 338.2 377.5 338.7 384.1 339.2 382.7 339.7 383.1 340.2 384.1 340.7 381.7 341.2 384.1 341.7 380.9 342.2 379.5 342.7 384.1 343.2 384.1 343.7 381.9 344.2 384.1 344.7 380.5 345.2 384.1 345.7 379.5 346.2 384.1 346.7 383.1 347.2 383.4 347.7 382.5 348.2 384.1 348.7 383.8 349.2 384.1 349.7 379 350.2 384.1 350.7 383.7 351.2 381.8 351.7 384.1 352.2 383.3 352.7 384.1 353.2 379.9 353.7 381.3 354.2 378.1 354.7 384.1 355.2 384.1 355.7 382.3 356.2 384.1 356.7 384.1 357.2 382.5 357.7 384.1 358.2 384.1 358.7 384.1 359.2 384.1 359.7 384.1 360.2 383.3 360.7 382.7 361.2 384.1 361.7 383.1 362.2 384.1 362.7 373.2 363.2 380.3 363.7 379.5 364.2 377.6 364.7 380.8 365.2 378.5 365.7 379 366.2 379.6 366.7 380.8 367.2 380.8 367.7 380.8 368.2 379.7 368.7 380.8 369.2 380.8 369.7 380.8 370.2 380.8 370.7 380.8 371.2 377.8 371.7 384.1 372.2 383.2 372.7 383.3 373.2 379.8 373.7 384.1 374.2 384.1 374.7 384.1 375.2 384.1 375.7 384 376.2 384.1 376.7 384.1 377.2 384.1 377.7 383.1 378.2 383.8 378.7 383.6 379.2 382.6 379.7 383.5 380.2 384.1 380.7 384.1 381.2 382.7 381.7 380.2 382.2 384.1 382.7 384.1 383.2 380.9 383.7 384 384.2 383.1 384.7 383.8 385.2 384.1 385.7 384.1 386.2 381.5 386.7 376.1 387.2 381.8 387.7 382.8 388.2 384.1 388.7 384.1 389.2 383.6 389.7 377.9 390.2 378 390.7 381.7 391.2 384.1 391.7 378.5 392.2 384.1 392.7 384.1 393.2 384.1 393.7 383.9 394.2 384.1 394.7 384.1 395.2 384.1 395.7 384.1 396.2 380.3 396.7 383.3 397.2 384 397.7 384.1 398.2 379.8 398.7 384.1 399.2 377.6 399.7 384.1 400.2 384.1 400.7 384.1 401.2 379.6 401.7 384.1 402.2 384.1 402.7 382.7 403.2 384.1 403.7 384.1 404.2 384 404.7 382.8 405.2 382.8 405.7 383.5 406.2 382.3 406.7 383.7 407.2 379.1 407.7 383.3 408.2 381.1 408.7 384.1 409.2 382.9 409.7 384.1 410.2 384.1 410.7 376.7 411.2 380.8 411.7 380.6 412.2 380.3 412.7 380.8 413.2 380.8 413.7 380.8 414.2 378.5 414.7 380.8 415.2 380.8 415.7 377.3 416.2 374.9 416.7 374.3 417.2 380.8 417.7 378.7 418.2 380.8 418.7 376.6 419.2 374.4 419.7 379.5 420.2 384.1 420.7 376.1 421.2 376.1 421.7 384.1 422.2 377.1 422.7 380.3 423.2 382.2 423.7 384.1 424.2 384.1 424.7 380.5 425.2 384.1 425.7 384.1 426.2 382.7 426.7 381.8 427.2 384.1 427.7 383.8 428.2 382.9 428.7 382.7 429.2 384.1 429.7 383.2 430.2 383.2 430.7 384.1 431.2 384.1 431.7 382.8 432.2 384.1 432.7 383.3 433.2 380.8 433.7 384.1 434.2 379 434.7 384.1 435.2 380.9 435.7 382.1 436.2 383.3 436.7 381.8 437.2 384.1 437.7 383.2 438.2 384.1 438.7 384.1 439.2 382.8 439.7 384.1 440.2 382.3 440.7 383 441.2 383.9 441.7 384.1 442.2 384.1 442.7 384.1 443.2 381.8 443.7 384.1 444.2 384.1 444.7 383.4 445.2 382.3 445.7 379.4 446.2 384.1 446.7 384.1 447.2 381.8 447.7 380.9 448.2 383.3 448.7 379.1 449.2 384.1 449.7 383.2 450.2 384.1 450.7 382.1 451.2 383.2 451.7 376.1 452.2 380.2 452.7 383.9 453.2 384.1 453.7 384.1 454.2 383.4 454.7 384.1 455.2 380.3 455.7 383.6 456.2 384.1 456.7 383.5 457.2 380.2 457.7 379.2 458.2 376.7 458.7 380.8 459.2 379.5 459.7 380.8 460.2 380.4 460.7 379.7 461.2 378.6 461.7 380.8 462.2 379.5 462.7 375.7 463.2 379 463.7 380.8 464.2 380.2 464.7 377.4 465.2 378.8 465.7 380.8 466.2 380.8 466.7 375.6 467.2 384.1 467.7 382 468.2 379.1 468.7 382.3 469.2 382.6 469.7 384.1 470.2 382.9 470.7 380.1 471.2 383.7 471.7 384.1 472.2 382.3 472.7 384.1 473.2 383 473.7 384.1 474.2 384.1 474.7 384.1 475.2 384.1 475.7 382.5 476.2 382.8 476.7 383.3 477.2 384.1 477.7 378.2 478.2 384.1 478.7 384.1 479.2 384.1 479.7 376.1 480.2 382.7 480.7 384.1 481.2 384.1 481.7 383.6 482.2 383.4 482.7 382.9 483.2 383.7 483.7 384.1 484.2 384.1 484.7 382.5 485.2 383.5 485.7 384.1 486.2 379.7 486.7 384.1 487.2 383.3 487.7 384.1 488.2 380.2 488.7 383.8 489.2 382.8 489.7 382.6 490.2 378.9 490.7 384.1 491.2 384.1 491.7 384.1 492.2 384.1 492.7 384.1 493.2 382.7 493.7 379.6 494.2 384.1 494.7 384.1 495.2 384.1 495.7 384.1 496.2 381.7 496.7 384.1 497.2 384.1 497.7 383.2 498.2 384.1 498.7 381.1 499.2 382 499.7 383.1 500.2 380 500.7 380.4 501.2 383.5 501.7 375.2 502.2 378.9 502.7 380.3 503.2 375.5 503.7 379.3 504.2 380.8 504.7 380.8 505.2 380.8 505.7 380.5 506.2 378.7 506.7 379.1 507.2 380.4 507.7 378.6 508.2 380.7 508.7 380.8 509.2 380.8 509.7 380.8 510.2 380.8 510.7 380.8 511.2 379.5 511.7 384 512.2 384.1 512.7 384.1 513.2 384.1 513.7 382.5 514.2 383.5 514.7 384.1 515.2 384.1 515.7 384.1 516.2 382.7 516.7 383.3 517.2 384.1 517.7 384.1 518.2 381 518.7 384.1 519.2 384.1 519.7 383 520.2 384.1 520.7 381.6 521.2 382.7 521.7 384.1 522.2 384.1 522.7 384.1 523.2 382.9 523.7 383.2 524.2 382.2 524.7 381.4 525.2 383.9 525.7 383.1 526.2 381.4 526.7 380.9 527.2 382.5 527.7 384.1 528.2 381.2 528.7 384.1 529.2 379.3 529.7 383.3 530.2 383.3 530.7 384.1 531.2 384.1 531.7 381.3 532.2 384.1 532.7 382.1 533.2 382.3 533.7 376.1 534.2 382.2 534.7 383.9 535.2 384 535.7 379.1 536.2 381.2 536.7 384.1 537.2 383.9 537.7 381 538.2 381.5 538.7 384.1 539.2 383.2 539.7 384.1 540.2 384.1 540.7 383.6 541.2 381.3 541.7 383.9 542.2 384.1 542.7 382.7 543.2 384.1 543.7 382.9 544.2 384.1 544.7 383.3 545.2 384.1 545.7 381.2 546.2 384.1 546.7 381.2 547.2 384.1 547.7 384.1 548.2 384.1 548.7 378.5 549.2 384.1 549.7 380.8 550.2 377.9 550.7 380.8 551.2 379.5 551.7 380.4 552.2 380.8 552.7 378.6 553.2 379.3 553.7 380.8 554.2 380.7 554.7 380 555.2 377.6 555.7 380 556.2 380.8 556.7 378.9 557.2 372.8 557.7 378.5 558.2 377.4 558.7 382.5 559.2 382.1 559.7 384 560.2 383.2 560.7 383 561.2 378.7 561.7 383.4 562.2 384.1 562.7 384.1 563.2 384.1 563.7 383.1 564.2 384.1 564.7 384.1 565.2 382 565.7 384.1 566.2 383.1 566.7 384.1 567.2 382.3 567.7 382.1 568.2 384.1 568.7 384.1 569.2 384.1 569.7 383.2 570.2 384.1 570.7 384.1 571.2 384.1 571.7 382.2 572.2 381.2 572.7 383.9 573.2 384.1 573.7 381.1 574.2 384.1 574.7 384.1 575.2 380.2 575.7 384.1 576.2 384.1 576.7 381.9 577.2 384.1 577.7 382.6 578.2 383 578.7 384.1 579.2 383.8 579.7 384.1 580.2 379.3 580.7 382.4 581.2 384.1 581.7 378.1 582.2 379.8 582.7 384.1 583.2 384.1 583.7 383.4 584.2 384.1 584.7 384.1 585.2 381.9 585.7 382.2 586.2 376.1 586.7 384.1 587.2 382.4 587.7 384.1 588.2 381.1 588.7 384.1 589.2 381.5 589.7 384.1 590.2 381.8 590.7 380.9 591.2 384.1 591.7 384 592.2 381.7 592.7 383.6 593.2 381.9 593.7 384.1 594.2 382.2 594.7 384.1 595.2 384.1 595.7 381.6 596.2 384.1 596.7 382.6 597.2 384.1 597.7 383.8 598.2 383.1 598.7 383.7 599.2 383.8 599.7 384.1 600.2 376.4 600.7 384.1 601.2 384.1 601.7 383.6 602.2 384.1 602.7 376.1 603.2 381.1 603.7 382.3 604.2 384.1 604.7 383.5 605.2 384.1 605.7 384.1 606.2 380.8 606.7 380.8 607.2 380.8 607.7 380.6 608.2 379.4 608.7 380.8 609.2 377.4 609.7 380.8 610.2 380.8 610.7 378.3 611.2 379.7 611.7 380.8 612.2 380.3 612.7 380.8 613.2 379.4 613.7 379.3 614.2 380.8 614.7 380.8 615.2 382.6 615.7 383.2 616.2 383.7 616.7 381.4 617.2 384.1 617.7 383.3 618.2 384.1 618.7 376.3 619.2 376.1 619.7 382.5 620.2 384.1 620.7 376.1 621.2 383 621.7 384.1 622.2 384.1 622.7 381 623.2 384.1 623.7 381.7 624.2 376.8 624.7 384.1 625.2 384.1 625.7 382 626.2 384.1 626.7 384.1 627.2 384.1 627.7 383.3 628.2 384.1 628.7 383.6 629.2 382.3 629.7 383.3 630.2 384.1 630.7 383.8 631.2 378.6 631.7 380.7 632.2 384.1 632.7 384.1 633.2 379.6 633.7 384.1 634.2 382.8 634.7 383.1 635.2 384.1 635.7 384.1 636.2 384.1 636.7 383.8 637.2 384.1 637.7 384.1 638.2 381.1 638.7 383.1 639.2 384.1 639.7 384.1 640.2 384.1 640.7 382.6 641.2 381.3 641.7 384.1 642.2 380.6 642.7 384.1 643.2 377.5 643.7 381 644.2 384.1 644.7 379.4 645.2 381.7 645.7 384.1 646.2 384.1 646.7 383.9 647.2 384 647.7 383.9 648.2 382.5 648.7 377.8 649.2 384.1 649.7 382.8 650.2 384.1 650.7 384.1 651.2 384.1 651.7 382.7 652.2 384.1 652.7 384.1 653.2 383.5 653.7 382.5 654.2 381.9 654.7 382.8 655.2 382.8 655.7 380.3 656.2 380.8 656.7 380.8 657.2 378.7 657.7 380.8 658.2 380.6 658.7 380.8 659.2 379.2 659.7 380.8 660.2 378.9 660.7 380 661.2 380.8 661.7 380.2 662.2 380.8 662.7 380.8 663.2 380.3 663.7 377.1 664.2 379.4 664.7 384.1 665.2 382.6 665.7 384 666.2 379.5 666.7 378.3 667.2 380.9 667.7 383.2 668.2 384.1 668.7 383.9 669.2 378.4 669.7 384.1 670.2 384.1 670.7 383.2 671.2 384.1 671.7 384.1 672.2 382.1 672.7 384.1 673.2 383.9 673.7 384.1 674.2 384.1 674.7 383.4 675.2 383.6 675.7 384.1 676.2 384.1 676.7 379.6 677.2 379.9 677.7 383.3 678.2 381.7 678.7 384.1 679.2 384.1 679.7 384.1 680.2 384.1 680.7 384.1 681.2 384.1 681.7 384.1 682.2 384.1 682.7 382.9 682.7 401.8 682.2 399.5 681.7 399.5 681.2 399.5 680.7 402.2 680.2 402.4 679.7 399.5 679.2 399.5 678.7 402.1 678.2 399.5 677.7 400.5 677.2 399.7 676.7 399.5 676.2 399.5 675.7 401 675.2 403.6 674.7 399.5 674.2 400.9 673.7 399.5 673.2 399.5 672.7 402.5 672.2 403.6 671.7 399.5 671.2 402.2 670.7 401 670.2 399.5 669.7 399.5 669.2 399.5 668.7 400.7 668.2 401 667.7 399.6 667.2 400 666.7 399.5 666.2 399.5 665.7 399.5 665.2 400.2 664.7 402 664.2 400.6 663.7 401.8 663.2 400.6 662.7 400.6 662.2 400.6 661.7 400.6 661.2 401.8 660.7 400.6 660.2 400.6 659.7 400.8 659.2 401.6 658.7 400.6 658.2 400.6 657.7 400.6 657.2 400.6 656.7 401.3 656.2 402.8 655.7 401.9 655.2 399.8 654.7 399.5 654.2 399.5 653.7 400.4 653.2 399.5 652.7 402.5 652.2 403.1 651.7 399.5 651.2 399.8 650.7 399.8 650.2 400.6 649.7 404.6 649.2 399.5 648.7 399.5 648.2 399.5 647.7 399.5 647.2 399.9 646.7 399.5 646.2 399.8 645.7 400.8 645.2 401.1 644.7 401.6 644.2 400.3 643.7 401.6 643.2 403.4 642.7 399.7 642.2 399.5 641.7 399.5 641.2 399.7 640.7 399.5 640.2 399.5 639.7 399.5 639.2 400.3 638.7 399.5 638.2 399.5 637.7 399.5 637.2 403.7 636.7 407.5 636.2 399.5 635.7 399.5 635.2 400.6 634.7 399.8 634.2 399.5 633.7 404 633.2 402 632.7 399.5 632.2 399.5 631.7 399.5 631.2 402.6 630.7 404 630.2 399.8 629.7 400.2 629.2 399.5 628.7 399.5 628.2 399.5 627.7 401.4 627.2 399.5 626.7 399.5 626.2 400.8 625.7 403.3 625.2 399.5 624.7 399.5 624.2 399.5 623.7 399.5 623.2 399.5 622.7 399.5 622.2 399.5 621.7 399.5 621.2 399.5 620.7 399.5 620.2 399.5 619.7 399.5 619.2 399.5 618.7 399.5 618.2 399.5 617.7 401.1 617.2 404.3 616.7 399.7 616.2 400.8 615.7 401 615.2 400.9 614.7 401.1 614.2 400.6 613.7 403.2 613.2 402.4 612.7 400.6 612.2 405.9 611.7 403.9 611.2 408.2 610.7 400.6 610.2 400.6 609.7 400.6 609.2 404.2 608.7 400.6 608.2 401.4 607.7 401.2 607.2 400.6 606.7 402.1 606.2 400.6 605.7 402.2 605.2 399.5 604.7 401.8 604.2 401.3 603.7 399.5 603.2 400.7 602.7 399.5 602.2 400.5 601.7 399.5 601.2 399.5 600.7 399.5 600.2 401.8 599.7 407.5 599.2 405.8 598.7 401.4 598.2 399.5 597.7 399.5 597.2 402.5 596.7 399.8 596.2 402.7 595.7 402.9 595.2 400.4 594.7 399.5 594.2 402.4 593.7 402.8 593.2 399.5 592.7 401.3 592.2 399.5 591.7 400.5 591.2 400 590.7 399.5 590.2 399.5 589.7 399.5 589.2 399.5 588.7 399.5 588.2 402.8 587.7 399.5 587.2 400.6 586.7 399.5 586.2 399.9 585.7 402.3 585.2 399.5 584.7 403.6 584.2 399.5 583.7 403.4 583.2 401.2 582.7 399.5 582.2 399.5 581.7 401.8 581.2 399.7 580.7 400 580.2 399.5 579.7 399.5 579.2 401.6 578.7 400.2 578.2 399.5 577.7 403 577.2 400.9 576.7 399.5 576.2 399.6 575.7 403.4 575.2 399.5 574.7 401.3 574.2 400.4 573.7 403.8 573.2 399.5 572.7 399.6 572.2 399.5 571.7 402.7 571.2 399.5 570.7 399.9 570.2 399.5 569.7 399.5 569.2 399.5 568.7 400.9 568.2 404.3 567.7 399.5 567.2 399.5 566.7 399.5 566.2 400.2 565.7 407.5 565.2 399.5 564.7 399.5 564.2 399.5 563.7 400.9 563.2 400.2 562.7 399.5 562.2 406.4 561.7 399.5 561.2 399.5 560.7 400 560.2 399.5 559.7 399.5 559.2 399.5 558.7 400.7 558.2 400.6 557.7 400.6 557.2 401.2 556.7 401.7 556.2 400.6 555.7 400.6 555.2 400.6 554.7 400.6 554.2 406.5 553.7 400.6 553.2 400.6 552.7 405.3 552.2 403 551.7 402.9 551.2 402.7 550.7 402.6 550.2 404 549.7 400.9 549.2 399.5 548.7 399.5 548.2 399.5 547.7 400.3 547.2 399.5 546.7 401.2 546.2 399.5 545.7 400.3 545.2 400.6 544.7 399.5 544.2 406.5 543.7 402.7 543.2 399.5 542.7 399.5 542.2 402.9 541.7 399.5 541.2 399.7 540.7 400.4 540.2 399.5 539.7 399.8 539.2 404.9 538.7 399.5 538.2 400 537.7 399.5 537.2 399.5 536.7 399.5 536.2 399.5 535.7 404.4 535.2 399.7 534.7 403.1 534.2 403.8 533.7 400.3 533.2 402.9 532.7 399.5 532.2 399.5 531.7 402.4 531.2 401.7 530.7 399.5 530.2 399.5 529.7 399.5 529.2 400.6 528.7 401 528.2 402.3 527.7 399.5 527.2 403 526.7 399.5 526.2 399.5 525.7 399.5 525.2 399.6 524.7 399.5 524.2 400.1 523.7 400 523.2 401.5 522.7 399.5 522.2 399.5 521.7 401.2 521.2 400.2 520.7 399.5 520.2 401.7 519.7 399.5 519.2 399.5 518.7 399.5 518.2 400.1 517.7 400.2 517.2 400.4 516.7 399.5 516.2 399.5 515.7 400.7 515.2 400.4 514.7 401.6 514.2 404.6 513.7 399.5 513.2 399.5 512.7 399.7 512.2 399.5 511.7 402.6 511.2 400.6 510.7 401.4 510.2 401.9 509.7 400.6 509.2 403.2 508.7 400.6 508.2 401.5 507.7 400.6 507.2 402.1 506.7 402.5 506.2 402.9 505.7 400.6 505.2 403.1 504.7 408.6 504.2 402.1 503.7 401 503.2 400.6 502.7 400.6 502.2 400.6 501.7 400.6 501.2 400.1 500.7 406.8 500.2 399.5 499.7 402.5 499.2 399.5 498.7 399.5 498.2 399.8 497.7 402 497.2 400.6 496.7 399.5 496.2 400.6 495.7 402.3 495.2 399.6 494.7 401.7 494.2 399.8 493.7 403.4 493.2 399.6 492.7 399.5 492.2 399.5 491.7 399.6 491.2 399.5 490.7 400.6 490.2 402 489.7 399.7 489.2 400.9 488.7 399.5 488.2 401.6 487.7 402.7 487.2 399.5 486.7 399.5 486.2 399.5 485.7 402.3 485.2 400.6 484.7 401.1 484.2 401.7 483.7 399.5 483.2 402.7 482.7 401.4 482.2 400 481.7 400.1 481.2 399.5 480.7 399.5 480.2 401.3 479.7 399.5 479.2 399.5 478.7 405 478.2 407.5 477.7 399.5 477.2 406.8 476.7 400.5 476.2 399.5 475.7 399.5 475.2 404.7 474.7 399.5 474.2 400.7 473.7 399.5 473.2 399.5 472.7 407.5 472.2 400.9 471.7 401.3 471.2 399.5 470.7 400.6 470.2 399.6 469.7 399.5 469.2 401.6 468.7 401.9 468.2 399.5 467.7 400.5 467.2 402.5 466.7 400.8 466.2 400.6 465.7 400.6 465.2 400.6 464.7 402.8 464.2 401.8 463.7 400.6 463.2 400.6 462.7 400.6 462.2 400.6 461.7 400.6 461.2 401.7 460.7 400.6 460.2 401.2 459.7 400.6 459.2 400.6 458.7 400.6 458.2 400.6 457.7 400.8 457.2 408.6 456.7 403.5 456.2 399.7 455.7 400.8 455.2 399.5 454.7 399.5 454.2 401.2 453.7 400.1 453.2 399.5 452.7 399.5 452.2 399.5 451.7 399.5 451.2 401.1 450.7 399.5 450.2 399.5 449.7 399.5 449.2 399.5 448.7 401.6 448.2 402 447.7 399.5 447.2 399.5 446.7 399.5 446.2 399.5 445.7 399.5 445.2 399.5 444.7 400.4 444.2 403 443.7 401.5 443.2 399.5 442.7 400.3 442.2 400 441.7 400.2 441.2 399.5 440.7 399.5 440.2 399.5 439.7 399.5 439.2 399.8 438.7 400.7 438.2 401.4 437.7 399.5 437.2 400.4 436.7 400.7 436.2 399.5 435.7 399.9 435.2 400.5 434.7 399.5 434.2 404.2 433.7 399.5 433.2 404.1 432.7 399.5 432.2 399.5 431.7 402.7 431.2 401 430.7 403.7 430.2 399.5 429.7 399.5 429.2 399.5 428.7 399.5 428.2 399.5 427.7 399.5 427.2 399.5 426.7 403.1 426.2 399.5 425.7 399.5 425.2 403.3 424.7 399.5 424.2 402.5 423.7 400.5 423.2 399.5 422.7 400.6 422.2 401.2 421.7 401.7 421.2 401.3 420.7 399.5 420.2 399.5 419.7 401.6 419.2 400.6 418.7 400.6 418.2 406.6 417.7 400.6 417.2 401.5 416.7 400.6 416.2 400.6 415.7 400.6 415.2 402.6 414.7 402.6 414.2 400.6 413.7 400.7 413.2 400.6 412.7 400.8 412.2 400.6 411.7 400.6 411.2 400.6 410.7 399.5 410.2 401.5 409.7 399.7 409.2 399.5 408.7 399.5 408.2 404 407.7 399.5 407.2 399.5 406.7 400.4 406.2 399.5 405.7 399.5 405.2 399.6 404.7 402 404.2 400.7 403.7 400.3 403.2 399.5 402.7 400.8 402.2 399.5 401.7 402.6 401.2 399.5 400.7 405.2 400.2 399.5 399.7 399.5 399.2 400.5 398.7 399.5 398.2 399.8 397.7 400.7 397.2 399.5 396.7 400.3 396.2 399.7 395.7 401.4 395.2 399.5 394.7 399.5 394.2 400.6 393.7 399.5 393.2 399.5 392.7 400.4 392.2 403.5 391.7 400.1 391.2 403.3 390.7 403.5 390.2 400.7 389.7 399.5 389.2 399.5 388.7 399.5 388.2 402.8 387.7 399.5 387.2 399.5 386.7 400.5 386.2 399.5 385.7 399.5 385.2 399.5 384.7 399.6 384.2 399.5 383.7 399.5 383.2 401.8 382.7 399.8 382.2 403 381.7 402.2 381.2 399.5 380.7 399.5 380.2 399.5 379.7 399.7 379.2 400.4 378.7 401.8 378.2 399.5 377.7 399.5 377.2 403.9 376.7 402 376.2 399.5 375.7 399.5 375.2 401.6 374.7 399.5 374.2 401.4 373.7 399.5 373.2 403.8 372.7 399.8 372.2 402.6 371.7 403.3 371.2 400.6 370.7 400.9 370.2 402 369.7 400.6 369.2 400.6 368.7 401.2 368.2 401 367.7 403 367.2 400.6 366.7 401.8 366.2 400.6 365.7 400.6 365.2 400.6 364.7 400.7 364.2 402.7 363.7 401.2 363.2 400.6 362.7 402.3 362.2 400 361.7 399.5 361.2 399.5 360.7 399.5 360.2 400.9 359.7 399.5 359.2 401.6 358.7 399.5 358.2 399.5 357.7 399.5 357.2 399.6 356.7 401.8 356.2 402.5 355.7 400.3 355.2 401.7 354.7 399.9 354.2 399.5 353.7 399.5 353.2 401.5 352.7 401.6 352.2 406.1 351.7 400.2 351.2 399.5 350.7 399.5 350.2 399.5 349.7 403.1 349.2 399.7 348.7 399.5 348.2 399.5 347.7 399.5 347.2 399.5 346.7 401.5 346.2 399.5 345.7 406.4 345.2 403.2 344.7 401.4 344.2 402.4 343.7 407.5 343.2 399.5 342.7 401 342.2 399.9 341.7 399.5 341.2 399.5 340.7 402.6 340.2 399.5 339.7 399.5 339.2 401.5 338.7 399.5 338.2 399.5 337.7 399.8 337.2 401 336.7 399.5 336.2 403.1 335.7 400.7 335.2 404.6 334.7 399.5 334.2 404.9 333.7 399.5 333.2 399.9 332.7 399.5 332.2 400.5 331.7 401.2 331.2 399.5 330.7 400.4 330.2 399.5 329.7 403.8 329.2 400.8 328.7 401.2 328.2 399.5 327.7 399.5 327.2 399.5 326.7 399.5 326.2 399.5 325.7 399.5 325.2 399.5 324.7 399.5 324.2 404.2 323.7 399.5 323.2 400.7 322.7 399.5 322.2 399.5 321.7 399.5 321.2 399.5 320.7 399.8 320.2 399.5 319.7 399.5 319.2 403 318.7 399.5 318.2 399.5 317.7 399.5 317.2 404.2 316.7 399.5 316.2 399.5 315.7 399.5 315.2 399.5 314.7 399.5 314.2 400.6 313.7 400.6 313.2 401.6 312.7 400.6 312.2 400.6 311.7 400.6 311.2 406.5 310.7 401.9 310.2 400.6 309.7 400.6 309.2 401.2 308.7 402.7 308.2 401.8 307.7 401.9 307.2 402.3 306.7 400.6 306.2 406.1 305.7 403.3 305.2 400.3 304.7 399.5 304.2 399.5 303.7 400.8 303.2 399.5 302.7 399.5 302.2 399.6 301.7 399.5 301.2 407.5 300.7 399.7 300.2 399.5 299.7 401.9 299.2 399.5 298.7 399.5 298.2 399.5 297.7 400.5 297.2 399.5 296.7 399.5 296.2 402.6 295.7 399.5 295.2 401.6 294.7 399.5 294.2 400.2 293.7 407.5 293.2 399.5 292.7 400.8 292.2 399.6 291.7 399.5 291.2 399.5 290.7 401 290.2 399.5 289.7 399.5 289.2 400.4 288.7 400.8 288.2 399.8 287.7 400.1 287.2 399.5 286.7 401.4 286.2 399.5 285.7 399.5 285.2 399.5 284.7 399.5 284.2 400.6 283.7 400.5 283.2 401 282.7 399.6 282.2 399.5 281.7 401.7 281.2 400.4 280.7 399.5 280.2 399.5 279.7 402.4 279.2 399.5 278.7 402.2 278.2 399.5 277.7 401.7 277.2 402.2 276.7 401.7 276.2 406.7 275.7 402.9 275.2 400 274.7 399.5 274.2 399.5 273.7 401.7 273.2 399.5 272.7 400.9 272.2 399.5 271.7 399.5 271.2 400.9 270.7 399.5 270.2 399.5 269.7 399.5 269.2 404.8 268.7 401.1 268.2 400.6 267.7 400.6 267.2 402.1 266.7 400.6 266.2 402 265.7 401.5 265.2 400.9 264.7 401.3 264.2 400.6 263.7 400.6 263.2 400.7 262.7 402.4 262.2 400.9 261.7 401.8 261.2 402.6 260.7 400.6 260.2 400.6 259.7 402 259.2 400.6 258.7 400.6 258.2 408.6 257.7 401.5 257.2 400.6 256.7 400.6 256.2 406.2 255.7 400.6 255.2 400.6 254.7 401.3 254.2 402.9 253.7 405.3 253.2 402 252.7 404.4 252.2 405.7 251.7 402.3 251.2 400.6 250.7 406.1 250.2 400.6 249.7 400.6 249.2 402.8 248.7 400.6 248.2 400.6 247.7 401.1 247.2 400.6 246.7 404.3 246.2 400.6 245.7 401.6 245.2 400.6 244.7 400.6 244.2 403.2 243.7 401.3 243.2 401.9 242.7 400.6 242.2 400.6 241.7 400.9 241.2 405.5 240.7 400.6 240.2 400.6 239.7 400.6 239.2 400.6 238.7 406 238.2 400.6 237.7 401.7 237.2 403.6 236.7 408.6 236.2 404 235.7 400 235.2 407.5 234.7 407.5 234.2 401 233.7 403.5 233.2 400.6 232.7 403.7 232.2 402.4 231.7 403.4 231.2 400.6 230.7 401 230.2 407.5 229.7 401.5 229.2 400.6 228.7 408.1 228.2 400.6 227.7 402.1 227.2 400.6 226.7 400.6 226.2 402.5 225.7 400.9 225.2 402.9 224.7 400.6 224.2 401.6 223.7 400.6 223.2 400.6 222.7 401.7 222.2 407 221.7 400.6 221.2 403.7 220.7 400.6 220.2 404.1 219.7 402.1 219.2 400.6 218.7 403 218.2 400.6 217.7 400.9 217.2 401.2 216.7 403.4 216.2 402.9 215.7 402.7 215.2 402.6 214.7 400.6 214.2 400.6 213.7 400.6 213.2 400.6 212.7 401.3 212.2 401 211.7 401.6 211.2 403.5 210.7 406.7 210.2 402 209.7 400.6 209.2 400.6 208.7 404.8 208.2 400.6 207.7 400.6 207.2 400.6 206.7 403.9 206.2 404.3 205.7 401.6 205.2 400.6 204.7 404.5 204.2 403.2 203.7 400.6 203.2 400.6 202.7 400.6 202.2 400.6 201.7 403.3 201.2 404.1 200.7 399.5 200.2 399.5 199.7 400.6 199.2 400.6 198.7 400.6 198.2 402.8 197.7 400.6 197.2 400.6 196.7 400.6 196.2 400.6 195.7 402.8 195.2 400.6 194.7 403.5 194.2 401.5 193.7 400.6 193.2 400.6 192.7 403.3 192.2 400.6 191.7 400.6 191.2 400.6 190.7 400.6 190.2 400.6 189.7 401.5 189.2 401.7 188.7 400.6 188.2 400.6 187.7 400.6 187.2 402.5 186.7 405.8 186.2 402 185.7 400.6 185.2 400.6 184.7 402.7 184.2 400.6 183.7 400.6 183.2 400.8 182.7 400.8 182.2 400.6 181.7 404.5 181.2 400.6 180.7 402.7 180.2 400.6 179.7 400.8 179.2 402.6 178.7 400.6 178.2 400.6 177.7 400.6 177.2 400.6 176.7 400.6 176.2 400.6 175.7 400.6 175.2 400.6 174.7 402.6 174.2 403.3 173.7 400.6 173.2 400.6 172.7 400.6 172.2 402.8 171.7 405.6 171.2 402.2 170.7 400.6 170.2 400.6 169.7 401.3 169.2 400.6 168.7 402.4 168.2 400.6 167.7 405.6 167.2 402.2 166.7 399.5 166.2 399.5 165.7 400.2 165.2 399.5 164.7 402.6 164.2 401.2 163.7 400.6 163.2 400.6 162.7 400.8 162.2 400.6 161.7 401.6 161.2 401 160.7 401.8 160.2 408.6 159.7 400.6 159.2 400.6 158.7 403.2 158.2 401.8 157.7 401.9 157.2 401.4 156.7 400.6 156.2 402 155.7 400.6 155.2 400.6 154.7 401.2 154.2 400.6 153.7 404.4 153.2 401.4 152.7 400.6 152.2 401.2 151.7 400.6 151.2 400.6 150.7 400.6 150.2 403.6 149.7 400.6 149.2 400.6 148.7 403.2 148.2 400.6 147.7 400.6 147.2 402 146.7 400.6 146.2 400.9 145.7 400.6 145.2 400.6 144.7 400.6 144.2 400.6 143.7 402 143.2 402.9 142.7 402.1 142.2 401.4 141.7 399.5 141.2 399.5 140.7 401.3 140.2 399.5 139.7 399.5 139.2 399.5 138.7 399.5 138.2 400 137.7 401.2 137.2 399.5 136.7 399.5 136.2 401.5 135.7 399.5 135.2 407.5 134.7 399.5 134.2 399.6 133.7 400.5 133.2 400.9 132.7 401.7 132.2 402.4 131.7 399.6 131.2 407 130.7 399.5 130.2 404 129.7 399.5 129.2 400.8 128.7 399.5 128.2 399.5 127.7 402 127.2 401.1 126.7 399.5 126.2 401.5 125.7 400.8 125.2 402.6 124.7 400.2 124.2 399.5 123.7 400.4 123.2 399.5 122.7 406.2 122.2 403.2 121.7 400.4 121.2 399.6 120.7 403.3 120.2 399.5 119.7 401.1 119.2 401.9 118.7 401.4 118.2 399.5 117.7 399.5 117.2 404.9 116.7 402.3 116.2 400.5 115.7 404.5 115.2 399.9 114.7 399.5 114.2 399.5 113.7 403 113.2 399.5 112.7 399.5 112.2 399.5 111.7 401.7 111.2 401 110.7 404 110.2 400.2 109.7 399.5 109.2 401.5 108.7 402.9 108.2 399.5 107.7 400.3 107.2 399.5 106.7 400.2 106.2 399.5 105.7 399.5 105.2 399.5 104.7 407.3 104.2 399.5 103.7 400.1 103.2 400.3Z" fill="#58b8ee"/><path d="M143.6 376.7V421.2M146.1 376.3V420M149.4 375.6V418.7M151.9 373.6V425.4M154.6 372V418.3M157.5 374.6V421.2M160.3 372.4V422.7M163.4 376.1V418M167.5 376.3V425.6M169.9 375.9V418.9M172.5 376.8V421.5M175.8 375.7V419.1M179 375V422.7M181.4 374.1V424.1M184.5 375.5V423.5M187.4 373.1V424M190.6 373V421.8M193.2 372.4V418.2M195.9 377.1V422.7M198.9 377.3V418.1M201.1 372V424.8M204 372V421M206.4 374.8V418.5M209 376.2V422.9M212.3 373.7V421.7M215.4 375.4V420.9M218.5 374.2V424M221.3 373.5V425M224.3 377.2V419.3M227.2 376V425.8M230.4 373V420.2M233.2 376.4V421.2M236.4 375.5V425.5M239.1 373.7V418.6M241.6 376.9V421.9M244.1 372.9V425M247.4 376.3V420M249.8 373.4V422.1M252.2 373.4V423.7M255.2 375.4V421.2M258.2 373.9V424.4M260.7 375.3V421.9M263.9 376.4V418M266.7 375.3V423.2M306 376.5V418.1M308.1 376.6V418.7M310.7 373.1V412.1M313.1 374.4V418.6M362.5 373.8V416.9M364.9 374.4V412.6M367.1 375.2V415.9M369.1 372.9V415.8M411.4 374.9V412.3M414 376.3V414.4M416.2 371.9V418.6M418.3 375V413.1M457.3 375.7V418.5M459.2 372.8V415.7M461.6 375.9V418.4M463.7 376.2V412.4M466.3 373.8V414.8M501.8 372.9V415.8M504.2 372.9V415.8M506.5 371.9V417.5M508.8 375.7V413.6M511 372.5V414.7M549.9 372.7V415.4M552.1 371.9V413.5M554.5 377.3V418.3M556.9 375.3V417.7M606.4 374.6V418.4M608.9 376.3V416.9M611 375.4V416.5M613.3 375.1V417.1M655.9 371.8V415.6M658.4 372V417.5M661 375.9V414M663.2 374.9V416.6" fill="none" stroke="#58b8ee" stroke-width="1.25"/>
<path d="M103.2 453.3 103.7 447.8 104.2 452.5 104.7 453.6 105.2 449.4 105.7 454.2 106.2 453.1 106.7 453.8 107.2 454.2 107.7 451.6 108.2 451 108.7 452.9 109.2 454.2 109.7 453.8 110.2 452.8 110.7 454.2 111.2 454.2 111.7 452 112.2 450.7 112.7 454.2 113.2 454.2 113.7 454.2 114.2 454.1 114.7 454.2 115.2 449 115.7 454.2 116.2 454.2 116.7 451.4 117.2 454.2 117.7 454.2 118.2 454.2 118.7 452 119.2 451.3 119.7 454.2 120.2 454.2 120.7 454.2 121.2 454.2 121.7 452.1 122.2 454.2 122.7 453.4 123.2 454.2 123.7 453.9 124.2 451.8 124.7 454.2 125.2 452.2 125.7 454.2 126.2 453.8 126.7 453.5 127.2 454.2 127.7 454.2 128.2 453.1 128.7 454.2 129.2 454.2 129.7 454.2 130.2 453.4 130.7 454.2 131.2 454.2 131.7 454.2 132.2 454.2 132.7 454.2 133.2 451.4 133.7 453.5 134.2 454.2 134.7 454.1 135.2 453.4 135.7 452.9 136.2 453 136.7 454.2 137.2 454.2 137.7 449.6 138.2 454.2 138.7 454.2 139.2 452.5 139.7 454.2 140.2 453.5 140.7 453.4 141.2 454.2 141.7 453.3 142.2 454.2 142.7 454.2 143.2 448.5 143.7 446.3 144.2 447 144.7 446.5 145.2 449.5 145.7 445.7 146.2 447.7 146.7 449.7 147.2 449.8 147.7 449 148.2 448.4 148.7 448.2 149.2 449.8 149.7 449.4 150.2 447.6 150.7 449.8 151.2 447.9 151.7 447.1 152.2 449.8 152.7 449.4 153.2 449.8 153.7 448.8 154.2 449.7 154.7 449.8 155.2 449 155.7 449.8 156.2 449.8 156.7 448.3 157.2 449.8 157.7 449.8 158.2 445.8 158.7 449.3 159.2 448.2 159.7 446.4 160.2 448.5 160.7 445.4 161.2 449.8 161.7 449.8 162.2 449.1 162.7 446.6 163.2 449.8 163.7 447.7 164.2 447.5 164.7 449.2 165.2 454.2 165.7 454.1 166.2 453.2 166.7 452.5 167.2 447.8 167.7 449.8 168.2 449.1 168.7 448.1 169.2 448.5 169.7 449.8 170.2 449.8 170.7 449.8 171.2 449.3 171.7 449.8 172.2 447.2 172.7 449.8 173.2 449.5 173.7 449.8 174.2 449.8 174.7 449.8 175.2 449.8 175.7 446.7 176.2 449.8 176.7 449.8 177.2 449.8 177.7 444.4 178.2 449.6 178.7 449.8 179.2 449.8 179.7 449.4 180.2 448.9 180.7 449.8 181.2 449.8 181.7 443.4 182.2 449.8 182.7 449.8 183.2 449.5 183.7 449.8 184.2 448.8 184.7 449.8 185.2 449.8 185.7 449.8 186.2 449.8 186.7 449.4 187.2 449.8 187.7 447.8 188.2 449.8 188.7 446.8 189.2 449.8 189.7 449.3 190.2 449.1 190.7 448.5 191.2 449.8 191.7 449.2 192.2 449.8 192.7 449.8 193.2 449.5 193.7 448.8 194.2 449.6 194.7 449.8 195.2 449.8 195.7 448.2 196.2 448.4 196.7 449.6 197.2 448.2 197.7 449.8 198.2 448.7 198.7 449.6 199.2 449.8 199.7 449.7 200.2 452.1 200.7 451.5 201.2 446.6 201.7 447.9 202.2 449.8 202.7 449.8 203.2 448.9 203.7 445.3 204.2 445.8 204.7 445.9 205.2 449.4 205.7 449.8 206.2 448.8 206.7 448.1 207.2 449.8 207.7 449.4 208.2 449.8 208.7 446.6 209.2 449.8 209.7 449.8 210.2 449.8 210.7 448.7 211.2 449.8 211.7 449.6 212.2 449 212.7 449.8 213.2 449.5 213.7 448.9 214.2 449.8 214.7 449.6 215.2 446.9 215.7 448.1 216.2 449.8 216.7 449.6 217.2 449.7 217.7 449.2 218.2 449.8 218.7 448.7 219.2 449.8 219.7 448.9 220.2 446.1 220.7 449.8 221.2 448.7 221.7 449.8 222.2 449.8 222.7 449.8 223.2 447.8 223.7 449.2 224.2 448.5 224.7 449.7 225.2 449.8 225.7 448 226.2 447.3 226.7 448.8 227.2 449.8 227.7 449.8 228.2 449.8 228.7 448.6 229.2 449.8 229.7 448.4 230.2 449.8 230.7 449.8 231.2 449.8 231.7 449.8 232.2 449.8 232.7 444.4 233.2 448.9 233.7 449.8 234.2 449.8 234.7 453.5 235.2 454.2 235.7 452 236.2 449.8 236.7 449.4 237.2 446.9 237.7 449.8 238.2 449.8 238.7 448.9 239.2 448.5 239.7 448.9 240.2 449.8 240.7 447.8 241.2 448.5 241.7 449.8 242.2 449.8 242.7 445.4 243.2 449.8 243.7 449.8 244.2 448.8 244.7 449.8 245.2 448.2 245.7 449.8 246.2 449.1 246.7 449.8 247.2 447.7 247.7 448.8 248.2 449.8 248.7 449.5 249.2 449 249.7 449.8 250.2 447.4 250.7 449.8 251.2 449.8 251.7 449 252.2 449.8 252.7 449.8 253.2 448.5 253.7 449.8 254.2 449.2 254.7 445.7 255.2 449.8 255.7 449.8 256.2 449.8 256.7 447.3 257.2 447 257.7 449.7 258.2 444.6 258.7 447.3 259.2 447.5 259.7 449.3 260.2 449.8 260.7 447.1 261.2 447.9 261.7 449.8 262.2 449.8 262.7 447 263.2 449.5 263.7 449 264.2 449.8 264.7 449.8 265.2 449.8 265.7 448.7 266.2 449.8 266.7 449.1 267.2 449.8 267.7 449.8 268.2 448 268.7 449.5 269.2 448.4 269.7 451.8 270.2 449.2 270.7 454.2 271.2 454.2 271.7 454.2 272.2 454.2 272.7 454.2 273.2 450.7 273.7 454.2 274.2 454.2 274.7 453 275.2 454.2 275.7 453.8 276.2 454.2 276.7 452 277.2 454.2 277.7 452.5 278.2 453.1 278.7 451.8 279.2 454.2 279.7 454.2 280.2 453.8 280.7 454.2 281.2 453.1 281.7 454.2 282.2 452.4 282.7 452.6 283.2 450.9 283.7 454.2 284.2 454.2 284.7 451.8 285.2 451.7 285.7 448.6 286.2 453.8 286.7 453.6 287.2 454.2 287.7 454.2 288.2 453.9 288.7 453.7 289.2 450.8 289.7 454.1 290.2 454.2 290.7 454.1 291.2 454.2 291.7 448.4 292.2 454.2 292.7 454.2 293.2 452.4 293.7 454.2 294.2 453 294.7 454.2 295.2 453.3 295.7 447.8 296.2 452.8 296.7 454 297.2 454.2 297.7 454.2 298.2 454.2 298.7 454.2 299.2 454.2 299.7 453.9 300.2 454.2 300.7 453.4 301.2 452.7 301.7 452.9 302.2 452.3 302.7 454.2 303.2 454.2 303.7 451 304.2 454.1 304.7 452.9 305.2 451.4 305.7 448.1 306.2 449.8 306.7 449.8 307.2 444.6 307.7 449.1 308.2 443.4 308.7 443.4 309.2 449.5 309.7 448.8 310.2 449.8 310.7 449.5 311.2 449.8 311.7 449.8 312.2 449.8 312.7 449.5 313.2 449.8 313.7 449.8 314.2 447.8 314.7 454.2 315.2 454.2 315.7 454.2 316.2 454.2 316.7 452.3 317.2 454.2 317.7 454.2 318.2 454.2 318.7 454.2 319.2 454.2 319.7 452 320.2 454.2 320.7 453.9 321.2 453.4 321.7 451 322.2 447.8 322.7 453.7 323.2 454.2 323.7 454.2 324.2 454.2 324.7 452.7 325.2 454.2 325.7 453.7 326.2 452.2 326.7 454.2 327.2 454.2 327.7 452.7 328.2 454.2 328.7 453.4 329.2 448.1 329.7 454.2 330.2 453.2 330.7 454.2 331.2 454.2 331.7 452 332.2 454.2 332.7 454.2 333.2 454.2 333.7 454.2 334.2 452.2 334.7 454.2 335.2 453.6 335.7 450.6 336.2 453.7 336.7 454.2 337.2 450.9 337.7 454 338.2 452.8 338.7 450.1 339.2 452.2 339.7 453.4 340.2 453.4 340.7 454.2 341.2 454.2 341.7 453.6 342.2 454 342.7 454.2 343.2 454.2 343.7 454.2 344.2 450.3 344.7 454.2 345.2 451.9 345.7 454.2 346.2 454.2 346.7 454.2 347.2 454.2 347.7 454.2 348.2 454.2 348.7 454.1 349.2 454 349.7 454.2 350.2 454.2 350.7 447.8 351.2 454.2 351.7 454 352.2 453.8 352.7 451.3 353.2 454.2 353.7 453.6 354.2 452.2 354.7 454.2 355.2 452.9 355.7 447.9 356.2 453.3 356.7 454.2 357.2 452.1 357.7 453.3 358.2 454.2 358.7 454.2 359.2 454.2 359.7 451.4 360.2 454.2 360.7 454.2 361.2 450.4 361.7 454.2 362.2 453.5 362.7 449.8 363.2 449 363.7 447.9 364.2 449.8 364.7 449.3 365.2 448.9 365.7 449.7 366.2 449.8 366.7 445.8 367.2 449.8 367.7 448.3 368.2 449.8 368.7 449.1 369.2 449.8 369.7 448.3 370.2 449.7 370.7 449.8 371.2 445.5 371.7 454.2 372.2 454.2 372.7 454.2 373.2 454.2 373.7 454.2 374.2 454.2 374.7 454.2 375.2 454 375.7 454.2 376.2 453 376.7 454.2 377.2 454.2 377.7 454 378.2 454.2 378.7 454.2 379.2 453.2 379.7 454.2 380.2 454.2 380.7 454.2 381.2 453.5 381.7 453 382.2 454.2 382.7 452.7 383.2 454.2 383.7 449 384.2 454.2 384.7 454.2 385.2 450.6 385.7 450.9 386.2 454.2 386.7 454.2 387.2 451.5 387.7 454.2 388.2 452.9 388.7 454.2 389.2 454.2 389.7 454.1 390.2 449.7 390.7 452.6 391.2 451.4 391.7 454.2 392.2 454.2 392.7 454.2 393.2 454.2 393.7 453.4 394.2 454.1 394.7 454.2 395.2 453 395.7 454.2 396.2 454 396.7 452.7 397.2 454.2 397.7 454.2 398.2 454.2 398.7 454.2 399.2 454.2 399.7 454.2 400.2 451.5 400.7 451.1 401.2 454.1 401.7 453 402.2 451.6 402.7 454.2 403.2 454.2 403.7 450.7 404.2 453 404.7 454.2 405.2 454.2 405.7 453.3 406.2 454.2 406.7 454.2 407.2 454.2 407.7 454.2 408.2 454.2 408.7 452.2 409.2 454.2 409.7 453.4 410.2 454 410.7 454.1 411.2 449.1 411.7 444.5 412.2 443.9 412.7 449.2 413.2 449.8 413.7 448.5 414.2 448.8 414.7 447 415.2 448.9 415.7 449.8 416.2 443.8 416.7 449.8 417.2 449 417.7 449.7 418.2 449.8 418.7 449.8 419.2 449.8 419.7 448.9 420.2 454.2 420.7 454.2 421.2 451.6 421.7 454.2 422.2 454.2 422.7 454.2 423.2 453.2 423.7 454.2 424.2 453 424.7 453.5 425.2 454.2 425.7 454.2 426.2 454.2 426.7 453.1 427.2 454.2 427.7 454.2 428.2 454.2 428.7 452.3 429.2 454.2 429.7 453.3 430.2 454.2 430.7 454.2 431.2 454.2 431.7 451.3 432.2 447.8 432.7 453.1 433.2 449 433.7 454.2 434.2 453.9 434.7 454.2 435.2 449.4 435.7 453.1 436.2 452.1 436.7 454.2 437.2 454.2 437.7 454.2 438.2 454.2 438.7 454.2 439.2 454.2 439.7 454.2 440.2 453.6 440.7 454.2 441.2 453.7 441.7 449.6 442.2 454.2 442.7 453.8 443.2 453 443.7 454.2 444.2 452.2 444.7 453.6 445.2 451 445.7 452.9 446.2 451.1 446.7 453.8 447.2 453.4 447.7 454.2 448.2 447.9 448.7 453.1 449.2 454 449.7 454.2 450.2 454.2 450.7 453 451.2 452.4 451.7 454.2 452.2 453.6 452.7 454.2 453.2 453.7 453.7 454.2 454.2 454.2 454.7 452.5 455.2 454.2 455.7 447.8 456.2 453.4 456.7 453.8 457.2 449.8 457.7 443.4 458.2 449.8 458.7 448.6 459.2 449.3 459.7 449.3 460.2 448.1 460.7 449.3 461.2 449.8 461.7 449.4 462.2 449.8 462.7 449.2 463.2 449.3 463.7 449.8 464.2 449.6 464.7 449.8 465.2 449 465.7 449.8 466.2 449.3 466.7 449.8 467.2 454.2 467.7 454.2 468.2 454.2 468.7 452.9 469.2 454 469.7 452.3 470.2 453 470.7 454.2 471.2 454.2 471.7 453.3 472.2 450.9 472.7 453.9 473.2 452.8 473.7 452.4 474.2 454.2 474.7 453.6 475.2 454.2 475.7 452.1 476.2 450.1 476.7 454.2 477.2 454.2 477.7 451.8 478.2 454.2 478.7 452.5 479.2 450.1 479.7 452.5 480.2 448.6 480.7 454.2 481.2 449.2 481.7 454.2 482.2 451.7 482.7 453.1 483.2 454.2 483.7 451.8 484.2 454.2 484.7 454.2 485.2 454.2 485.7 454.2 486.2 454.2 486.7 453.6 487.2 454.2 487.7 454.2 488.2 454.2 488.7 454.2 489.2 453.6 489.7 454.2 490.2 451 490.7 454.2 491.2 453.7 491.7 451.6 492.2 453.8 492.7 452 493.2 454.2 493.7 450.2 494.2 452.3 494.7 450.9 495.2 454.2 495.7 454.2 496.2 454.1 496.7 454.2 497.2 451.6 497.7 454.2 498.2 454.2 498.7 454.2 499.2 454.2 499.7 453.4 500.2 454.2 500.7 454.2 501.2 454.2 501.7 449.4 502.2 449.8 502.7 449.4 503.2 447.8 503.7 446.4 504.2 449.8 504.7 449.8 505.2 449.8 505.7 449.8 506.2 449.8 506.7 448.6 507.2 449.8 507.7 449.8 508.2 447 508.7 449.8 509.2 449.8 509.7 449.3 510.2 448.3 510.7 449.4 511.2 447.1 511.7 447.8 512.2 454 512.7 447.8 513.2 450.8 513.7 454.2 514.2 450.6 514.7 453 515.2 454 515.7 454.2 516.2 454.2 516.7 451.8 517.2 450.5 517.7 452.9 518.2 454.2 518.7 454 519.2 453 519.7 451.3 520.2 453.2 520.7 454.2 521.2 453.5 521.7 453.6 522.2 453.3 522.7 453.5 523.2 449.5 523.7 454.2 524.2 454.2 524.7 454.2 525.2 453 525.7 454.2 526.2 451.6 526.7 454.2 527.2 454.2 527.7 451.3 528.2 450.5 528.7 451.7 529.2 454.2 529.7 453.5 530.2 451.9 530.7 453.5 531.2 454.2 531.7 454.2 532.2 454.2 532.7 452.7 533.2 454.2 533.7 454.2 534.2 454.2 534.7 454.2 535.2 451.9 535.7 454.2 536.2 453.5 536.7 454 537.2 453.3 537.7 454.1 538.2 454.2 538.7 454.2 539.2 454.2 539.7 452.6 540.2 454.2 540.7 454.2 541.2 454.2 541.7 454.2 542.2 454.2 542.7 454.2 543.2 454.2 543.7 449.5 544.2 454.2 544.7 454.2 545.2 454.2 545.7 454.2 546.2 450.7 546.7 454.2 547.2 454.2 547.7 453.4 548.2 453.7 548.7 454.2 549.2 451.7 549.7 449.5 550.2 449.8 550.7 449.8 551.2 448.8 551.7 449.8 552.2 449.8 552.7 449.8 553.2 449.8 553.7 448 554.2 449.8 554.7 449.8 555.2 448.2 555.7 449.8 556.2 448.7 556.7 449.2 557.2 449.8 557.7 449.2 558.2 446.9 558.7 454 559.2 452.1 559.7 452.6 560.2 454.2 560.7 453.9 561.2 452.4 561.7 454.2 562.2 454.2 562.7 454.2 563.2 452.7 563.7 452.8 564.2 454.2 564.7 454.2 565.2 454.2 565.7 454.2 566.2 454 566.7 452.8 567.2 454.2 567.7 451.5 568.2 452.2 568.7 452.2 569.2 448.8 569.7 448.5 570.2 454.2 570.7 454.2 571.2 451 571.7 454.2 572.2 452.1 572.7 454.2 573.2 454.2 573.7 454.2 574.2 453.4 574.7 454.2 575.2 454.2 575.7 454.2 576.2 454.2 576.7 453.1 577.2 454.2 577.7 453.7 578.2 454.2 578.7 452.8 579.2 449.6 579.7 453.3 580.2 454.2 580.7 453.4 581.2 453.2 581.7 454.2 582.2 447.8 582.7 454.2 583.2 454.2 583.7 453.7 584.2 454.2 584.7 450.5 585.2 451.7 585.7 454 586.2 453.1 586.7 453.4 587.2 451.5 587.7 452.8 588.2 454.2 588.7 454.2 589.2 452.3 589.7 454.1 590.2 454.2 590.7 454.2 591.2 453.7 591.7 454.2 592.2 449.8 592.7 454.2 593.2 454.2 593.7 451.8 594.2 449.9 594.7 453.1 595.2 454.2 595.7 454.2 596.2 454 596.7 450.4 597.2 454.2 597.7 454.2 598.2 453.5 598.7 454.2 599.2 452.9 599.7 454.1 600.2 451.8 600.7 452.3 601.2 454.2 601.7 454.2 602.2 453.5 602.7 453 603.2 453.4 603.7 454.2 604.2 454.2 604.7 453.4 605.2 453.1 605.7 453.1 606.2 449.8 606.7 448.6 607.2 449.8 607.7 448.7 608.2 448.3 608.7 448.8 609.2 449.8 609.7 449.8 610.2 447.8 610.7 449.8 611.2 448.2 611.7 449.8 612.2 449.5 612.7 449.8 613.2 449.3 613.7 449.8 614.2 449.8 614.7 449.8 615.2 454.2 615.7 452.9 616.2 454.2 616.7 454.2 617.2 453.9 617.7 451.8 618.2 452.2 618.7 452.5 619.2 453.4 619.7 454.2 620.2 451.7 620.7 454.2 621.2 454.2 621.7 454.2 622.2 452.7 622.7 454.2 623.2 451.6 623.7 454.2 624.2 453.3 624.7 454.2 625.2 454.2 625.7 453.3 626.2 454.2 626.7 454.2 627.2 454.2 627.7 452.3 628.2 451.5 628.7 454.2 629.2 454.2 629.7 454.2 630.2 454.2 630.7 454.2 631.2 453.3 631.7 452.7 632.2 452.4 632.7 454.1 633.2 454.2 633.7 450.6 634.2 451.9 634.7 454.2 635.2 454.2 635.7 453.7 636.2 454.2 636.7 453.5 637.2 453 637.7 453.6 638.2 454.2 638.7 452.9 639.2 454.2 639.7 453.5 640.2 451.7 640.7 453.4 641.2 450.2 641.7 452.4 642.2 454.2 642.7 453.5 643.2 454.2 643.7 452.9 644.2 454.1 644.7 454.2 645.2 454.2 645.7 454.2 646.2 454.2 646.7 452.9 647.2 454.2 647.7 454.2 648.2 452.5 648.7 453 649.2 452.5 649.7 453.2 650.2 454.1 650.7 454.2 651.2 454.2 651.7 452.6 652.2 454.2 652.7 452.9 653.2 454.2 653.7 453.4 654.2 452.1 654.7 453.5 655.2 453.7 655.7 443.4 656.2 449.8 656.7 449.8 657.2 447 657.7 448.3 658.2 449.8 658.7 449.8 659.2 449.8 659.7 449.5 660.2 449.8 660.7 446 661.2 449.8 661.7 449.8 662.2 447.9 662.7 449.8 663.2 449.5 663.7 449.8 664.2 449.8 664.7 454.2 665.2 454.2 665.7 453.9 666.2 453.1 666.7 453.2 667.2 454.2 667.7 452 668.2 454.2 668.7 454.2 669.2 452.4 669.7 454.2 670.2 452.3 670.7 453.9 671.2 454.2 671.7 451.4 672.2 454.2 672.7 454.2 673.2 451.9 673.7 452.6 674.2 454.1 674.7 454.2 675.2 453.5 675.7 454.2 676.2 452.1 676.7 452.9 677.2 452.2 677.7 454.2 678.2 454.2 678.7 453.4 679.2 454.2 679.7 449.7 680.2 453.8 680.7 449.2 681.2 454.2 681.7 454.2 682.2 453 682.7 453.7 682.7 465.4 682.2 465.4 681.7 465.4 681.2 465.5 680.7 471.8 680.2 469 679.7 467.3 679.2 465.4 678.7 465.4 678.2 465.7 677.7 465.9 677.2 465.4 676.7 465.4 676.2 469.2 675.7 465.4 675.2 467.7 674.7 465.4 674.2 465.9 673.7 468.5 673.2 465.4 672.7 465.4 672.2 465.4 671.7 465.4 671.2 466.4 670.7 467 670.2 465.4 669.7 465.7 669.2 466.8 668.7 466.6 668.2 465.4 667.7 465.4 667.2 465.4 666.7 467.7 666.2 466.8 665.7 467.8 665.2 465.4 664.7 465.4 664.2 468 663.7 470.9 663.2 466.2 662.7 466.2 662.2 467.4 661.7 466.2 661.2 467.9 660.7 466.2 660.2 466.2 659.7 467 659.2 466.2 658.7 466.2 658.2 466.4 657.7 470.9 657.2 467.1 656.7 467.7 656.2 466.2 655.7 466.2 655.2 465.4 654.7 465.4 654.2 466.4 653.7 465.4 653.2 465.4 652.7 465.4 652.2 465.4 651.7 466 651.2 465.4 650.7 465.4 650.2 465.4 649.7 465.4 649.2 465.4 648.7 465.4 648.2 465.4 647.7 467.5 647.2 465.5 646.7 465.4 646.2 466.2 645.7 468.7 645.2 466.9 644.7 465.4 644.2 467.9 643.7 471.8 643.2 467 642.7 465.4 642.2 465.4 641.7 466.9 641.2 465.4 640.7 466.8 640.2 465.4 639.7 465.4 639.2 465.4 638.7 466.7 638.2 467 637.7 465.4 637.2 467.4 636.7 467.4 636.2 465.8 635.7 465.6 635.2 465.6 634.7 466 634.2 470.6 633.7 465.4 633.2 467.6 632.7 466.4 632.2 469.2 631.7 466.5 631.2 465.4 630.7 466.9 630.2 465.7 629.7 465.4 629.2 465.7 628.7 468.5 628.2 465.4 627.7 465.5 627.2 465.4 626.7 465.4 626.2 465.4 625.7 465.4 625.2 465.4 624.7 466.4 624.2 467.3 623.7 465.9 623.2 465.4 622.7 465.4 622.2 466 621.7 465.6 621.2 465.4 620.7 465.4 620.2 465.4 619.7 465.4 619.2 465.4 618.7 465.4 618.2 465.7 617.7 467.8 617.2 465.4 616.7 465.4 616.2 465.4 615.7 465.4 615.2 465.4 614.7 466.2 614.2 467.6 613.7 466.2 613.2 467.4 612.7 466.2 612.2 466.2 611.7 466.2 611.2 468.6 610.7 468.9 610.2 466.2 609.7 467.5 609.2 466.2 608.7 466.9 608.2 469 607.7 467.3 607.2 471.1 606.7 467.5 606.2 466.2 605.7 466 605.2 465.4 604.7 465.4 604.2 468 603.7 465.5 603.2 467.3 602.7 466.4 602.2 465.4 601.7 465.9 601.2 468.7 600.7 465.4 600.2 469.9 599.7 465.4 599.2 465.4 598.7 467.2 598.2 470.8 597.7 465.4 597.2 465.7 596.7 465.4 596.2 466.7 595.7 466.4 595.2 466.1 594.7 465.6 594.2 469.7 593.7 465.4 593.2 467 592.7 467.8 592.2 467.1 591.7 465.4 591.2 465.8 590.7 470.4 590.2 465.4 589.7 465.8 589.2 465.4 588.7 465.4 588.2 465.4 587.7 467.4 587.2 465.4 586.7 465.5 586.2 465.4 585.7 465.4 585.2 466.3 584.7 465.5 584.2 469.6 583.7 465.4 583.2 465.4 582.7 465.9 582.2 465.4 581.7 469.6 581.2 465.4 580.7 469.7 580.2 465.4 579.7 465.7 579.2 466.3 578.7 465.4 578.2 465.4 577.7 467 577.2 465.4 576.7 465.4 576.2 465.4 575.7 468.3 575.2 465.4 574.7 466.1 574.2 466 573.7 467.1 573.2 465.4 572.7 465.8 572.2 465.4 571.7 465.4 571.2 465.4 570.7 465.4 570.2 466.6 569.7 466.2 569.2 465.7 568.7 468 568.2 470.3 567.7 466.9 567.2 466.1 566.7 465.4 566.2 465.4 565.7 465.4 565.2 468 564.7 465.9 564.2 466.1 563.7 466.4 563.2 471.8 562.7 465.4 562.2 465.4 561.7 467 561.2 466.5 560.7 465.4 560.2 465.4 559.7 465.4 559.2 465.4 558.7 465.4 558.2 466.2 557.7 469.4 557.2 466.2 556.7 470.7 556.2 466.2 555.7 467.9 555.2 467.6 554.7 466.2 554.2 469.7 553.7 466.6 553.2 466.7 552.7 466.2 552.2 466.2 551.7 466.2 551.2 466.4 550.7 467.3 550.2 466.6 549.7 466.2 549.2 465.4 548.7 465.4 548.2 465.4 547.7 468.1 547.2 466.4 546.7 467.4 546.2 465.4 545.7 465.4 545.2 466 544.7 465.4 544.2 465.4 543.7 465.4 543.2 466.2 542.7 466.2 542.2 467.1 541.7 465.4 541.2 465.4 540.7 465.4 540.2 466.3 539.7 466.4 539.2 465.6 538.7 466.5 538.2 466.9 537.7 465.4 537.2 465.4 536.7 465.4 536.2 467.1 535.7 465.4 535.2 467.4 534.7 465.4 534.2 465.4 533.7 467.1 533.2 465.4 532.7 465.8 532.2 465.4 531.7 469.5 531.2 465.8 530.7 465.4 530.2 465.4 529.7 465.9 529.2 465.8 528.7 468.8 528.2 465.9 527.7 465.7 527.2 465.4 526.7 466.7 526.2 466.5 525.7 465.4 525.2 466.6 524.7 465.4 524.2 465.4 523.7 465.4 523.2 465.4 522.7 465.9 522.2 467.7 521.7 465.4 521.2 467.5 520.7 465.4 520.2 465.4 519.7 467.2 519.2 465.4 518.7 466 518.2 466.5 517.7 466.2 517.2 466.2 516.7 465.4 516.2 465.4 515.7 465.4 515.2 466 514.7 471.8 514.2 465.4 513.7 467.8 513.2 465.4 512.7 465.4 512.2 467.2 511.7 466 511.2 466.2 510.7 466.2 510.2 467.4 509.7 466.5 509.2 470 508.7 466.2 508.2 466.2 507.7 467.1 507.2 467.4 506.7 466.7 506.2 466.2 505.7 469.1 505.2 466.2 504.7 466.2 504.2 466.2 503.7 467.7 503.2 466.2 502.7 466.2 502.2 467.2 501.7 469 501.2 465.8 500.7 467.8 500.2 466.5 499.7 467.2 499.2 465.6 498.7 467.6 498.2 465.4 497.7 467 497.2 465.4 496.7 465.8 496.2 465.4 495.7 465.4 495.2 471.8 494.7 465.4 494.2 466 493.7 466.9 493.2 467.8 492.7 465.8 492.2 465.4 491.7 465.4 491.2 465.4 490.7 465.4 490.2 466 489.7 466.1 489.2 465.4 488.7 465.4 488.2 465.4 487.7 465.7 487.2 465.4 486.7 466.3 486.2 465.7 485.7 466.1 485.2 465.4 484.7 465.4 484.2 465.8 483.7 465.4 483.2 466.9 482.7 467.7 482.2 465.4 481.7 467.9 481.2 466.1 480.7 465.4 480.2 465.4 479.7 465.4 479.2 468.8 478.7 465.4 478.2 465.4 477.7 468.1 477.2 465.4 476.7 465.7 476.2 467.6 475.7 467.8 475.2 465.4 474.7 465.8 474.2 465.4 473.7 467.5 473.2 469.6 472.7 467.5 472.2 467.5 471.7 467.8 471.2 466.1 470.7 469.2 470.2 465.4 469.7 465.4 469.2 465.6 468.7 465.9 468.2 465.4 467.7 466.2 467.2 467.5 466.7 466.2 466.2 466.2 465.7 467.4 465.2 466.2 464.7 466.2 464.2 468 463.7 466.2 463.2 466.2 462.7 466.3 462.2 466.2 461.7 466.3 461.2 466.2 460.7 466.2 460.2 466.2 459.7 467.2 459.2 466.2 458.7 468.5 458.2 467.4 457.7 466.2 457.2 467.3 456.7 469.4 456.2 465.8 455.7 466.1 455.2 466.9 454.7 468.9 454.2 465.5 453.7 465.4 453.2 465.8 452.7 465.4 452.2 465.4 451.7 465.4 451.2 465.4 450.7 465.4 450.2 465.4 449.7 468.5 449.2 466.6 448.7 465.4 448.2 465.4 447.7 469 447.2 465.4 446.7 466 446.2 470.6 445.7 466.1 445.2 466.1 444.7 465.4 444.2 465.5 443.7 465.4 443.2 466.2 442.7 466.7 442.2 466.5 441.7 466.2 441.2 465.4 440.7 465.4 440.2 465.4 439.7 466.9 439.2 465.4 438.7 466.2 438.2 465.4 437.7 467.3 437.2 465.4 436.7 466.3 436.2 471.8 435.7 465.8 435.2 465.4 434.7 465.4 434.2 468.1 433.7 465.8 433.2 465.4 432.7 466.4 432.2 465.8 431.7 466 431.2 465.4 430.7 465.4 430.2 466.1 429.7 466.2 429.2 471.8 428.7 465.4 428.2 465.7 427.7 465.4 427.2 466 426.7 465.4 426.2 465.7 425.7 465.4 425.2 465.4 424.7 465.4 424.2 465.4 423.7 469.1 423.2 466 422.7 465.4 422.2 467.3 421.7 465.4 421.2 465.4 420.7 465.4 420.2 466.3 419.7 468 419.2 472.6 418.7 468.7 418.2 466.2 417.7 466.2 417.2 466.2 416.7 466.2 416.2 468.1 415.7 466.2 415.2 466.2 414.7 466.2 414.2 466.2 413.7 466.2 413.2 466.2 412.7 466.2 412.2 466.6 411.7 466.9 411.2 468.2 410.7 465.4 410.2 465.4 409.7 465.4 409.2 465.4 408.7 465.4 408.2 466.3 407.7 466.8 407.2 465.4 406.7 465.4 406.2 465.9 405.7 465.4 405.2 468 404.7 466.5 404.2 466.4 403.7 467 403.2 466 402.7 465.4 402.2 466.3 401.7 465.4 401.2 465.4 400.7 465.4 400.2 465.4 399.7 465.6 399.2 465.9 398.7 465.4 398.2 468.1 397.7 465.4 397.2 465.4 396.7 465.4 396.2 465.4 395.7 465.4 395.2 468.3 394.7 465.4 394.2 467.1 393.7 466.6 393.2 465.4 392.7 465.4 392.2 465.7 391.7 465.4 391.2 468.9 390.7 466.2 390.2 465.6 389.7 465.4 389.2 465.4 388.7 469.3 388.2 465.7 387.7 467 387.2 468.1 386.7 466.1 386.2 465.7 385.7 465.4 385.2 465.6 384.7 465.4 384.2 465.5 383.7 465.4 383.2 465.6 382.7 466.6 382.2 465.4 381.7 465.6 381.2 465.4 380.7 465.8 380.2 466.7 379.7 466.5 379.2 465.6 378.7 465.4 378.2 465.4 377.7 465.4 377.2 465.4 376.7 465.4 376.2 465.4 375.7 465.4 375.2 467.6 374.7 465.4 374.2 465.4 373.7 467 373.2 465.4 372.7 465.8 372.2 465.4 371.7 465.4 371.2 466.2 370.7 466.7 370.2 470.4 369.7 466.2 369.2 466.2 368.7 466.2 368.2 468.1 367.7 468.5 367.2 466.2 366.7 467.4 366.2 466.5 365.7 466.2 365.2 468.9 364.7 466.4 364.2 466.2 363.7 471.5 363.2 467.6 362.7 466.2 362.2 465.4 361.7 465.4 361.2 465.4 360.7 465.4 360.2 468.5 359.7 465.4 359.2 468.6 358.7 465.4 358.2 466.8 357.7 465.4 357.2 466.1 356.7 468.2 356.2 465.4 355.7 465.4 355.2 465.4 354.7 465.9 354.2 465.4 353.7 465.4 353.2 465.4 352.7 465.4 352.2 465.4 351.7 469.1 351.2 466 350.7 465.4 350.2 465.4 349.7 465.4 349.2 465.4 348.7 465.8 348.2 466.6 347.7 466 347.2 465.6 346.7 466.6 346.2 465.8 345.7 466.8 345.2 465.4 344.7 466.7 344.2 465.4 343.7 465.4 343.2 467.8 342.7 465.4 342.2 465.4 341.7 465.7 341.2 465.4 340.7 465.4 340.2 465.7 339.7 465.4 339.2 465.7 338.7 465.4 338.2 465.4 337.7 465.4 337.2 468 336.7 467.6 336.2 466.7 335.7 468.7 335.2 466.3 334.7 466.4 334.2 465.4 333.7 465.4 333.2 465.4 332.7 465.4 332.2 465.4 331.7 465.7 331.2 465.5 330.7 465.7 330.2 467.5 329.7 471.8 329.2 466.1 328.7 465.4 328.2 466.3 327.7 465.4 327.2 465.4 326.7 465.4 326.2 465.4 325.7 466.2 325.2 465.4 324.7 465.4 324.2 467.8 323.7 470 323.2 466.6 322.7 466.3 322.2 465.4 321.7 466.4 321.2 469.6 320.7 465.4 320.2 466.4 319.7 465.8 319.2 465.4 318.7 465.9 318.2 465.4 317.7 466.2 317.2 465.4 316.7 465.4 316.2 465.4 315.7 466.1 315.2 465.5 314.7 465.6 314.2 466.2 313.7 466.7 313.2 466.2 312.7 466.2 312.2 466.2 311.7 470.5 311.2 466.2 310.7 472.6 310.2 470.1 309.7 466.2 309.2 466.7 308.7 466.4 308.2 466.8 307.7 466.2 307.2 468.5 306.7 466.5 306.2 467.1 305.7 466.2 305.2 465.9 304.7 470.9 304.2 465.4 303.7 467.3 303.2 468.5 302.7 465.4 302.2 465.4 301.7 465.4 301.2 469.8 300.7 465.6 300.2 465.4 299.7 465.4 299.2 465.4 298.7 465.4 298.2 465.4 297.7 465.4 297.2 468.6 296.7 466.3 296.2 465.4 295.7 465.8 295.2 470.6 294.7 469.1 294.2 467.6 293.7 465.4 293.2 465.4 292.7 465.9 292.2 466 291.7 467.1 291.2 465.7 290.7 467.5 290.2 465.4 289.7 465.9 289.2 465.4 288.7 466.5 288.2 466.4 287.7 466.8 287.2 465.4 286.7 466.8 286.2 467.5 285.7 465.4 285.2 465.4 284.7 465.4 284.2 466 283.7 466 283.2 465.4 282.7 465.5 282.2 465.4 281.7 467.7 281.2 465.4 280.7 465.4 280.2 465.4 279.7 467.7 279.2 466.7 278.7 467.5 278.2 465.4 277.7 466.2 277.2 466.2 276.7 465.8 276.2 465.6 275.7 466.3 275.2 465.4 274.7 465.4 274.2 465.4 273.7 465.6 273.2 466.1 272.7 466.7 272.2 469.1 271.7 465.7 271.2 465.4 270.7 465.4 270.2 465.4 269.7 468.4 269.2 467.3 268.7 466.6 268.2 467.1 267.7 466.2 267.2 466.2 266.7 469.9 266.2 468.3 265.7 466.8 265.2 466.2 264.7 467.1 264.2 466.2 263.7 466.2 263.2 470.1 262.7 466.2 262.2 466.2 261.7 466.2 261.2 466.2 260.7 468.6 260.2 466.2 259.7 467.4 259.2 469.3 258.7 466.2 258.2 466.2 257.7 467.1 257.2 466.5 256.7 466.2 256.2 466.2 255.7 466.2 255.2 466.2 254.7 466.2 254.2 466.2 253.7 468 253.2 466.2 252.7 466.2 252.2 466.2 251.7 466.2 251.2 468.6 250.7 467.3 250.2 466.5 249.7 468.4 249.2 466.9 248.7 466.2 248.2 468.2 247.7 466.2 247.2 466.2 246.7 466.2 246.2 466.9 245.7 466.2 245.2 466.5 244.7 466.2 244.2 467.1 243.7 466.2 243.2 468 242.7 466.2 242.2 467.3 241.7 466.2 241.2 466.2 240.7 468.8 240.2 472.5 239.7 466.2 239.2 468 238.7 466.8 238.2 467.6 237.7 466.2 237.2 466.2 236.7 466.8 236.2 467.5 235.7 467.2 235.2 467.6 234.7 466.7 234.2 467.5 233.7 466.6 233.2 466.2 232.7 469.7 232.2 470 231.7 466.2 231.2 467.3 230.7 467.2 230.2 467.1 229.7 466.2 229.2 466.2 228.7 466.2 228.2 466.2 227.7 468.4 227.2 466.2 226.7 466.2 226.2 466.2 225.7 466.9 225.2 466.2 224.7 466.2 224.2 466.4 223.7 466.2 223.2 467.3 222.7 467.3 222.2 466.2 221.7 466.2 221.2 466.2 220.7 466.2 220.2 467.8 219.7 468.2 219.2 466.2 218.7 469.8 218.2 466.2 217.7 466.2 217.2 468 216.7 466.2 216.2 466.2 215.7 468.5 215.2 472.6 214.7 466.2 214.2 469.6 213.7 467 213.2 466.6 212.7 466.5 212.2 466.2 211.7 466.7 211.2 466.3 210.7 466.2 210.2 466.7 209.7 467 209.2 467.6 208.7 466.2 208.2 466.2 207.7 466.2 207.2 466.2 206.7 468.9 206.2 466.2 205.7 466.2 205.2 467 204.7 466.2 204.2 467.1 203.7 468.2 203.2 466.8 202.7 469.3 202.2 466.5 201.7 468.2 201.2 466.2 200.7 465.4 200.2 466.2 199.7 466.2 199.2 467.5 198.7 466.2 198.2 466.2 197.7 466.3 197.2 467.5 196.7 466.8 196.2 467.5 195.7 466.2 195.2 466.7 194.7 467.4 194.2 466.2 193.7 466.2 193.2 466.2 192.7 467 192.2 466.2 191.7 468.7 191.2 466.2 190.7 466.6 190.2 466.2 189.7 467.4 189.2 466.2 188.7 469.3 188.2 466.2 187.7 468 187.2 466.2 186.7 466.5 186.2 466.2 185.7 466.2 185.2 466.2 184.7 466.2 184.2 468.6 183.7 466.2 183.2 468.3 182.7 466.2 182.2 466.2 181.7 467.7 181.2 466.2 180.7 466.2 180.2 466.2 179.7 468.9 179.2 466.3 178.7 472.1 178.2 466.2 177.7 466.6 177.2 468.8 176.7 466.3 176.2 466.2 175.7 468.7 175.2 468 174.7 467.5 174.2 468.2 173.7 466.2 173.2 469.2 172.7 467 172.2 466.2 171.7 466.2 171.2 466.2 170.7 466.2 170.2 469.4 169.7 466.2 169.2 466.2 168.7 466.9 168.2 466.2 167.7 466.2 167.2 466.2 166.7 467.3 166.2 465.4 165.7 468.3 165.2 467.6 164.7 467.1 164.2 469.4 163.7 466.2 163.2 466.2 162.7 467.9 162.2 466.2 161.7 466.2 161.2 468.7 160.7 466.2 160.2 467 159.7 466.9 159.2 466.9 158.7 470.1 158.2 466.2 157.7 467.7 157.2 466.8 156.7 466.6 156.2 467.6 155.7 466.7 155.2 466.2 154.7 466.2 154.2 466.2 153.7 466.2 153.2 466.2 152.7 466.8 152.2 466.2 151.7 466.5 151.2 467.9 150.7 466.2 150.2 468.9 149.7 468.9 149.2 466.2 148.7 467.2 148.2 466.2 147.7 467.9 147.2 466.5 146.7 466.2 146.2 467.7 145.7 466.2 145.2 466.9 144.7 466.2 144.2 466.2 143.7 469.4 143.2 465.6 142.7 466.6 142.2 466.1 141.7 465.4 141.2 465.4 140.7 467.2 140.2 465.4 139.7 465.4 139.2 466 138.7 465.4 138.2 467.3 137.7 465.4 137.2 465.6 136.7 465.4 136.2 469.2 135.7 465.4 135.2 465.4 134.7 465.4 134.2 466 133.7 465.4 133.2 465.4 132.7 465.4 132.2 465.4 131.7 465.7 131.2 465.4 130.7 468 130.2 466.7 129.7 466.5 129.2 465.4 128.7 465.4 128.2 465.4 127.7 465.4 127.2 465.4 126.7 468.5 126.2 468.6 125.7 467 125.2 465.4 124.7 465.4 124.2 465.4 123.7 470.9 123.2 465.4 122.7 470.5 122.2 465.7 121.7 468.7 121.2 468.4 120.7 470.8 120.2 466.4 119.7 467 119.2 465.8 118.7 465.4 118.2 465.7 117.7 467.6 117.2 465.4 116.7 466 116.2 465.8 115.7 465.4 115.2 465.4 114.7 465.4 114.2 465.4 113.7 465.4 113.2 465.4 112.7 465.4 112.2 465.4 111.7 468 111.2 465.4 110.7 465.4 110.2 465.4 109.7 465.7 109.2 465.8 108.7 465.6 108.2 465.4 107.7 467.4 107.2 465.5 106.7 465.4 106.2 466.1 105.7 467.6 105.2 465.4 104.7 465.4 104.2 467.5 103.7 465.4 103.2 465.4Z" fill="#3e7dc4"/><path d="M143.7 439.6V497.8M146.2 437.8V494.4M149.5 437.4V499.9M152.5 436.7V496.2M155.7 440.5V494.9M158.9 440.5V493.2M161.9 441.4V500.9M167.5 440V497.6M170.1 435.9V497M172.9 441.4V500.3M175.6 436.1V493.3M178.2 442.3V498.7M181.2 441.2V494.1M184.1 438.1V495.9M187.1 439.2V499M190.2 442.3V493.3M193.4 437.7V493.6M196.7 438.8V500.8M199.3 437.3V498.4M201.6 437.4V497.4M204.2 438.6V497.3M207.4 437.4V497.4M210.3 438.6V499.7M213.6 442.4V496.8M216.7 440V495.2M219.3 436.8V493M222 439.8V499.6M224.8 438.4V499.2M227.9 436.5V497.4M230.7 436V493.2M233.6 440V500.7M236.5 438.8V496.4M239.5 439.7V495.8M242.2 439.5V492.9M245.3 439.2V493.7M248 441.7V496.6M251.3 438.5V492.9M253.9 438.7V499.6M256.7 442.3V494M259.2 439.3V496.7M262 438.5V499.3M264.8 442.2V499.5M267.3 437.7V491.2M306 442.3V499.8M307.9 438.9V492.2M310.4 442.3V492.9M312.9 441.8V498.6M362.8 439.5V500M365 439.4V494.2M367.1 437.5V497.2M369.3 439.5V495.4M411.2 441.6V497.7M413.6 438.9V492.4M415.7 440.1V495.7M417.8 440.9V493.8M419.8 440.4V491.9M457.1 439.2V492M459.2 442.1V501.2M461.7 437.2V494.1M464.3 437.1V491.2M466.7 442.4V493.7M501.7 442.4V496.9M503.6 436.5V493.6M506.1 441.7V492.2M508.7 438.2V495.7M511 440.3V497.2M549.7 436.9V496.1M551.7 440.9V497.2M554 441.2V492.7M556.4 439.9V498.9M606.3 442.5V494.1M608.6 437.3V493.2M610.9 441.7V491M613.1 440.5V493.9M655.7 437.7V495M657.8 442.3V493.9M659.8 441V491.7M662.4 437.8V497.6" fill="none" stroke="#3e7dc4" stroke-width="1.25"/>
<path d="M577 494.5V515.6H609.8" fill="none" stroke="#000" stroke-width="5.8"/>
<text x="584.2" y="498.2" font-size="19.4" text-anchor="start" fill="#000" >30 <tspan font-style="italic">&#956;</tspan>V</text>
<text x="611.2" y="518.4" font-size="19.1" text-anchor="start" fill="#000" >100 ms</text>
<path d="M23.7 543.6 24.1 543.6 24.5 543.6 24.9 543.6 25.4 543.6 25.8 543.6 26.2 543.6 26.6 543.6 27 543.6 27.4 543.6 27.9 543.6 28.3 543.6 28.7 543.6 29.1 543.5 29.5 543.3 29.9 542.9 30.3 542.3 30.8 541.5 31.2 540.7 31.6 540.3 32 540.4 32.4 541.3 32.8 542.6 33.3 544.3 33.7 546.1 34.1 548.1 34.5 550 34.9 551.6 35.3 552.7 35.7 553.1 36.2 552.6 36.6 551.4 37 549.8 37.4 548.1 37.8 546.5 38.2 545.3 38.6 544.3 39.1 543.6 39.5 543.1 39.9 542.7 40.3 542.4 40.7 542.2 41.1 542.2 41.6 542.4 42 542.7 42.4 543 42.8 543.2 43.2 543.4 43.6 543.5 44 543.6 44.5 543.6 44.9 543.6 45.3 543.6 45.7 543.6 46.1 543.6 46.5 543.6 47 543.6 47.4 543.6 47.8 543.6 48.2 543.6M23.7 561.1 24.1 561.1 24.5 561.1 24.9 561.1 25.4 561.1 25.8 561.1 26.2 561.1 26.6 561.1 27 561.1 27.4 561.1 27.9 561.1 28.3 561.1 28.7 561.1 29.1 561.1 29.5 561.1 29.9 561.1 30.3 561.1 30.8 561.2 31.2 561.2 31.6 561.3 32 561.3 32.4 561.4 32.8 561.5 33.3 561.6 33.7 561.7 34.1 561.9 34.5 562 34.9 562.1 35.3 562.3 35.7 562.4 36.2 562.5 36.6 562.5 37 562.6 37.4 562.6 37.8 562.5 38.2 562.5 38.6 562.4 39.1 562.3 39.5 562.1 39.9 562 40.3 561.9 40.7 561.7 41.1 561.6 41.6 561.5 42 561.4 42.4 561.3 42.8 561.3 43.2 561.2 43.6 561.2 44 561.1 44.5 561.1 44.9 561.1 45.3 561.1 45.7 561.1 46.1 561.1 46.5 561.1 47 561.1 47.4 561.1 47.8 561.1 48.2 561.1M23.7 578.5 24.1 578.5 24.5 578.5 24.9 578.5 25.4 578.5 25.8 578.5 26.2 578.5 26.6 578.5 27 578.5 27.4 578.5 27.9 578.5 28.3 578.5 28.7 578.5 29.1 578.5 29.5 578.5 29.9 578.4 30.3 578.3 30.8 578.2 31.2 578.1 31.6 578 32 577.9 32.4 577.9 32.8 578 33.3 578.2 33.7 578.5 34.1 578.9 34.5 579.2 34.9 579.6 35.3 580 35.7 580.3 36.2 580.5 36.6 580.5 37 580.4 37.4 580.2 37.8 579.8 38.2 579.5 38.6 579.2 39.1 578.9 39.5 578.7 39.9 578.6 40.3 578.4 40.7 578.4 41.1 578.3 41.6 578.3 42 578.3 42.4 578.3 42.8 578.3 43.2 578.4 43.6 578.4 44 578.5 44.5 578.5 44.9 578.5 45.3 578.5 45.7 578.5 46.1 578.5 46.5 578.5 47 578.5 47.4 578.5 47.8 578.5 48.2 578.5M23.7 596 24.1 596 24.5 596 24.9 596 25.4 596 25.8 596 26.2 596 26.6 596 27 596 27.4 596 27.9 596 28.3 596 28.7 596 29.1 596 29.5 596 29.9 596 30.3 596 30.8 596 31.2 596 31.6 596 32 596 32.4 596 32.8 596 33.3 596 33.7 596.1 34.1 596.1 34.5 596.1 34.9 596.2 35.3 596.2 35.7 596.3 36.2 596.3 36.6 596.3 37 596.3 37.4 596.3 37.8 596.2 38.2 596.2 38.6 596.1 39.1 596.1 39.5 596 39.9 596 40.3 596 40.7 596 41.1 596 41.6 596 42 596 42.4 596 42.8 596 43.2 596 43.6 596 44 596 44.5 596 44.9 596 45.3 596 45.7 596 46.1 596 46.5 596 47 596 47.4 596 47.8 596 48.2 596M23.7 613.5 24.1 613.5 24.5 613.5 24.9 613.5 25.4 613.5 25.8 613.5 26.2 613.5 26.6 613.5 27 613.5 27.4 613.5 27.9 613.5 28.3 613.5 28.7 613.5 29.1 613.5 29.5 613.5 29.9 613.5 30.3 613.5 30.8 613.5 31.2 613.5 31.6 613.5 32 613.5 32.4 613.5 32.8 613.5 33.3 613.5 33.7 613.5 34.1 613.6 34.5 613.6 34.9 613.7 35.3 613.7 35.7 613.7 36.2 613.8 36.6 613.8 37 613.8 37.4 613.7 37.8 613.7 38.2 613.6 38.6 613.6 39.1 613.5 39.5 613.5 39.9 613.5 40.3 613.5 40.7 613.5 41.1 613.5 41.6 613.5 42 613.5 42.4 613.5 42.8 613.5 43.2 613.5 43.6 613.5 44 613.5 44.5 613.5 44.9 613.5 45.3 613.5 45.7 613.5 46.1 613.5 46.5 613.5 47 613.5 47.4 613.5 47.8 613.5 48.2 613.5M23.7 631 24.1 631 24.5 631 24.9 631 25.4 631 25.8 631 26.2 631 26.6 631 27 631 27.4 631 27.9 631 28.3 631 28.7 631 29.1 631 29.5 631 29.9 631 30.3 631 30.8 631 31.2 631 31.6 631 32 631 32.4 631 32.8 631 33.3 631 33.7 631.1 34.1 631.2 34.5 631.3 34.9 631.4 35.3 631.6 35.7 631.7 36.2 631.7 36.6 631.7 37 631.7 37.4 631.6 37.8 631.5 38.2 631.3 38.6 631.2 39.1 631.1 39.5 631 39.9 631 40.3 631 40.7 631 41.1 631 41.6 631 42 631 42.4 631 42.8 631 43.2 631 43.6 631 44 631 44.5 631 44.9 631 45.3 631 45.7 631 46.1 631 46.5 631 47 631 47.4 631 47.8 631 48.2 631M23.7 648.4 24.1 648.4 24.5 648.4 24.9 648.4 25.4 648.4 25.8 648.4 26.2 648.4 26.6 648.4 27 648.4 27.4 648.4 27.9 648.4 28.3 648.4 28.7 648.4 29.1 648.4 29.5 648.5 29.9 648.5 30.3 648.5 30.8 648.5 31.2 648.6 31.6 648.6 32 648.7 32.4 648.8 32.8 648.9 33.3 649 33.7 649.1 34.1 649.3 34.5 649.4 34.9 649.6 35.3 649.7 35.7 649.8 36.2 649.9 36.6 650 37 650 37.4 650 37.8 650 38.2 649.9 38.6 649.8 39.1 649.7 39.5 649.6 39.9 649.4 40.3 649.3 40.7 649.1 41.1 649 41.6 648.9 42 648.8 42.4 648.7 42.8 648.6 43.2 648.6 43.6 648.5 44 648.5 44.5 648.5 44.9 648.5 45.3 648.4 45.7 648.4 46.1 648.4 46.5 648.4 47 648.4 47.4 648.4 47.8 648.4 48.2 648.4M23.7 665.9 24.1 665.9 24.5 665.9 24.9 665.9 25.4 665.9 25.8 665.9 26.2 665.9 26.6 665.9 27 665.9 27.4 665.9 27.9 665.9 28.3 665.9 28.7 665.9 29.1 665.9 29.5 665.9 29.9 665.9 30.3 665.9 30.8 665.9 31.2 665.9 31.6 665.9 32 665.9 32.4 665.9 32.8 665.9 33.3 665.9 33.7 665.9 34.1 666 34.5 666 34.9 666.1 35.3 666.1 35.7 666.2 36.2 666.2 36.6 666.2 37 666.2 37.4 666.1 37.8 666.1 38.2 666 38.6 666 39.1 666 39.5 665.9 39.9 665.9 40.3 665.9 40.7 665.9 41.1 665.9 41.6 665.9 42 665.9 42.4 665.9 42.8 665.9 43.2 665.9 43.6 665.9 44 665.9 44.5 665.9 44.9 665.9 45.3 665.9 45.7 665.9 46.1 665.9 46.5 665.9 47 665.9 47.4 665.9 47.8 665.9 48.2 665.9M23.7 683.4 24.1 683.4 24.5 683.4 24.9 683.4 25.4 683.4 25.8 683.4 26.2 683.4 26.6 683.4 27 683.4 27.4 683.4 27.9 683.4 28.3 683.4 28.7 683.4 29.1 683.4 29.5 683.4 29.9 683.4 30.3 683.4 30.8 683.4 31.2 683.4 31.6 683.4 32 683.4 32.4 683.4 32.8 683.4 33.3 683.4 33.7 683.4 34.1 683.4 34.5 683.4 34.9 683.5 35.3 683.5 35.7 683.5 36.2 683.6 36.6 683.6 37 683.5 37.4 683.5 37.8 683.5 38.2 683.5 38.6 683.4 39.1 683.4 39.5 683.4 39.9 683.4 40.3 683.4 40.7 683.4 41.1 683.4 41.6 683.4 42 683.4 42.4 683.4 42.8 683.4 43.2 683.4 43.6 683.4 44 683.4 44.5 683.4 44.9 683.4 45.3 683.4 45.7 683.4 46.1 683.4 46.5 683.4 47 683.4 47.4 683.4 47.8 683.4 48.2 683.4M23.7 700.8 24.1 700.8 24.5 700.8 24.9 700.8 25.4 700.8 25.8 700.8 26.2 700.8 26.6 700.8 27 700.8 27.4 700.8 27.9 700.8 28.3 700.8 28.7 700.8 29.1 700.8 29.5 700.8 29.9 700.8 30.3 700.8 30.8 700.8 31.2 700.8 31.6 700.8 32 700.8 32.4 700.8 32.8 700.8 33.3 700.9 33.7 700.9 34.1 700.9 34.5 701 34.9 701 35.3 701.1 35.7 701.1 36.2 701.1 36.6 701.1 37 701.1 37.4 701.1 37.8 701 38.2 701 38.6 700.9 39.1 700.9 39.5 700.9 39.9 700.8 40.3 700.8 40.7 700.8 41.1 700.8 41.6 700.8 42 700.8 42.4 700.8 42.8 700.8 43.2 700.8 43.6 700.8 44 700.8 44.5 700.8 44.9 700.8 45.3 700.8 45.7 700.8 46.1 700.8 46.5 700.8 47 700.8 47.4 700.8 47.8 700.8 48.2 700.8M23.7 718.3 24.1 718.3 24.5 718.3 24.9 718.3 25.4 718.3 25.8 718.3 26.2 718.3 26.6 718.3 27 718.3 27.4 718.3 27.9 718.3 28.3 718.3 28.7 718.3 29.1 718.3 29.5 718.3 29.9 718.3 30.3 718.3 30.8 718.3 31.2 718.3 31.6 718.3 32 718.3 32.4 718.3 32.8 718.3 33.3 718.3 33.7 718.4 34.1 718.4 34.5 718.4 34.9 718.5 35.3 718.5 35.7 718.6 36.2 718.6 36.6 718.6 37 718.6 37.4 718.5 37.8 718.5 38.2 718.4 38.6 718.4 39.1 718.4 39.5 718.3 39.9 718.3 40.3 718.3 40.7 718.3 41.1 718.3 41.6 718.3 42 718.3 42.4 718.3 42.8 718.3 43.2 718.3 43.6 718.3 44 718.3 44.5 718.3 44.9 718.3 45.3 718.3 45.7 718.3 46.1 718.3 46.5 718.3 47 718.3 47.4 718.3 47.8 718.3 48.2 718.3M23.7 735.8 24.1 735.8 24.5 735.8 24.9 735.8 25.4 735.8 25.8 735.8 26.2 735.8 26.6 735.8 27 735.8 27.4 735.8 27.9 735.8 28.3 735.8 28.7 735.8 29.1 735.8 29.5 735.8 29.9 735.8 30.3 735.8 30.8 735.8 31.2 735.8 31.6 735.8 32 735.8 32.4 735.8 32.8 735.8 33.3 735.8 33.7 735.8 34.1 735.8 34.5 735.9 34.9 735.9 35.3 735.9 35.7 735.9 36.2 736 36.6 736 37 736 37.4 735.9 37.8 735.9 38.2 735.9 38.6 735.8 39.1 735.8 39.5 735.8 39.9 735.8 40.3 735.8 40.7 735.8 41.1 735.8 41.6 735.8 42 735.8 42.4 735.8 42.8 735.8 43.2 735.8 43.6 735.8 44 735.8 44.5 735.8 44.9 735.8 45.3 735.8 45.7 735.8 46.1 735.8 46.5 735.8 47 735.8 47.4 735.8 47.8 735.8 48.2 735.8M23.7 753.2 24.1 753.2 24.5 753.2 24.9 753.2 25.4 753.2 25.8 753.2 26.2 753.2 26.6 753.2 27 753.2 27.4 753.2 27.9 753.2 28.3 753.2 28.7 753.2 29.1 753.2 29.5 753.2 29.9 753.2 30.3 753.2 30.8 753.2 31.2 753.2 31.6 753.2 32 753.2 32.4 753.2 32.8 753.3 33.3 753.3 33.7 753.3 34.1 753.3 34.5 753.3 34.9 753.4 35.3 753.4 35.7 753.4 36.2 753.4 36.6 753.4 37 753.4 37.4 753.4 37.8 753.4 38.2 753.3 38.6 753.3 39.1 753.3 39.5 753.3 39.9 753.3 40.3 753.2 40.7 753.2 41.1 753.2 41.6 753.2 42 753.2 42.4 753.2 42.8 753.2 43.2 753.2 43.6 753.2 44 753.2 44.5 753.2 44.9 753.2 45.3 753.2 45.7 753.2 46.1 753.2 46.5 753.2 47 753.2 47.4 753.2 47.8 753.2 48.2 753.2M23.7 770.7 24.1 770.7 24.5 770.7 24.9 770.7 25.4 770.7 25.8 770.7 26.2 770.7 26.6 770.7 27 770.7 27.4 770.7 27.9 770.7 28.3 770.7 28.7 770.7 29.1 770.7 29.5 770.7 29.9 770.7 30.3 770.7 30.8 770.7 31.2 770.7 31.6 770.7 32 770.7 32.4 770.7 32.8 770.7 33.3 770.7 33.7 770.8 34.1 770.8 34.5 770.8 34.9 770.9 35.3 770.9 35.7 771 36.2 771 36.6 771 37 771 37.4 771 37.8 770.9 38.2 770.9 38.6 770.8 39.1 770.8 39.5 770.7 39.9 770.7 40.3 770.7 40.7 770.7 41.1 770.7 41.6 770.7 42 770.7 42.4 770.7 42.8 770.7 43.2 770.7 43.6 770.7 44 770.7 44.5 770.7 44.9 770.7 45.3 770.7 45.7 770.7 46.1 770.7 46.5 770.7 47 770.7 47.4 770.7 47.8 770.7 48.2 770.7M23.7 788.2 24.1 788.2 24.5 788.2 24.9 788.2 25.4 788.2 25.8 788.2 26.2 788.2 26.6 788.2 27 788.2 27.4 788.2 27.9 788.2 28.3 788.2 28.7 788.2 29.1 788.2 29.5 788.2 29.9 788.2 30.3 788.2 30.8 788.2 31.2 788.2 31.6 788.2 32 788.2 32.4 788.2 32.8 788.2 33.3 788.2 33.7 788.2 34.1 788.2 34.5 788.3 34.9 788.3 35.3 788.3 35.7 788.4 36.2 788.4 36.6 788.4 37 788.4 37.4 788.3 37.8 788.3 38.2 788.3 38.6 788.2 39.1 788.2 39.5 788.2 39.9 788.2 40.3 788.2 40.7 788.2 41.1 788.2 41.6 788.2 42 788.2 42.4 788.2 42.8 788.2 43.2 788.2 43.6 788.2 44 788.2 44.5 788.2 44.9 788.2 45.3 788.2 45.7 788.2 46.1 788.2 46.5 788.2 47 788.2 47.4 788.2 47.8 788.2 48.2 788.2M23.7 805.6 24.1 805.6 24.5 805.6 24.9 805.6 25.4 805.7 25.8 805.7 26.2 805.7 26.6 805.7 27 805.7 27.4 805.7 27.9 805.7 28.3 805.7 28.7 805.7 29.1 805.7 29.5 805.7 29.9 805.7 30.3 805.7 30.8 805.7 31.2 805.7 31.6 805.7 32 805.7 32.4 805.7 32.8 805.7 33.3 805.7 33.7 805.7 34.1 805.7 34.5 805.7 34.9 805.8 35.3 805.8 35.7 805.8 36.2 805.8 36.6 805.8 37 805.8 37.4 805.8 37.8 805.8 38.2 805.7 38.6 805.7 39.1 805.7 39.5 805.7 39.9 805.7 40.3 805.7 40.7 805.7 41.1 805.7 41.6 805.7 42 805.7 42.4 805.7 42.8 805.7 43.2 805.7 43.6 805.7 44 805.7 44.5 805.7 44.9 805.7 45.3 805.7 45.7 805.7 46.1 805.7 46.5 805.7 47 805.7 47.4 805.7 47.8 805.6 48.2 805.6M23.7 823.1 24.1 823.1 24.5 823.1 24.9 823.1 25.4 823.1 25.8 823.1 26.2 823.1 26.6 823.1 27 823.1 27.4 823.1 27.9 823.1 28.3 823.1 28.7 823.1 29.1 823.1 29.5 823.1 29.9 823.1 30.3 823.1 30.8 823.1 31.2 823.1 31.6 823.1 32 823.1 32.4 823.1 32.8 823.1 33.3 823.1 33.7 823.2 34.1 823.2 34.5 823.2 34.9 823.2 35.3 823.3 35.7 823.3 36.2 823.3 36.6 823.3 37 823.3 37.4 823.3 37.8 823.2 38.2 823.2 38.6 823.2 39.1 823.2 39.5 823.1 39.9 823.1 40.3 823.1 40.7 823.1 41.1 823.1 41.6 823.1 42 823.1 42.4 823.1 42.8 823.1 43.2 823.1 43.6 823.1 44 823.1 44.5 823.1 44.9 823.1 45.3 823.1 45.7 823.1 46.1 823.1 46.5 823.1 47 823.1 47.4 823.1 47.8 823.1 48.2 823.1M23.7 840.6 24.1 840.6 24.5 840.6 24.9 840.6 25.4 840.6 25.8 840.6 26.2 840.6 26.6 840.6 27 840.6 27.4 840.6 27.9 840.6 28.3 840.6 28.7 840.6 29.1 840.6 29.5 840.6 29.9 840.6 30.3 840.6 30.8 840.6 31.2 840.6 31.6 840.6 32 840.6 32.4 840.6 32.8 840.6 33.3 840.6 33.7 840.6 34.1 840.6 34.5 840.7 34.9 840.7 35.3 840.7 35.7 840.8 36.2 840.8 36.6 840.8 37 840.8 37.4 840.8 37.8 840.7 38.2 840.7 38.6 840.7 39.1 840.6 39.5 840.6 39.9 840.6 40.3 840.6 40.7 840.6 41.1 840.6 41.6 840.6 42 840.6 42.4 840.6 42.8 840.6 43.2 840.6 43.6 840.6 44 840.6 44.5 840.6 44.9 840.6 45.3 840.6 45.7 840.6 46.1 840.6 46.5 840.6 47 840.6 47.4 840.6 47.8 840.6 48.2 840.6M23.7 858.1 24.1 858.1 24.5 858.1 24.9 858.1 25.4 858.1 25.8 858.1 26.2 858.1 26.6 858.1 27 858.1 27.4 858.1 27.9 858.1 28.3 858.1 28.7 858.1 29.1 858.1 29.5 858.1 29.9 858.1 30.3 858.1 30.8 858.1 31.2 858.1 31.6 858.1 32 858.1 32.4 858.1 32.8 858.1 33.3 858.1 33.7 858.1 34.1 858.1 34.5 858.1 34.9 858.2 35.3 858.2 35.7 858.2 36.2 858.3 36.6 858.3 37 858.2 37.4 858.2 37.8 858.2 38.2 858.2 38.6 858.1 39.1 858.1 39.5 858.1 39.9 858.1 40.3 858.1 40.7 858.1 41.1 858.1 41.6 858.1 42 858.1 42.4 858.1 42.8 858.1 43.2 858.1 43.6 858.1 44 858.1 44.5 858.1 44.9 858.1 45.3 858.1 45.7 858.1 46.1 858.1 46.5 858.1 47 858.1 47.4 858.1 47.8 858.1 48.2 858.1M23.7 875.5 24.1 875.5 24.5 875.5 24.9 875.5 25.4 875.5 25.8 875.5 26.2 875.5 26.6 875.5 27 875.5 27.4 875.5 27.9 875.5 28.3 875.5 28.7 875.5 29.1 875.5 29.5 875.5 29.9 875.5 30.3 875.5 30.8 875.5 31.2 875.5 31.6 875.5 32 875.5 32.4 875.5 32.8 875.5 33.3 875.5 33.7 875.6 34.1 875.6 34.5 875.6 34.9 875.6 35.3 875.7 35.7 875.7 36.2 875.7 36.6 875.7 37 875.7 37.4 875.7 37.8 875.7 38.2 875.6 38.6 875.6 39.1 875.6 39.5 875.6 39.9 875.5 40.3 875.5 40.7 875.5 41.1 875.5 41.6 875.5 42 875.5 42.4 875.5 42.8 875.5 43.2 875.5 43.6 875.5 44 875.5 44.5 875.5 44.9 875.5 45.3 875.5 45.7 875.5 46.1 875.5 46.5 875.5 47 875.5 47.4 875.5 47.8 875.5 48.2 875.5" fill="none" stroke="#2a3cb0" stroke-width="1.3" stroke-linejoin="round"/>
<path d="M53.4 543.6 53.8 543.6 54.2 543.6 54.7 543.6 55.1 543.6 55.5 543.6 55.9 543.6 56.3 543.6 56.7 543.6 57.2 543.6 57.6 543.6 58 543.6 58.4 543.6 58.8 543.6 59.2 543.6 59.7 543.6 60.1 543.6 60.5 543.6 60.9 543.6 61.3 543.6 61.7 543.6 62.2 543.6 62.6 543.7 63 543.7 63.4 543.8 63.8 543.9 64.2 544.1 64.7 544.3 65.1 544.5 65.5 544.7 65.9 544.8 66.3 544.8 66.7 544.7 67.2 544.6 67.6 544.4 68 544.2 68.4 544 68.8 543.8 69.2 543.7 69.7 543.7 70.1 543.6 70.5 543.6 70.9 543.6 71.3 543.6 71.7 543.6 72.2 543.6 72.6 543.6 73 543.6 73.4 543.6 73.8 543.6 74.2 543.6 74.7 543.6 75.1 543.6 75.5 543.6 75.9 543.6 76.3 543.6 76.7 543.6 77.2 543.6 77.6 543.6 78 543.6M53.4 561.1 53.8 561.1 54.2 561.1 54.7 561.1 55.1 561.1 55.5 561.1 55.9 561.1 56.3 561.1 56.7 561.1 57.2 561.1 57.6 561.1 58 561.1 58.4 561.1 58.8 561.1 59.2 561.1 59.7 561.1 60.1 561.1 60.5 561.1 60.9 561.1 61.3 561.1 61.7 561.1 62.2 561.1 62.6 561.1 63 561.1 63.4 561.2 63.8 561.3 64.2 561.4 64.7 561.5 65.1 561.7 65.5 561.8 65.9 561.9 66.3 561.9 66.7 561.8 67.2 561.7 67.6 561.6 68 561.5 68.4 561.3 68.8 561.2 69.2 561.2 69.7 561.1 70.1 561.1 70.5 561.1 70.9 561.1 71.3 561.1 71.7 561.1 72.2 561.1 72.6 561.1 73 561.1 73.4 561.1 73.8 561.1 74.2 561.1 74.7 561.1 75.1 561.1 75.5 561.1 75.9 561.1 76.3 561.1 76.7 561.1 77.2 561.1 77.6 561.1 78 561.1M53.4 578.5 53.8 578.5 54.2 578.5 54.7 578.5 55.1 578.5 55.5 578.5 55.9 578.5 56.3 578.5 56.7 578.5 57.2 578.5 57.6 578.5 58 578.5 58.4 578.5 58.8 578.5 59.2 578.5 59.7 578.5 60.1 578.5 60.5 578.5 60.9 578.5 61.3 578.5 61.7 578.6 62.2 578.6 62.6 578.6 63 578.6 63.4 578.7 63.8 578.8 64.2 579 64.7 579.1 65.1 579.3 65.5 579.4 65.9 579.5 66.3 579.5 66.7 579.5 67.2 579.3 67.6 579.2 68 579 68.4 578.9 68.8 578.7 69.2 578.7 69.7 578.6 70.1 578.6 70.5 578.6 70.9 578.5 71.3 578.5 71.7 578.5 72.2 578.5 72.6 578.5 73 578.5 73.4 578.5 73.8 578.5 74.2 578.5 74.7 578.5 75.1 578.5 75.5 578.5 75.9 578.5 76.3 578.5 76.7 578.5 77.2 578.5 77.6 578.5 78 578.5M53.4 596 53.8 596 54.2 596 54.7 596 55.1 596 55.5 596 55.9 596 56.3 596 56.7 596 57.2 596 57.6 596 58 596 58.4 596 58.8 596 59.2 596 59.7 596 60.1 596 60.5 596 60.9 596 61.3 596 61.7 596 62.2 596 62.6 596 63 596 63.4 596.1 63.8 596.1 64.2 596.1 64.7 596.2 65.1 596.2 65.5 596.3 65.9 596.3 66.3 596.3 66.7 596.3 67.2 596.3 67.6 596.2 68 596.2 68.4 596.1 68.8 596.1 69.2 596 69.7 596 70.1 596 70.5 596 70.9 596 71.3 596 71.7 596 72.2 596 72.6 596 73 596 73.4 596 73.8 596 74.2 596 74.7 596 75.1 596 75.5 596 75.9 596 76.3 596 76.7 596 77.2 596 77.6 596 78 596M53.4 613.5 53.8 613.5 54.2 613.5 54.7 613.5 55.1 613.5 55.5 613.5 55.9 613.5 56.3 613.5 56.7 613.5 57.2 613.5 57.6 613.5 58 613.5 58.4 613.5 58.8 613.5 59.2 613.5 59.7 613.5 60.1 613.5 60.5 613.5 60.9 613.5 61.3 613.5 61.7 613.5 62.2 613.5 62.6 613.5 63 613.4 63.4 613.4 63.8 613.3 64.2 613.3 64.7 613.2 65.1 613.1 65.5 613 65.9 613 66.3 613 66.7 613 67.2 613.1 67.6 613.2 68 613.2 68.4 613.3 68.8 613.4 69.2 613.4 69.7 613.4 70.1 613.5 70.5 613.5 70.9 613.5 71.3 613.5 71.7 613.5 72.2 613.5 72.6 613.5 73 613.5 73.4 613.5 73.8 613.5 74.2 613.5 74.7 613.5 75.1 613.5 75.5 613.5 75.9 613.5 76.3 613.5 76.7 613.5 77.2 613.5 77.6 613.5 78 613.5M53.4 631 53.8 631 54.2 631 54.7 631 55.1 631 55.5 631 55.9 631 56.3 631 56.7 631 57.2 631 57.6 631 58 631 58.4 631 58.8 631 59.2 631 59.7 631 60.1 631 60.5 631 60.9 631 61.3 631 61.7 631 62.2 631 62.6 631 63 631 63.4 631.1 63.8 631.2 64.2 631.3 64.7 631.4 65.1 631.6 65.5 631.7 65.9 631.7 66.3 631.7 66.7 631.7 67.2 631.6 67.6 631.5 68 631.3 68.4 631.2 68.8 631.1 69.2 631 69.7 631 70.1 631 70.5 631 70.9 631 71.3 631 71.7 631 72.2 631 72.6 631 73 631 73.4 631 73.8 631 74.2 631 74.7 631 75.1 631 75.5 631 75.9 631 76.3 631 76.7 631 77.2 631 77.6 631 78 631M53.4 648.4 53.8 648.4 54.2 648.4 54.7 648.4 55.1 648.4 55.5 648.4 55.9 648.4 56.3 648.4 56.7 648.4 57.2 648.4 57.6 648.4 58 648.4 58.4 648.4 58.8 648.4 59.2 648.4 59.7 648.4 60.1 648.4 60.5 648.4 60.9 648.4 61.3 648.4 61.7 648.4 62.2 648.4 62.6 648.4 63 648.4 63.4 648.5 63.8 648.5 64.2 648.5 64.7 648.6 65.1 648.6 65.5 648.7 65.9 648.7 66.3 648.7 66.7 648.7 67.2 648.7 67.6 648.6 68 648.6 68.4 648.5 68.8 648.5 69.2 648.5 69.7 648.4 70.1 648.4 70.5 648.4 70.9 648.4 71.3 648.4 71.7 648.4 72.2 648.4 72.6 648.4 73 648.4 73.4 648.4 73.8 648.4 74.2 648.4 74.7 648.4 75.1 648.4 75.5 648.4 75.9 648.4 76.3 648.4 76.7 648.4 77.2 648.4 77.6 648.4 78 648.4M53.4 665.9 53.8 665.9 54.2 665.9 54.7 665.9 55.1 665.9 55.5 665.9 55.9 665.9 56.3 665.9 56.7 665.9 57.2 665.9 57.6 665.9 58 665.9 58.4 665.9 58.8 665.9 59.2 665.9 59.7 665.9 60.1 665.9 60.5 665.9 60.9 665.9 61.3 665.9 61.7 665.9 62.2 665.9 62.6 665.9 63 665.9 63.4 665.9 63.8 666 64.2 666 64.7 666.1 65.1 666.1 65.5 666.2 65.9 666.2 66.3 666.2 66.7 666.2 67.2 666.1 67.6 666.1 68 666 68.4 666 68.8 666 69.2 665.9 69.7 665.9 70.1 665.9 70.5 665.9 70.9 665.9 71.3 665.9 71.7 665.9 72.2 665.9 72.6 665.9 73 665.9 73.4 665.9 73.8 665.9 74.2 665.9 74.7 665.9 75.1 665.9 75.5 665.9 75.9 665.9 76.3 665.9 76.7 665.9 77.2 665.9 77.6 665.9 78 665.9M53.4 683.4 53.8 683.4 54.2 683.4 54.7 683.4 55.1 683.4 55.5 683.4 55.9 683.4 56.3 683.4 56.7 683.4 57.2 683.4 57.6 683.4 58 683.4 58.4 683.4 58.8 683.4 59.2 683.4 59.7 683.4 60.1 683.4 60.5 683.4 60.9 683.4 61.3 683.4 61.7 683.4 62.2 683.4 62.6 683.4 63 683.4 63.4 683.4 63.8 683.4 64.2 683.4 64.7 683.5 65.1 683.5 65.5 683.5 65.9 683.6 66.3 683.6 66.7 683.5 67.2 683.5 67.6 683.5 68 683.5 68.4 683.4 68.8 683.4 69.2 683.4 69.7 683.4 70.1 683.4 70.5 683.4 70.9 683.4 71.3 683.4 71.7 683.4 72.2 683.4 72.6 683.4 73 683.4 73.4 683.4 73.8 683.4 74.2 683.4 74.7 683.4 75.1 683.4 75.5 683.4 75.9 683.4 76.3 683.4 76.7 683.4 77.2 683.4 77.6 683.4 78 683.4M53.4 700.8 53.8 700.8 54.2 700.8 54.7 700.8 55.1 700.8 55.5 700.8 55.9 700.8 56.3 700.8 56.7 700.8 57.2 700.8 57.6 700.8 58 700.8 58.4 700.8 58.8 700.8 59.2 700.8 59.7 700.8 60.1 700.8 60.5 700.8 60.9 700.8 61.3 700.8 61.7 700.8 62.2 700.8 62.6 700.8 63 700.9 63.4 700.9 63.8 700.9 64.2 701 64.7 701 65.1 701.1 65.5 701.1 65.9 701.1 66.3 701.1 66.7 701.1 67.2 701.1 67.6 701 68 701 68.4 700.9 68.8 700.9 69.2 700.9 69.7 700.8 70.1 700.8 70.5 700.8 70.9 700.8 71.3 700.8 71.7 700.8 72.2 700.8 72.6 700.8 73 700.8 73.4 700.8 73.8 700.8 74.2 700.8 74.7 700.8 75.1 700.8 75.5 700.8 75.9 700.8 76.3 700.8 76.7 700.8 77.2 700.8 77.6 700.8 78 700.8M53.4 718.3 53.8 718.3 54.2 718.3 54.7 718.3 55.1 718.3 55.5 718.3 55.9 718.3 56.3 718.3 56.7 718.3 57.2 718.3 57.6 718.3 58 718.3 58.4 718.3 58.8 718.3 59.2 718.3 59.7 718.3 60.1 718.3 60.5 718.3 60.9 718.3 61.3 718.3 61.7 718.3 62.2 718.3 62.6 718.3 63 718.3 63.4 718.3 63.8 718.4 64.2 718.4 64.7 718.4 65.1 718.5 65.5 718.5 65.9 718.5 66.3 718.5 66.7 718.5 67.2 718.5 67.6 718.4 68 718.4 68.4 718.4 68.8 718.3 69.2 718.3 69.7 718.3 70.1 718.3 70.5 718.3 70.9 718.3 71.3 718.3 71.7 718.3 72.2 718.3 72.6 718.3 73 718.3 73.4 718.3 73.8 718.3 74.2 718.3 74.7 718.3 75.1 718.3 75.5 718.3 75.9 718.3 76.3 718.3 76.7 718.3 77.2 718.3 77.6 718.3 78 718.3M53.4 735.8 53.8 735.8 54.2 735.8 54.7 735.8 55.1 735.8 55.5 735.8 55.9 735.8 56.3 735.8 56.7 735.8 57.2 735.8 57.6 735.8 58 735.8 58.4 735.8 58.8 735.8 59.2 735.8 59.7 735.8 60.1 735.8 60.5 735.8 60.9 735.8 61.3 735.8 61.7 735.8 62.2 735.8 62.6 735.8 63 735.8 63.4 735.8 63.8 735.8 64.2 735.9 64.7 735.9 65.1 735.9 65.5 735.9 65.9 736 66.3 736 66.7 736 67.2 735.9 67.6 735.9 68 735.9 68.4 735.8 68.8 735.8 69.2 735.8 69.7 735.8 70.1 735.8 70.5 735.8 70.9 735.8 71.3 735.8 71.7 735.8 72.2 735.8 72.6 735.8 73 735.8 73.4 735.8 73.8 735.8 74.2 735.8 74.7 735.8 75.1 735.8 75.5 735.8 75.9 735.8 76.3 735.8 76.7 735.8 77.2 735.8 77.6 735.8 78 735.8M53.4 753.2 53.8 753.2 54.2 753.2 54.7 753.2 55.1 753.2 55.5 753.2 55.9 753.2 56.3 753.2 56.7 753.2 57.2 753.2 57.6 753.2 58 753.2 58.4 753.2 58.8 753.2 59.2 753.2 59.7 753.2 60.1 753.2 60.5 753.2 60.9 753.2 61.3 753.2 61.7 753.2 62.2 753.2 62.6 753.3 63 753.3 63.4 753.3 63.8 753.3 64.2 753.3 64.7 753.4 65.1 753.4 65.5 753.4 65.9 753.4 66.3 753.4 66.7 753.4 67.2 753.4 67.6 753.4 68 753.3 68.4 753.3 68.8 753.3 69.2 753.3 69.7 753.3 70.1 753.2 70.5 753.2 70.9 753.2 71.3 753.2 71.7 753.2 72.2 753.2 72.6 753.2 73 753.2 73.4 753.2 73.8 753.2 74.2 753.2 74.7 753.2 75.1 753.2 75.5 753.2 75.9 753.2 76.3 753.2 76.7 753.2 77.2 753.2 77.6 753.2 78 753.2M53.4 770.7 53.8 770.7 54.2 770.7 54.7 770.7 55.1 770.7 55.5 770.7 55.9 770.7 56.3 770.7 56.7 770.7 57.2 770.7 57.6 770.7 58 770.7 58.4 770.7 58.8 770.6 59.2 770.5 59.7 770.2 60.1 769.9 60.5 769.3 60.9 768.7 61.3 768.2 61.7 767.8 62.2 767.9 62.6 768.3 63 769.1 63.4 770.2 63.8 771.4 64.2 772.7 64.7 774 65.1 775.2 65.5 776.2 65.9 776.8 66.3 776.9 66.7 776.5 67.2 775.7 67.6 774.7 68 773.6 68.4 772.6 68.8 771.8 69.2 771.2 69.7 770.7 70.1 770.2 70.5 769.9 70.9 769.7 71.3 769.5 71.7 769.5 72.2 769.6 72.6 769.8 73 770 73.4 770.2 73.8 770.4 74.2 770.5 74.7 770.6 75.1 770.7 75.5 770.7 75.9 770.7 76.3 770.7 76.7 770.7 77.2 770.7 77.6 770.7 78 770.7M53.4 788.2 53.8 788.2 54.2 788.2 54.7 788.2 55.1 788.2 55.5 788.2 55.9 788.2 56.3 788.2 56.7 788.2 57.2 788.2 57.6 788.2 58 788.2 58.4 788.2 58.8 788.2 59.2 788.2 59.7 788.2 60.1 788.2 60.5 788.2 60.9 788.2 61.3 788.2 61.7 788.2 62.2 788.2 62.6 788.2 63 788.2 63.4 788.2 63.8 788.2 64.2 788.3 64.7 788.3 65.1 788.3 65.5 788.4 65.9 788.4 66.3 788.4 66.7 788.4 67.2 788.3 67.6 788.3 68 788.3 68.4 788.2 68.8 788.2 69.2 788.2 69.7 788.2 70.1 788.2 70.5 788.2 70.9 788.2 71.3 788.2 71.7 788.2 72.2 788.2 72.6 788.2 73 788.2 73.4 788.2 73.8 788.2 74.2 788.2 74.7 788.2 75.1 788.2 75.5 788.2 75.9 788.2 76.3 788.2 76.7 788.2 77.2 788.2 77.6 788.2 78 788.2M53.4 805.6 53.8 805.6 54.2 805.6 54.7 805.6 55.1 805.7 55.5 805.7 55.9 805.7 56.3 805.7 56.7 805.7 57.2 805.7 57.6 805.7 58 805.7 58.4 805.7 58.8 805.7 59.2 805.7 59.7 805.7 60.1 805.7 60.5 805.7 60.9 805.7 61.3 805.7 61.7 805.7 62.2 805.7 62.6 805.7 63 805.7 63.4 805.7 63.8 805.7 64.2 805.7 64.7 805.8 65.1 805.8 65.5 805.8 65.9 805.8 66.3 805.8 66.7 805.8 67.2 805.8 67.6 805.8 68 805.7 68.4 805.7 68.8 805.7 69.2 805.7 69.7 805.7 70.1 805.7 70.5 805.7 70.9 805.7 71.3 805.7 71.7 805.7 72.2 805.7 72.6 805.7 73 805.7 73.4 805.7 73.8 805.7 74.2 805.7 74.7 805.7 75.1 805.7 75.5 805.7 75.9 805.7 76.3 805.7 76.7 805.7 77.2 805.7 77.6 805.6 78 805.6M53.4 823.1 53.8 823.1 54.2 823.1 54.7 823.1 55.1 823.1 55.5 823.1 55.9 823.1 56.3 823.1 56.7 823.1 57.2 823.1 57.6 823.1 58 823.1 58.4 823.1 58.8 823.1 59.2 823.1 59.7 823.1 60.1 823.1 60.5 823.1 60.9 823.1 61.3 823.1 61.7 823.1 62.2 823.1 62.6 823.1 63 823.1 63.4 823.2 63.8 823.2 64.2 823.2 64.7 823.2 65.1 823.3 65.5 823.3 65.9 823.3 66.3 823.3 66.7 823.3 67.2 823.3 67.6 823.2 68 823.2 68.4 823.2 68.8 823.2 69.2 823.1 69.7 823.1 70.1 823.1 70.5 823.1 70.9 823.1 71.3 823.1 71.7 823.1 72.2 823.1 72.6 823.1 73 823.1 73.4 823.1 73.8 823.1 74.2 823.1 74.7 823.1 75.1 823.1 75.5 823.1 75.9 823.1 76.3 823.1 76.7 823.1 77.2 823.1 77.6 823.1 78 823.1M53.4 840.6 53.8 840.6 54.2 840.6 54.7 840.6 55.1 840.6 55.5 840.6 55.9 840.6 56.3 840.6 56.7 840.6 57.2 840.6 57.6 840.6 58 840.6 58.4 840.6 58.8 840.6 59.2 840.6 59.7 840.6 60.1 840.6 60.5 840.6 60.9 840.6 61.3 840.6 61.7 840.6 62.2 840.6 62.6 840.6 63 840.6 63.4 840.6 63.8 840.6 64.2 840.7 64.7 840.7 65.1 840.7 65.5 840.8 65.9 840.8 66.3 840.8 66.7 840.8 67.2 840.8 67.6 840.7 68 840.7 68.4 840.7 68.8 840.6 69.2 840.6 69.7 840.6 70.1 840.6 70.5 840.6 70.9 840.6 71.3 840.6 71.7 840.6 72.2 840.6 72.6 840.6 73 840.6 73.4 840.6 73.8 840.6 74.2 840.6 74.7 840.6 75.1 840.6 75.5 840.6 75.9 840.6 76.3 840.6 76.7 840.6 77.2 840.6 77.6 840.6 78 840.6M53.4 858.1 53.8 858.1 54.2 858.1 54.7 858.1 55.1 858.1 55.5 858.1 55.9 858.1 56.3 858.1 56.7 858.1 57.2 858.1 57.6 858.1 58 858.1 58.4 858.1 58.8 858.1 59.2 858.1 59.7 858.1 60.1 858.1 60.5 858.1 60.9 858.1 61.3 858.1 61.7 858.1 62.2 858.1 62.6 858.1 63 858.1 63.4 858.1 63.8 858.1 64.2 858.1 64.7 858.2 65.1 858.2 65.5 858.2 65.9 858.3 66.3 858.3 66.7 858.2 67.2 858.2 67.6 858.2 68 858.2 68.4 858.1 68.8 858.1 69.2 858.1 69.7 858.1 70.1 858.1 70.5 858.1 70.9 858.1 71.3 858.1 71.7 858.1 72.2 858.1 72.6 858.1 73 858.1 73.4 858.1 73.8 858.1 74.2 858.1 74.7 858.1 75.1 858.1 75.5 858.1 75.9 858.1 76.3 858.1 76.7 858.1 77.2 858.1 77.6 858.1 78 858.1M53.4 875.5 53.8 875.5 54.2 875.5 54.7 875.5 55.1 875.5 55.5 875.5 55.9 875.5 56.3 875.5 56.7 875.5 57.2 875.5 57.6 875.5 58 875.5 58.4 875.5 58.8 875.5 59.2 875.5 59.7 875.5 60.1 875.5 60.5 875.5 60.9 875.5 61.3 875.5 61.7 875.5 62.2 875.5 62.6 875.5 63 875.5 63.4 875.6 63.8 875.6 64.2 875.6 64.7 875.6 65.1 875.7 65.5 875.7 65.9 875.7 66.3 875.7 66.7 875.7 67.2 875.7 67.6 875.7 68 875.6 68.4 875.6 68.8 875.6 69.2 875.6 69.7 875.5 70.1 875.5 70.5 875.5 70.9 875.5 71.3 875.5 71.7 875.5 72.2 875.5 72.6 875.5 73 875.5 73.4 875.5 73.8 875.5 74.2 875.5 74.7 875.5 75.1 875.5 75.5 875.5 75.9 875.5 76.3 875.5 76.7 875.5 77.2 875.5 77.6 875.5 78 875.5" fill="none" stroke="#ee2a2a" stroke-width="1.3" stroke-linejoin="round"/>
<path d="M83.2 543.6 83.6 543.6 84 543.6 84.4 543.6 84.9 543.6 85.3 543.6 85.7 543.6 86.1 543.6 86.5 543.6 86.9 543.6 87.4 543.6 87.8 543.6 88.2 543.6 88.6 543.5 89 543.3 89.4 543.1 89.8 542.6 90.3 542 90.7 541.3 91.1 540.7 91.5 540.3 91.9 540.4 92.3 541 92.8 542.1 93.2 543.6 93.6 545.4 94 547.3 94.4 549.4 94.8 551.3 95.2 552.9 95.7 553.9 96.1 554 96.5 553.4 96.9 552.1 97.3 550.4 97.7 548.6 98.1 546.9 98.6 545.6 99 544.5 99.4 543.7 99.8 543.2 100.2 542.7 100.6 542.4 101.1 542.3 101.5 542.2 101.9 542.3 102.3 542.5 102.7 542.8 103.1 543 103.5 543.2 104 543.4 104.4 543.5 104.8 543.5 105.2 543.6 105.6 543.6 106 543.6 106.5 543.6 106.9 543.6 107.3 543.6 107.7 543.6M83.2 561.1 83.6 561.1 84 561.1 84.4 561.1 84.9 561.1 85.3 561.1 85.7 561.1 86.1 561.1 86.5 561.1 86.9 561.1 87.4 561.1 87.8 561.1 88.2 561 88.6 560.9 89 560.8 89.4 560.5 89.8 559.9 90.3 559.2 90.7 558.4 91.1 557.7 91.5 557.3 91.9 557.4 92.3 558 92.8 559.2 93.2 560.8 93.6 562.7 94 564.7 94.4 566.8 94.8 568.8 95.2 570.4 95.7 571.4 96.1 571.5 96.5 570.9 96.9 569.5 97.3 567.8 97.7 566 98.1 564.4 98.6 563 99 561.9 99.4 561.1 99.8 560.5 100.2 560.1 100.6 559.7 101.1 559.5 101.5 559.5 101.9 559.6 102.3 559.8 102.7 560.1 103.1 560.4 103.5 560.6 104 560.8 104.4 560.9 104.8 561 105.2 561 105.6 561.1 106 561.1 106.5 561.1 106.9 561.1 107.3 561.1 107.7 561.1M83.2 578.5 83.6 578.5 84 578.5 84.4 578.5 84.9 578.5 85.3 578.5 85.7 578.5 86.1 578.5 86.5 578.5 86.9 578.5 87.4 578.5 87.8 578.5 88.2 578.5 88.6 578.5 89 578.4 89.4 578.2 89.8 578 90.3 577.6 90.7 577.2 91.1 576.9 91.5 576.7 91.9 576.7 92.3 577.1 92.8 577.7 93.2 578.6 93.6 579.7 94 580.9 94.4 582.1 94.8 583.3 95.2 584.3 95.7 584.9 96.1 585 96.5 584.6 96.9 583.8 97.3 582.7 97.7 581.6 98.1 580.6 98.6 579.8 99 579.1 99.4 578.7 99.8 578.3 100.2 578.1 100.6 577.9 101.1 577.8 101.5 577.7 101.9 577.8 102.3 577.9 102.7 578.1 103.1 578.2 103.5 578.3 104 578.4 104.4 578.5 104.8 578.5 105.2 578.5 105.6 578.5 106 578.5 106.5 578.5 106.9 578.5 107.3 578.5 107.7 578.5M83.2 596 83.6 596 84 596 84.4 596 84.9 596 85.3 596 85.7 596 86.1 596 86.5 596 86.9 596 87.4 596 87.8 596 88.2 596 88.6 596 89 596 89.4 596 89.8 596 90.3 596 90.7 596 91.1 596 91.5 596 91.9 596 92.3 596 92.8 596 93.2 596.1 93.6 596.1 94 596.2 94.4 596.2 94.8 596.3 95.2 596.4 95.7 596.4 96.1 596.4 96.5 596.4 96.9 596.3 97.3 596.3 97.7 596.2 98.1 596.1 98.6 596.1 99 596.1 99.4 596 99.8 596 100.2 596 100.6 596 101.1 596 101.5 596 101.9 596 102.3 596 102.7 596 103.1 596 103.5 596 104 596 104.4 596 104.8 596 105.2 596 105.6 596 106 596 106.5 596 106.9 596 107.3 596 107.7 596M83.2 613.5 83.6 613.5 84 613.5 84.4 613.5 84.9 613.5 85.3 613.5 85.7 613.5 86.1 613.5 86.5 613.5 86.9 613.5 87.4 613.5 87.8 613.5 88.2 613.5 88.6 613.5 89 613.5 89.4 613.5 89.8 613.5 90.3 613.5 90.7 613.5 91.1 613.5 91.5 613.5 91.9 613.5 92.3 613.4 92.8 613.4 93.2 613.4 93.6 613.3 94 613.2 94.4 613.1 94.8 613 95.2 612.9 95.7 612.9 96.1 612.9 96.5 612.9 96.9 613 97.3 613.1 97.7 613.2 98.1 613.3 98.6 613.4 99 613.4 99.4 613.4 99.8 613.5 100.2 613.5 100.6 613.5 101.1 613.5 101.5 613.5 101.9 613.5 102.3 613.5 102.7 613.5 103.1 613.5 103.5 613.5 104 613.5 104.4 613.5 104.8 613.5 105.2 613.5 105.6 613.5 106 613.5 106.5 613.5 106.9 613.5 107.3 613.5 107.7 613.5M83.2 630.9 83.6 630.9 84 630.9 84.4 630.9 84.9 630.9 85.3 630.9 85.7 630.9 86.1 630.9 86.5 630.9 86.9 630.9 87.4 630.9 87.8 630.9 88.2 630.9 88.6 630.9 89 630.9 89.4 630.8 89.8 630.6 90.3 630.4 90.7 630.2 91.1 629.9 91.5 629.8 91.9 629.9 92.3 630.1 92.8 630.5 93.2 631.1 93.6 631.8 94 632.6 94.4 633.5 94.8 634.3 95.2 635 95.7 635.4 96.1 635.4 96.5 635.1 96.9 634.6 97.3 633.8 97.7 633.1 98.1 632.4 98.6 631.8 99 631.4 99.4 631.1 99.8 630.8 100.2 630.7 100.6 630.6 101.1 630.5 101.5 630.5 101.9 630.5 102.3 630.6 102.7 630.7 103.1 630.7 103.5 630.8 104 630.9 104.4 630.9 104.8 630.9 105.2 630.9 105.6 630.9 106 630.9 106.5 630.9 106.9 630.9 107.3 630.9 107.7 630.9M83.2 648.4 83.6 648.4 84 648.4 84.4 648.4 84.9 648.4 85.3 648.4 85.7 648.4 86.1 648.4 86.5 648.4 86.9 648.4 87.4 648.4 87.8 648.4 88.2 648.4 88.6 648.4 89 648.3 89.4 648.2 89.8 648.1 90.3 647.9 90.7 647.6 91.1 647.4 91.5 647.3 91.9 647.3 92.3 647.5 92.8 647.9 93.2 648.5 93.6 649.1 94 649.9 94.4 650.6 94.8 651.4 95.2 652 95.7 652.3 96.1 652.4 96.5 652.2 96.9 651.6 97.3 651 97.7 650.3 98.1 649.7 98.6 649.2 99 648.8 99.4 648.5 99.8 648.3 100.2 648.1 100.6 648 101.1 648 101.5 647.9 101.9 648 102.3 648 102.7 648.1 103.1 648.2 103.5 648.3 104 648.3 104.4 648.4 104.8 648.4 105.2 648.4 105.6 648.4 106 648.4 106.5 648.4 106.9 648.4 107.3 648.4 107.7 648.4M83.2 665.9 83.6 665.9 84 665.9 84.4 665.9 84.9 665.9 85.3 665.9 85.7 665.9 86.1 665.9 86.5 665.9 86.9 665.9 87.4 665.9 87.8 665.9 88.2 665.9 88.6 665.9 89 665.9 89.4 665.9 89.8 665.9 90.3 665.9 90.7 665.9 91.1 665.9 91.5 665.9 91.9 665.9 92.3 665.9 92.8 666 93.2 666 93.6 666.1 94 666.2 94.4 666.4 94.8 666.5 95.2 666.6 95.7 666.7 96.1 666.7 96.5 666.6 96.9 666.5 97.3 666.4 97.7 666.3 98.1 666.1 98.6 666.1 99 666 99.4 665.9 99.8 665.9 100.2 665.9 100.6 665.9 101.1 665.9 101.5 665.9 101.9 665.9 102.3 665.9 102.7 665.9 103.1 665.9 103.5 665.9 104 665.9 104.4 665.9 104.8 665.9 105.2 665.9 105.6 665.9 106 665.9 106.5 665.9 106.9 665.9 107.3 665.9 107.7 665.9M83.2 683.4 83.6 683.4 84 683.4 84.4 683.4 84.9 683.4 85.3 683.4 85.7 683.4 86.1 683.4 86.5 683.4 86.9 683.4 87.4 683.4 87.8 683.4 88.2 683.4 88.6 683.4 89 683.4 89.4 683.4 89.8 683.4 90.3 683.4 90.7 683.4 91.1 683.4 91.5 683.4 91.9 683.4 92.3 683.4 92.8 683.4 93.2 683.4 93.6 683.4 94 683.5 94.4 683.5 94.8 683.6 95.2 683.6 95.7 683.7 96.1 683.7 96.5 683.6 96.9 683.6 97.3 683.6 97.7 683.5 98.1 683.5 98.6 683.4 99 683.4 99.4 683.4 99.8 683.4 100.2 683.4 100.6 683.4 101.1 683.4 101.5 683.4 101.9 683.4 102.3 683.4 102.7 683.4 103.1 683.4 103.5 683.4 104 683.4 104.4 683.4 104.8 683.4 105.2 683.4 105.6 683.4 106 683.4 106.5 683.4 106.9 683.4 107.3 683.4 107.7 683.4M83.2 700.8 83.6 700.8 84 700.8 84.4 700.8 84.9 700.8 85.3 700.8 85.7 700.8 86.1 700.8 86.5 700.8 86.9 700.8 87.4 700.8 87.8 700.8 88.2 700.8 88.6 700.8 89 700.8 89.4 700.8 89.8 700.8 90.3 700.8 90.7 700.8 91.1 700.8 91.5 700.8 91.9 700.8 92.3 700.9 92.8 700.9 93.2 700.9 93.6 701 94 701.1 94.4 701.2 94.8 701.3 95.2 701.4 95.7 701.4 96.1 701.4 96.5 701.4 96.9 701.3 97.3 701.2 97.7 701.1 98.1 701 98.6 701 99 700.9 99.4 700.9 99.8 700.8 100.2 700.8 100.6 700.8 101.1 700.8 101.5 700.8 101.9 700.8 102.3 700.8 102.7 700.8 103.1 700.8 103.5 700.8 104 700.8 104.4 700.8 104.8 700.8 105.2 700.8 105.6 700.8 106 700.8 106.5 700.8 106.9 700.8 107.3 700.8 107.7 700.8M83.2 718.3 83.6 718.3 84 718.3 84.4 718.3 84.9 718.3 85.3 718.3 85.7 718.3 86.1 718.3 86.5 718.3 86.9 718.3 87.4 718.3 87.8 718.3 88.2 718.3 88.6 718.3 89 718.3 89.4 718.3 89.8 718.3 90.3 718.3 90.7 718.3 91.1 718.3 91.5 718.3 91.9 718.3 92.3 718.3 92.8 718.4 93.2 718.5 93.6 718.5 94 718.7 94.4 718.8 94.8 719 95.2 719.1 95.7 719.2 96.1 719.2 96.5 719.1 96.9 719 97.3 718.9 97.7 718.7 98.1 718.6 98.6 718.5 99 718.4 99.4 718.4 99.8 718.3 100.2 718.3 100.6 718.3 101.1 718.3 101.5 718.3 101.9 718.3 102.3 718.3 102.7 718.3 103.1 718.3 103.5 718.3 104 718.3 104.4 718.3 104.8 718.3 105.2 718.3 105.6 718.3 106 718.3 106.5 718.3 106.9 718.3 107.3 718.3 107.7 718.3M83.2 735.8 83.6 735.8 84 735.8 84.4 735.8 84.9 735.8 85.3 735.8 85.7 735.8 86.1 735.8 86.5 735.8 86.9 735.8 87.4 735.8 87.8 735.8 88.2 735.8 88.6 735.8 89 735.8 89.4 735.8 89.8 735.8 90.3 735.8 90.7 735.8 91.1 735.8 91.5 735.8 91.9 735.8 92.3 735.8 92.8 735.8 93.2 735.8 93.6 735.8 94 735.9 94.4 735.9 94.8 735.9 95.2 735.9 95.7 736 96.1 736 96.5 736 96.9 735.9 97.3 735.9 97.7 735.9 98.1 735.8 98.6 735.8 99 735.8 99.4 735.8 99.8 735.8 100.2 735.8 100.6 735.8 101.1 735.8 101.5 735.8 101.9 735.8 102.3 735.8 102.7 735.8 103.1 735.8 103.5 735.8 104 735.8 104.4 735.8 104.8 735.8 105.2 735.8 105.6 735.8 106 735.8 106.5 735.8 106.9 735.8 107.3 735.8 107.7 735.8M83.2 753.2 83.6 753.2 84 753.2 84.4 753.2 84.9 753.2 85.3 753.2 85.7 753.2 86.1 753.2 86.5 753.2 86.9 753.2 87.4 753.2 87.8 753.2 88.2 753.2 88.6 753.2 89 753.2 89.4 753.2 89.8 753.2 90.3 753.2 90.7 753.2 91.1 753.2 91.5 753.2 91.9 753.2 92.3 753.3 92.8 753.3 93.2 753.3 93.6 753.3 94 753.3 94.4 753.4 94.8 753.4 95.2 753.4 95.7 753.4 96.1 753.4 96.5 753.4 96.9 753.4 97.3 753.4 97.7 753.3 98.1 753.3 98.6 753.3 99 753.3 99.4 753.3 99.8 753.2 100.2 753.2 100.6 753.2 101.1 753.2 101.5 753.2 101.9 753.2 102.3 753.2 102.7 753.2 103.1 753.2 103.5 753.2 104 753.2 104.4 753.2 104.8 753.2 105.2 753.2 105.6 753.2 106 753.2 106.5 753.2 106.9 753.2 107.3 753.2 107.7 753.2M83.2 770.7 83.6 770.7 84 770.7 84.4 770.7 84.9 770.7 85.3 770.7 85.7 770.7 86.1 770.7 86.5 770.7 86.9 770.7 87.4 770.7 87.8 770.7 88.2 770.7 88.6 770.7 89 770.7 89.4 770.7 89.8 770.7 90.3 770.7 90.7 770.7 91.1 770.7 91.5 770.7 91.9 770.7 92.3 770.7 92.8 770.7 93.2 770.8 93.6 770.8 94 770.8 94.4 770.9 94.8 770.9 95.2 771 95.7 771 96.1 771 96.5 771 96.9 771 97.3 770.9 97.7 770.9 98.1 770.8 98.6 770.8 99 770.7 99.4 770.7 99.8 770.7 100.2 770.7 100.6 770.7 101.1 770.7 101.5 770.7 101.9 770.7 102.3 770.7 102.7 770.7 103.1 770.7 103.5 770.7 104 770.7 104.4 770.7 104.8 770.7 105.2 770.7 105.6 770.7 106 770.7 106.5 770.7 106.9 770.7 107.3 770.7 107.7 770.7M83.2 788.2 83.6 788.2 84 788.2 84.4 788.2 84.9 788.2 85.3 788.2 85.7 788.2 86.1 788.2 86.5 788.2 86.9 788.2 87.4 788.2 87.8 788.2 88.2 788.2 88.6 788.2 89 788.2 89.4 788.2 89.8 788.2 90.3 788.2 90.7 788.2 91.1 788.2 91.5 788.2 91.9 788.2 92.3 788.2 92.8 788.2 93.2 788.2 93.6 788.2 94 788.3 94.4 788.3 94.8 788.3 95.2 788.4 95.7 788.4 96.1 788.4 96.5 788.4 96.9 788.3 97.3 788.3 97.7 788.3 98.1 788.2 98.6 788.2 99 788.2 99.4 788.2 99.8 788.2 100.2 788.2 100.6 788.2 101.1 788.2 101.5 788.2 101.9 788.2 102.3 788.2 102.7 788.2 103.1 788.2 103.5 788.2 104 788.2 104.4 788.2 104.8 788.2 105.2 788.2 105.6 788.2 106 788.2 106.5 788.2 106.9 788.2 107.3 788.2 107.7 788.2M83.2 805.6 83.6 805.6 84 805.6 84.4 805.6 84.9 805.7 85.3 805.7 85.7 805.7 86.1 805.7 86.5 805.7 86.9 805.7 87.4 805.7 87.8 805.7 88.2 805.7 88.6 805.7 89 805.7 89.4 805.7 89.8 805.7 90.3 805.7 90.7 805.7 91.1 805.7 91.5 805.7 91.9 805.7 92.3 805.7 92.8 805.7 93.2 805.7 93.6 805.7 94 805.7 94.4 805.8 94.8 805.8 95.2 805.8 95.7 805.8 96.1 805.8 96.5 805.8 96.9 805.8 97.3 805.8 97.7 805.7 98.1 805.7 98.6 805.7 99 805.7 99.4 805.7 99.8 805.7 100.2 805.7 100.6 805.7 101.1 805.7 101.5 805.7 101.9 805.7 102.3 805.7 102.7 805.7 103.1 805.7 103.5 805.7 104 805.7 104.4 805.7 104.8 805.7 105.2 805.7 105.6 805.7 106 805.7 106.5 805.7 106.9 805.7 107.3 805.6 107.7 805.6M83.2 823.1 83.6 823.1 84 823.1 84.4 823.1 84.9 823.1 85.3 823.1 85.7 823.1 86.1 823.1 86.5 823.1 86.9 823.1 87.4 823.1 87.8 823.1 88.2 823.1 88.6 823.1 89 823.1 89.4 823.1 89.8 823.1 90.3 823.1 90.7 823.1 91.1 823.1 91.5 823.1 91.9 823.1 92.3 823.1 92.8 823.1 93.2 823.2 93.6 823.2 94 823.2 94.4 823.2 94.8 823.3 95.2 823.3 95.7 823.3 96.1 823.3 96.5 823.3 96.9 823.3 97.3 823.2 97.7 823.2 98.1 823.2 98.6 823.2 99 823.1 99.4 823.1 99.8 823.1 100.2 823.1 100.6 823.1 101.1 823.1 101.5 823.1 101.9 823.1 102.3 823.1 102.7 823.1 103.1 823.1 103.5 823.1 104 823.1 104.4 823.1 104.8 823.1 105.2 823.1 105.6 823.1 106 823.1 106.5 823.1 106.9 823.1 107.3 823.1 107.7 823.1M83.2 840.6 83.6 840.6 84 840.6 84.4 840.6 84.9 840.6 85.3 840.6 85.7 840.6 86.1 840.6 86.5 840.6 86.9 840.6 87.4 840.6 87.8 840.6 88.2 840.6 88.6 840.6 89 840.6 89.4 840.6 89.8 840.6 90.3 840.6 90.7 840.6 91.1 840.6 91.5 840.6 91.9 840.6 92.3 840.6 92.8 840.6 93.2 840.6 93.6 840.6 94 840.7 94.4 840.7 94.8 840.7 95.2 840.8 95.7 840.8 96.1 840.8 96.5 840.8 96.9 840.8 97.3 840.7 97.7 840.7 98.1 840.7 98.6 840.6 99 840.6 99.4 840.6 99.8 840.6 100.2 840.6 100.6 840.6 101.1 840.6 101.5 840.6 101.9 840.6 102.3 840.6 102.7 840.6 103.1 840.6 103.5 840.6 104 840.6 104.4 840.6 104.8 840.6 105.2 840.6 105.6 840.6 106 840.6 106.5 840.6 106.9 840.6 107.3 840.6 107.7 840.6M83.2 858.1 83.6 858.1 84 858.1 84.4 858.1 84.9 858.1 85.3 858.1 85.7 858.1 86.1 858.1 86.5 858.1 86.9 858.1 87.4 858.1 87.8 858.1 88.2 858.1 88.6 858.1 89 858.1 89.4 858.1 89.8 858.1 90.3 858.1 90.7 858.1 91.1 858.1 91.5 858.1 91.9 858.1 92.3 858.1 92.8 858.1 93.2 858.1 93.6 858.1 94 858.1 94.4 858.2 94.8 858.2 95.2 858.2 95.7 858.3 96.1 858.3 96.5 858.2 96.9 858.2 97.3 858.2 97.7 858.2 98.1 858.1 98.6 858.1 99 858.1 99.4 858.1 99.8 858.1 100.2 858.1 100.6 858.1 101.1 858.1 101.5 858.1 101.9 858.1 102.3 858.1 102.7 858.1 103.1 858.1 103.5 858.1 104 858.1 104.4 858.1 104.8 858.1 105.2 858.1 105.6 858.1 106 858.1 106.5 858.1 106.9 858.1 107.3 858.1 107.7 858.1M83.2 875.5 83.6 875.5 84 875.5 84.4 875.5 84.9 875.5 85.3 875.5 85.7 875.5 86.1 875.5 86.5 875.5 86.9 875.5 87.4 875.5 87.8 875.5 88.2 875.5 88.6 875.5 89 875.5 89.4 875.5 89.8 875.5 90.3 875.5 90.7 875.5 91.1 875.5 91.5 875.5 91.9 875.5 92.3 875.5 92.8 875.5 93.2 875.6 93.6 875.6 94 875.6 94.4 875.6 94.8 875.7 95.2 875.7 95.7 875.7 96.1 875.7 96.5 875.7 96.9 875.7 97.3 875.7 97.7 875.6 98.1 875.6 98.6 875.6 99 875.6 99.4 875.5 99.8 875.5 100.2 875.5 100.6 875.5 101.1 875.5 101.5 875.5 101.9 875.5 102.3 875.5 102.7 875.5 103.1 875.5 103.5 875.5 104 875.5 104.4 875.5 104.8 875.5 105.2 875.5 105.6 875.5 106 875.5 106.5 875.5 106.9 875.5 107.3 875.5 107.7 875.5" fill="none" stroke="#5cc832" stroke-width="1.3" stroke-linejoin="round"/>
<text x="35" y="898.7" font-size="19.5" text-anchor="middle" fill="#000" >1</text>
<text x="64.7" y="898.7" font-size="19.5" text-anchor="middle" fill="#000" >2</text>
<text x="94.5" y="898.7" font-size="19.5" text-anchor="middle" fill="#000" >3</text>
<text x="23.8" y="918.2" font-size="19.5" text-anchor="start" fill="#000" >Neurons</text>
<text x="17.6" y="706.8" font-size="19.2" text-anchor="middle" transform="rotate(-90 17.6 706.8)" >Electrodes</text>
<path d="M111 899.3V885.5H130.8" fill="none" stroke="#000" stroke-width="5.9"/>
<text x="135.6" y="896.6" font-size="19.6" text-anchor="start" fill="#000" >3.5 ms</text>
<text x="106.8" y="918.2" font-size="19.8" text-anchor="start" fill="#000" >10 <tspan font-style="italic">&#956;</tspan>V</text>
<text x="2.9" y="14.5" font-size="20" text-anchor="start" font-weight="bold" fill="#000" >a</text>
<text x="2.9" y="96.6" font-size="20" text-anchor="start" font-weight="bold" fill="#000" >c</text>
<text x="480.8" y="106.5" font-size="19" text-anchor="start" font-weight="bold" fill="#000" >b</text>
<text x="2.6" y="310.5" font-size="20" text-anchor="start" font-weight="bold" fill="#000" >d</text>
<text x="101.2" y="310.4" font-size="20" text-anchor="start" font-weight="bold" fill="#000" >e</text>
<text x="2.4" y="537.6" font-size="20" text-anchor="start" font-weight="bold" fill="#000" >f</text>
<text x="126.2" y="537.6" font-size="20" text-anchor="start" font-weight="bold" fill="#000" >g</text>
<text x="126.2" y="718.9" font-size="20" text-anchor="start" font-weight="bold" fill="#000" >h</text>
<text x="2.4" y="946.4" font-size="20" text-anchor="start" font-weight="bold" fill="#000" >i</text>
<text x="231.2" y="946.4" font-size="20" text-anchor="start" font-weight="bold" fill="#000" >j</text>
</svg>
</body></html>
